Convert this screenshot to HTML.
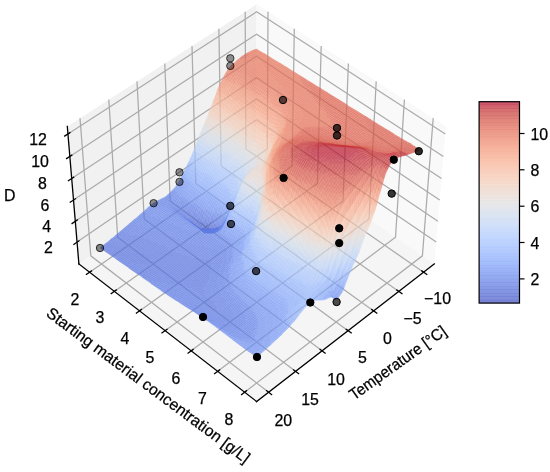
<!DOCTYPE html>
<html><head><meta charset="utf-8"><title>D surface</title><style>html,body{margin:0;padding:0;background:#fff}body{width:550px;height:472px;overflow:hidden;position:relative}</style></head><body>
<svg width="550" height="472" viewBox="0 0 550 472" style="display:block;position:absolute;left:0;top:0">
<rect width="550" height="472" fill="#fff"/>
<polygon points="78.9,264 256.6,141.5 256.6,4.3 67.3,126.4" fill="#f1f1f1"/>
<polygon points="256.6,141.5 434.3,264 445.9,126.4 256.6,4.3" fill="#f9f9f9"/>
<polygon points="78.9,264 256.6,401.5 434.3,264 256.6,141.5" fill="#f5f5f5"/>
<g stroke="#ababab" stroke-width="1.25" fill="none" stroke-linecap="butt">
<polyline points="89.6,272.3 267.3,148.9 268,11.7"/>
<polyline points="114.3,291.4 292.1,166 294.3,28.7"/>
<polyline points="139.5,310.9 317.4,183.4 321.2,46"/>
<polyline points="165.1,330.7 343,201.1 348.4,63.5"/>
<polyline points="191.1,350.8 369,219 376.2,81.4"/>
<polyline points="217.7,371.3 395.5,237.2 404.4,99.6"/>
<polyline points="244.6,392.2 422.4,255.8 433.2,118.1"/>
<polyline points="268.6,392.2 90.8,255.8 80,118.1"/>
<polyline points="295.5,371.3 117.7,237.2 108.8,99.6"/>
<polyline points="322.1,350.8 144.2,219 137,81.4"/>
<polyline points="348.1,330.7 170.2,201.1 164.8,63.5"/>
<polyline points="373.7,310.9 195.8,183.4 192,46"/>
<polyline points="398.9,291.4 221.1,166 218.9,28.7"/>
<polyline points="423.6,272.3 245.9,148.9 245.2,11.7"/>
<polyline points="77,242.1 256.6,119.7 436.2,242.1"/>
<polyline points="75.3,221.3 256.6,98.9 437.9,221.3"/>
<polyline points="73.5,200.1 256.6,77.7 439.7,200.1"/>
<polyline points="71.7,178.5 256.6,56.2 441.5,178.5"/>
<polyline points="69.8,156.4 256.6,34.2 443.4,156.4"/>
<polyline points="67.9,133.9 256.6,11.8 445.3,133.9"/>
</g>
<g transform="scale(.5)" fill-opacity="0.63" stroke="none">
<path fill="#e36b54" d="M513 98l3 2 3 2 4 2 3 2 3 1 3 2 3 2 3 2 3 2 3 2 3 2 4 2 3 2 3 2 3 1 3 2 3 2 3 2 4 2 3 2 3 2 3 2 3 2 3 2 4 2 3 2 3 2 3 2 3 2 4 2 3 2 3 2 3 2-3 2-3-2-3-2-4-2-3-2-3-2-3-2-3-2-3-2-4-2-3-2-3-2-3-2-3-1-3-2-4-2-3-2-3-2-3-2-3-2-3-2-4-2-3-2-3-2-3-2-3-2-3-2-3-2-3-2-3-2-4-2-3-2-3-2-3-2z"/>
<path fill="#df634e" d="M617 162l3 2 4 2 3 2 3 2 3 2 4 2 3 2 3 2 3 2 3 2 4 2 3 2 3 2 3 2 4 2 3 2 3 2 4 2 3 2 3 2 3 2 4 2 3 3 3 2 3 2 4 2 3 2 3 2 4 2 3 2 3 2 4 2 3 2 3 2-3 3-3-3-3-2-4-2-3-2-3-2-4-2-3-2-3-2-4-2-3-2-3-2-3-2-4-2-3-2-3-2-4-2-3-2-3-2-3-2-4-2-3-3-3-2-3-2-4-2-3-2-3-2-3-2-4-2-3-2-3-2-3-2-3-2-4-2-3-2z"/>
<path fill="#da5a49" d="M728 231l4 2 3 2 3 2 4 2 3 3 3 2 4 2 3 2 3 2 4 2 3 2 3 2 4 2 3 2 4 2 3 2 3 2 4 3 3 2 4 2 3 2 3 2 4 2 3 2-3 2-3-2-4-2-3-2-3-2-4-2-3-2-4-2-3-2-3-2-4-2-3-2-4-3-3-2-3-2-4-2-3-2-3-2-4-2-3-2-3-2-4-2-3-2-3-2-4-2z"/>
<path fill="#d65244" d="M809 281l4 2 3 2 4 1 3 3 3 2 4 2 3 3 4 2 3 3-3 1-3-3-4-2-3-3-4-2-3-2-3-2-4-1-3-2-4-2z"/>
<path fill="#e36b54" d="M510 99l3 2 3 2 3 2 4 2 3 2 3 2 3 2 3 2 3 2 3 2 3 2 3 2 4 2 3 2 3 2 3 2 3 2 3 2 4 2 3 2 3 1 3 2 3 2 3 2 4 2 3 2 3 2 3 2 3 2 3 2 4 2 3 2 3 2 3 2-3 3-3-2-3-2-3-2-4-2-3-2-3-2-3-2-3-2-4-2-3-2-3-2-3-2-3-2-3-2-4-2-3-2-3-2-3-2-3-2-3-2-3-2-4-2-3-2-3-2-3-2-3-2-3-2-3-2-3-2-4-2-3-2-3-3-3-2-3-2z"/>
<path fill="#df634e" d="M617 166l4 2 3 2 3 2 3 2 3 2 4 2 3 2 3 2 3 2 4 2 3 2 3 2 3 3 4 2 3 2 3 2 3 2 4 2 3 2 3 2 4 2 3 2 3 2 3 2 4 2 3 2 3 2 4 2 3 2 3 2 4 2 3 2 3 3 4 2-4 2-3-2-3-2-4-2-3-2-3-2-4-2-3-3-3-2-3-2-4-2-3-2-3-2-4-2-3-2-3-2-3-2-4-2-3-2-3-2-4-2-3-2-3-2-3-2-4-2-3-2-3-2-3-2-3-2-4-2-3-2-3-2-3-2-4-2-3-2z"/>
<path fill="#da5a49" d="M729 236l3 2 3 2 4 2 3 2 3 2 4 2 3 2 3 2 4 2 3 2 3 2 4 3 3 2 4 2 3 2 3 2 4 2 3 2 4 2 3 2 3 2 4 2 3 2-3 2-3-2-4-2-3-2-4-2-3-2-3-2-4-2-3-2-4-2-3-2-3-2-4-2-3-2-3-2-4-2-3-2-4-3-3-2-3-2-4-2-3-2-3-2-4-2z"/>
<path fill="#d65244" d="M806 283l4 2 3 2 4 1 3 2 3 2 4 2 3 3 4 2 3 3-3 1-3-3-4-2-3-2-4-2-3-2-4-2-3-1-3-2-4-2z"/>
<path fill="#e36b54" d="M507 100l3 2 3 2 3 3 3 2 4 2 3 2 3 2 3 2 3 2 3 2 3 2 3 2 4 2 3 2 3 2 3 2 3 2 3 2 3 2 4 2 3 2 3 2 3 2 3 2 3 2 4 2 3 2 3 2 3 2 3 2 4 2 3 2 3 2 3 2 3 2 4 2-3 2-4-2-3-2-3-2-3-2-4-2-3-2-3-2-3-2-3-2-3-2-4-2-3-2-3-2-3-2-3-2-4-2-3-2-3-2-3-2-3-2-3-2-3-2-4-2-3-2-3-2-3-2-3-1-3-2-3-2-3-3-4-2-3-2-3-3-3-2-3-2-3-3z"/>
<path fill="#df634e" d="M621 173l3 2 3 2 3 2 4 2 3 2 3 2 3 2 3 2 4 2 3 2 3 2 3 2 4 2 3 2 3 2 4 2 3 2 3 2 3 2 4 2 3 2 3 2 4 2 3 2 3 2 3 3 4 2 3 2 3 2 4 2 3 2 3 2 4 2 3 2-3 3-3-3-4-2-3-2-3-2-4-2-3-2-3-2-4-2-3-2-3-2-4-2-3-2-3-2-3-2-4-2-3-2-3-3-4-2-3-2-3-2-3-2-4-2-3-2-3-2-3-2-4-2-3-2-3-2-3-2-4-2-3-2-3-2-3-2-3-2z"/>
<path fill="#da5a49" d="M732 242l3 2 4 2 3 2 3 2 4 3 3 2 4 2 3 2 3 2 4 2 3 2 3 2 4 2 3 2 4 2 3 2 3 2 4 2 3 2 4 2 3 2-3 2-3-2-4-2-3-2-4-2-3-2-4-2-3-2-3-2-4-2-3-2-3-2-4-2-3-2-4-2-3-2-3-2-4-2-3-2-3-2-4-2-3-2z"/>
<path fill="#d65244" d="M803 285l4 2 3 2 3 1 4 2 3 2 4 2 3 2 4 2 3 3-3 1-3-3-4-2-3-2-4-2-3-1-4-2-3-1-4-2-3-2z"/>
<path fill="#e36b54" d="M504 101l3 3 3 2 3 2 3 3 3 2 4 2 3 3 3 2 3 2 3 1 3 2 3 2 3 2 4 2 3 2 3 2 3 2 3 2 3 2 3 2 4 2 3 2 3 2 3 2 3 2 4 2 3 2 3 2 3 2 3 2 3 2 4 2 3 2 3 2 3 2 4 2 3 2 3 2-3 2-3-2-4-2-3-2-3-2-3-2-3-2-4-2-3-2-3-2-3-2-3-2-4-2-3-2-3-2-3-2-3-2-3-2-4-2-3-1-3-2-3-2-3-2-3-2-4-2-3-2-3-2-3-2-3-2-3-2-3-2-3-2-4-3-3-2-3-2-3-3-3-3-3-2-3-2z"/>
<path fill="#df634e" d="M624 179l3 2 3 2 4 2 3 2 3 2 3 2 4 2 3 2 3 2 3 2 4 2 3 2 3 2 3 2 4 2 3 3 3 2 4 2 3 2 3 2 3 2 4 2 3 2 3 2 4 2 3 2 3 2 4 2 3 2 3 2 4 2 3 3 3 2 4 2-3 2-4-2-3-2-4-2-3-2-3-2-3-2-4-2-3-2-3-3-4-2-3-2-3-2-4-2-3-2-3-2-4-2-3-2-3-2-3-2-4-2-3-2-3-2-3-2-4-2-3-2-3-2-4-2-3-2-3-2-3-2-3-3-4-2-3-2-3-2z"/>
<path fill="#da5a49" d="M736 249l3 2 3 2 4 2 3 2 3 2 4 2 3 2 4 2 3 2 3 2 4 2 3 2 3 2 4 2 3 2 4 2 3 2 4 2-4 2-3-2-3-2-4-1-3-2-4-2-3-2-3-2-4-2-3-2-4-2-3-2-3-2-4-2-3-2-3-3-4-2-3-2-3-2z"/>
<path fill="#d65244" d="M797 285l3 2 3 2 4 2 3 1 4 2 3 1-3 2-3-2-4-1-3-2-4-1-3-2-4-2z"/>
<path fill="#d24b40" d="M817 295l4 2 3 2 4 2 3 3-3 1-3-3-4-2-3-2-4-1z"/>
<path fill="#e36b54" d="M501 103l3 2 3 2 3 3 3 3 3 2 3 2 4 3 3 2 3 2 3 2 3 2 3 2 3 2 3 2 4 2 3 2 3 2 3 2 3 2 3 1 4 2 3 2 3 2 3 2 3 2 3 2 4 2 3 2 3 2 3 2 3 2 4 2 3 2 3 2 3 2 3 2 4 2 3 2 3 2 3 2 4 2-4 3-3-2-3-2-3-2-3-2-4-2-3-2-3-2-3-2-4-2-3-2-3-2-3-2-3-2-4-2-3-2-3-2-3-2-3-2-3-2-4-2-3-2-3-2-3-2-3-2-3-2-4-2-3-2-3-2-3-2-3-2-3-2-3-2-3-2-4-2-3-2-3-3-3-3-3-2-3-3-3-2-3-3z"/>
<path fill="#df634e" d="M631 187l3 3 3 2 3 2 3 2 4 2 3 2 3 2 4 2 3 2 3 2 3 2 4 2 3 2 3 2 3 2 4 2 3 2 3 2 4 2 3 2 3 2 4 2 3 3 3 2 4 2 3 2 3 2 3 2 4 2 3 2 4 2 3 2 3 2-3 3-3-2-4-2-3-2-3-2-4-3-3-2-3-2-4-2-3-2-3-2-4-2-3-2-3-2-3-2-4-2-3-2-3-2-4-2-3-3-3-2-4-2-3-2-3-2-3-2-4-2-3-2-3-2-3-2-4-2-3-2-3-2-3-2-4-2z"/>
<path fill="#da5a49" d="M739 255l4 2 3 3 3 2 4 2 3 2 3 2 4 2 3 2 4 2 3 2 3 2 4 2 3 2 4 1 3 2 3 2-3 2-3-2-3-1-4-2-3-2-4-2-3-2-4-2-3-2-3-2-4-2-3-2-3-2-4-2-3-2-4-2-3-2z"/>
<path fill="#d65244" d="M793 287l4 2 3 2 4 1 3 2 4 1-3 2-4-1-3-2-4-1-3-2-4-2z"/>
<path fill="#d24b40" d="M811 295l3 2 4 1 3 2 4 2 3 3-3 1-3-3-4-2-3-2-4-1-3-1z"/>
<path fill="#e36b54" d="M498 104l3 3 3 2 3 3 3 2 3 3 3 3 3 2-3 2-3-2-3-3-3-2-3-3-3-3-3-3-3-2z"/>
<path fill="#e67259" d="M519 122l4 2 3 2 3 2-3 3-3-2-4-2-3-3z"/>
<path fill="#e36b54" d="M529 128l3 2 3 2 3 2 3 2 3 2 4 2 3 2 3 2 3 2 3 2 3 2 4 2 3 2 3 2 3 2 3 2 3 2 4 2 3 2 3 2 3 2 3 2 4 2 3 2 3 2 3 2 4 2 3 2 3 2 3 2 3 2 4 2 3 2 3 2-3 3-3-3-3-2-4-2-3-2-3-2-3-2-4-2-3-2-3-2-3-2-3-2-4-2-3-2-3-2-3-2-3-2-4-2-3-2-3-2-3-2-3-2-4-2-3-2-3-2-3-2-3-2-3-2-3-2-4-2-3-2-3-1-3-2-3-2-3-2z"/>
<path fill="#df634e" d="M637 196l3 2 4 2 3 2 3 2 3 2 4 2 3 2 3 2 3 2 4 2 3 2 3 3 4 2 3 2 3 2 4 2 3 2 3 2 3 2 4 2 3 2 3 2 4 2 3 2 3 2 4 3 3 2 3 2 4 2 3 2 3 2 4 2-3 3-4-3-3-2-3-2-4-2-3-2-3-2-4-2-3-2-3-2-4-2-3-2-3-2-4-3-3-2-3-2-4-2-3-2-3-2-4-2-3-2-3-2-3-2-4-2-3-2-3-2-3-2-4-2-3-2-3-2-3-2-4-2-3-2z"/>
<path fill="#da5a49" d="M743 262l3 2 4 2 3 2 3 2 4 2 3 2 3 2 4 2 3 2 4 2 3 2 4 2 3 1-3 3-4-2-3-2-3-2-4-2-3-2-4-2-3-2-3-1-4-2-3-2-4-2-3-2-3-2z"/>
<path fill="#d65244" d="M787 287l3 2 4 2 3 2 4 1 3 2-3 1-3-1-4-1-3-2-4-2-3-1z"/>
<path fill="#d24b40" d="M804 296l4 1 3 1 4 1 3 2 4 2 3 3-3 1-3-2-4-3-3-1-4-2-3-1-4-1z"/>
<path fill="#e36b54" d="M495 106l3 2 3 3 3 3 3 3 3 2 3 3-3 2-3-2-3-3-3-3-3-3-3-3-4-2z"/>
<path fill="#e67259" d="M513 122l3 2 3 3 4 2 3 2 3 2 3 2 3 2-3 2-3-2-3-2-3-2-4-2-3-2-3-2-3-3z"/>
<path fill="#e36b54" d="M535 137l3 1 3 2 4 2 3 2 3 2 3 2 3 2 3 2 3 2 4 2 3 2 3 2 3 2 3 2 4 2 3 2 3 2 3 2 3 2 4 2 3 2 3 2 3 2 3 2 4 2 3 2 3 2 3 2 4 2 3 2 3 3 3 2 4 2 3 2-3 2-4-2-3-2-3-2-3-2-4-2-3-2-3-2-3-2-4-2-3-2-3-2-3-2-3-2-4-2-3-2-3-2-3-2-3-2-4-2-3-2-3-2-3-2-3-2-3-2-4-2-3-2-3-2-3-2-3-2-3-2-4-2-3-2-3-2-3-2z"/>
<path fill="#df634e" d="M644 205l3 2 3 2 4 2 3 2 3 2 3 2 4 2 3 2 3 2 3 2 4 2 3 2 3 2 4 2 3 2 3 2 4 3 3 2 3 2 4 2 3 2 3 2 4 2 3 2 3 2 4 2 3 2 3 2 4 3 3 2 3 2-3 2-3-2-3-2-4-2-3-2-4-2-3-2-3-2-4-2-3-2-3-3-4-2-3-2-3-2-4-2-3-2-3-2-3-2-4-2-3-2-3-2-4-2-3-2-3-2-4-3-3-2-3-2-3-2-4-2-3-2-3-2-3-2z"/>
<path fill="#da5a49" d="M746 269l4 2 3 2 4 2 3 1 3 2 4 2 3 2 4 2 3 2 3 2 4 2-3 1-4-1-3-2-4-2-3-2-3-2-4-1-3-2-4-2-3-2-3-2-4-2z"/>
<path fill="#d65244" d="M784 290l3 1 4 2 3 2 4 1 3 1-3 2-3-1-4-2-3-1-4-2-3-2z"/>
<path fill="#d24b40" d="M801 297l4 1 3 1 4 2 3 1-3 2-3-2-4-1-3-1-4-1z"/>
<path fill="#cc403a" d="M815 302l4 3 3 2-3 1-3-2-4-2z"/>
<path fill="#df634e" d="M491 108l4 2-4 2-3-2z"/>
<path fill="#e36b54" d="M495 110l3 3 3 3 3 3 3 3 3 2-3 3-3-3-3-3-3-3-3-3-4-3z"/>
<path fill="#e67259" d="M510 124l3 3 3 2 3 2 4 2 3 2 3 2 3 2 3 2 3 2 3 2-3 2-3-2-3-2-3-2-3-2-3-2-4-1-3-2-3-2-3-3-3-2z"/>
<path fill="#e36b54" d="M541 145l4 2 3 2 3 2 3 2 3 2 3 2 4 2 3 2 3 2 3 2 3 2 3 2 4 2 3 2 3 2 3 2 3 2 4 2 3 2 3 2 3 2 3 2 4 2 3 2 3 2 3 2 4 2 3 2 3 2 3 2 4 2 3 2 3 2 3 2-3 3-3-2-3-2-4-2-3-2-3-2-3-2-3-2-4-3-3-2-3-2-3-2-4-2-3-2-3-2-3-2-4-2-3-2-3-2-3-2-3-2-4-2-3-2-3-2-3-2-3-2-3-2-4-2-3-2-3-2-3-2-3-2-3-2-4-2-3-2z"/>
<path fill="#df634e" d="M650 213l4 2 3 2 3 2 3 2 4 3 3 2 3 2 4 2 3 2 3 2 4 2 3 2 3 2 3 2 4 2 3 2 3 2 4 2 3 3 3 2 4 2 3 2 3 2 4 2 3 2 4 2 3 2 3 2 4 2-3 2-4-1-3-2-4-2-3-3-3-2-4-2-3-2-3-2-4-2-3-2-3-2-4-2-3-2-3-2-4-2-3-2-3-2-4-3-3-2-3-2-3-2-4-2-3-2-3-2-4-2-3-2-3-2-3-2-4-2z"/>
<path fill="#da5a49" d="M747 273l3 2 3 2 4 2 3 2 4 1 3 2 3 2 4 2 3 2-3 2-3-2-4-2-3-2-3-1-4-2-3-2-4-2-3-2-3-2z"/>
<path fill="#d65244" d="M777 290l4 1 3 2 4 2 3 1 4 2-4 1-3-1-3-1-4-2-3-2-4-1z"/>
<path fill="#d24b40" d="M795 298l3 1 4 1 3 1-3 1-4-1-3-1-4-1z"/>
<path fill="#cc403a" d="M805 301l4 1 3 2 4 2 3 2-3 1-4-2-3-2-3-2-4-1z"/>
<path fill="#df634e" d="M488 110l3 2-3 2-3-2z"/>
<path fill="#e36b54" d="M491 112l4 3 3 3 3 3 3 3-3 2-3-3-4-3-3-3-3-3z"/>
<path fill="#e67259" d="M504 124l3 3 3 2 3 3 3 2 3 2 4 1 3 2 3 2 3 2 3 2 3 2 3 2 4 2 3 2 3 2-3 3-3-2-4-2-3-2-3-2-3-2-3-2-3-2-3-2-4-2-3-2-3-2-3-2-3-2-3-3-3-3z"/>
<path fill="#e36b54" d="M551 155l3 2 3 2 3 2 4 2 3 2 3 2 3 2 3 2 3 2 4 2 3 2 3 2 3 2 3 2 4 2 3 2 3 2 3 2 4 2 3 2 3 2 3 2 4 3 3 2 3 2 3 2 3 2 4 2 3 2 3 2 4 2 3 2 3 2 3 2-3 3-3-2-3-3-4-2-3-2-3-2-3-2-4-2-3-2-3-2-3-2-4-2-3-2-3-2-3-2-4-2-3-2-3-2-3-2-3-2-4-2-3-2-3-2-3-2-3-2-4-2-3-2-3-2-3-2-3-2-4-2-3-2-3-2-3-2-3-2z"/>
<path fill="#df634e" d="M660 224l4 2 3 2 3 2 4 2 3 2 3 2 3 2 4 3 3 2 3 2 4 2 3 2 3 2 4 2 3 2 3 2 4 2 3 2 3 2 4 2 3 2 3 3 4 2 3 2 4 1-4 3-3-2-3-2-4-2-3-2-3-2-4-2-3-2-3-2-4-2-3-2-4-2-3-3-3-2-3-2-4-2-3-2-3-2-4-2-3-2-3-2-4-2-3-2-3-2-3-2-4-2z"/>
<path fill="#da5a49" d="M744 275l3 2 3 2 4 2 3 2 4 2 3 1 3 2 4 2-3 2-4-2-3-2-4-1-3-2-3-2-4-2-3-1-4-2z"/>
<path fill="#d65244" d="M771 290l3 2 4 1 3 2 4 2 3 1 3 1-3 2-3-1-4-2-3-1-3-2-4-2-3-1z"/>
<path fill="#d24b40" d="M791 299l4 1 3 1-3 1-3 0-4-1z"/>
<path fill="#cc403a" d="M798 301l4 1 4 1 3 2 3 2 4 2-3 1-4-2-3-2-4-2-3-1-4-1z"/>
<path fill="#e36b54" d="M485 112l3 2 3 3 3 3 4 3 3 3-3 2-4-3-3-3-3-3-3-2-3-3z"/>
<path fill="#e67259" d="M501 126l3 3 3 3 3 2 3 2 3 2 3 2 4 2 3 2 3 2 3 2 3 2 3 2 3 2 4 2 3 2 3 2 3 2 3 2-3 2-3-2-3-2-3-2-4-2-3-2-3-2-3-2-3-2-3-2-3-2-4-2-3-2-3-2-3-2-3-2-3-2-3-3-3-3z"/>
<path fill="#e36b54" d="M557 164l3 2 4 2 3 2 3 2 3 2 3 2 4 2 3 2 3 2 3 2 3 2 4 2 3 2 3 2 3 2 3 2 4 2 3 2 3 2 3 2 4 2 3 2 3 2 3 2 4 2 3 2 3 2 3 2 4 2 3 3 3 2 4 2 3 2 3 2-3 2-3-2-4-2-3-2-3-2-3-2-4-2-3-2-3-2-4-2-3-2-3-2-3-2-4-2-3-2-3-2-3-3-3-2-4-2-3-2-3-2-3-2-4-2-3-2-3-2-3-2-3-2-4-2-3-2-3-2-3-2-3-2-4-2-3-2-3-2z"/>
<path fill="#df634e" d="M667 233l3 2 4 2 3 2 3 2 4 2 3 2 3 2 4 2 3 2 3 2 3 3 4 2 3 2 4 2 3 2 3 2 4 2 3 2 3 2 4 2 3 2 3 2-3 2-3-2-3-2-4-2-3-2-4-2-3-2-3-2-4-2-3-2-3-2-4-2-3-2-3-2-4-2-3-2-3-2-4-2-3-2-3-3-3-2-4-2-3-2z"/>
<path fill="#da5a49" d="M740 278l4 2 3 1 4 2 3 2 3 2 4 1 3 2-3 2-3-2-4-2-3-1-4-2-3-1-3-2-4-2z"/>
<path fill="#d65244" d="M764 290l4 2 3 1 4 2 3 2 3 1 4 2-3 1-4-1-3-2-4-1-3-2-3-2-4-1z"/>
<path fill="#d24b40" d="M785 300l3 1 4 1 3 0-3 2-3-1-4-1-3-1z"/>
<path fill="#cc403a" d="M795 302l4 1 3 1 4 2-3 1-4-2-3-1-4 0z"/>
<path fill="#c73635" d="M806 306l3 2 4 2-3 1-4-2-3-2z"/>
<path fill="#e36b54" d="M482 114l3 3 3 2 3 3 3 3 4 3-4 3-3-3-3-3-3-3-3-3-3-2z"/>
<path fill="#e67259" d="M498 128l3 3 3 3 3 2 3 2 3 2 3 2 3 2 4 2 3 2 3 2 3 2 3 2 3 2 3 2 4 2 3 2 3 2 3 2 3 2 3 2 4 2-3 3-4-2-3-2-3-2-3-2-3-2-3-2-4-2-3-2-3-2-3-2-3-2-3-2-4-2-3-2-3-2-3-2-3-2-3-2-3-2-3-3-4-3z"/>
<path fill="#e36b54" d="M564 172l3 2 3 2 3 2 3 2 4 2 3 2 3 2 3 2 3 2 4 2 3 2 3 2 3 2 4 2 3 2 3 3 3 2 3 2 4 2 3 2 3 2 3 2 4 2 3 2 3 2 4 2 3 2 3 2 3 2 4 2 3 2 3 2 4 2-4 3-3-2-3-2-3-2-4-2-3-2-3-2-4-2-3-3-3-2-3-2-4-2-3-2-3-2-3-2-4-2-3-2-3-2-3-2-4-2-3-2-3-2-3-2-3-2-4-2-3-2-3-2-3-2-4-2-3-2-3-2-3-2-3-2-3-2z"/>
<path fill="#df634e" d="M671 239l3 2 3 3 3 2 4 2 3 2 3 2 4 2 3 2 3 2 4 2 3 2 3 2 4 2 3 2 3 2 4 2 3 2 4 2 3 2 3 2-3 2-3-2-4-1-3-2-3-2-4-2-3-2-3-2-4-2-3-2-3-2-4-3-3-2-3-2-4-2-3-2-3-2-4-2-3-2-3-2-4-2z"/>
<path fill="#da5a49" d="M737 280l4 2 3 2 3 1 4 2 3 1 4 2-3 2-4-2-3-1-4-2-3-1-3-2-4-2z"/>
<path fill="#d65244" d="M758 290l3 2 4 1 3 2 3 2 4 1 3 2-3 1-3-1-4-2-3-1-4-2-3-2-3-1z"/>
<path fill="#d24b40" d="M778 300l4 1 3 1 4 1-3 1-4 0-3-2-4-1z"/>
<path fill="#cc403a" d="M789 303l3 1 4 0 3 1-3 1-3-1-4 0-3-1z"/>
<path fill="#c73635" d="M799 305l4 2 3 2 4 2-3 1-4-3-3-1-4-2z"/>
<path fill="#e36b54" d="M479 117l3 2 3 3 3 3 3 3-3 2-3-3-3-3-3-3-3-2z"/>
<path fill="#e67259" d="M491 128l3 3 4 3 3 3 3 2 3 2 3 2 3 2 3 2 3 2 4 2 3 2 3 2 3 2 3 2 3 2 4 2 3 2 3 2 3 2 3 2 3 2 4 2 3 2 3 2 3 2-3 2-3-2-3-2-4-2-3-2-3-2-3-2-3-2-3-2-4-2-3-2-3-2-3-2-3-2-3-2-4-2-3-2-3-2-3-2-3-2-3-2-3-2-3-2-4-3-3-3-3-3z"/>
<path fill="#e36b54" d="M570 181l3 2 3 2 4 2 3 2 3 2 3 2 4 2 3 2 3 2 3 2 3 2 4 2 3 2 3 2 3 2 4 2 3 2 3 2 3 2 4 2 3 2 3 2 3 3 4 2 3 2 3 2 4 2 3 2 3 2 3 2 4 2 3 2-3 2-3-2-4-2-3-2-3-2-4-2-3-2-3-2-3-2-4-2-3-2-3-2-4-2-3-2-3-2-3-2-4-2-3-2-3-2-3-3-4-2-3-2-3-2-3-2-3-2-4-2-3-2-3-2-3-2-3-2-4-2-3-2-3-2z"/>
<path fill="#df634e" d="M674 246l3 2 4 2 3 2 3 2 4 2 3 2 3 2 4 3 3 2 3 2 4 2 3 2 3 2 4 2 3 2 3 2 4 1 3 2-3 2-3-1-4-2-3-2-4-2-3-2-3-2-4-2-3-2-3-2-4-2-3-2-3-2-4-2-3-2-3-2-4-2-3-2-3-3z"/>
<path fill="#da5a49" d="M734 282l4 2 3 2 3 1 4 2 3 1-3 2-3-2-4-1-3-2-4-1-3-2z"/>
<path fill="#d65244" d="M751 290l4 2 3 1 3 2 4 2 3 1 4 2-3 1-4-1-3-2-4-2-3-1-3-2-4-1z"/>
<path fill="#d24b40" d="M772 300l3 1 4 1 3 2 4 0-3 1-4 0-3-1-4-2-3-1z"/>
<path fill="#cc403a" d="M786 304l3 1 4 0-3 1-4 0-3-1z"/>
<path fill="#c73635" d="M793 305l3 1 4 2 3 1 4 3-3 0-4-2-3-2-4-1-3-1z"/>
<path fill="#e36b54" d="M476 119l3 2 3 3 3 3 3 3-3 3-3-3-3-3-3-3-3-2z"/>
<path fill="#e67259" d="M488 130l3 3 3 3 4 3 3 2 3 2 3 2 3 2 3 2 3 2 3 2 4 2 3 2 3 2 3 2 3 2 3 2 4 2 3 2 3 2 3 2 3 2 3 2 4 2 3 2 3 2 3 2 3 2 4 2 3 2-3 3-4-2-3-2-3-2-3-2-3-2-4-2-3-2-3-2-3-2-3-2-3-2-4-2-3-2-3-2-3-2-3-2-3-2-4-2-3-2-3-2-3-2-3-2-3-2-3-2-3-2-4-3-3-2-3-3-3-3z"/>
<path fill="#e36b54" d="M580 191l3 2 3 2 3 2 4 2 3 2 3 2 3 2 3 2 4 2 3 3 3 2 3 2 4 2 3 2 3 2 3 2 4 2 3 2 3 2 4 2 3 2 3 2 3 2 4 2 3 2 3 2 4 2 3 2 3 3 3 2-3 2-3-2-3-2-4-2-3-2-3-2-3-2-4-2-3-2-3-2-4-2-3-3-3-2-3-2-4-2-3-2-3-2-3-2-4-2-3-2-3-2-3-2-4-2-3-2-3-2-3-2-4-2-3-2-3-2-3-2-3-2z"/>
<path fill="#df634e" d="M677 253l4 2 3 2 3 2 4 2 3 2 3 2 4 2 3 2 3 2 4 2 3 2 3 2 4 2 3 2 4 2 3 1-3 2-4-1-3-2-3-2-4-2-3-2-3-2-4-2-3-2-3-2-4-2-3-2-3-2-4-2-3-2-3-2-4-2z"/>
<path fill="#da5a49" d="M731 284l3 2 4 1 3 2 4 1-3 2-4-2-3-1-4-1-3-2z"/>
<path fill="#d65244" d="M745 290l3 2 4 1 3 2 3 1 4 2 3 2-3 1-3-2-4-1-3-2-4-1-3-2-3-1z"/>
<path fill="#d24b40" d="M765 300l4 1 3 1 4 2 3 1-3 1-3-1-4-1-3-1-4-2z"/>
<path fill="#cc403a" d="M779 305l4 0 3 1-3 1-3 0-4-1z"/>
<path fill="#c73635" d="M786 306l4 0 3 1 4 1-3 1-4-1-3 0-4-1z"/>
<path fill="#c32e31" d="M797 308l3 2 4 2-3 1-4-2-3-2z"/>
<path fill="#e36b54" d="M473 122l3 2 3 3 3 3 3 3-3 2-3-3-3-3-3-2-3-2z"/>
<path fill="#e67259" d="M485 133l3 3 3 3 3 2 4 3 3 2 3 2 3 2 3 2 3 2 3 2 3 2 4 2 3 2 3 2 3 2 3 2 3 2 4 2 3 2 3 2 3 2 3 2 3 2 4 2 3 2 3 2 3 2 3 2 4 2 3 2 3 2 3 2 3 2 4 2-3 3-4-2-3-2-3-2-3-2-4-2-3-1-3-2-3-2-3-2-4-2-3-2-3-2-3-2-3-2-3-2-4-2-3-2-3-2-3-3-3-2-3-2-4-2-3-2-3-2-3-2-3-3-3-2-3-2-3-2-4-2-3-2-3-3-3-3-3-3z"/>
<path fill="#e36b54" d="M593 204l3 2 3 2 3 2 4 2 3 2 3 2 3 2 4 2 3 2 3 2 3 2 4 2 3 2 3 2 3 3 4 2 3 2 3 2 4 2 3 2 3 2 3 2 4 2 3 2 3 2-3 2-3-2-3-2-4-2-3-2-3-2-4-2-3-2-3-2-3-2-4-2-3-2-3-2-4-2-3-2-3-2-3-2-4-2-3-2-3-2-3-2-4-2-3-2-3-2-3-2-3-2z"/>
<path fill="#df634e" d="M674 255l4 2 3 2 3 2 4 2 3 2 3 2 4 2 3 2 3 2 4 2 3 2 3 2 4 2 3 2 3 2-3 1-3-1-3-2-4-2-3-2-3-2-4-2-3-2-4-2-3-2-3-2-4-2-3-2-3-2-4-2-3-2z"/>
<path fill="#da5a49" d="M724 285l4 1 3 2 4 1 3 1-3 2-3-2-4-1-3-1-4-2z"/>
<path fill="#d65244" d="M738 290l4 2 3 1 3 2 4 1 3 2-3 0-3-1-4-2-3-1-4-1-3-1z"/>
<path fill="#d24b40" d="M755 298l4 1 3 2 4 2 3 1 4 1-3 1-4-2-3-1-4-1-3-2-4-2z"/>
<path fill="#cc403a" d="M773 305l3 1 4 1 3 0-3 1-3 0-4-1-3-1z"/>
<path fill="#c73635" d="M783 307l4 1 3 0-3 1-3-1-4 0z"/>
<path fill="#c32e31" d="M790 308l4 1 3 2 4 2-3 1-4-2-3-2-4-1z"/>
<path fill="#e36b54" d="M470 125l3 2 3 2 3 3-3 3-3-3-4-2-3-3z"/>
<path fill="#e67259" d="M479 132l3 3 3 3 3 3 3 3 3 2 4 2 3 2 3 2 3 2 3 3 3 2-3 3-3-2-3-2-3-2-3-3-4-2-3-2-3-3-3-2-3-3-3-3-3-3z"/>
<path fill="#e97a5f" d="M513 159l3 2 3 2 4 2 3 2 3 2 3 3 3 2 3 2 4 2 3 2 3 2 3 2 3 2-3 4-3-2-3-2-3-2-4-2-3-2-3-2-3-3-3-2-3-2-4-2-3-2-3-3-3-2z"/>
<path fill="#e67259" d="M554 186l3 2 4 2 3 2 3 2 3 2 3 1 4 2 3 2 3 2 3 2 4 2 3 2 3 2 3 2-3 2-3-1-3-2-4-2-3-2-3-1-3-2-4-2-3-2-3-2-3-1-3-2-4-2-3-2-3-2z"/>
<path fill="#e36b54" d="M599 213l3 2 4 2 3 2 3 2 3 2 4 2 3 2 3 2 3 2 4 2 3 2 3 2 4 2 3 2 3 2 3 2 4 2 3 2 3 2 4 2 3 2 3 2-3 2-3-2-4-2-3-2-3-2-3-2-4-2-3-2-3-2-4-2-3-2-3-2-3-2-4-2-3-2-3-2-3-2-4-2-3-2-3-2-3-2-4-2-3-2z"/>
<path fill="#df634e" d="M671 257l3 2 4 2 3 2 3 2 4 2 3 2 3 2 4 2 3 2 4 2 3 2 3 2 4 2 3 2-3 1-4-1-3-2-3-2-4-2-3-2-3-2-4-2-3-2-3-2-4-2-3-2-3-2-4-2-3-2z"/>
<path fill="#da5a49" d="M718 285l3 1 4 2 3 1 4 1-3 1-4-1-3-1-4-1-3-2z"/>
<path fill="#d65244" d="M732 290l3 2 3 1 4 1 3 1-3 1-3-1-4-1-3-1-3-2z"/>
<path fill="#d24b40" d="M745 295l4 2 3 1 4 2 3 2 4 1-4 1-3-1-3-2-4-2-3-1-4-2z"/>
<path fill="#cc403a" d="M763 303l3 1 4 2 3 1 4 1-4 1-3-1-4-1-3-2-4-1z"/>
<path fill="#c73635" d="M777 308l3 0 4 0-3 2-4-1-4 0z"/>
<path fill="#c32e31" d="M784 308l3 1 4 1 3 2 4 2-3 1-4-2-3-1-4-2-3 0z"/>
<path fill="#e36b54" d="M466 127l3 3 4 2-4 3-3-2-3-3z"/>
<path fill="#e67259" d="M473 132l3 3 3 3 3 3 3 3 3 2-3 4-3-3-3-3-3-3-3-3-4-3z"/>
<path fill="#e97a5f" d="M488 146l3 3 3 2 4 2 3 3 3 2 3 2 3 2 3 2 3 3 3 2 4 2 3 2 3 2 3 3 3 2 3 2 4 2 3 2 3 2 3 2 3 2 3 2 4 2 3 2 3 1 3 2 3 2-3 4-3-2-3-1-3-2-3-2-4-2-3-2-3-2-3-2-3-2-4-2-3-2-3-2-3-2-3-2-3-3-4-2-3-2-3-2-3-3-3-2-3-2-3-2-3-3-4-2-3-2-3-3-3-2z"/>
<path fill="#e67259" d="M573 203l4 2 3 2 3 1 3 2 4 2 3 2 3 1 3 2 4 2-4 3-3-2-3-1-3-2-4-2-3-1-3-2-3-1-3-2-4-2z"/>
<path fill="#e36b54" d="M603 219l3 2 3 2 3 2 4 2 3 2 3 2 3 2 4 2 3 2 3 2 3 2 4 2 3 2 3 2 4 2 3 2 3 2 3 2 4 2-3 2-4-2-3-2-3-2-4-2-3-2-3-2-3-2-4-2-3-2-3-2-4-2-3-2-3-2-3-2-4-1-3-2-3-2-3-2-4-2z"/>
<path fill="#df634e" d="M665 257l3 2 3 2 4 2 3 2 3 2 4 2 3 2 3 2 4 2 3 2 3 2 4 2 3 2 3 2-3 1-3-2-3-1-4-2-3-2-3-2-4-2-3-2-3-2-4-2-3-2-3-2-4-2-3-2-3-2z"/>
<path fill="#da5a49" d="M711 285l4 1 3 2 4 1 3 1-3 1-3-1-4-1-3-1-4-2z"/>
<path fill="#d65244" d="M725 290l4 1 3 2 3 1-3 0-3-1-4-1-3-1z"/>
<path fill="#d24b40" d="M735 294l4 1 3 1 4 2 3 1 4 2 3 2-3 0-3-1-4-2-3-2-4-1-3-2-4-1z"/>
<path fill="#cc403a" d="M756 303l3 1 4 1 3 2 4 1-3 1-4-1-3-2-4-1-3-2z"/>
<path fill="#c73635" d="M770 308l3 1 4 0-3 1-4 0-3-1z"/>
<path fill="#c32e31" d="M777 309l4 1 3 0 4 2 3 1-3 2-4-2-3-1-4-1-3-1z"/>
<path fill="#bb1b2c" d="M791 313l4 2-4 2-3-2z"/>
<path fill="#e67259" d="M463 130l3 3 3 2 4 3 3 3 3 3-3 3-3-3-4-3-3-3-3-2-3-3z"/>
<path fill="#e97a5f" d="M479 144l3 3 3 3 3 2 3 3 3 2 4 2 3 3 3 2 3 2 3 2-3 5-3-3-3-2-3-2-4-3-3-2-3-2-3-3-3-3-3-3-3-3z"/>
<path fill="#ec8165" d="M510 168l3 3 3 2 3 2 4 2 3 3 3 2 3 2 3 2 3 2 4 2 3 2 3 2 3 2 3 2 4 2-4 5-3-2-3-2-3-2-3-2-4-2-3-2-3-2-3-2-3-2-3-3-4-2-3-2-3-3-3-2-3-2z"/>
<path fill="#e97a5f" d="M558 200l3 2 3 2 3 1 3 2 4 2 3 2 3 1 3 2-3 4-3-2-3-1-4-2-3-1-3-2-3-2-3-1-4-2z"/>
<path fill="#e67259" d="M583 214l3 1 4 2 3 2 3 1 3 2 4 2 3 2-3 2-4-1-3-2-3-2-3-1-4-1-3-2-3-1z"/>
<path fill="#e36b54" d="M606 226l3 2 3 2 4 1 3 2 3 2 3 2 4 2 3 2 3 2 4 2 3 2 3 2 3 2 4 2 3 2 3 2-3 2-3-2-3-2-4-2-3-2-3-2-4-2-3-2-3-2-3-2-4-2-3-1-3-2-4-2-3-2-3-2-3-2z"/>
<path fill="#df634e" d="M658 257l4 2 3 2 3 2 4 2 3 2 3 2 4 2 3 2 3 2 4 2 3 2 3 2 4 2-3 1-4-2-3-1-4-2-3-2-3-2-4-2-3-2-3-2-4-2-3-2-3-2-4-2-3-2z"/>
<path fill="#da5a49" d="M702 283l3 1 3 2 4 2 3 1 4 1-4 1-3-1-3-1-4-2-3-1-3-2z"/>
<path fill="#d65244" d="M719 290l3 1 3 1 4 1-3 1-4-1-3-1-4-1z"/>
<path fill="#d24b40" d="M729 293l3 1 4 1 3 2-3 0-3-1-4-1-3-1z"/>
<path fill="#cc403a" d="M739 297l4 1 3 2 4 2 3 1 3 2 4 1 3 2-3 0-3-1-4-1-3-2-4-2-3-2-3-2-4-1z"/>
<path fill="#c73635" d="M763 308l4 1 3 1 4 0-3 2-4-1-3-1-4-2z"/>
<path fill="#c32e31" d="M774 310l3 1 4 1 3 1-3 2-3-1-4-1-3-1z"/>
<path fill="#bb1b2c" d="M784 313l4 2 3 2-3 2-3-2-4-2z"/>
<path fill="#e67259" d="M460 133l3 3 3 2 3 3 4 3-4 4-3-3-3-3-3-3-3-2z"/>
<path fill="#e97a5f" d="M473 144l3 3 3 3 3 3 3 3-3 4-3-3-3-3-3-3-4-3z"/>
<path fill="#ec8165" d="M485 156l3 3 3 2 3 2 4 3 3 2 3 2 3 3 3 2 3 2 3 3 3 2 4 2 3 3-3 5-4-3-3-2-3-2-3-3-3-2-3-3-3-2-3-2-4-3-3-2-3-3-3-2-3-3z"/>
<path fill="#f08a6c" d="M526 187l3 2 3 2 3 2 3 2 4 2-4 5-3-2-3-2-3-2-3-2-3-2z"/>
<path fill="#ec8165" d="M542 197l3 2 3 2 3 2 3 2 4 2 3 1 3 2 3 2 3 1 4 2-4 5-3-2-3-1-3-2-3-2-4-1-3-2-3-2-3-2-3-2-4-2z"/>
<path fill="#e97a5f" d="M574 215l3 1 3 2 3 1 3 2-3 3-3-1-3-1-3-1-4-1z"/>
<path fill="#e67259" d="M586 221l4 1 3 1 3 2 3 2 4 1 3 2-3 3-3-2-4-1-3-2-3-1-3-1-4-2z"/>
<path fill="#e36b54" d="M606 230l3 2 3 2 4 2 3 2 3 1 4 2 3 2 3 2 3 2 4 2 3 2 3 2 4 2 3 2-3 2-4-2-3-2-3-2-3-2-4-2-3-2-3-2-4-1-3-2-3-2-3-2-4-2-3-2-3-1z"/>
<path fill="#df634e" d="M652 257l3 2 3 2 4 2 3 2 3 2 4 2 3 2 3 2 4 2 3 2 3 2 4 2-3 1-4-2-3-2-3-2-4-1-3-2-3-2-4-2-3-2-3-2-4-2-3-2-3-2z"/>
<path fill="#da5a49" d="M692 281l3 1 4 2 3 2 3 1 4 2 3 1-3 1-3-1-4-1-3-2-4-2-3-1-3-2z"/>
<path fill="#d65244" d="M712 290l3 1 4 1 3 1-3 0-3 0-4-1-3-1z"/>
<path fill="#d24b40" d="M722 293l4 1 3 1 4 1-3 0-4-1-3-1-4-1z"/>
<path fill="#cc403a" d="M733 296l3 1 4 1 3 2 3 2 4 2 3 2-3 0-3-1-4-2-3-2-3-2-4-2-3-1z"/>
<path fill="#c73635" d="M753 306l4 1 3 1 4 2 3 1-3 1-3-1-4-2-3-1-4-2z"/>
<path fill="#c32e31" d="M767 311l4 1 3 1 4 1 3 1-3 3-3-2-4-1-3-1-4-2z"/>
<path fill="#bb1b2c" d="M781 315l4 2 3 2-3 3-3-2-4-2z"/>
<path fill="#e97a5f" d="M457 137l3 2 3 3 3 3 3 3 4 3-4 4-3-3-3-3-3-3-3-2-3-2z"/>
<path fill="#ec8165" d="M473 151l3 3 3 3 3 3 3 3 3 2 3 3-3 5-3-3-3-2-3-3-3-3-3-3-4-4z"/>
<path fill="#f08a6c" d="M491 168l3 2 4 3 3 2 3 2 3 3 3 2 3 3 3 2 3 2 4 3 3 2 3 2 3 2 3 2 3 2 4 2 3 2 3 2 3 2 3 2 4 1 3 2 3 2-3 5-3-2-4-1-3-2-3-2-3-1-3-2-4-2-3-2-3-2-3-2-3-2-3-3-4-2-3-2-3-3-3-2-3-3-3-2-3-2-3-3-4-2-3-3-3-2z"/>
<path fill="#ec8165" d="M564 217l3 1 3 2 4 1 3 1-3 5-4-1-3-1-3-2-3-1z"/>
<path fill="#e97a5f" d="M577 222l3 1 3 1 4 2 3 1-3 3-4-1-3 0-3-1-3-1z"/>
<path fill="#e67259" d="M590 227l3 1 3 2 4 1 3 2 3 1-3 3-3-2-4-1-3-1-3-2-3-1z"/>
<path fill="#e36b54" d="M606 234l3 2 4 2 3 2 3 2 3 2 4 1 3 2 3 2 4 2 3 2 3 2-3 2-3-2-4-2-3-2-3-2-3-2-4-1-3-2-3-2-4-2-3-2-3-1z"/>
<path fill="#df634e" d="M642 255l3 2 4 2 3 2 3 2 4 2 3 2 3 2 4 2 3 2 3 2 4 1 3 2-3 2-4-2-3-2-3-2-4-2-3-2-3-1-4-2-3-2-3-2-3-2-4-2-3-2z"/>
<path fill="#da5a49" d="M682 278l3 2 4 2 3 2 3 1 4 2 3 2 4 1-4 1-3-2-3-1-4-2-3-1-3-2-4-2-3-1z"/>
<path fill="#d65244" d="M706 290l3 1 3 1 4 1-3 0-4-1-3 0-4-1z"/>
<path fill="#d24b40" d="M716 293l3 0 4 1-3 0-4 0-3-1z"/>
<path fill="#cc403a" d="M723 294l3 1 4 1 3 1-3 0-3-1-4-1-3-1z"/>
<path fill="#c73635" d="M733 297l4 2 3 2 3 2 4 2 3 1 4 2 3 1 4 2-3 1-4-2-3-1-4-2-3-2-4-2-3-2-4-2-3-2z"/>
<path fill="#c32e31" d="M761 311l3 1 4 2 3 1 4 1 3 2 4 2 3 2-3 4-4-2-3-2-4-2-3-2-4-2-3-2-3-2z"/>
<path fill="#e97a5f" d="M454 142l3 2 3 2 3 3-3 5-3-2-3-3-3-2z"/>
<path fill="#ec8165" d="M463 149l3 3 3 3 4 4-4 5-3-4-3-3-3-3z"/>
<path fill="#f08a6c" d="M473 159l3 3 3 3 3 3 3 2 3 3 3 2 3 3-3 5-3-3-3-2-3-3-3-2-3-3-3-3-4-3z"/>
<path fill="#f18f71" d="M494 178l4 2 3 3 3 2 3 2 3 3 3 2 3 3 3 2 4 2 3 3 3 2 3 2 3 2 3 2 4 2 3 2 3 1 3 2 3 2 4 1 3 2-3 6-4-2-3-1-3-2-3-2-3-1-4-2-3-2-3-2-3-2-3-2-3-2-4-3-3-2-3-3-3-2-3-2-3-3-3-2-3-3-4-2-3-3z"/>
<path fill="#f08a6c" d="M561 222l3 1 3 2 3 1 4 1-4 5-3-1-3-1-3-1-3-1z"/>
<path fill="#ec8165" d="M574 227l3 1 3 1-3 4-3-1-4 0z"/>
<path fill="#e97a5f" d="M580 229l3 0 4 1 3 1-3 4-4-1-3-1-3 0z"/>
<path fill="#e67259" d="M590 231l3 2 3 1 4 1 3 2-3 2-4-1-3-1-3-1-3-1z"/>
<path fill="#e36b54" d="M603 237l3 1 3 2 4 2 3 2 3 2 4 1 3 2 3 2 3 2 4 2-3 2-4-2-3-2-3-2-4-2-3-1-3-2-3-2-4-2-3-1-3-2z"/>
<path fill="#df634e" d="M636 255l3 2 3 2 4 2 3 2 3 2 3 2 4 2 3 1 3 2 4 2 3 2-3 1-3-1-4-2-3-2-3-2-4-2-3-2-3-2-4-1-3-2-3-2-3-2z"/>
<path fill="#da5a49" d="M672 276l3 2 4 2 3 1 4 2 3 2 3 1 4 2-3 1-4-2-3-1-4-2-3-2-3-1-4-2-3-2z"/>
<path fill="#d65244" d="M696 288l3 1 3 2 4 1-3 0-4-1-3-1-3-1z"/>
<path fill="#d24b40" d="M706 292l3 0 4 1 3 1-3 0-3-1-4 0-3-1z"/>
<path fill="#cc403a" d="M716 294l4 0 3 1-3 0-3-1-4 0z"/>
<path fill="#c73635" d="M723 295l4 1 3 1 3 2 4 2 3 2 4 2 3 2 4 2-3 1-4-2-3-2-4-2-3-3-4-2-3-2-3-1-4-1z"/>
<path fill="#c32e31" d="M751 309l3 1 4 2 3 2 3 2 4 2 3 2 4 2 3 2 4 2-4 6-3-2-4-3-3-2-3-3-4-3-3-3-4-2-3-2-3-2z"/>
<path fill="#ec8165" d="M451 147l3 2 3 3 3 2 3 3-3 6-3-3-3-3-3-2-3-2z"/>
<path fill="#f08a6c" d="M463 157l3 3 3 4 4 3-4 5-3-3-3-3-3-3z"/>
<path fill="#f18f71" d="M473 167l3 3 3 3 3 2 3 3 3 2 3 3 3 3-3 5-3-2-3-3-3-2-3-3-3-3-3-3-4-3z"/>
<path fill="#f39577" d="M494 186l4 2 3 3 3 2 3 3 3 2 3 2 3 3 3 2 4 3 3 2 3 2 3 2 3 2 3 2 4 2 3 1 3 2 3 2 3 1-3 6-3-1-3-2-3-1-4-2-3-2-3-2-3-2-3-2-3-2-4-2-3-3-3-2-3-2-3-3-3-2-3-3-4-3-3-2-3-3z"/>
<path fill="#f18f71" d="M554 226l4 2 3 1 3 1 3 1-3 6-3-1-3-1-4-1-3-2z"/>
<path fill="#f08a6c" d="M567 231l3 1 4 0-3 5-4 0-3 0z"/>
<path fill="#ec8165" d="M574 232l3 1 3 0-3 5-3 0-3-1z"/>
<path fill="#e97a5f" d="M580 233l3 1 4 1 3 1-3 3-3-1-4 0-3 0z"/>
<path fill="#e67259" d="M590 236l3 1 3 1 4 1 3 2-3 2-3-1-4-1-3-1-3-1z"/>
<path fill="#e36b54" d="M603 241l3 1 4 2 3 2 3 2 3 1 4 2 3 2 3 2-3 2-3-2-4-2-3-2-3-1-3-2-4-2-3-1-3-2z"/>
<path fill="#df634e" d="M629 255l4 2 3 2 3 2 3 2 4 1 3 2 3 2 4 2 3 2 3 2-3 1-3-2-3-2-4-1-3-2-3-2-4-2-3-2-3-2-4-1-3-2z"/>
<path fill="#da5a49" d="M662 274l4 2 3 1 3 2 4 2 3 1 3 2 4 2-3 0-4-1-3-2-3-1-4-2-3-1-3-2-4-2z"/>
<path fill="#d65244" d="M686 286l3 1 4 2 3 1 3 1-3 0-3-1-4-1-3-1-3-2z"/>
<path fill="#d24b40" d="M699 291l4 1 3 1-3 0-3-1-4-1z"/>
<path fill="#cc403a" d="M706 293l4 0 3 1 4 0-3 0-4 0-3-1-4 0z"/>
<path fill="#c73635" d="M717 294l3 1 4 1 3 1-3 0-4-1-3-1-3-1z"/>
<path fill="#c32e31" d="M727 297l3 2 4 2 3 3 4 2 3 2 4 2 3 2 3 2 4 2 3 3-3 3-3-4-4-3-3-2-4-2-3-2-3-2-4-3-3-2-4-3-3-2z"/>
<path fill="#c73635" d="M761 319l4 3 3 3 3 2 4 3 3 2-3 7-4-2-3-3-3-4-4-4-3-4z"/>
<path fill="#f08a6c" d="M448 153l3 2 3 2 3 3 3 3-3 5-3-2-3-3-3-2-3-2z"/>
<path fill="#f18f71" d="M460 163l3 3 3 3 3 3 4 3-4 6-3-3-3-3-3-4-3-3z"/>
<path fill="#f39577" d="M473 175l3 3 3 3 3 3 3 2 3 3 3 2-3 6-3-2-3-3-3-3-3-2-3-3-4-3z"/>
<path fill="#f59d7e" d="M491 191l3 3 3 2 4 3 3 3 3 2 3 3 3 2 3 2 3 3 4 2 3 2 3 2 3 2 3 2 3 2 4 2 3 1 3 2 3 1 3 2-3 6-3-1-3-2-3-1-4-2-3-2-3-1-3-2-3-2-3-2-4-3-3-2-3-2-3-3-3-2-3-3-3-2-4-3-3-2-3-3-3-3z"/>
<path fill="#f39577" d="M554 234l4 1 3 1 3 1-3 6-3-1-4-1-3-1z"/>
<path fill="#f18f71" d="M564 237l3 0 4 0-4 6-3 0-3 0z"/>
<path fill="#f08a6c" d="M571 237l3 1 3 0-3 4-3 1-4 0z"/>
<path fill="#ec8165" d="M577 238l3 0-3 4-3 0z"/>
<path fill="#e97a5f" d="M580 238l4 0 3 1-3 3-4 0-3 0z"/>
<path fill="#e67259" d="M587 239l3 1 3 1 4 1 3 1-3 3-4-2-3-1-3-1-3 0z"/>
<path fill="#e36b54" d="M600 243l3 2 3 1 4 2 3 2 3 1 3 2 4 2-3 2-4-2-3-2-3-1-4-2-3-2-3-1-3-1z"/>
<path fill="#df634e" d="M623 255l3 2 3 2 4 1 3 2 3 2 4 2 3 2 3 2 4 1-4 2-3-2-3-2-4-2-3-1-3-2-4-2-3-2-3-1-3-2z"/>
<path fill="#da5a49" d="M653 271l3 2 3 2 4 2 3 2 3 1 4 2 3 1-3 1-4-1-3-2-3-1-4-2-3-2-3-2-4-1z"/>
<path fill="#d65244" d="M676 283l3 2 4 1 3 2 3 1-3 1-3-2-3-1-4-1-3-2z"/>
<path fill="#d24b40" d="M689 289l4 1 3 1 4 1-3 0-4 0-3-1-4-1z"/>
<path fill="#cc403a" d="M700 292l3 1 4 0-3 0-4 0-3-1z"/>
<path fill="#c73635" d="M707 293l3 1 4 0 3 1-3 0-4-1-3 0-3-1z"/>
<path fill="#c32e31" d="M717 295l3 1 4 1 3 2 4 3 3 2 4 3 3 2 3 2 4 2 3 2 4 3 3 4-3 3-4-4-3-4-3-3-4-2-3-2-4-2-3-3-3-3-4-2-3-3-4-1-3-1z"/>
<path fill="#c73635" d="M758 322l3 4-3 5-3-6z"/>
<path fill="#cc403a" d="M761 326l4 4 3 4-3 6-4-4-3-5z"/>
<path fill="#d24b40" d="M768 334l3 3 4 2-4 8-3-3-3-4z"/>
<path fill="#f18f71" d="M445 159l3 2 3 2 3 3 3 2-3 6-3-2-3-3-3-2-4-2z"/>
<path fill="#f39577" d="M457 168l3 3 3 4 3 3 3 3-3 6-3-3-3-3-3-4-3-3z"/>
<path fill="#f59d7e" d="M469 181l4 3 3 3 3 2 3 3 3 3-3 6-3-3-3-2-3-3-4-3-3-3z"/>
<path fill="#f6a283" d="M485 195l3 2 3 3 3 3 3 2 4 3 3 2 3 3 3 2-3 7-3-2-3-3-4-3-3-2-3-3-3-3-3-2-3-3z"/>
<path fill="#f7a889" d="M510 215l3 3 3 2 3 2 4 3 3 2 3 2 3 2-3 6-3-1-3-2-4-3-3-2-3-2-3-2-3-3z"/>
<path fill="#f6a283" d="M532 231l3 1 3 2 4 2 3 1 3 2 3 1-3 7-3-1-3-2-4-1-3-2-3-2-3-2z"/>
<path fill="#f59d7e" d="M551 240l3 1 4 1 3 1-3 6-4 0-3-1-3-1z"/>
<path fill="#f39577" d="M561 243l3 0 3 0-3 6-3 0-3 0z"/>
<path fill="#f18f71" d="M567 243l4 0-4 5-3 1z"/>
<path fill="#f08a6c" d="M571 243l3-1 3 0-3 4-3 1-4 1z"/>
<path fill="#ec8165" d="M577 242l3 0-3 4-3 0z"/>
<path fill="#e97a5f" d="M580 242l4 0 3 0-3 3-4 0-3 1z"/>
<path fill="#e67259" d="M587 242l3 1 3 1 4 2-4 2-3-1-3-1-3-1z"/>
<path fill="#e36b54" d="M597 246l3 1 3 1 3 2 4 2 3 1 3 2-3 2-3-2-3-1-4-2-3-1-3-2-4-1z"/>
<path fill="#df634e" d="M616 255l4 2 3 2 3 1 3 2 4 2 3 2 3 1 4 2-3 2-4-2-3-2-3-2-4-1-3-2-3-2-4-1-3-2z"/>
<path fill="#da5a49" d="M643 269l3 2 3 2 4 1 3 2 3 2 4 2 3 1-3 1-3-2-4-1-3-2-3-1-4-2-3-2-3-1z"/>
<path fill="#d65244" d="M666 281l3 2 4 1 3 2 4 1-4 0-3-1-3-1-4-2-3-1z"/>
<path fill="#d24b40" d="M680 287l3 1 3 2 4 1 3 1-3 0-3-1-4-1-3-1-4-2z"/>
<path fill="#cc403a" d="M693 292l4 0 3 1-3 0-3-1-4 0z"/>
<path fill="#c73635" d="M700 293l4 0 3 1-3-1-4 0-3 0z"/>
<path fill="#c32e31" d="M707 294l3 0 4 1 3 1-3 0-3-1-4-1-3-1z"/>
<path fill="#bb1b2c" d="M717 296l4 1 3 3 4 2 3 3-3 1-3-3-4-3-3-2-4-2z"/>
<path fill="#c32e31" d="M731 305l3 3 4 2 3 2 4 2 3 3 3 4-3 3-3-5-3-3-4-2-3-3-4-2-3-3z"/>
<path fill="#c73635" d="M751 321l4 4-4 5-3-6z"/>
<path fill="#cc403a" d="M755 325l3 6-3 6-4-7z"/>
<path fill="#d24b40" d="M758 331l3 5 4 4-4 10-3-6-3-7z"/>
<path fill="#d65244" d="M765 340l3 4 3 3-3 11-4-3-3-5z"/>
<path fill="#f39577" d="M441 165l4 2 3 2 3 3 3 2-3 7-3-3-3-2-4-2-3-2z"/>
<path fill="#f59d7e" d="M454 174l3 3 3 4 3 3-3 6-3-3-3-3-3-3z"/>
<path fill="#f6a283" d="M463 184l3 3 3 3 4 3 3 3 3 2-3 7-3-3-4-3-3-2-3-3-3-4z"/>
<path fill="#f7a889" d="M479 198l3 3 3 3 3 2 3 3 3 3 3 2 4 3-3 7-4-3-3-2-3-3-3-3-3-2-3-3-3-3z"/>
<path fill="#f7ad90" d="M501 217l3 3 3 2 3 3 3 2 3 2 3 2 4 3 3 2 3 1 3 2 3 2 3 2-3 7-3-2-3-2-3-1-3-2-4-2-3-2-3-3-3-2-3-2-3-3-3-2-3-3z"/>
<path fill="#f7a889" d="M538 243l4 1 3 2 3 1 3 1-3 7-3-1-3-1-4-2-3-1z"/>
<path fill="#f6a283" d="M551 248l3 1 4 0-4 7-3 0-3-1z"/>
<path fill="#f59d7e" d="M558 249l3 0 3 0-3 6-3 1-4 0z"/>
<path fill="#f39577" d="M564 249l3-1-3 6-3 1z"/>
<path fill="#f18f71" d="M567 248l4-1-4 5-3 2z"/>
<path fill="#f08a6c" d="M571 247l3-1-3 5-4 1z"/>
<path fill="#ec8165" d="M574 246l3 0 3-1-3 4-3 0-3 2z"/>
<path fill="#e97a5f" d="M580 245l4 0-4 4-3 0z"/>
<path fill="#e67259" d="M584 245l3 1 3 1 3 1-3 3-3-2-3 0-4 0z"/>
<path fill="#e36b54" d="M593 248l4 1 3 2 3 1 4 2 3 1 3 2-3 2-3-2-4-1-3-2-3-1-3-1-4-1z"/>
<path fill="#df634e" d="M613 257l3 2 4 1 3 2 3 2 4 1 3 2-3 2-4-2-3-2-3-1-3-2-4-2-3-1z"/>
<path fill="#da5a49" d="M633 267l3 2 4 2 3 1 3 2 4 2 3 1 3 2-3 1-3-2-4-1-3-2-3-2-4-1-3-2-3-1z"/>
<path fill="#d65244" d="M656 279l4 1 3 2 3 1 4 2 3 1-3 1-3-2-4-1-3-1-4-2-3-1z"/>
<path fill="#d24b40" d="M673 286l3 1 4 2 3 1-3 0-3-1-4-1-3-1z"/>
<path fill="#cc403a" d="M683 290l4 1 3 1 4 0-4 0-3 0-3-1-4-1z"/>
<path fill="#c73635" d="M694 292l3 1 3 0-3 0-3-1-4 0z"/>
<path fill="#c32e31" d="M700 293l4 0 3 1-3 0-3-1-4 0z"/>
<path fill="#bb1b2c" d="M707 294l4 1 3 1 4 2 3 2 4 3 3 3 3 3 4 2-3 2-4-3-3-3-4-3-3-3-3-3-4-2-3-1-4-1z"/>
<path fill="#c32e31" d="M735 311l3 3 4 2 3 3 3 5-3 4-3-6-4-4-3-2-3-3z"/>
<path fill="#c73635" d="M748 324l3 6-3 6-3-8z"/>
<path fill="#d24b40" d="M751 330l4 7-4 8-3-9z"/>
<path fill="#d65244" d="M755 337l3 7-4 10-3-9z"/>
<path fill="#da5a49" d="M758 344l3 6-4 12-3-8z"/>
<path fill="#df634e" d="M761 350l3 5-3 13-4-6z"/>
<path fill="#e36b54" d="M764 355l4 3-4 14-3-4z"/>
<path fill="#f6a283" d="M438 172l3 2 4 2 3 2 3 3 3 3 3 3 3 3-3 7-3-3-3-3-3-3-3-2-4-2-3-2-3-2z"/>
<path fill="#f7a889" d="M460 190l3 4 3 3 3 2 4 3-4 7-3-3-3-3-3-3-3-3z"/>
<path fill="#f7ad90" d="M473 202l3 3 3 3 3 3 3 2 3 3 3 3-3 7-3-3-3-3-3-2-3-3-3-3-4-3z"/>
<path fill="#f7b396" d="M491 219l3 2 4 3 3 3 3 2 3 3 3 2 3 2 3 3 3 2 4 2 3 2 3 1 3 2 3 2 3 1 4 2-4 7-3-1-3-2-3-2-3-1-3-2-4-2-3-2-3-2-3-2-3-3-3-2-3-3-3-2-4-3-3-3-3-2z"/>
<path fill="#f7ad90" d="M542 253l3 1 3 1 3 1-3 7-3-1-3-1-4-1z"/>
<path fill="#f7a889" d="M551 256l3 0 4 0-4 6-3 1-3 0z"/>
<path fill="#f6a283" d="M558 256l3-1-3 6-4 1z"/>
<path fill="#f59d7e" d="M561 255l3-1-3 5-3 2z"/>
<path fill="#f39577" d="M564 254l3-2-3 5-3 2z"/>
<path fill="#f18f71" d="M567 252l4-1-4 4-3 2z"/>
<path fill="#f08a6c" d="M571 251l3-2-3 5-4 1z"/>
<path fill="#ec8165" d="M574 249l3 0-3 3-3 2z"/>
<path fill="#e97a5f" d="M577 249l3 0 4 0-3 3-4 0-3 0z"/>
<path fill="#e67259" d="M584 249l3 0 3 2 4 1-4 2-3-1-3-1-3 0z"/>
<path fill="#e36b54" d="M594 252l3 1 3 1 3 2 4 1-3 3-4-2-3-1-3-1-4-2z"/>
<path fill="#df634e" d="M607 257l3 2 3 1 4 2 3 2 3 1 3 2-3 1-3-1-3-2-4-1-3-2-3-1-3-1z"/>
<path fill="#da5a49" d="M626 267l4 2 3 1 3 2 4 1 3 2 3 2-3 1-3-2-3-1-4-2-3-1-3-2-4-2z"/>
<path fill="#d65244" d="M646 277l4 1 3 2 3 1 4 2 3 1-3 1-3-2-4-1-3-1-3-2-4-1z"/>
<path fill="#d24b40" d="M663 284l4 1 3 2 3 1-3 0-3-1-4-1-3-1z"/>
<path fill="#cc403a" d="M673 288l4 1 3 1 4 1-4 0-3-1-3-1-4-1z"/>
<path fill="#c73635" d="M684 291l3 1 3 0 4 0-3 0-4 0-3-1-4 0z"/>
<path fill="#c32e31" d="M694 292l3 1 4 0-3 0-4 0-3-1z"/>
<path fill="#bb1b2c" d="M701 293l3 1 4 1 3 1-3 0-3-1-4-1-3-1z"/>
<path fill="#b50927" d="M711 296l4 2 3 3-3 1-3-3-4-3z"/>
<path fill="#bb1b2c" d="M718 301l3 3 4 3 3 3 4 3 3 3-3 2-4-3-3-3-3-3-4-4-3-3z"/>
<path fill="#c32e31" d="M735 316l3 2 4 4 3 6-3 4-3-8-4-3-3-3z"/>
<path fill="#cc403a" d="M745 328l3 8-3 6-3-10z"/>
<path fill="#d65244" d="M748 336l3 9-3 8-3-11z"/>
<path fill="#df634e" d="M751 345l3 9-3 10-3-11z"/>
<path fill="#e67259" d="M754 354l3 8-3 12-3-10z"/>
<path fill="#e97a5f" d="M757 362l4 6-4 13-3-7z"/>
<path fill="#ec8165" d="M761 368l3 4-4 13-3-4z"/>
<path fill="#f7a889" d="M435 180l3 2 3 2 4 2 3 2 3 3 3 3-3 7-3-3-3-2-4-2-3-2-3-2-3-2z"/>
<path fill="#f7ad90" d="M454 194l3 3 3 3 3 3 3 3-3 7-3-3-3-3-3-3-3-3z"/>
<path fill="#f7b396" d="M466 206l3 3 4 3 3 3 3 3 3 2-3 8-3-3-3-3-4-3-3-3-3-3z"/>
<path fill="#f7b89c" d="M482 220l3 3 3 3 3 2 3 3 4 3 3 2 3 3-3 8-3-3-4-3-3-2-3-3-3-3-3-3-3-2z"/>
<path fill="#f6bda2" d="M504 239l3 2 3 3 3 2 3 2 3 2 4 2 3 2-3 7-4-1-3-2-3-2-3-2-3-3-3-2-3-2z"/>
<path fill="#f7b89c" d="M526 254l3 1 3 2 3 2 3 1 4 1-4 8-3-2-3-1-3-1-3-2-3-2z"/>
<path fill="#f7b396" d="M542 261l3 1 3 1 3 0-3 7-3 0-3 0-4-1z"/>
<path fill="#f7ad90" d="M551 263l3-1-3 7-3 1z"/>
<path fill="#f7a889" d="M554 262l4-1-3 7-4 1z"/>
<path fill="#f6a283" d="M558 261l3-2-3 7-3 2z"/>
<path fill="#f59d7e" d="M561 259l3-2-3 6-3 3z"/>
<path fill="#f39577" d="M564 257l3-2-3 6-3 2z"/>
<path fill="#f18f71" d="M567 255l4-1-3 4-4 3z"/>
<path fill="#f08a6c" d="M571 254l3-2-3 5-3 1z"/>
<path fill="#ec8165" d="M574 252l3 0-3 4-3 1z"/>
<path fill="#e97a5f" d="M577 252l4 0-4 3-3 1z"/>
<path fill="#e67259" d="M581 252l3 0 3 1 3 1-3 3-3-1-3 0-4-1z"/>
<path fill="#e36b54" d="M590 254l4 2 3 1 3 1 4 2-4 2-3-1-3-1-4-2-3-1z"/>
<path fill="#df634e" d="M604 260l3 1 3 1 3 2 4 1 3 2-3 1-3-1-4-1-3-2-3-1-4-1z"/>
<path fill="#da5a49" d="M620 267l3 1 4 2 3 2 3 1 4 2-4 1-3-2-3-1-4-2-3-1-3-2z"/>
<path fill="#d65244" d="M637 275l3 1 3 2 4 1 3 2 3 1-3 1-3-2-4-1-3-1-3-2-4-1z"/>
<path fill="#d24b40" d="M653 282l4 1 3 2 3 1 4 1-3 0-4-1-3-1-3-1-4-1z"/>
<path fill="#cc403a" d="M667 287l3 1 4 1 3 1-3 0-3-1-4-1-3-1z"/>
<path fill="#c73635" d="M677 290l3 1 4 0-3 0-4 0-3-1z"/>
<path fill="#c32e31" d="M684 291l3 1 4 0-3 0-4 0-3-1z"/>
<path fill="#bb1b2c" d="M691 292l3 1 4 0 3 1-3 0-3-1-4 0-3-1z"/>
<path fill="#b50927" d="M701 294l4 1 3 1 4 3 3 3 3 3-3 2-3-4-4-3-3-3-3-1-4-2z"/>
<path fill="#bb1b2c" d="M718 305l4 4 3 3 3 3 4 3-3 2-4-3-3-3-4-4-3-3z"/>
<path fill="#c32e31" d="M732 318l3 3 4 3-4 3-3-4-3-3z"/>
<path fill="#c73635" d="M739 324l3 8-4 4-3-9z"/>
<path fill="#d24b40" d="M742 332l3 10-4 5-3-11z"/>
<path fill="#da5a49" d="M745 342l3 11-4 8-3-14z"/>
<path fill="#e67259" d="M748 353l3 11-4 10-3-13z"/>
<path fill="#ec8165" d="M751 364l3 10-4 11-3-11z"/>
<path fill="#f18f71" d="M754 374l3 7-4 13-3-9z"/>
<path fill="#f39577" d="M757 381l3 4-4 13-3-4z"/>
<path fill="#f7b396" d="M432 188l3 2 3 2 3 2 4 2 3 2 3 3 3 3 3 3-3 8-3-3-3-3-3-3-3-3-4-2-3-1-3-2-3-2z"/>
<path fill="#f7b89c" d="M457 207l3 3 3 3 3 3 3 3 4 3-4 8-3-3-3-3-3-3-3-3-3-3z"/>
<path fill="#f6bda2" d="M473 222l3 3 3 3 3 2 3 3 3 3-3 8-3-3-3-3-3-3-3-3-4-2z"/>
<path fill="#f5c1a9" d="M488 236l3 3 3 2 4 3 3 3 3 2 3 2 3 3 3 2 3 2 3 2 4 1 3 2 3 2 3 1-3 8-3-2-3-1-4-2-3-2-3-2-3-2-3-2-3-2-3-2-3-3-4-2-3-3-3-3-3-2z"/>
<path fill="#f6bda2" d="M532 266l3 1 3 2 4 1-4 7-3-1-3-1-3-1z"/>
<path fill="#f7b89c" d="M542 270l3 0 3 0-3 7-3 1-4-1z"/>
<path fill="#f7b396" d="M548 270l3-1-3 7-3 1z"/>
<path fill="#f7ad90" d="M551 269l4-1-4 7-3 1z"/>
<path fill="#f7a889" d="M555 268l3-2-3 6-4 3z"/>
<path fill="#f6a283" d="M558 266l3-3-3 7-3 2z"/>
<path fill="#f59d7e" d="M561 263l3-2-3 5-3 4z"/>
<path fill="#f18f71" d="M564 261l4-3-4 6-3 2z"/>
<path fill="#f08a6c" d="M568 258l3-1-3 4-4 3z"/>
<path fill="#ec8165" d="M571 257l3-1-3 4-3 1z"/>
<path fill="#e97a5f" d="M574 256l3-1 4 1-4 3-3 0-3 1z"/>
<path fill="#e67259" d="M581 256l3 0 3 1 3 1-3 3-3-1-3 0-4-1z"/>
<path fill="#e36b54" d="M590 258l4 2 3 1 3 1-3 2-3-1-3-1-4-1z"/>
<path fill="#df634e" d="M600 262l4 1 3 1 3 2 4 1-4 2-3-1-3-2-4-1-3-1z"/>
<path fill="#da5a49" d="M614 267l3 1 3 2 3 1 4 2 3 1-3 1-3-1-4-1-3-2-3-1-4-1z"/>
<path fill="#d65244" d="M630 274l3 2 4 1 3 2 3 1-3 1-3-2-3-1-4-1-3-2z"/>
<path fill="#d24b40" d="M643 280l4 1 3 2 4 1 3 1-3 1-4-2-3-1-3-1-4-1z"/>
<path fill="#cc403a" d="M657 285l3 1 4 1 3 1-3 0-3-1-4-1-3 0z"/>
<path fill="#c73635" d="M667 288l4 1 3 1 3 1-3 0-3-1-4-1-3-1z"/>
<path fill="#c32e31" d="M677 291l4 0 3 1-3 0-3-1-4 0z"/>
<path fill="#bb1b2c" d="M684 292l4 0 3 1-3 0-3-1-4 0z"/>
<path fill="#b50927" d="M691 293l4 0 3 1 4 2 3 1 3 3 4 3 3 4-3 1-3-3-4-4-3-3-4-2-3-1-4-1-3-1z"/>
<path fill="#bb1b2c" d="M715 307l3 3 4 4 3 3-3 3-3-4-4-3-3-5z"/>
<path fill="#c32e31" d="M725 317l4 3 3 3 3 4-3 4-3-4-4-4-3-3z"/>
<path fill="#c73635" d="M735 327l3 9-3 4-3-9z"/>
<path fill="#d24b40" d="M738 336l3 11-3 7-3-14z"/>
<path fill="#df634e" d="M741 347l3 14-3 8-3-15z"/>
<path fill="#e97a5f" d="M744 361l3 13-3 9-3-14z"/>
<path fill="#f18f71" d="M747 374l3 11-4 12-2-14z"/>
<path fill="#f59d7e" d="M750 385l3 9-4 12-3-9z"/>
<path fill="#f6a283" d="M753 394l3 4-3 13-4-5z"/>
<path fill="#f7b89c" d="M429 196l3 2 3 2 3 1 4 2 3 3 3 3 3 3-3 7-3-3-3-3-4-2-3-2-3-2-3-1-3-2z"/>
<path fill="#f6bda2" d="M451 212l3 3 3 3 3 3 3 3-3 7-3-3-3-3-3-3-3-3z"/>
<path fill="#f5c1a9" d="M463 224l3 3 3 3 4 2 3 3 3 3-3 8-3-3-4-3-3-3-3-3-3-3z"/>
<path fill="#f4c6af" d="M479 238l3 3 3 3 3 2 3 3 3 3 4 2-4 8-3-2-3-3-3-3-3-3-3-2-3-3z"/>
<path fill="#f2cab5" d="M498 254l3 3 3 2 3 2 3 2 3 2 3 2-3 8-3-2-3-2-3-2-3-2-3-2-4-3z"/>
<path fill="#f4c6af" d="M516 267l3 2 4 2 3 1 3 2 3 1 3 1-3 8-3-1-3-1-3-2-4-1-3-2-3-2z"/>
<path fill="#f5c1a9" d="M535 276l3 1 4 1-4 7-3 0-3-1z"/>
<path fill="#f6bda2" d="M542 278l3-1 3-1-3 8-3 1-4 0z"/>
<path fill="#f7b89c" d="M548 276l3-1-3 7-3 2z"/>
<path fill="#f7ad90" d="M551 275l4-3-4 7-3 3z"/>
<path fill="#f7a889" d="M555 272l3-2-3 6-4 3z"/>
<path fill="#f6a283" d="M558 270l3-4-3 7-3 3z"/>
<path fill="#f39577" d="M561 266l3-2-3 5-3 4z"/>
<path fill="#f18f71" d="M564 264l4-3-4 5-3 3z"/>
<path fill="#f08a6c" d="M568 261l3-1-3 4-4 2z"/>
<path fill="#ec8165" d="M571 260l3-1-3 4-3 1z"/>
<path fill="#e97a5f" d="M574 259l3 0 4 1-3 3-4 0-3 0z"/>
<path fill="#e67259" d="M581 260l3 0 3 1 4 1-4 3-3 0-3-1-3-1z"/>
<path fill="#e36b54" d="M591 262l3 1 3 1 3 1-3 3-3-1-3-1-4-1z"/>
<path fill="#df634e" d="M600 265l4 1 3 2 3 1-3 1-3-1-3 0-4-1z"/>
<path fill="#da5a49" d="M610 269l4 1 3 1 3 2 4 1-4 1-3-1-3-1-3-1-4-2z"/>
<path fill="#d65244" d="M624 274l3 1 3 2 4 1 3 1-3 1-4-1-3-1-3-1-4-2z"/>
<path fill="#d24b40" d="M637 279l3 2 4 1 3 1 3 1-3 1-3-1-3-1-4-1-3-2z"/>
<path fill="#cc403a" d="M650 284l4 2 3 0 4 1-4 1-3-1-3-1-4-1z"/>
<path fill="#c73635" d="M661 287l3 1 3 1-3 0-3-1-4 0z"/>
<path fill="#c32e31" d="M667 289l4 1 3 1 4 0-3 0-4 0-3-1-4-1z"/>
<path fill="#bb1b2c" d="M678 291l3 1 4 0-4 0-3 0-3-1z"/>
<path fill="#b50927" d="M685 292l3 1 3 1 4 1 3 1 4 2 3 3 4 4 3 3-3 3-4-5-3-3-3-2-4-3-3-2-4-2-3-1-4-1z"/>
<path fill="#bb1b2c" d="M712 308l3 5 4 3 3 4-3 3-4-4-3-4-3-4z"/>
<path fill="#c32e31" d="M722 320l3 3 4 4 3 4-3 3-4-4-3-4-3-3z"/>
<path fill="#cc403a" d="M732 331l3 9-3 5-3-11z"/>
<path fill="#d65244" d="M735 340l3 14-3 6-3-15z"/>
<path fill="#e36b54" d="M738 354l3 15-4 7-2-16z"/>
<path fill="#f08a6c" d="M741 369l3 14-4 10-3-17z"/>
<path fill="#f59d7e" d="M744 383l2 14-3 10-3-14z"/>
<path fill="#f7ad90" d="M746 397l3 9-3 12-3-11z"/>
<path fill="#f7b396" d="M749 406l4 5-4 13-3-6z"/>
<path fill="#f5c1a9" d="M426 204l3 2 3 1 3 2 3 2 4 2 3 3 3 3 3 3 3 3-3 8-3-3-3-3-3-3-4-3-3-2-3-2-3-2-3-1-3-2z"/>
<path fill="#f4c6af" d="M454 225l3 3 3 3 3 3 3 3-3 8-3-3-3-3-3-3-3-3z"/>
<path fill="#f2cab5" d="M466 237l3 3 4 3 3 3 3 3 3 2-3 8-3-3-3-2-4-3-3-3-3-3z"/>
<path fill="#f0cdbb" d="M482 251l3 3 3 3 3 3 3 2 4 3 3 2 3 2 3 2 3 2 3 2 3 2 3 2 4 1 3 2-3 7-4-1-3-1-3-2-3-2-3-2-3-2-3-2-3-2-4-2-3-3-3-2-3-3-3-3-3-3z"/>
<path fill="#f2cab5" d="M526 282l3 1 3 1 3 1-3 7-3 0-3-1-3-2z"/>
<path fill="#f4c6af" d="M535 285l3 0 4 0-3 7-4 1-3-1z"/>
<path fill="#f5c1a9" d="M542 285l3-1-3 7-3 1z"/>
<path fill="#f6bda2" d="M545 284l3-2-3 7-3 2z"/>
<path fill="#f7b89c" d="M548 282l3-3-3 7-3 3z"/>
<path fill="#f7ad90" d="M551 279l4-3-4 7-3 3z"/>
<path fill="#f7a889" d="M555 276l3-3-3 6-4 4z"/>
<path fill="#f59d7e" d="M558 273l3-4-3 6-3 4z"/>
<path fill="#f39577" d="M561 269l3-3-3 5-3 4z"/>
<path fill="#f18f71" d="M564 266l4-2-4 5-3 2z"/>
<path fill="#f08a6c" d="M568 264l3-1-3 5-4 1z"/>
<path fill="#ec8165" d="M571 263l3 0-3 4-3 1z"/>
<path fill="#e97a5f" d="M574 263l4 0 3 1-3 3-4 0-3 0z"/>
<path fill="#e67259" d="M581 264l3 1 3 0-3 3-3 0-3-1z"/>
<path fill="#e36b54" d="M587 265l4 1 3 1 3 1-3 2-3-1-4 0-3-1z"/>
<path fill="#df634e" d="M597 268l4 1 3 0-3 2-4 0-3-1z"/>
<path fill="#da5a49" d="M604 269l3 1 4 2 3 1 3 1-3 1-3-1-4-1-3-1-3-1z"/>
<path fill="#d65244" d="M617 274l3 1 4 2 3 1 3 1-3 1-3-1-3-1-4-1-3-2z"/>
<path fill="#d24b40" d="M630 279l4 1 3 2 4 1-4 0-3-1-3-1-4-1z"/>
<path fill="#cc403a" d="M641 283l3 1 3 1 4 1-3 0-4-1-3 0-4-2z"/>
<path fill="#c73635" d="M651 286l3 1 3 1 4 0-3 0-4 0-3-1-3-1z"/>
<path fill="#c32e31" d="M661 288l3 1 4 1-3 0-4-1-3-1z"/>
<path fill="#bb1b2c" d="M668 290l3 1 4 0 3 1-3 0-4-1-3 0-3-1z"/>
<path fill="#b50927" d="M678 292l3 0 4 1 3 1 4 2 3 2 4 3 3 2 3 3 4 5-4 2-3-4-3-4-4-2-3-2-3-3-4-2-3-2-4-1-3-1z"/>
<path fill="#bb1b2c" d="M709 311l3 4 3 4-3 3-3-4-4-5z"/>
<path fill="#c32e31" d="M715 319l4 4 3 3 3 4-3 3-3-3-4-4-3-4z"/>
<path fill="#c73635" d="M725 330l4 4-3 4-4-5z"/>
<path fill="#cc403a" d="M729 334l3 11-3 4-3-11z"/>
<path fill="#da5a49" d="M732 345l3 15-4 5-2-16z"/>
<path fill="#e67259" d="M735 360l2 16-3 7-3-18z"/>
<path fill="#f18f71" d="M737 376l3 17-3 8-3-18z"/>
<path fill="#f7a889" d="M740 393l3 14-4 10-2-16z"/>
<path fill="#f7b89c" d="M743 407l3 11-4 10-3-11z"/>
<path fill="#f6bda2" d="M746 418l3 6-4 10-3-6z"/>
<path fill="#f4c6af" d="M423 212l3 2 3 1 3 2 3 2 3 2 4 3 3 3-3 8-4-3-3-3-3-3-3-2-3-1-3-2-3-2z"/>
<path fill="#f2cab5" d="M445 227l3 3 3 3 3 3-3 8-3-3-3-3-3-3z"/>
<path fill="#f0cdbb" d="M454 236l3 3 3 3 3 3 3 3 3 3-3 8-3-3-3-3-3-3-3-3-3-3z"/>
<path fill="#edd1c2" d="M469 251l4 3 3 2 3 3 3 3 3 3 3 3-3 8-3-3-3-3-3-3-3-2-4-3-3-3z"/>
<path fill="#ead4c8" d="M488 268l3 2 3 3 4 2 3 2 3 2 3 2 3 2 3 2-3 8-3-2-3-1-3-2-3-2-4-3-3-2-3-3-3-2z"/>
<path fill="#edd1c2" d="M513 285l3 2 3 1 4 1 3 2-3 7-4-1-3-1-3-2-3-1z"/>
<path fill="#f0cdbb" d="M526 291l3 1 3 0 3 1-3 7-3 0-3-1-3-1z"/>
<path fill="#f2cab5" d="M535 293l4-1-4 7-3 1z"/>
<path fill="#f4c6af" d="M539 292l3-1-3 7-4 1z"/>
<path fill="#f5c1a9" d="M542 291l3-2-3 7-3 2z"/>
<path fill="#f6bda2" d="M545 289l3-3-3 7-3 3z"/>
<path fill="#f7b89c" d="M548 286l3-3-3 6-3 4z"/>
<path fill="#f7ad90" d="M551 283l4-4-4 6-3 4z"/>
<path fill="#f6a283" d="M555 279l3-4-3 5-4 5z"/>
<path fill="#f59d7e" d="M558 275l3-4-3 6-3 3z"/>
<path fill="#f18f71" d="M561 271l3-2-3 5-3 3z"/>
<path fill="#f08a6c" d="M564 269l4-1-3 4-4 2z"/>
<path fill="#ec8165" d="M568 268l3-1 3 0-3 4-3 0-3 1z"/>
<path fill="#e97a5f" d="M574 267l4 0 3 1-3 3-4 0-3 0z"/>
<path fill="#e67259" d="M581 268l3 0 3 1-3 3-3-1-3 0z"/>
<path fill="#e36b54" d="M587 269l4 0 3 1-3 2-3 0-4 0z"/>
<path fill="#df634e" d="M594 270l3 1 4 0-4 2-3 0-3-1z"/>
<path fill="#da5a49" d="M601 271l3 1 3 1 4 1-4 2-3-1-3-1-4-1z"/>
<path fill="#d65244" d="M611 274l3 1 3 2 4 1-4 1-3-1-3-1-4-1z"/>
<path fill="#d24b40" d="M621 278l3 1 3 1 4 1 3 1-3 1-3-1-4-1-3-1-4-1z"/>
<path fill="#cc403a" d="M634 282l3 1 4 2 3 0-3 1-3-1-4-1-3-1z"/>
<path fill="#c73635" d="M644 285l4 1 3 1 3 1-3 0-3-1-4 0-3-1z"/>
<path fill="#c32e31" d="M654 288l4 0 3 1-3 0-3 0-4-1z"/>
<path fill="#bb1b2c" d="M661 289l4 1 3 1 3 0-3 1-3-1-4-1-3-1z"/>
<path fill="#b50927" d="M671 291l4 1 3 1 4 1 3 2 4 2 3 3 3 2 4 2 3 4 3 4-3 3-3-4-3-4-4-3-3-2-4-2-3-3-3-2-4-2-3-1-4-1z"/>
<path fill="#bb1b2c" d="M705 313l4 5 3 4-3 4-3-5-4-5z"/>
<path fill="#c32e31" d="M712 322l3 4 4 4-3 3-4-3-3-4z"/>
<path fill="#c73635" d="M719 330l3 3 4 5-4 4-3-5-3-4z"/>
<path fill="#d24b40" d="M726 338l3 11-4 5-3-12z"/>
<path fill="#df634e" d="M729 349l2 16-3 5-3-16z"/>
<path fill="#e97a5f" d="M731 365l3 18-3 7-3-20z"/>
<path fill="#f59d7e" d="M734 383l3 18-4 7-2-18z"/>
<path fill="#f7b396" d="M737 401l2 16-3 8-3-17z"/>
<path fill="#f5c1a9" d="M739 417l3 11-3 9-3-12z"/>
<path fill="#f4c6af" d="M742 428l3 6-3 9-3-6z"/>
<path fill="#f0cdbb" d="M420 219l3 2 3 2 3 1 3 2 3 3 3 3 4 3 3 3-3 8-3-3-4-3-3-3-3-3-3-2-3-2-3-1-3-2z"/>
<path fill="#edd1c2" d="M445 238l3 3 3 3 3 3 3 3-3 8-3-3-3-3-3-3-3-3z"/>
<path fill="#ead4c8" d="M457 250l3 3 3 3 3 3 3 3 4 3-3 8-4-3-3-3-3-3-3-3-3-3z"/>
<path fill="#e7d7ce" d="M473 265l3 2 3 3 3 3 3 3 3 2 3 3 3 2 4 3 3 2 3 2 3 1 3 2 3 1 3 2 3 1-3 8-3-1-3-2-3-1-3-2-3-1-3-2-4-2-3-3-3-2-3-2-3-3-3-3-3-3-3-2-3-3z"/>
<path fill="#ead4c8" d="M519 297l4 1 3 1-3 7-4 0-3-1z"/>
<path fill="#edd1c2" d="M526 299l3 1 3 0-3 7-3 0-3-1z"/>
<path fill="#f0cdbb" d="M532 300l3-1 4-1-4 7-3 2-3 0z"/>
<path fill="#f2cab5" d="M539 298l3-2-3 7-4 2z"/>
<path fill="#f5c1a9" d="M542 296l3-3-3 7-3 3z"/>
<path fill="#f6bda2" d="M545 293l3-4-3 7-3 4z"/>
<path fill="#f7b396" d="M548 289l3-4-3 6-3 5z"/>
<path fill="#f7a889" d="M551 285l4-5-3 6-4 5z"/>
<path fill="#f6a283" d="M555 280l3-3-3 5-3 4z"/>
<path fill="#f39577" d="M558 277l3-3-3 5-3 3z"/>
<path fill="#f18f71" d="M561 274l4-2-4 4-3 3z"/>
<path fill="#f08a6c" d="M565 272l3-1-3 4-4 1z"/>
<path fill="#ec8165" d="M568 271l3 0-3 4-3 0z"/>
<path fill="#e97a5f" d="M571 271l3 0 4 0-4 4-3 0-3 0z"/>
<path fill="#e67259" d="M578 271l3 0 3 1-3 3-3 0-4 0z"/>
<path fill="#e36b54" d="M584 272l4 0 3 0-3 3-4 0-3 0z"/>
<path fill="#df634e" d="M591 272l3 1 3 0-3 2-3 0-3 0z"/>
<path fill="#da5a49" d="M597 273l4 1 3 1 3 1-3 1-3 0-3-1-4-1z"/>
<path fill="#d65244" d="M607 276l4 1 3 1 3 1-3 1-3-1-3-1-4-1z"/>
<path fill="#d24b40" d="M617 279l4 1 3 1 4 1-4 1-3-1-3-1-4-1z"/>
<path fill="#cc403a" d="M628 282l3 1 3 1 4 1-4 1-3-1-3-1-4-1z"/>
<path fill="#c73635" d="M638 285l3 1 3 1-3 0-3 0-4-1z"/>
<path fill="#c32e31" d="M644 287l4 0 3 1 4 1-4 0-3 0-3-1-4-1z"/>
<path fill="#bb1b2c" d="M655 289l3 0 3 1-3 1-3-1-4-1z"/>
<path fill="#b50927" d="M661 290l4 1 3 1 4 1 3 1 4 2 3 2 3 3 4 2 3 2 4 3 3 4 3 4-3 4-3-5-4-5-3-2-3-3-4-2-3-2-4-3-3-2-3-2-4-2-3-1-4 0z"/>
<path fill="#bb1b2c" d="M702 316l4 5-4 4-3-5z"/>
<path fill="#c32e31" d="M706 321l3 5 3 4-3 4-3-5-4-4z"/>
<path fill="#c73635" d="M712 330l4 3 3 4 3 5-3 4-3-5-4-4-3-3z"/>
<path fill="#d24b40" d="M722 342l3 12-3 4-3-12z"/>
<path fill="#df634e" d="M725 354l3 16-3 6-3-18z"/>
<path fill="#ec8165" d="M728 370l3 20-4 6-2-20z"/>
<path fill="#f6a283" d="M731 390l2 18-3 7-3-19z"/>
<path fill="#f7b89c" d="M733 408l3 17-4 8-2-18z"/>
<path fill="#f4c6af" d="M736 425l3 12-4 8-3-12z"/>
<path fill="#f0cdbb" d="M739 437l3 6-4 9-3-7z"/>
<path fill="#edd1c2" d="M417 227l3 2 3 1 3 2 3 2 3 3 3 3-3 8-3-3-3-3-3-2-3-2-3-2-3-1z"/>
<path fill="#ead4c8" d="M435 240l4 3 3 3 3 3 3 3-3 8-3-3-3-3-4-3-3-3z"/>
<path fill="#e7d7ce" d="M448 252l3 3 3 3 3 3 3 3-3 8-3-3-3-3-3-3-3-3z"/>
<path fill="#e3d9d3" d="M460 264l3 3 3 3 4 3 3 3 3 2-3 9-3-3-4-3-3-3-3-3-3-3z"/>
<path fill="#dfdbd9" d="M476 278l3 3 3 3 3 3 3 2 3 2 3 3 4 2 3 2 3 1 3 2 3 1-3 8-3-1-3-2-3-1-4-2-3-2-3-2-3-3-3-2-3-3-3-3-3-2z"/>
<path fill="#e3d9d3" d="M510 302l3 2 3 1 3 1-3 7-3-1-3-1-3-1z"/>
<path fill="#e7d7ce" d="M519 306l4 0 3 1-3 7-4-1-3 0z"/>
<path fill="#ead4c8" d="M526 307l3 0 3 0-3 6-3 1-3 0z"/>
<path fill="#edd1c2" d="M532 307l3-2-3 7-3 1z"/>
<path fill="#f0cdbb" d="M535 305l4-2-4 7-3 2z"/>
<path fill="#f4c6af" d="M539 303l3-3-3 6-4 4z"/>
<path fill="#f5c1a9" d="M542 300l3-4-3 6-3 4z"/>
<path fill="#f7b89c" d="M545 296l3-5-3 6-3 5z"/>
<path fill="#f7ad90" d="M548 291l4-5-4 6-3 5z"/>
<path fill="#f6a283" d="M552 286l3-4-3 5-4 5z"/>
<path fill="#f59d7e" d="M555 282l3-3-3 5-3 3z"/>
<path fill="#f18f71" d="M558 279l3-3-3 5-3 3z"/>
<path fill="#f08a6c" d="M561 276l4-1-4 4-3 2z"/>
<path fill="#ec8165" d="M565 275l3 0 3 0-3 3-3 0-4 1z"/>
<path fill="#e97a5f" d="M571 275l3 0 4 0-3 3-4 0-3 0z"/>
<path fill="#e67259" d="M578 275l3 0-3 3-3 0z"/>
<path fill="#e36b54" d="M581 275l3 0 4 0-4 2-3 0-3 1z"/>
<path fill="#df634e" d="M588 275l3 0 3 0-3 2-3 0-4 0z"/>
<path fill="#da5a49" d="M594 275l4 1 3 1-3 1-4 0-3-1z"/>
<path fill="#d65244" d="M601 277l3 0 4 1 3 1-3 1-4 0-3-1-3-1z"/>
<path fill="#d24b40" d="M611 279l3 1 4 1 3 1-3 1-4-1-3-1-3-1z"/>
<path fill="#cc403a" d="M621 282l3 1 4 1 3 1-3 1-3-1-4-1-3-1z"/>
<path fill="#c73635" d="M631 285l3 1 4 1-3 0-4 0-3-1z"/>
<path fill="#c32e31" d="M638 287l3 0 4 1 3 1-3 0-4 0-3-1-3-1z"/>
<path fill="#bb1b2c" d="M648 289l3 0 4 1-3 0-4 0-3-1z"/>
<path fill="#b50927" d="M655 290l3 1 4 0 3 1 4 2 3 2 3 2 4 3 3 2 4 2 3 3 3 2 4 5-4 4-3-5-3-4-4-2-3-3-4-2-3-2-3-3-4-2-3-2-3-2-4-1-3-1z"/>
<path fill="#bb1b2c" d="M696 315l3 5 3 5-3 4-3-5-4-5z"/>
<path fill="#c32e31" d="M702 325l4 4-4 4-3-4z"/>
<path fill="#c73635" d="M706 329l3 5 3 3 4 4-4 4-3-4-3-4-4-4z"/>
<path fill="#cc403a" d="M716 341l3 5-3 4-4-5z"/>
<path fill="#d65244" d="M719 346l3 12-3 5-3-13z"/>
<path fill="#e36b54" d="M722 358l3 18-4 5-2-18z"/>
<path fill="#f08a6c" d="M725 376l2 20-3 6-3-21z"/>
<path fill="#f7a889" d="M727 396l3 19-4 7-2-20z"/>
<path fill="#f6bda2" d="M730 415l2 18-3 7-3-18z"/>
<path fill="#f0cdbb" d="M732 433l3 12-3 8-3-13z"/>
<path fill="#ead4c8" d="M735 445l3 7-3 8-3-7z"/>
<path fill="#e7d7ce" d="M414 235l3 1 3 2 3 2 3 2 3 3 3 3 3 3 4 3-3 8-4-3-3-3-3-3-3-3-3-2-3-2-3-2-3-2z"/>
<path fill="#e3d9d3" d="M439 254l3 3 3 3 3 3-3 9-3-3-3-3-3-4z"/>
<path fill="#dfdbd9" d="M448 263l3 3 3 3 3 3 3 3 3 3-3 8-3-3-3-3-3-2-3-3-3-3z"/>
<path fill="#dadce0" d="M463 278l3 3 4 3 3 3 3 2 3 3 3 3 3 2 3 3 3 2 3 2 4 2 3 1 3 2 3 1 3 1-3 6-3-1-3-1-3-1-4-2-3-1-3-2-3-3-3-2-3-2-3-3-3-2-3-3-4-3-3-2-3-3z"/>
<path fill="#dfdbd9" d="M510 311l3 1 3 1-3 6-3-1-3-1z"/>
<path fill="#e3d9d3" d="M516 313l3 0 4 1-3 5-4 0-3 0z"/>
<path fill="#e7d7ce" d="M523 314l3 0 3-1-3 6-3 0-3 0z"/>
<path fill="#ead4c8" d="M529 313l3-1-3 6-3 1z"/>
<path fill="#edd1c2" d="M532 312l3-2-3 6-3 2z"/>
<path fill="#f0cdbb" d="M535 310l4-4-4 7-3 3z"/>
<path fill="#f4c6af" d="M539 306l3-4-3 6-4 5z"/>
<path fill="#f6bda2" d="M542 302l3-5-3 6-3 5z"/>
<path fill="#f7b396" d="M545 297l3-5-3 5-3 6z"/>
<path fill="#f7a889" d="M548 292l4-5-4 5-3 5z"/>
<path fill="#f6a283" d="M552 287l3-3-3 5-4 3z"/>
<path fill="#f39577" d="M555 284l3-3-3 5-3 3z"/>
<path fill="#f18f71" d="M558 281l3-2-3 5-3 2z"/>
<path fill="#f08a6c" d="M561 279l4-1-4 5-3 1z"/>
<path fill="#ec8165" d="M565 278l3 0 3 0-3 4-3 0-4 1z"/>
<path fill="#e97a5f" d="M571 278l4 0-4 3-3 1z"/>
<path fill="#e67259" d="M575 278l3 0 3-1-3 3-3 1-4 0z"/>
<path fill="#e36b54" d="M581 277l3 0-3 3-3 0z"/>
<path fill="#df634e" d="M584 277l4 0 3 0-3 2-3 1-4 0z"/>
<path fill="#da5a49" d="M591 277l3 1 4 0-3 2-4 0-3-1z"/>
<path fill="#d65244" d="M598 278l3 1 3 1-3 1-3-1-3 0z"/>
<path fill="#d24b40" d="M604 280l4 0 3 1 3 1-3 1-3-1-3 0-4-1z"/>
<path fill="#cc403a" d="M614 282l4 1 3 1 4 1-4 1-3-1-3-1-4-1z"/>
<path fill="#c73635" d="M625 285l3 1 3 1 4 0-4 1-3-1-3 0-4-1z"/>
<path fill="#c32e31" d="M635 287l3 1 3 1-3 0-3 0-4-1z"/>
<path fill="#bb1b2c" d="M641 289l4 0 3 1-3 1-3-1-4-1z"/>
<path fill="#b50927" d="M648 290l4 0 3 1 4 1 3 2 3 2 4 2 3 3 3 2 4 2 3 3 4 2 3 4 3 5-3 4-3-5-4-5-3-3-3-2-4-3-3-2-4-2-3-3-3-2-4-2-3-2-3-1-4 0z"/>
<path fill="#bb1b2c" d="M692 319l4 5-4 4-3-5z"/>
<path fill="#c32e31" d="M696 324l3 5 3 4-3 4-3-4-4-5z"/>
<path fill="#c73635" d="M702 333l4 4 3 4-3 4-4-4-3-4z"/>
<path fill="#cc403a" d="M709 341l3 4 4 5-4 4-3-5-3-4z"/>
<path fill="#d65244" d="M716 350l3 13-4 4-3-13z"/>
<path fill="#e36b54" d="M719 363l2 18-3 5-3-19z"/>
<path fill="#f18f71" d="M721 381l3 21-4 6-2-22z"/>
<path fill="#f7ad90" d="M724 402l2 20-3 7-3-21z"/>
<path fill="#f4c6af" d="M726 422l3 18-3 8-3-19z"/>
<path fill="#edd1c2" d="M729 440l3 13-4 9-2-14z"/>
<path fill="#e7d7ce" d="M732 453l3 7-4 8-3-6z"/>
<path fill="#e3d9d3" d="M411 242l3 2 3 2 3 2 3 2 3 3 3 3-3 8-3-3-3-3-3-3-3-2-3-2-3-1z"/>
<path fill="#dfdbd9" d="M429 256l3 3 4 3 3 4-3 7-4-3-3-3-3-3z"/>
<path fill="#dadce0" d="M439 266l3 3 3 3 3 3 3 3 3 2-3 7-3-2-3-3-3-3-3-3-3-3z"/>
<path fill="#d7dce3" d="M454 280l3 3 3 3 3 3 3 2 4 3 3 3 3 2-3 7-3-2-4-3-3-3-3-3-3-2-3-3-3-3z"/>
<path fill="#d3dbe7" d="M476 299l3 3 3 2 3 2 3 3 3 2 3 1-3 7-3-2-3-2-3-2-3-2-3-2-3-3z"/>
<path fill="#d7dce3" d="M494 312l4 2 3 1 3 1 3 1-3 6-3-1-3-1-4-1-3-1z"/>
<path fill="#dadce0" d="M507 317l3 1 3 1-3 5-3 0-3-1z"/>
<path fill="#dfdbd9" d="M513 319l3 0 4 0-4 5-3 0-3 0z"/>
<path fill="#e3d9d3" d="M520 319l3 0-3 5-4 0z"/>
<path fill="#e7d7ce" d="M523 319l3 0 3-1-3 4-3 1-3 1z"/>
<path fill="#ead4c8" d="M529 318l3-2-3 4-3 2z"/>
<path fill="#f0cdbb" d="M532 316l3-3-3 4-3 3z"/>
<path fill="#f2cab5" d="M535 313l4-5-4 6-3 3z"/>
<path fill="#f5c1a9" d="M539 308l3-5-3 6-4 5z"/>
<path fill="#f7b89c" d="M542 303l3-6-3 7-3 5z"/>
<path fill="#f7ad90" d="M545 297l3-5-3 7-3 5z"/>
<path fill="#f7a889" d="M548 292l4-3-4 6-3 4z"/>
<path fill="#f59d7e" d="M552 289l3-3-3 6-4 3z"/>
<path fill="#f39577" d="M555 286l3-2-3 5-3 3z"/>
<path fill="#f18f71" d="M558 284l3-1-3 4-3 2z"/>
<path fill="#f08a6c" d="M561 283l4-1-3 4-4 1z"/>
<path fill="#ec8165" d="M565 282l3 0-3 3-3 1z"/>
<path fill="#e97a5f" d="M568 282l3-1-3 3-3 1z"/>
<path fill="#e67259" d="M571 281l4 0 3-1-3 3-4 1-3 0z"/>
<path fill="#e36b54" d="M578 280l3 0-3 2-3 1z"/>
<path fill="#df634e" d="M581 280l4 0 3-1-3 2-4 1-3 0z"/>
<path fill="#da5a49" d="M588 279l3 1 4 0-4 2-3-1-3 0z"/>
<path fill="#d65244" d="M595 280l3 0 3 1-3 1-3 0-4 0z"/>
<path fill="#d24b40" d="M601 281l4 1 3 0-3 2-4-1-3-1z"/>
<path fill="#cc403a" d="M608 282l3 1 4 1 3 1-3 1-4-1-3 0-3-1z"/>
<path fill="#c73635" d="M618 285l3 1 4 1 3 0-3 2-3-1-4-1-3-1z"/>
<path fill="#c32e31" d="M628 287l3 1 4 1-3 1-4-1-3 0z"/>
<path fill="#bb1b2c" d="M635 289l3 0 4 1-4 1-3-1-3 0z"/>
<path fill="#b50927" d="M642 290l3 1 4 0 3 1 3 2 4 2 3 2 3 3 4 2 3 2 4 3 3 2 3 3 4 5-4 4-3-5-3-4-4-3-3-2-3-3-4-2-3-2-4-3-3-2-3-2-4-2-3 0-4-1z"/>
<path fill="#bb1b2c" d="M686 318l3 5-3 4-4-5z"/>
<path fill="#c32e31" d="M689 323l3 5 4 5-4 4-3-5-3-5z"/>
<path fill="#c73635" d="M696 333l3 4 3 4-3 5-3-5-4-4z"/>
<path fill="#cc403a" d="M702 341l4 4 3 4-3 4-4-4-3-3z"/>
<path fill="#d24b40" d="M709 349l3 5-3 4-3-5z"/>
<path fill="#da5a49" d="M712 354l3 13-3 5-3-14z"/>
<path fill="#e67259" d="M715 367l3 19-3 5-3-19z"/>
<path fill="#f39577" d="M718 386l2 22-3 6-2-23z"/>
<path fill="#f7b396" d="M720 408l3 21-3 7-3-22z"/>
<path fill="#f2cab5" d="M723 429l3 19-4 8-2-20z"/>
<path fill="#e7d7ce" d="M726 448l2 14-3 8-3-14z"/>
<path fill="#dfdbd9" d="M728 462l3 6-3 9-3-7z"/>
<path fill="#dadce0" d="M408 250l3 1 3 2 3 2 3 3 3 3 3 3 3 3-3 7-3-3-3-3-3-3-3-2-3-2-3-2-3-2z"/>
<path fill="#d7dce3" d="M429 267l3 3 4 3 3 3 3 3 3 3-3 7-3-3-3-3-3-3-4-3-3-3z"/>
<path fill="#d3dbe7" d="M445 282l3 3 3 2 3 3 3 3 3 2 3 3 3 3-3 7-3-3-3-3-3-2-3-3-3-3-3-3-3-2z"/>
<path fill="#cedaeb" d="M466 301l4 3 3 2 3 3 3 2 3 2 3 2 3 2 3 2 3 1-3 7-3-2-3-1-3-2-3-2-3-2-3-3-3-2-4-3-3-2z"/>
<path fill="#d3dbe7" d="M494 320l4 1 3 1 3 1-3 6-3-1-4-1-3 0z"/>
<path fill="#d7dce3" d="M504 323l3 1 3 0-3 5-3 0-3 0z"/>
<path fill="#dadce0" d="M510 324l3 0-3 4-3 1z"/>
<path fill="#dfdbd9" d="M513 324l3 0 4 0-4 4-3 0-3 0z"/>
<path fill="#e3d9d3" d="M520 324l3-1-3 4-4 1z"/>
<path fill="#e7d7ce" d="M523 323l3-1-3 4-3 1z"/>
<path fill="#ead4c8" d="M526 322l3-2-3 5-3 1z"/>
<path fill="#edd1c2" d="M529 320l3-3-3 6-3 2z"/>
<path fill="#f0cdbb" d="M532 317l3-3-3 6-3 3z"/>
<path fill="#f4c6af" d="M535 314l4-5-4 7-3 4z"/>
<path fill="#f6bda2" d="M539 309l3-5-3 7-4 5z"/>
<path fill="#f7b89c" d="M542 304l3-5-3 7-3 5z"/>
<path fill="#f7ad90" d="M545 299l3-4-3 6-3 5z"/>
<path fill="#f6a283" d="M548 295l4-3-4 5-3 4z"/>
<path fill="#f59d7e" d="M552 292l3-3-3 5-4 3z"/>
<path fill="#f18f71" d="M555 289l3-2-3 5-3 2z"/>
<path fill="#f08a6c" d="M558 287l4-1-4 4-3 2z"/>
<path fill="#ec8165" d="M562 286l3-1-3 4-4 1z"/>
<path fill="#e97a5f" d="M565 285l3-1 3 0-3 2-3 1-3 2z"/>
<path fill="#e67259" d="M571 284l4-1-3 2-4 1z"/>
<path fill="#e36b54" d="M575 283l3-1-3 3-3 0z"/>
<path fill="#df634e" d="M578 282l3 0 4-1-4 2-3 1-3 1z"/>
<path fill="#da5a49" d="M585 281l3 0-3 2-4 0z"/>
<path fill="#d65244" d="M588 281l3 1 4 0-4 2-3-1-3 0z"/>
<path fill="#d24b40" d="M595 282l3 0 3 1 4 1-4 1-3 0-3-1-4 0z"/>
<path fill="#cc403a" d="M605 284l3 1 3 0-3 2-3-1-4-1z"/>
<path fill="#c73635" d="M611 285l4 1 3 1 4 1-4 1-3-1-3-1-4 0z"/>
<path fill="#c32e31" d="M622 288l3 1 3 0-3 2-3-1-4-1z"/>
<path fill="#bb1b2c" d="M628 289l4 1 3 0 3 1-3 1-3 0-4-1-3 0z"/>
<path fill="#b50927" d="M638 291l4 1 3 0 4 2 3 2 3 2 4 3 3 2 4 2 3 3 3 2 4 3 3 4-3 4-3-4-4-4-3-3-4-2-3-3-3-2-4-2-3-3-4-2-3-2-3-1-4-1z"/>
<path fill="#bb1b2c" d="M679 317l3 5 4 5-4 4-3-5-3-5z"/>
<path fill="#c32e31" d="M686 327l3 5-3 4-4-5z"/>
<path fill="#c73635" d="M689 332l3 5 4 4-4 5-3-5-3-5z"/>
<path fill="#cc403a" d="M696 341l3 5 3 3-3 4-3-3-4-4z"/>
<path fill="#d24b40" d="M702 349l4 4 3 5-3 4-4-5-3-4z"/>
<path fill="#da5a49" d="M709 358l3 14-3 4-3-14z"/>
<path fill="#e97a5f" d="M712 372l3 19-4 6-2-21z"/>
<path fill="#f59d7e" d="M715 391l2 23-3 6-3-23z"/>
<path fill="#f7b89c" d="M717 414l3 22-4 8-2-24z"/>
<path fill="#f0cdbb" d="M720 436l2 20-3 9-3-21z"/>
<path fill="#e3d9d3" d="M722 456l3 14-4 10-2-15z"/>
<path fill="#d7dce3" d="M725 470l3 7-4 10-3-7z"/>
<path fill="#d7dce3" d="M405 257l3 2 3 2 3 2 3 2 3 3 3 3-3 7-3-3-3-2-3-3-3-2-3-2-3-2z"/>
<path fill="#d3dbe7" d="M423 271l3 3 3 3 4 3 3 3 3 3-3 7-3-3-4-3-3-3-3-3-3-3z"/>
<path fill="#cedaeb" d="M439 286l3 3 3 2 3 3 3 3 3 3 3 2-3 7-3-3-3-2-3-3-3-3-3-2-3-3z"/>
<path fill="#cad8ef" d="M457 302l3 3 3 3 3 2 4 3 3 2 3 3 3 2 3 2 3 2 3 1 3 2-3 6-3-1-3-2-3-1-3-2-3-3-3-2-4-2-3-3-3-2-3-3-3-3z"/>
<path fill="#cedaeb" d="M491 327l3 0 4 1-4 6-3-1-3 0z"/>
<path fill="#d3dbe7" d="M498 328l3 1 3 0-3 5-3 0-4 0z"/>
<path fill="#d7dce3" d="M504 329l3 0 3-1-3 5-3 0-3 1z"/>
<path fill="#dadce0" d="M510 328l3 0-3 4-3 1z"/>
<path fill="#dfdbd9" d="M513 328l3 0-3 3-3 1z"/>
<path fill="#e3d9d3" d="M516 328l4-1 3-1-3 4-4 0-3 1z"/>
<path fill="#e7d7ce" d="M523 326l3-1-3 4-3 1z"/>
<path fill="#ead4c8" d="M526 325l3-2-3 4-3 2z"/>
<path fill="#edd1c2" d="M529 323l3-3-3 5-3 2z"/>
<path fill="#f2cab5" d="M532 320l3-4-3 6-3 3z"/>
<path fill="#f4c6af" d="M535 316l4-5-3 7-4 4z"/>
<path fill="#f6bda2" d="M539 311l3-5-3 7-3 5z"/>
<path fill="#f7b396" d="M542 306l3-5-3 7-3 5z"/>
<path fill="#f7a889" d="M545 301l3-4-3 6-3 5z"/>
<path fill="#f59d7e" d="M548 297l4-3-3 5-4 4z"/>
<path fill="#f39577" d="M552 294l3-2-3 4-3 3z"/>
<path fill="#f18f71" d="M555 292l3-2-3 4-3 2z"/>
<path fill="#f08a6c" d="M558 290l4-1-4 3-3 2z"/>
<path fill="#ec8165" d="M562 289l3-2-3 4-4 1z"/>
<path fill="#e97a5f" d="M565 287l3-1-3 3-3 2z"/>
<path fill="#e67259" d="M568 286l4-1-4 3-3 1z"/>
<path fill="#e36b54" d="M572 285l3 0-3 2-4 1z"/>
<path fill="#df634e" d="M575 285l3-1 3-1-3 3-3 0-3 1z"/>
<path fill="#da5a49" d="M581 283l4 0-3 2-4 1z"/>
<path fill="#d65244" d="M585 283l3 0 3 1-3 1-3 0-3 0z"/>
<path fill="#d24b40" d="M591 284l4 0 3 1-3 1-3 0-4-1z"/>
<path fill="#cc403a" d="M598 285l3 0 4 1 3 1-3 1-3 0-4-1-3-1z"/>
<path fill="#c73635" d="M608 287l4 0 3 1-3 2-4-1-3-1z"/>
<path fill="#c32e31" d="M615 288l3 1 4 1 3 1-3 1-4 0-3-1-3-1z"/>
<path fill="#bb1b2c" d="M625 291l3 0 4 1-3 1-4 0-3-1z"/>
<path fill="#b50927" d="M632 292l3 0 4 1 3 1 3 2 4 2 3 3 4 2 3 2 3 3 4 2 3 3 4 4-4 5-3-4-3-4-4-4-3-2-4-3-3-2-3-2-4-3-3-2-4-1-3-1-3-1z"/>
<path fill="#bb1b2c" d="M673 317l3 4 3 5-3 5-3-5-4-4z"/>
<path fill="#c32e31" d="M679 326l3 5-3 5-3-5z"/>
<path fill="#c73635" d="M682 331l4 5 3 5-3 4-4-4-3-5z"/>
<path fill="#cc403a" d="M689 341l3 5 4 4-4 4-3-4-3-5z"/>
<path fill="#d24b40" d="M696 350l3 3 3 4-3 4-3-4-4-3z"/>
<path fill="#d65244" d="M702 357l4 5-4 5-3-6z"/>
<path fill="#df634e" d="M706 362l3 14-4 5-3-14z"/>
<path fill="#ec8165" d="M709 376l2 21-3 5-3-21z"/>
<path fill="#f6a283" d="M711 397l3 23-4 7-2-25z"/>
<path fill="#f5c1a9" d="M714 420l2 24-3 8-3-25z"/>
<path fill="#ead4c8" d="M716 444l3 21-4 8-2-21z"/>
<path fill="#dadce0" d="M719 465l2 15-3 9-3-16z"/>
<path fill="#cedaeb" d="M721 480l3 7-3 9-3-7z"/>
<path fill="#cedaeb" d="M402 264l3 2 3 2-3 8-3-2-3-2z"/>
<path fill="#d3dbe7" d="M408 268l3 2-3 8-3-2z"/>
<path fill="#cedaeb" d="M411 270l3 3 3 2 3 3 3 3 3 3 3 3-3 7-3-3-3-3-3-3-3-3-3-2-3-2z"/>
<path fill="#cad8ef" d="M429 287l4 3 3 3 3 3 3 2 3 3 3 3-3 7-3-3-3-3-3-3-3-2-4-3-3-3z"/>
<path fill="#c5d6f2" d="M448 304l3 2 3 3 3 3 3 3 3 2 3 3 4 2 3 2 3 3 3 2 3 1 3 2 3 1-3 6-3-1-3-1-3-2-3-2-3-2-4-2-3-3-3-2-3-3-3-2-3-3-3-3-3-2z"/>
<path fill="#cad8ef" d="M488 333l3 0 3 1-3 5-3 0-3 0z"/>
<path fill="#cedaeb" d="M494 334l4 0 3 0-4 4-3 1-3 0z"/>
<path fill="#d3dbe7" d="M501 334l3-1-3 4-4 1z"/>
<path fill="#d7dce3" d="M504 333l3 0-3 3-3 1z"/>
<path fill="#dadce0" d="M507 333l3-1-3 3-3 1z"/>
<path fill="#dfdbd9" d="M510 332l3-1 3-1-3 3-3 1-3 1z"/>
<path fill="#e3d9d3" d="M516 330l4 0-4 3-3 0z"/>
<path fill="#e7d7ce" d="M520 330l3-1-3 3-4 1z"/>
<path fill="#ead4c8" d="M523 329l3-2-3 4-3 1z"/>
<path fill="#edd1c2" d="M526 327l3-2-3 5-3 1z"/>
<path fill="#f0cdbb" d="M529 325l3-3-3 6-3 2z"/>
<path fill="#f2cab5" d="M532 322l4-4-4 6-3 4z"/>
<path fill="#f5c1a9" d="M536 318l3-5-3 7-4 4z"/>
<path fill="#f7b89c" d="M539 313l3-5-3 7-3 5z"/>
<path fill="#f7ad90" d="M542 308l3-5-3 7-3 5z"/>
<path fill="#f6a283" d="M545 303l4-4-4 6-3 5z"/>
<path fill="#f59d7e" d="M549 299l3-3-3 5-4 4z"/>
<path fill="#f18f71" d="M552 296l3-2-3 4-3 3z"/>
<path fill="#f08a6c" d="M555 294l3-2-3 4-3 2z"/>
<path fill="#ec8165" d="M558 292l4-1-4 3-3 2z"/>
<path fill="#e97a5f" d="M562 291l3-2-3 4-4 1z"/>
<path fill="#e67259" d="M565 289l3-1-3 3-3 2z"/>
<path fill="#e36b54" d="M568 288l4-1-4 3-3 1z"/>
<path fill="#df634e" d="M572 287l3-1 3 0-3 2-3 1-4 1z"/>
<path fill="#da5a49" d="M578 286l4-1-4 2-3 1z"/>
<path fill="#d65244" d="M582 285l3 0 3 0-3 2-3 0-4 0z"/>
<path fill="#d24b40" d="M588 285l4 1 3 0-3 2-4 0-3-1z"/>
<path fill="#cc403a" d="M595 286l3 1 4 1-4 1-3 0-3-1z"/>
<path fill="#c73635" d="M602 288l3 0 3 1 4 1-3 2-4-1-3-1-4-1z"/>
<path fill="#c32e31" d="M612 290l3 1 3 1 4 0-3 2-4-1-3 0-3-1z"/>
<path fill="#bb1b2c" d="M622 292l3 1 4 0-4 2-3 0-3-1z"/>
<path fill="#b50927" d="M629 293l3 1 3 1 4 1 3 2 4 3 3 2 3 2 4 3 3 2 4 4 3 4-3 4-4-4-3-4-3-4-4-2-3-3-4-2-3-2-3-3-4-1-3-1-4-1z"/>
<path fill="#bb1b2c" d="M666 318l3 4 4 4-4 5-3-5-3-4z"/>
<path fill="#c32e31" d="M673 326l3 5 3 5-3 4-3-5-4-4z"/>
<path fill="#c73635" d="M679 336l3 5-3 4-3-5z"/>
<path fill="#cc403a" d="M682 341l4 4 3 5-3 4-4-4-3-5z"/>
<path fill="#d24b40" d="M689 350l3 4 4 3-3 4-4-3-3-4z"/>
<path fill="#d65244" d="M696 357l3 4 3 6-3 4-3-6-3-4z"/>
<path fill="#df634e" d="M702 367l3 14-3 4-3-14z"/>
<path fill="#ec8165" d="M705 381l3 21-3 6-3-23z"/>
<path fill="#f7a889" d="M708 402l2 25-3 6-2-25z"/>
<path fill="#f4c6af" d="M710 427l3 25-4 7-2-26z"/>
<path fill="#e7d7ce" d="M713 452l2 21-3 8-3-22z"/>
<path fill="#d3dbe7" d="M715 473l3 16-4 9-2-17z"/>
<path fill="#cad8ef" d="M718 489l3 7-3 9-4-7z"/>
<path fill="#cad8ef" d="M399 272l3 2 3 2 3 2 3 2 3 2 3 3 3 3 3 3-3 7-3-3-3-3-3-2-3-3-3-2-3-2-3-2-3-2z"/>
<path fill="#c5d6f2" d="M423 291l3 3 3 3 4 3 3 2 3 3-3 7-3-3-4-3-3-2-3-3-3-3z"/>
<path fill="#c0d4f5" d="M439 305l3 3 3 3 3 2 3 3 3 3 3 2 3 3 3 2-3 7-3-2-3-3-3-3-3-2-3-3-3-3-3-2-3-3z"/>
<path fill="#bad0f8" d="M463 326l3 3 4 2 3 2 3 2-3 6-3-1-4-2-3-3-3-2z"/>
<path fill="#c0d4f5" d="M476 335l3 2 3 1 3 1-3 5-3 0-3-1-3-2z"/>
<path fill="#c5d6f2" d="M485 339l3 0 3 0-3 6-3 0-3-1z"/>
<path fill="#cad8ef" d="M491 339l3 0-3 5-3 1z"/>
<path fill="#cedaeb" d="M494 339l3-1 4-1-4 5-3 1-3 1z"/>
<path fill="#d3dbe7" d="M501 337l3-1-3 4-4 2z"/>
<path fill="#d7dce3" d="M504 336l3-1-3 4-3 1z"/>
<path fill="#dadce0" d="M507 335l3-1-3 3-3 2z"/>
<path fill="#dfdbd9" d="M510 334l3-1-3 3-3 1z"/>
<path fill="#e3d9d3" d="M513 333l3 0-3 2-3 1z"/>
<path fill="#e7d7ce" d="M516 333l4-1 3-1-3 4-4 0-3 0z"/>
<path fill="#ead4c8" d="M523 331l3-1-3 4-3 1z"/>
<path fill="#edd1c2" d="M526 330l3-2-3 5-3 1z"/>
<path fill="#f0cdbb" d="M529 328l3-4-3 7-3 2z"/>
<path fill="#f4c6af" d="M532 324l4-4-4 7-3 4z"/>
<path fill="#f6bda2" d="M536 320l3-5-3 7-4 5z"/>
<path fill="#f7b396" d="M539 315l3-5-3 6-3 6z"/>
<path fill="#f7a889" d="M542 310l3-5-3 6-3 5z"/>
<path fill="#f6a283" d="M545 305l4-4-4 5-3 5z"/>
<path fill="#f39577" d="M549 301l3-3-3 5-4 3z"/>
<path fill="#f18f71" d="M552 298l3-2-3 4-3 3z"/>
<path fill="#f08a6c" d="M555 296l3-2-3 4-3 2z"/>
<path fill="#e97a5f" d="M558 294l4-1-3 3-4 2z"/>
<path fill="#e67259" d="M562 293l3-2-3 3-3 2z"/>
<path fill="#e36b54" d="M565 291l3-1 4-1-4 2-3 2-3 1z"/>
<path fill="#df634e" d="M572 289l3-1-3 2-4 1z"/>
<path fill="#da5a49" d="M575 288l3-1-3 2-3 1z"/>
<path fill="#d65244" d="M578 287l4 0 3 0-3 2-4 0-3 0z"/>
<path fill="#d24b40" d="M585 287l3 1 4 0-4 2-3 0-3-1z"/>
<path fill="#cc403a" d="M592 288l3 1 3 0-3 2-3 0-4-1z"/>
<path fill="#c73635" d="M598 289l4 1 3 1 4 1-4 2-3-1-3-1-4-1z"/>
<path fill="#c32e31" d="M609 292l3 1 3 0-3 3-3-1-4-1z"/>
<path fill="#bb1b2c" d="M615 293l4 1 3 1 3 0-3 3-3-1-4-1-3 0z"/>
<path fill="#b50927" d="M625 295l4 1 3 1 4 1 3 3 3 2 4 2 3 3 4 2 3 4 3 4-3 5-3-5-4-4-3-3-3-3-4-3-3-2-4-2-3-2-3-1-4 0z"/>
<path fill="#bb1b2c" d="M659 318l4 4 3 4-3 5-4-4-3-4z"/>
<path fill="#c32e31" d="M666 326l3 5 4 4-4 5-3-5-3-4z"/>
<path fill="#c73635" d="M673 335l3 5-3 5-4-5z"/>
<path fill="#cc403a" d="M676 340l3 5 3 5-3 4-3-4-3-5z"/>
<path fill="#d24b40" d="M682 350l4 4 3 4-3 4-3-4-4-4z"/>
<path fill="#d65244" d="M689 358l4 3 3 4-3 4-4-4-3-3z"/>
<path fill="#da5a49" d="M696 365l3 6-3 4-3-6z"/>
<path fill="#e36b54" d="M699 371l3 14-3 5-3-15z"/>
<path fill="#f08a6c" d="M702 385l3 23-4 5-2-23z"/>
<path fill="#f7ad90" d="M705 408l2 25-3 6-3-26z"/>
<path fill="#f2cab5" d="M707 433l2 26-3 7-2-27z"/>
<path fill="#dfdbd9" d="M709 459l3 22-4 8-2-23z"/>
<path fill="#cedaeb" d="M712 481l2 17-3 7-3-16z"/>
<path fill="#c0d4f5" d="M714 498l4 7-4 8-3-8z"/>
<path fill="#c5d6f2" d="M396 279l3 2 3 2 3 2 3 2 3 3 3 2-3 7-3-2-3-3-3-2-3-1-3-2-3-2z"/>
<path fill="#c0d4f5" d="M414 292l3 3 3 3 3 3 3 3 3 2 4 3-4 7-3-3-3-3-3-2-3-3-3-3-3-3z"/>
<path fill="#bad0f8" d="M433 309l3 3 3 3 3 2 3 3 3 3 3 2 3 3-3 7-3-3-3-3-3-2-3-3-3-3-3-2-4-3z"/>
<path fill="#b6cefa" d="M454 328l3 3 3 2 3 2 3 3 4 2 3 1-3 7-4-2-3-2-3-2-3-2-3-3-3-2z"/>
<path fill="#bad0f8" d="M473 341l3 2 3 1 3 0-3 6-3 0-3-1-3-1z"/>
<path fill="#c0d4f5" d="M482 344l3 1 3 0-3 5-3 0-3 0z"/>
<path fill="#c5d6f2" d="M488 345l3-1-3 5-3 1z"/>
<path fill="#cad8ef" d="M491 344l3-1-3 5-3 1z"/>
<path fill="#cedaeb" d="M494 343l3-1-3 4-3 2z"/>
<path fill="#d3dbe7" d="M497 342l4-2-4 4-3 2z"/>
<path fill="#d7dce3" d="M501 340l3-1-3 3-4 2z"/>
<path fill="#dadce0" d="M504 339l3-2-3 3-3 2z"/>
<path fill="#dfdbd9" d="M507 337l3-1-3 2-3 2z"/>
<path fill="#e3d9d3" d="M510 336l3-1-3 3-3 0z"/>
<path fill="#e7d7ce" d="M513 335l3 0 4 0-4 3-3 0-3 0z"/>
<path fill="#ead4c8" d="M520 335l3-1-3 4-4 0z"/>
<path fill="#edd1c2" d="M523 334l3-1-3 5-3 0z"/>
<path fill="#f0cdbb" d="M526 333l3-2-3 5-3 2z"/>
<path fill="#f2cab5" d="M529 331l3-4-3 6-3 3z"/>
<path fill="#f5c1a9" d="M532 327l4-5-4 6-3 5z"/>
<path fill="#f7b89c" d="M536 322l3-6-3 7-4 5z"/>
<path fill="#f7ad90" d="M539 316l3-5-3 6-3 6z"/>
<path fill="#f7a889" d="M542 311l3-5-3 7-3 4z"/>
<path fill="#f59d7e" d="M545 306l4-3-4 6-3 4z"/>
<path fill="#f18f71" d="M549 303l3-3-3 6-4 3z"/>
<path fill="#f08a6c" d="M552 300l3-2-3 5-3 3z"/>
<path fill="#ec8165" d="M555 298l4-2-4 4-3 3z"/>
<path fill="#e97a5f" d="M559 296l3-2-3 4-4 2z"/>
<path fill="#e67259" d="M562 294l3-1-3 3-3 2z"/>
<path fill="#e36b54" d="M565 293l3-2-3 3-3 2z"/>
<path fill="#df634e" d="M568 291l4-1-3 3-4 1z"/>
<path fill="#da5a49" d="M572 290l3-1-3 3-3 1z"/>
<path fill="#d65244" d="M575 289l3 0 4 0-3 3-4 0-3 0z"/>
<path fill="#d24b40" d="M582 289l3 1 3 0-3 2-3 0-3 0z"/>
<path fill="#cc403a" d="M588 290l4 1 3 0-3 2-3 0-4-1z"/>
<path fill="#c73635" d="M595 291l4 1 3 1-3 2-4-1-3-1z"/>
<path fill="#c32e31" d="M602 293l3 1 4 1 3 1-3 2-4-1-3-1-3-1z"/>
<path fill="#bb1b2c" d="M612 296l3 0 4 1 3 1-3 2-3 0-4-1-3-1z"/>
<path fill="#b50927" d="M622 298l4 0 3 1 3 2 4 2 3 2 4 3 3 3 3 3-3 5-3-4-4-4-3-3-4-2-3-2-3-2-4-1-3-1z"/>
<path fill="#bb1b2c" d="M649 314l4 4 3 5-3 4-4-4-3-4z"/>
<path fill="#c32e31" d="M656 323l3 4 4 4-4 5-3-4-3-5z"/>
<path fill="#c73635" d="M663 331l3 4 3 5-3 5-3-5-4-4z"/>
<path fill="#cc403a" d="M669 340l4 5 3 5-3 4-4-4-3-5z"/>
<path fill="#d24b40" d="M676 350l3 4 4 4-4 4-3-4-3-4z"/>
<path fill="#d65244" d="M683 358l3 4 3 3 4 4-4 4-3-4-3-3-4-4z"/>
<path fill="#da5a49" d="M693 369l3 6-3 4-4-6z"/>
<path fill="#e36b54" d="M696 375l3 15-4 4-2-15z"/>
<path fill="#f08a6c" d="M699 390l2 23-3 5-3-24z"/>
<path fill="#f7ad90" d="M701 413l3 26-4 6-2-27z"/>
<path fill="#f0cdbb" d="M704 439l2 27-3 6-3-27z"/>
<path fill="#dadce0" d="M706 466l2 23-3 7-2-24z"/>
<path fill="#c5d6f2" d="M708 489l3 16-3 8-3-17z"/>
<path fill="#bad0f8" d="M711 505l3 8-3 7-3-7z"/>
<path fill="#bad0f8" d="M393 287l3 2 3 2 3 1 3 2 3 3 3 2 3 3 3 3 3 3 3 2-3 7-3-3-3-2-3-3-3-3-3-2-3-2-3-2-3-2-3-2-3-1z"/>
<path fill="#b6cefa" d="M423 310l3 3 3 3 4 3 3 2 3 3 3 3 3 2-3 7-3-3-3-2-3-3-3-3-4-2-3-3-3-3z"/>
<path fill="#b1cbfc" d="M445 329l3 3 3 3 3 2 3 3 3 2 3 2 3 2 4 2 3 1-3 6-4-1-3-2-3-2-3-2-3-2-3-2-3-3-3-3-3-2z"/>
<path fill="#b6cefa" d="M473 349l3 1 3 0-3 6-3 0-3-1z"/>
<path fill="#bad0f8" d="M479 350l3 0 3 0-3 6-3 0-3 0z"/>
<path fill="#c0d4f5" d="M485 350l3-1-3 6-3 1z"/>
<path fill="#c5d6f2" d="M488 349l3-1-3 5-3 2z"/>
<path fill="#cad8ef" d="M491 348l3-2-3 5-3 2z"/>
<path fill="#cedaeb" d="M494 346l3-2-3 4-3 3z"/>
<path fill="#d7dce3" d="M497 344l4-2-4 3-3 3z"/>
<path fill="#dadce0" d="M501 342l3-2-3 3-4 2z"/>
<path fill="#dfdbd9" d="M504 340l3-2-3 3-3 2z"/>
<path fill="#e3d9d3" d="M507 338l3 0-3 2-3 1z"/>
<path fill="#e7d7ce" d="M510 338l3 0 3 0-3 3-3-1-3 0z"/>
<path fill="#ead4c8" d="M516 338l4 0 3 0-3 4-4 0-3-1z"/>
<path fill="#edd1c2" d="M523 338l3-2-3 6-3 0z"/>
<path fill="#f0cdbb" d="M526 336l3-3-3 7-3 2z"/>
<path fill="#f2cab5" d="M529 333l3-5-3 8-3 4z"/>
<path fill="#f5c1a9" d="M532 328l4-5-4 8-3 5z"/>
<path fill="#f7b89c" d="M536 323l3-6-3 9-4 5z"/>
<path fill="#f7ad90" d="M539 317l3-4-3 9-3 4z"/>
<path fill="#f6a283" d="M542 313l3-4-3 8-3 5z"/>
<path fill="#f59d7e" d="M545 309l4-3-4 7-3 4z"/>
<path fill="#f18f71" d="M549 306l3-3-3 6-4 4z"/>
<path fill="#f08a6c" d="M552 303l3-3-3 5-3 4z"/>
<path fill="#e97a5f" d="M555 300l4-2-4 4-3 3z"/>
<path fill="#e67259" d="M559 298l3-2-3 3-4 3z"/>
<path fill="#e36b54" d="M562 296l3-2-3 3-3 2z"/>
<path fill="#df634e" d="M565 294l4-1-4 3-3 1z"/>
<path fill="#da5a49" d="M569 293l3-1-3 3-4 1z"/>
<path fill="#d65244" d="M572 292l3 0 4 0-4 2-3 0-3 1z"/>
<path fill="#d24b40" d="M579 292l3 0 3 0-3 3-3-1-4 0z"/>
<path fill="#cc403a" d="M585 292l4 1 3 0-3 3-4-1-3 0z"/>
<path fill="#c73635" d="M592 293l3 1 4 1 3 1-3 3-4-1-3-1-3-1z"/>
<path fill="#c32e31" d="M602 296l3 1 4 1 3 1-3 3-3-1-4-1-3-1z"/>
<path fill="#bb1b2c" d="M612 299l4 1 3 0 3 1-3 4-3-2-4 0-3-1z"/>
<path fill="#b50927" d="M622 301l4 1 3 2 3 2 4 2 3 3 4 4-4 4-3-3-3-4-4-2-3-2-4-2-3-1z"/>
<path fill="#bb1b2c" d="M643 315l3 4 3 4-3 5-3-4-4-5z"/>
<path fill="#c32e31" d="M649 323l4 4 3 5-3 5-4-4-3-5z"/>
<path fill="#c73635" d="M656 332l3 4 4 4-4 5-3-4-3-4z"/>
<path fill="#cc403a" d="M663 340l3 5 3 5-3 4-3-4-4-5z"/>
<path fill="#d24b40" d="M669 350l4 4 3 4-3 5-4-5-3-4z"/>
<path fill="#d65244" d="M676 358l3 4 4 4 3 3-3 5-4-4-3-4-3-3z"/>
<path fill="#da5a49" d="M686 369l3 4 4 6-4 3-3-5-3-3z"/>
<path fill="#e67259" d="M693 379l2 15-3 5-3-17z"/>
<path fill="#f18f71" d="M695 394l3 24-3 5-3-24z"/>
<path fill="#f7b396" d="M698 418l2 27-3 6-2-28z"/>
<path fill="#edd1c2" d="M700 445l3 27-4 7-2-28z"/>
<path fill="#d7dce3" d="M703 472l2 24-3 7-3-24z"/>
<path fill="#c0d4f5" d="M705 496l3 17-4 7-2-17z"/>
<path fill="#b1cbfc" d="M708 513l3 7-4 8-3-8z"/>
<path fill="#b6cefa" d="M390 295l3 1 3 2 3 2 3 2 3 2 3 2 3 3 3 3 3 2-3 7-3-3-3-3-3-2-3-2-3-2-3-2-3-1-3-2-3-2z"/>
<path fill="#b1cbfc" d="M417 314l3 3 3 3 3 3 4 2 3 3 3 3 3 2-3 7-3-3-3-3-4-2-3-3-3-3-3-2-3-3z"/>
<path fill="#abc8fd" d="M439 333l3 3 3 2 3 3 3 3 3 2 3 2 3 2 3 2 3 2 4 1-4 6-3-1-3-2-3-1-3-2-3-3-3-2-3-3-3-2-3-3-3-2z"/>
<path fill="#b1cbfc" d="M470 355l3 1 3 0-3 6-3 0-4-1z"/>
<path fill="#b6cefa" d="M476 356l3 0 3 0-3 5-3 1-3 0z"/>
<path fill="#bad0f8" d="M482 356l3-1-3 5-3 1z"/>
<path fill="#c0d4f5" d="M485 355l3-2-3 5-3 2z"/>
<path fill="#c5d6f2" d="M488 353l3-2-3 4-3 3z"/>
<path fill="#cedaeb" d="M491 351l3-3-3 4-3 3z"/>
<path fill="#d3dbe7" d="M494 348l3-3-3 3-3 4z"/>
<path fill="#dadce0" d="M497 345l4-2-4 3-3 2z"/>
<path fill="#dfdbd9" d="M501 343l3-2-3 3-4 2z"/>
<path fill="#e3d9d3" d="M504 341l3-1 3 0-3 3-3 0-3 1z"/>
<path fill="#e7d7ce" d="M510 340l3 1 3 1-3 3-3-1-3-1z"/>
<path fill="#ead4c8" d="M516 342l4 0 3 0-3 5-4 0-3-2z"/>
<path fill="#edd1c2" d="M523 342l3-2-3 7-3 0z"/>
<path fill="#f0cdbb" d="M526 340l3-4-3 9-3 2z"/>
<path fill="#f2cab5" d="M529 336l3-5-3 11-3 3z"/>
<path fill="#f5c1a9" d="M532 331l4-5-4 11-3 5z"/>
<path fill="#f7b89c" d="M536 326l3-4-3 9-4 6z"/>
<path fill="#f7ad90" d="M539 322l3-5-3 9-3 5z"/>
<path fill="#f6a283" d="M542 317l3-4-3 7-3 6z"/>
<path fill="#f39577" d="M545 313l4-4-3 6-4 5z"/>
<path fill="#f18f71" d="M549 309l3-4-3 6-3 4z"/>
<path fill="#ec8165" d="M552 305l3-3-3 5-3 4z"/>
<path fill="#e97a5f" d="M555 302l4-3-4 4-3 4z"/>
<path fill="#e36b54" d="M559 299l3-2-3 4-4 2z"/>
<path fill="#df634e" d="M562 297l3-1-3 3-3 2z"/>
<path fill="#da5a49" d="M565 296l4-1 3-1-3 4-4 0-3 1z"/>
<path fill="#d65244" d="M572 294l3 0-3 3-3 1z"/>
<path fill="#d24b40" d="M575 294l4 0 3 1-3 3-4-1-3 0z"/>
<path fill="#cc403a" d="M582 295l3 0 4 1-4 3-3-1-3 0z"/>
<path fill="#c73635" d="M589 296l3 1 3 1 4 1-3 3-4-2-3 0-4-1z"/>
<path fill="#c32e31" d="M599 299l3 1 4 1 3 1-3 3-4-1-3-1-3-1z"/>
<path fill="#bb1b2c" d="M609 302l3 1 4 0 3 2 3 1-3 4-3-2-4-1-3-1-3-1z"/>
<path fill="#b50927" d="M622 306l4 2 3 2 4 2-4 5-3-3-3-2-4-2z"/>
<path fill="#bb1b2c" d="M633 312l3 4 3 3 4 5-4 5-3-5-3-4-4-3z"/>
<path fill="#c32e31" d="M643 324l3 4 3 5-3 5-3-5-4-4z"/>
<path fill="#c73635" d="M649 333l4 4 3 4-3 5-4-4-3-4z"/>
<path fill="#cc403a" d="M656 341l3 4 4 5-4 5-3-5-3-4z"/>
<path fill="#d24b40" d="M663 350l3 4 3 4-3 5-3-4-4-4z"/>
<path fill="#d65244" d="M669 358l4 5 3 3-3 5-4-4-3-4z"/>
<path fill="#da5a49" d="M676 366l3 4 4 4 3 3-3 4-4-3-3-4-3-3z"/>
<path fill="#df634e" d="M686 377l3 5-3 5-3-6z"/>
<path fill="#e67259" d="M689 382l3 17-3 4-3-16z"/>
<path fill="#f39577" d="M692 399l3 24-4 6-2-26z"/>
<path fill="#f7b89c" d="M695 423l2 28-3 6-3-28z"/>
<path fill="#ead4c8" d="M697 451l2 28-3 7-2-29z"/>
<path fill="#d3dbe7" d="M699 479l3 24-4 7-2-24z"/>
<path fill="#bad0f8" d="M702 503l2 17-3 7-3-17z"/>
<path fill="#abc8fd" d="M704 520l3 8-3 7-3-8z"/>
<path fill="#abc8fd" d="M387 302l3 2 3 2 3 1-3 7-3-1-3-2-3-2z"/>
<path fill="#b1cbfc" d="M396 307l3 2 3 2 3 2 3 2 3 3-3 7-3-3-3-2-3-2-3-2-3-2z"/>
<path fill="#abc8fd" d="M411 318l3 3 3 3 3 2 3 3 3 3 4 2-4 7-3-3-3-2-3-3-3-3-3-3-3-2z"/>
<path fill="#a6c4fe" d="M430 334l3 3 3 3 3 2 3 3 3 2 3 3 3 2 3 3 3 2 3 1 3 2 3 1-3 6-3-1-3-1-3-2-3-2-3-2-3-3-3-2-3-3-3-2-3-3-3-3-4-2z"/>
<path fill="#abc8fd" d="M466 361l4 1 3 0-4 6-3 0-3-1z"/>
<path fill="#b1cbfc" d="M473 362l3 0 3-1-3 6-3 1-4 0z"/>
<path fill="#b6cefa" d="M479 361l3-1-3 6-3 1z"/>
<path fill="#bad0f8" d="M482 360l3-2-3 6-3 2z"/>
<path fill="#c5d6f2" d="M485 358l3-3-3 5-3 4z"/>
<path fill="#cad8ef" d="M488 355l3-3-3 4-3 4z"/>
<path fill="#d3dbe7" d="M491 352l3-4-3 4-3 4z"/>
<path fill="#d7dce3" d="M494 348l3-2-3 3-3 3z"/>
<path fill="#dfdbd9" d="M497 346l4-2-4 3-3 2z"/>
<path fill="#e3d9d3" d="M501 344l3-1 3 0-3 3-3 0-4 1z"/>
<path fill="#e7d7ce" d="M507 343l3 1 3 1 3 2 4 0-4 7-3-2-3-3-3-2-3-1z"/>
<path fill="#ead4c8" d="M520 347l3 0 3-2-3 10-3 0-4-1z"/>
<path fill="#edd1c2" d="M526 345l3-3-3 10-3 3z"/>
<path fill="#f2cab5" d="M529 342l3-5-3 11-3 4z"/>
<path fill="#f5c1a9" d="M532 337l4-6-4 11-3 6z"/>
<path fill="#f7b89c" d="M536 331l3-5-3 10-4 6z"/>
<path fill="#f7ad90" d="M539 326l3-6-3 9-3 7z"/>
<path fill="#f6a283" d="M542 320l4-5-4 8-3 6z"/>
<path fill="#f39577" d="M546 315l3-4-3 6-4 6z"/>
<path fill="#f08a6c" d="M549 311l3-4-3 5-3 5z"/>
<path fill="#e97a5f" d="M552 307l3-4-3 6-3 3z"/>
<path fill="#e67259" d="M555 303l4-2-3 5-4 3z"/>
<path fill="#e36b54" d="M559 301l3-2-3 5-3 2z"/>
<path fill="#df634e" d="M562 299l3-1-3 4-3 2z"/>
<path fill="#da5a49" d="M565 298l4 0-3 3-4 1z"/>
<path fill="#d65244" d="M569 298l3-1-3 4-3 0z"/>
<path fill="#d24b40" d="M572 297l3 0 4 1-3 3-4 0-3 0z"/>
<path fill="#cc403a" d="M579 298l3 0 3 1 4 1-3 3-4-1-3-1-3 0z"/>
<path fill="#c73635" d="M589 300l3 0 4 2 3 1-3 3-4-1-3-1-3-1z"/>
<path fill="#c32e31" d="M599 303l3 1 4 1 3 1-3 4-4-1-3-2-3-1z"/>
<path fill="#bb1b2c" d="M609 306l3 1 4 1 3 2 4 2 3 2 3 3 4 3-4 5-3-3-3-3-4-3-3-2-4-2-3-1-3-1z"/>
<path fill="#c32e31" d="M633 320l3 4 3 5-3 5-3-4-4-5z"/>
<path fill="#c73635" d="M639 329l4 4 3 5-3 5-4-4-3-5z"/>
<path fill="#cc403a" d="M646 338l3 4 4 4-4 5-3-4-3-4z"/>
<path fill="#d24b40" d="M653 346l3 4 3 5-3 4-3-4-4-4z"/>
<path fill="#d65244" d="M659 355l4 4 3 4 3 4-3 4-3-4-4-3-3-5z"/>
<path fill="#da5a49" d="M669 367l4 4 3 3 3 4-3 4-3-3-4-4-3-4z"/>
<path fill="#df634e" d="M679 378l4 3 3 6-3 5-4-6-3-4z"/>
<path fill="#e97a5f" d="M686 387l3 16-3 6-3-17z"/>
<path fill="#f59d7e" d="M689 403l2 26-3 5-2-25z"/>
<path fill="#f6bda2" d="M691 429l3 28-4 7-2-30z"/>
<path fill="#e7d7ce" d="M694 457l2 29-4 7-2-29z"/>
<path fill="#cad8ef" d="M696 486l2 24-3 8-3-25z"/>
<path fill="#b1cbfc" d="M698 510l3 17-3 8-3-17z"/>
<path fill="#a1c0ff" d="M701 527l3 8-3 8-3-8z"/>
<path fill="#a6c4fe" d="M384 309l3 2 3 2 3 1 3 2 3 2 3 2 3 2 3 3 3 2 3 3 3 3 3 3 3 2-3 7-3-3-3-3-3-2-3-3-3-3-3-2-3-3-3-2-3-2-3-1-3-1-3-2-3-2z"/>
<path fill="#a1c0ff" d="M423 338l3 3 4 2 3 3 3 3 3 2 3 3 3 2 3 3 3 2 3 2 3 2 3 1 3 1-3 6-3-1-3-1-3-2-3-2-3-2-3-3-3-2-3-3-3-2-3-3-4-2-3-3-3-2z"/>
<path fill="#a6c4fe" d="M463 367l3 1 3 0-3 6-3 0-3-1z"/>
<path fill="#abc8fd" d="M469 368l4 0 3-1-3 8-4 0-3-1z"/>
<path fill="#b1cbfc" d="M476 367l3-1-3 7-3 2z"/>
<path fill="#b6cefa" d="M479 366l3-2-3 7-3 2z"/>
<path fill="#c0d4f5" d="M482 364l3-4-3 7-3 4z"/>
<path fill="#c5d6f2" d="M485 360l3-4-3 6-3 5z"/>
<path fill="#cedaeb" d="M488 356l3-4-3 5-3 5z"/>
<path fill="#d7dce3" d="M491 352l3-3-3 4-3 4z"/>
<path fill="#dadce0" d="M494 349l3-2-3 4-3 2z"/>
<path fill="#dfdbd9" d="M497 347l4-1-4 4-3 1z"/>
<path fill="#e3d9d3" d="M501 346l3 0 3 1 3 2 3 3 3 2 4 1 3 0-3 9-4-1-3-2-3-3-3-4-3-2-3-2-4 0z"/>
<path fill="#e7d7ce" d="M523 355l3-3-3 11-3 1z"/>
<path fill="#edd1c2" d="M526 352l3-4-3 12-3 3z"/>
<path fill="#f0cdbb" d="M529 348l3-6-3 12-3 6z"/>
<path fill="#f5c1a9" d="M532 342l4-6-4 11-3 7z"/>
<path fill="#f7b89c" d="M536 336l3-7-3 11-4 7z"/>
<path fill="#f7a889" d="M539 329l3-6-3 9-3 8z"/>
<path fill="#f59d7e" d="M542 323l4-6-4 8-3 7z"/>
<path fill="#f18f71" d="M546 317l3-5-3 8-4 5z"/>
<path fill="#ec8165" d="M549 312l3-3-3 6-3 5z"/>
<path fill="#e97a5f" d="M552 309l4-3-4 5-3 4z"/>
<path fill="#e36b54" d="M556 306l3-2-3 5-4 2z"/>
<path fill="#df634e" d="M559 304l3-2-3 5-3 2z"/>
<path fill="#da5a49" d="M562 302l4-1-4 4-3 2z"/>
<path fill="#d65244" d="M566 301l3 0 3 0-3 4-3 0-4 0z"/>
<path fill="#d24b40" d="M572 301l4 0 3 0-3 4-4 0-3 0z"/>
<path fill="#cc403a" d="M579 301l3 1 4 1 3 1-3 4-4-1-3-1-3-1z"/>
<path fill="#c73635" d="M589 304l3 1 4 1 3 1-3 4-4-1-3-1-3-1z"/>
<path fill="#c32e31" d="M599 307l3 2 4 1 3 1 3 1 4 2-3 5-4-2-3-2-4-1-3-1-3-2z"/>
<path fill="#bb1b2c" d="M616 314l3 2 4 3-4 5-3-3-3-2z"/>
<path fill="#c32e31" d="M623 319l3 3 3 3 4 5-4 5-3-4-3-4-4-3z"/>
<path fill="#c73635" d="M633 330l3 4 3 5-3 5-3-5-4-4z"/>
<path fill="#cc403a" d="M639 339l4 4 3 4-3 6-4-5-3-4z"/>
<path fill="#d24b40" d="M646 347l3 4 4 4-4 5-3-3-3-4z"/>
<path fill="#d65244" d="M653 355l3 4 3 5-3 4-3-4-4-4z"/>
<path fill="#da5a49" d="M659 364l4 3 3 4 3 4-3 5-3-4-4-4-3-4z"/>
<path fill="#df634e" d="M669 375l4 4 3 3 3 4-3 5-3-4-4-4-3-3z"/>
<path fill="#e36b54" d="M679 386l4 6-4 6-3-7z"/>
<path fill="#ec8165" d="M683 392l3 17-4 6-3-17z"/>
<path fill="#f6a283" d="M686 409l2 25-3 7-3-26z"/>
<path fill="#f5c1a9" d="M688 434l2 30-3 8-2-31z"/>
<path fill="#dfdbd9" d="M690 464l2 29-3 8-2-29z"/>
<path fill="#c5d6f2" d="M692 493l3 25-4 9-2-26z"/>
<path fill="#abc8fd" d="M695 518l3 17-4 9-3-17z"/>
<path fill="#9bbcff" d="M698 535l3 8-4 9-3-8z"/>
<path fill="#9bbcff" d="M381 316l3 2-3 7-3-2z"/>
<path fill="#a1c0ff" d="M384 318l3 2 3 1 3 1 3 2 3 2 3 3 3 2 3 3 3 3 3 2 3 3-3 6-3-2-3-3-3-3-3-3-3-2-3-2-3-2-3-2-3-1-3-2-3-1z"/>
<path fill="#9bbcff" d="M417 342l3 3 3 2 3 3 4 2 3 3 3 2 3 3 3 2 3 3 3 2 3 2 3 2 3 1 3 1-3 6-3-1-3-2-3-1-3-2-3-2-3-3-3-2-3-3-3-2-4-3-3-2-3-3-3-2-3-3z"/>
<path fill="#a1c0ff" d="M460 373l3 1 3 0 3 1-3 7-3-1-3-1-3-1z"/>
<path fill="#a6c4fe" d="M469 375l4 0-4 7-3 0z"/>
<path fill="#abc8fd" d="M473 375l3-2-3 8-4 1z"/>
<path fill="#b1cbfc" d="M476 373l3-2-3 7-3 3z"/>
<path fill="#b6cefa" d="M479 371l3-4-3 7-3 4z"/>
<path fill="#c0d4f5" d="M482 367l3-5-3 6-3 6z"/>
<path fill="#cad8ef" d="M485 362l3-5-3 6-3 5z"/>
<path fill="#d3dbe7" d="M488 357l3-4-3 6-3 4z"/>
<path fill="#dadce0" d="M491 353l3-2-3 5-3 3z"/>
<path fill="#dfdbd9" d="M494 351l3-1 4 0-4 5-3-1-3 2z"/>
<path fill="#e3d9d3" d="M501 350l3 2 3 2-3 6-4-3-3-2z"/>
<path fill="#dfdbd9" d="M507 354l3 4 3 3 3 2 4 1 3-1-3 11-4 0-3-3-3-3-3-4-3-4z"/>
<path fill="#e3d9d3" d="M523 363l3-3-3 11-3 3z"/>
<path fill="#ead4c8" d="M526 360l3-6-3 13-3 4z"/>
<path fill="#f0cdbb" d="M529 354l3-7-3 13-3 7z"/>
<path fill="#f5c1a9" d="M532 347l4-7-4 12-3 8z"/>
<path fill="#f7b89c" d="M536 340l3-8-3 11-4 9z"/>
<path fill="#f7a889" d="M539 332l3-7-3 11-3 7z"/>
<path fill="#f59d7e" d="M542 325l4-5-4 9-3 7z"/>
<path fill="#f18f71" d="M546 320l3-5-3 8-4 6z"/>
<path fill="#ec8165" d="M549 315l3-4-3 7-3 5z"/>
<path fill="#e67259" d="M552 311l4-2-4 5-3 4z"/>
<path fill="#e36b54" d="M556 309l3-2-3 5-4 2z"/>
<path fill="#df634e" d="M559 307l3-2-3 5-3 2z"/>
<path fill="#da5a49" d="M562 305l4 0-4 4-3 1z"/>
<path fill="#d65244" d="M566 305l3 0 3 0-3 4-3 0-4 0z"/>
<path fill="#d24b40" d="M572 305l4 0 3 1-3 4-4-1-3 0z"/>
<path fill="#cc403a" d="M579 306l3 1 4 1 3 1-3 4-4-2-3 0-3-1z"/>
<path fill="#c73635" d="M589 309l3 1 4 1 3 2 3 1-3 5-3-2-4-1-3-2-3-1z"/>
<path fill="#c32e31" d="M602 314l4 1 3 2 4 2 3 2 3 3 4 3-4 5-3-3-3-3-4-2-3-2-4-2-3-1z"/>
<path fill="#c73635" d="M623 327l3 4 3 4-3 6-3-5-4-4z"/>
<path fill="#cc403a" d="M629 335l4 4 3 5-3 6-4-5-3-4z"/>
<path fill="#d24b40" d="M636 344l3 4 4 5-4 5-3-4-3-4z"/>
<path fill="#d65244" d="M643 353l3 4 3 3-3 6-3-4-4-4z"/>
<path fill="#da5a49" d="M649 360l4 4 3 4 3 4-3 5-3-4-4-3-3-4z"/>
<path fill="#df634e" d="M659 372l4 4 3 4 3 3-3 6-3-5-4-3-3-4z"/>
<path fill="#e36b54" d="M669 383l4 4 3 4-3 6-4-4-3-4z"/>
<path fill="#e67259" d="M676 391l3 7-3 6-3-7z"/>
<path fill="#f08a6c" d="M679 398l3 17-3 7-3-18z"/>
<path fill="#f7a889" d="M682 415l3 26-4 8-2-27z"/>
<path fill="#f2cab5" d="M685 441l2 31-4 8-2-31z"/>
<path fill="#dadce0" d="M687 472l2 29-3 9-3-30z"/>
<path fill="#bad0f8" d="M689 501l2 26-3 8-2-25z"/>
<path fill="#a1c0ff" d="M691 527l3 17-3 9-3-18z"/>
<path fill="#90b2fe" d="M694 544l3 8-3 8-3-7z"/>
<path fill="#96b7ff" d="M378 323l3 2 3 1-3 7-3-2-3-2z"/>
<path fill="#9bbcff" d="M384 326l3 2 3 1 3 2 3 2 3 2 3 2 3 3 3 3 3 3-3 6-3-3-3-3-3-2-3-3-3-2-3-2-3-2-3-1-3-1z"/>
<path fill="#96b7ff" d="M411 346l3 2 3 3 3 2 3 3 3 2 4 3 3 2 3 3 3 2 3 3 3 2 3 2 3 1 3 2 3 1 3 1-3 7-3-2-3-1-3-2-3-2-3-1-3-3-3-2-3-2-3-3-4-2-3-3-3-2-3-3-3-2-3-3-3-2z"/>
<path fill="#9bbcff" d="M460 380l3 1 3 1 3 0-3 9-3-1-3-2-3-1z"/>
<path fill="#a1c0ff" d="M469 382l4-1-4 9-3 1z"/>
<path fill="#a6c4fe" d="M473 381l3-3-4 9-3 3z"/>
<path fill="#b1cbfc" d="M476 378l3-4-3 7-4 6z"/>
<path fill="#bad0f8" d="M479 374l3-6-3 7-3 6z"/>
<path fill="#c5d6f2" d="M482 368l3-5-3 6-3 6z"/>
<path fill="#cedaeb" d="M485 363l3-4-3 6-3 4z"/>
<path fill="#d7dce3" d="M488 359l3-3-3 6-3 3z"/>
<path fill="#dadce0" d="M491 356l3-2 3 1-3 6-3 0-3 1z"/>
<path fill="#dfdbd9" d="M497 355l3 2 4 3-3 7-4-4-3-2z"/>
<path fill="#dadce0" d="M504 360l3 4 3 4-3 7-3-4-3-4z"/>
<path fill="#d7dce3" d="M510 368l3 3 3 3 4 0-4 10-3-1-3-3-3-5z"/>
<path fill="#dadce0" d="M520 374l3-3-3 12-4 1z"/>
<path fill="#dfdbd9" d="M523 371l3-4-3 12-3 4z"/>
<path fill="#e7d7ce" d="M526 367l3-7-3 13-3 6z"/>
<path fill="#f0cdbb" d="M529 360l3-8-3 12-3 9z"/>
<path fill="#f5c1a9" d="M532 352l4-9-4 13-3 8z"/>
<path fill="#f7b396" d="M536 343l3-7-3 11-4 9z"/>
<path fill="#f7a889" d="M539 336l3-7-3 10-3 8z"/>
<path fill="#f39577" d="M542 329l4-6-4 9-3 7z"/>
<path fill="#f08a6c" d="M546 323l3-5-3 8-4 6z"/>
<path fill="#e97a5f" d="M549 318l3-4-3 7-3 5z"/>
<path fill="#e67259" d="M552 314l4-2-4 6-3 3z"/>
<path fill="#e36b54" d="M556 312l3-2-3 6-4 2z"/>
<path fill="#df634e" d="M559 310l3-1-3 6-3 1z"/>
<path fill="#da5a49" d="M562 309l4 0-4 5-3 1z"/>
<path fill="#d65244" d="M566 309l3 0 3 0-3 5-3 0-4 0z"/>
<path fill="#d24b40" d="M572 309l4 1 3 1-3 4-4 0-3-1z"/>
<path fill="#cc403a" d="M579 311l3 0 4 2 3 1 3 2 4 1-4 5-3-2-3-1-4-2-3-2-3 0z"/>
<path fill="#c73635" d="M596 317l3 2 3 1 4 2 3 2 4 2 3 3 3 3-3 6-3-3-4-3-3-2-3-3-4-2-3-1-4-2z"/>
<path fill="#cc403a" d="M619 332l4 4 3 5-3 6-4-5-3-4z"/>
<path fill="#d24b40" d="M626 341l3 4 4 5-4 6-3-5-3-4z"/>
<path fill="#d65244" d="M633 350l3 4 3 4-3 6-3-4-4-4z"/>
<path fill="#da5a49" d="M639 358l4 4 3 4 3 4-3 5-3-4-4-3-3-4z"/>
<path fill="#df634e" d="M649 370l4 3 3 4 3 4-3 5-3-3-4-4-3-4z"/>
<path fill="#e36b54" d="M659 381l4 3 3 5-3 6-4-5-3-4z"/>
<path fill="#e67259" d="M666 389l3 4 4 4-4 8-3-6-3-4z"/>
<path fill="#e97a5f" d="M673 397l3 7-4 8-3-7z"/>
<path fill="#f18f71" d="M676 404l3 18-4 9-3-19z"/>
<path fill="#f7ad90" d="M679 422l2 27-3 10-3-28z"/>
<path fill="#f0cdbb" d="M681 449l2 31-3 9-2-30z"/>
<path fill="#d3dbe7" d="M683 480l3 30-4 9-2-30z"/>
<path fill="#b1cbfc" d="M686 510l2 25-3 9-3-25z"/>
<path fill="#96b7ff" d="M688 535l3 18-4 9-2-18z"/>
<path fill="#85a8fc" d="M691 553l3 7-4 9-3-7z"/>
<path fill="#90b2fe" d="M375 329l3 2 3 2 3 1-3 6-3-1-3-2-3-1z"/>
<path fill="#96b7ff" d="M384 334l3 1 3 2 3 2 3 2 3 3 3 2 3 3 3 3-3 6-3-3-3-3-3-2-3-3-3-2-3-2-3-2-3-1z"/>
<path fill="#90b2fe" d="M408 352l3 2 3 3 3 2 3 3 3 2 3 3 4 2 3 3 3 2 3 2 3 3 3 1 3 2 3 2 3 1 3 2 3 1 3 2-3 8-3-2-3-2-3-2-3-2-3-2-3-2-3-2-3-2-3-2-4-3-3-2-3-2-3-3-3-2-3-3-3-2-3-3-3-2z"/>
<path fill="#96b7ff" d="M463 390l3 1 3-1-3 8-3 1-3-1z"/>
<path fill="#9bbcff" d="M469 390l3-3-3 8-3 3z"/>
<path fill="#a6c4fe" d="M472 387l4-6-4 8-3 6z"/>
<path fill="#b1cbfc" d="M476 381l3-6-4 8-3 6z"/>
<path fill="#c0d4f5" d="M479 375l3-6-3 8-4 6z"/>
<path fill="#cad8ef" d="M482 369l3-4-3 7-3 5z"/>
<path fill="#cedaeb" d="M485 365l3-3-3 7-3 3z"/>
<path fill="#d7dce3" d="M488 362l3-1 3 0 3 2 4 4 3 4-3 8-4-5-3-3-3-3-3 0-3 1z"/>
<path fill="#d3dbe7" d="M504 371l3 4 3 5-3 8-3-5-3-4z"/>
<path fill="#cedaeb" d="M510 380l3 3 3 1 4-1-4 11-3 0-3-2-3-4z"/>
<path fill="#d7dce3" d="M520 383l3-4-3 12-4 3z"/>
<path fill="#dadce0" d="M523 379l3-6-3 13-3 5z"/>
<path fill="#e7d7ce" d="M526 373l3-9-3 14-3 8z"/>
<path fill="#f0cdbb" d="M529 364l3-8-3 13-3 9z"/>
<path fill="#f5c1a9" d="M532 356l4-9-3 13-4 9z"/>
<path fill="#f7b396" d="M536 347l3-8-3 12-3 9z"/>
<path fill="#f7a889" d="M539 339l3-7-3 10-3 9z"/>
<path fill="#f39577" d="M542 332l4-6-4 9-3 7z"/>
<path fill="#f08a6c" d="M546 326l3-5-3 9-4 5z"/>
<path fill="#e97a5f" d="M549 321l3-3-3 8-3 4z"/>
<path fill="#e67259" d="M552 318l4-2-4 7-3 3z"/>
<path fill="#e36b54" d="M556 316l3-1-3 6-4 2z"/>
<path fill="#df634e" d="M559 315l3-1-3 6-3 1z"/>
<path fill="#da5a49" d="M562 314l4 0 3 0-3 6-4 0-3 0z"/>
<path fill="#d65244" d="M569 314l3 1 4 0-4 5-3 0-3 0z"/>
<path fill="#d24b40" d="M576 315l3 0 3 2-3 5-3-2-4 0z"/>
<path fill="#cc403a" d="M582 317l4 2 3 1 3 2 4 2 3 1 4 2 3 3 3 2 4 3 3 3-3 7-4-4-3-3-3-2-4-3-3-2-4-2-3-2-3-2-4-2-3-1z"/>
<path fill="#d24b40" d="M616 338l3 4 4 5-4 6-3-4-3-4z"/>
<path fill="#d65244" d="M623 347l3 4 3 5-3 6-3-5-4-4z"/>
<path fill="#da5a49" d="M629 356l4 4 3 4 3 4-3 6-3-4-4-4-3-4z"/>
<path fill="#df634e" d="M639 368l4 3 3 4-3 7-4-4-3-4z"/>
<path fill="#e36b54" d="M646 375l3 4 4 4 3 3-3 7-4-4-3-4-3-3z"/>
<path fill="#e67259" d="M656 386l3 4 4 5-4 6-3-5-3-3z"/>
<path fill="#e97a5f" d="M663 395l3 4-3 8-4-6z"/>
<path fill="#ec8165" d="M666 399l3 6-3 8-3-6z"/>
<path fill="#f08a6c" d="M669 405l3 7-3 10-3-9z"/>
<path fill="#f59d7e" d="M672 412l3 19-3 10-3-19z"/>
<path fill="#f7b89c" d="M675 431l3 28-4 10-2-28z"/>
<path fill="#e7d7ce" d="M678 459l2 30-4 11-2-31z"/>
<path fill="#cad8ef" d="M680 489l2 30-3 11-3-30z"/>
<path fill="#a6c4fe" d="M682 519l3 25-4 10-2-24z"/>
<path fill="#8badfd" d="M685 544l2 18-3 9-3-17z"/>
<path fill="#7a9df8" d="M687 562l3 7-3 9-3-7z"/>
<path fill="#8badfd" d="M372 336l3 1 3 2 3 1-3 6-3-1-3-2-3-2z"/>
<path fill="#90b2fe" d="M381 340l3 1 3 2 3 2 3 2 3 3 3 2 3 3 3 3-3 5-3-2-3-3-3-3-3-2-3-2-3-2-3-2-3-1z"/>
<path fill="#8badfd" d="M405 358l3 2 3 3 3 2 3 3 3 2 3 3 3 2 3 2 4 3 3 2 3 2 3 2 3 2 3 2 3 2 3 2 3 2 3 2 3 1 3-1-3 9-3 2-3-2-3-3-3-3-3-3-3-2-3-2-3-2-3-2-3-3-4-2-3-2-3-2-3-3-3-2-3-3-3-2-3-3-3-2-3-3z"/>
<path fill="#96b7ff" d="M466 398l3-3-3 8-3 4z"/>
<path fill="#a1c0ff" d="M469 395l3-6-3 8-3 6z"/>
<path fill="#abc8fd" d="M472 389l3-6-3 7-3 7z"/>
<path fill="#b6cefa" d="M475 383l4-6-4 7-3 6z"/>
<path fill="#c0d4f5" d="M479 377l3-5-4 7-3 5z"/>
<path fill="#cad8ef" d="M482 372l3-3-3 8-4 2z"/>
<path fill="#cedaeb" d="M485 369l3-1-3 8-3 1z"/>
<path fill="#d3dbe7" d="M488 368l3 0 3 3 3 3-3 8-3-3-3-2-3-1z"/>
<path fill="#cedaeb" d="M497 374l4 5 3 4-3 9-4-5-3-5z"/>
<path fill="#cad8ef" d="M504 383l3 5-3 9-3-5z"/>
<path fill="#c5d6f2" d="M507 388l3 4 3 2 3 0-3 11-3-1-3-3-3-4z"/>
<path fill="#cad8ef" d="M516 394l4-3-4 12-3 2z"/>
<path fill="#d3dbe7" d="M520 391l3-5-3 12-4 5z"/>
<path fill="#dadce0" d="M523 386l3-8-3 14-3 6z"/>
<path fill="#e7d7ce" d="M526 378l3-9-3 14-3 9z"/>
<path fill="#f0cdbb" d="M529 369l4-9-4 13-3 10z"/>
<path fill="#f5c1a9" d="M533 360l3-9-3 12-4 10z"/>
<path fill="#f7b396" d="M536 351l3-9-3 12-3 9z"/>
<path fill="#f6a283" d="M539 342l3-7-3 11-3 8z"/>
<path fill="#f39577" d="M542 335l4-5-4 10-3 6z"/>
<path fill="#f08a6c" d="M546 330l3-4-3 9-4 5z"/>
<path fill="#e97a5f" d="M549 326l3-3-3 8-3 4z"/>
<path fill="#e67259" d="M552 323l4-2-4 8-3 2z"/>
<path fill="#e36b54" d="M556 321l3-1-3 7-4 2z"/>
<path fill="#df634e" d="M559 320l3 0 4 0-4 6-3 0-3 1z"/>
<path fill="#da5a49" d="M566 320l3 0-3 5-4 1z"/>
<path fill="#d65244" d="M569 320l3 0 4 0-4 5-3-1-3 1z"/>
<path fill="#d24b40" d="M576 320l3 2 3 1 4 2 3 2 3 2 4 2 3 2 4 3 3 2 3 3 4 4-4 7-3-4-3-3-4-3-3-3-3-2-4-2-3-2-4-2-3-2-3-2-4-2z"/>
<path fill="#d65244" d="M613 345l3 4 3 4-3 7-3-4-4-4z"/>
<path fill="#da5a49" d="M619 353l4 4 3 5-4 7-3-5-3-4z"/>
<path fill="#df634e" d="M626 362l3 4 4 4-4 7-3-4-4-4z"/>
<path fill="#e36b54" d="M633 370l3 4 3 4 4 4-4 7-3-4-4-4-3-4z"/>
<path fill="#e67259" d="M643 382l3 3 3 4-3 8-4-4-3-4z"/>
<path fill="#e97a5f" d="M649 389l4 4 3 3 3 5-3 9-3-5-4-4-3-4z"/>
<path fill="#ec8165" d="M659 401l4 6-4 9-3-6z"/>
<path fill="#f08a6c" d="M663 407l3 6-4 10-3-7z"/>
<path fill="#f39577" d="M666 413l3 9-4 11-3-10z"/>
<path fill="#f7a889" d="M669 422l3 19-4 12-3-20z"/>
<path fill="#f4c6af" d="M672 441l2 28-3 12-3-28z"/>
<path fill="#dfdbd9" d="M674 469l2 31-3 11-2-30z"/>
<path fill="#c0d4f5" d="M676 500l3 30-4 9-2-28z"/>
<path fill="#9bbcff" d="M679 530l2 24-3 9-3-24z"/>
<path fill="#80a3fa" d="M681 554l3 17-3 7-3-15z"/>
<path fill="#7597f6" d="M684 571l3 7-3 7-3-7z"/>
<path fill="#85a8fc" d="M369 341l3 2 3 2 3 1-3 6-3-2-3-1-3-2z"/>
<path fill="#8badfd" d="M378 346l3 1 3 2 3 2 3 2 3 2 3 3 3 3 3 2-3 6-3-3-3-2-3-3-3-2-3-3-3-1-3-2-3-1z"/>
<path fill="#85a8fc" d="M402 363l3 3 3 2 3 3 3 2 3 3 3 2 3 3 3 2 3 2 4 2 3 3 3 2 3 2 3 2 3 2 3 3-3 8-3-4-3-3-3-3-3-2-3-2-4-2-3-2-3-3-3-2-3-2-3-3-3-2-3-3-3-2-3-3-3-2z"/>
<path fill="#80a3fa" d="M451 401l3 3 3 3 3 2 3-2-3 9-3 2-3-2-3-3-3-4z"/>
<path fill="#8badfd" d="M463 407l3-4-3 8-3 5z"/>
<path fill="#96b7ff" d="M466 403l3-6-3 8-3 6z"/>
<path fill="#a6c4fe" d="M469 397l3-7-3 7-3 8z"/>
<path fill="#b1cbfc" d="M472 390l3-6-3 8-3 5z"/>
<path fill="#bad0f8" d="M475 384l3-5-3 9-3 4z"/>
<path fill="#c0d4f5" d="M478 379l4-2-4 8-3 3z"/>
<path fill="#c5d6f2" d="M482 377l3-1-3 9-4 0z"/>
<path fill="#cad8ef" d="M485 376l3 1 3 2 3 3 3 5-3 9-3-4-3-4-3-2-3-1z"/>
<path fill="#c5d6f2" d="M497 387l4 5-4 9-3-5z"/>
<path fill="#c0d4f5" d="M501 392l3 5-3 9-4-5z"/>
<path fill="#bad0f8" d="M504 397l3 4 3 3 3 1-3 10-3-1-3-3-3-5z"/>
<path fill="#c0d4f5" d="M513 405l3-2-3 11-3 1z"/>
<path fill="#c5d6f2" d="M516 403l4-5-4 12-3 4z"/>
<path fill="#cedaeb" d="M520 398l3-6-3 12-4 6z"/>
<path fill="#dadce0" d="M523 392l3-9-3 13-3 8z"/>
<path fill="#e7d7ce" d="M526 383l3-10-3 14-3 9z"/>
<path fill="#f0cdbb" d="M529 373l4-10-4 14-3 10z"/>
<path fill="#f5c1a9" d="M533 363l3-9-3 13-4 10z"/>
<path fill="#f7b396" d="M536 354l3-8-3 12-3 9z"/>
<path fill="#f6a283" d="M539 346l3-6-3 11-3 7z"/>
<path fill="#f39577" d="M542 340l4-5-4 10-3 6z"/>
<path fill="#f08a6c" d="M546 335l3-4-3 10-4 4z"/>
<path fill="#ec8165" d="M549 331l3-2-3 8-3 4z"/>
<path fill="#e67259" d="M552 329l4-2-4 8-3 2z"/>
<path fill="#e36b54" d="M556 327l3-1 3 0-3 6-3 1-4 2z"/>
<path fill="#df634e" d="M562 326l4-1-4 6-3 1z"/>
<path fill="#da5a49" d="M566 325l3-1-3 6-4 1z"/>
<path fill="#d65244" d="M569 324l3 1 4 2 3 2 3 2 4 2 3 2 4 2 3 2 3 3 4 3 3 3-3 8-4-4-3-3-3-3-4-2-3-3-4-2-3-2-3-2-4-3-3-2-3 0z"/>
<path fill="#da5a49" d="M606 348l3 4 4 4 3 4-4 8-3-5-3-4-3-3z"/>
<path fill="#df634e" d="M616 360l3 4-3 8-4-4z"/>
<path fill="#e36b54" d="M619 364l3 5 4 4-4 8-3-4-3-5z"/>
<path fill="#e67259" d="M626 373l3 4 3 4 4 4-4 9-3-5-3-4-4-4z"/>
<path fill="#e97a5f" d="M636 385l3 4 3 4-3 9-3-4-4-4z"/>
<path fill="#ec8165" d="M642 393l4 4 3 4-3 10-4-5-3-4z"/>
<path fill="#f08a6c" d="M649 401l4 4 3 5-4 10-3-5-3-4z"/>
<path fill="#f18f71" d="M656 410l3 6-3 12-4-8z"/>
<path fill="#f59d7e" d="M659 416l3 7-3 13-3-8z"/>
<path fill="#f6a283" d="M662 423l3 10-3 13-3-10z"/>
<path fill="#f7b89c" d="M665 433l3 20-3 13-3-20z"/>
<path fill="#f0cdbb" d="M668 453l3 28-4 12-2-27z"/>
<path fill="#d7dce3" d="M671 481l2 30-4 11-2-29z"/>
<path fill="#b6cefa" d="M673 511l2 28-3 9-3-26z"/>
<path fill="#96b7ff" d="M675 539l3 24-3 6-3-21z"/>
<path fill="#7a9df8" d="M678 563l3 15-4 6-2-15z"/>
<path fill="#6f92f3" d="M681 578l3 7-4 5-3-6z"/>
<path fill="#80a3fa" d="M366 347l3 2 3 1 3 2-3 5-3-1-3-1-3-2z"/>
<path fill="#85a8fc" d="M375 352l3 1 3 2 3 1 3 3 3 2 3 3 3 2 3 3 3 2-3 6-3-3-3-2-3-3-3-3-3-2-3-2-3-2-3-1-3-2z"/>
<path fill="#80a3fa" d="M402 371l3 3 3 2 3 3 3 2 3 3 3 2 3 2 3 3 3 2 4 2 3 2 3 2 3 3 3 3-3 7-3-4-3-3-4-3-3-2-3-2-3-2-3-3-3-2-3-2-3-3-3-2-3-3-3-2-3-2z"/>
<path fill="#7a9df8" d="M445 405l3 4 3 4-3 9-3-5-3-5z"/>
<path fill="#7597f6" d="M451 413l3 3 3 2-3 9-3-1-3-4z"/>
<path fill="#7a9df8" d="M457 418l3-2-3 9-3 2z"/>
<path fill="#80a3fa" d="M460 416l3-5-3 8-3 6z"/>
<path fill="#90b2fe" d="M463 411l3-6-3 7-3 7z"/>
<path fill="#9bbcff" d="M466 405l3-8-3 8-3 7z"/>
<path fill="#a6c4fe" d="M469 397l3-5-3 8-3 5z"/>
<path fill="#b1cbfc" d="M472 392l3-4-3 8-3 4z"/>
<path fill="#bad0f8" d="M475 388l3-3-3 10-3 1z"/>
<path fill="#c0d4f5" d="M478 385l4 0 3 1 3 2 3 4 3 4-3 10-3-5-3-3-3-3-4-1-3 1z"/>
<path fill="#bad0f8" d="M494 396l3 5-3 9-3-4z"/>
<path fill="#b6cefa" d="M497 401l4 5-4 10-3-6z"/>
<path fill="#b1cbfc" d="M501 406l3 5 3 3 3 1-3 10-3-2-3-3-4-4z"/>
<path fill="#b6cefa" d="M510 415l3-1-3 10-3 1z"/>
<path fill="#bad0f8" d="M513 414l3-4-3 11-3 3z"/>
<path fill="#c5d6f2" d="M516 410l4-6-4 12-3 5z"/>
<path fill="#cedaeb" d="M520 404l3-8-3 13-4 7z"/>
<path fill="#dadce0" d="M523 396l3-9-3 13-3 9z"/>
<path fill="#e7d7ce" d="M526 387l3-10-3 13-3 10z"/>
<path fill="#f0cdbb" d="M529 377l4-10-4 13-3 10z"/>
<path fill="#f5c1a9" d="M533 367l3-9-3 13-4 9z"/>
<path fill="#f7b396" d="M536 358l3-7-3 12-3 8z"/>
<path fill="#f6a283" d="M539 351l3-6-3 11-3 7z"/>
<path fill="#f39577" d="M542 345l4-4-3 10-4 5z"/>
<path fill="#f18f71" d="M546 341l3-4-3 10-3 4z"/>
<path fill="#ec8165" d="M549 337l3-2-3 8-3 4z"/>
<path fill="#e97a5f" d="M552 335l4-2-4 8-3 2z"/>
<path fill="#e67259" d="M556 333l3-1-3 7-4 2z"/>
<path fill="#e36b54" d="M559 332l3-1-3 5-3 3z"/>
<path fill="#df634e" d="M562 331l4-1-3 6-4 0z"/>
<path fill="#da5a49" d="M566 330l3 0 3 2 4 3 3 2 3 2 4 2 3 3 4 2 3 3 3 3-3 9-4-3-3-4-3-2-4-3-3-3-3-2-4-3-3-2-3-3-3 0z"/>
<path fill="#df634e" d="M599 352l4 4 3 3-4 9-3-4-3-3z"/>
<path fill="#e36b54" d="M606 359l3 4 3 5-3 9-3-4-4-5z"/>
<path fill="#e67259" d="M612 368l4 4 3 5-3 9-4-4-3-5z"/>
<path fill="#e97a5f" d="M619 377l3 4 4 4-4 10-3-4-3-5z"/>
<path fill="#ec8165" d="M626 385l3 4 3 5-3 10-3-4-4-5z"/>
<path fill="#f08a6c" d="M632 394l4 4 3 4-3 12-4-5-3-5z"/>
<path fill="#f18f71" d="M639 402l3 4 4 5-4 12-3-5-3-4z"/>
<path fill="#f39577" d="M646 411l3 4-4 13-3-5z"/>
<path fill="#f59d7e" d="M649 415l3 5-3 13-4-5z"/>
<path fill="#f6a283" d="M652 420l4 8-4 13-3-8z"/>
<path fill="#f7a889" d="M656 428l3 8-4 14-3-9z"/>
<path fill="#f7b396" d="M659 436l3 10-4 15-3-11z"/>
<path fill="#f4c6af" d="M662 446l3 20-4 15-3-20z"/>
<path fill="#e7d7ce" d="M665 466l2 27-3 13-3-25z"/>
<path fill="#cad8ef" d="M667 493l2 29-3 10-2-26z"/>
<path fill="#abc8fd" d="M669 522l3 26-3 8-3-24z"/>
<path fill="#8badfd" d="M672 548l3 21-4 6-2-19z"/>
<path fill="#7597f6" d="M675 569l2 15-3 5-3-14z"/>
<path fill="#6a8bef" d="M677 584l3 6-3 5-3-6z"/>
<path fill="#7a9df8" d="M363 353l3 2 3 1 3 1-3 6-3-1-3-1-3-2z"/>
<path fill="#80a3fa" d="M372 357l3 2 3 1 3 2 3 2 3 2 3 3 3 3 3 2 3 3 3 2 3 2 3 3-3 5-3-2-3-3-3-2-3-3-3-2-3-3-3-2-3-3-3-2-3-1-3-2-3-1z"/>
<path fill="#7a9df8" d="M408 384l3 2 3 3 3 2 3 2 3 3 3 2 3 2 3 2 4 3 3 3-3 7-4-4-3-3-3-3-3-2-3-2-3-3-3-2-3-2-3-3-3-2z"/>
<path fill="#7597f6" d="M439 408l3 4 3 5-3 8-3-6-3-4z"/>
<path fill="#6f92f3" d="M445 417l3 5-3 9-3-6z"/>
<path fill="#6a8bef" d="M448 422l3 4 3 1-3 9-3-1-3-4z"/>
<path fill="#6f92f3" d="M454 427l3-2-3 8-3 3z"/>
<path fill="#7a9df8" d="M457 425l3-6-3 8-3 6z"/>
<path fill="#85a8fc" d="M460 419l3-7-3 8-3 7z"/>
<path fill="#96b7ff" d="M463 412l3-7-3 8-3 7z"/>
<path fill="#a1c0ff" d="M466 405l3-5-3 8-3 5z"/>
<path fill="#abc8fd" d="M469 400l3-4-3 9-3 3z"/>
<path fill="#b1cbfc" d="M472 396l3-1-3 9-3 1z"/>
<path fill="#b6cefa" d="M475 395l3-1 4 1 3 3 3 3 3 5-3 9-3-4-3-3-4-3-3-1-3 0z"/>
<path fill="#b1cbfc" d="M491 406l3 4-3 10-3-5z"/>
<path fill="#abc8fd" d="M494 410l3 6 4 4-4 9-3-4-3-5z"/>
<path fill="#a6c4fe" d="M501 420l3 3 3 2-3 8-3-1-4-3z"/>
<path fill="#abc8fd" d="M507 425l3-1-3 9-3 0z"/>
<path fill="#b1cbfc" d="M510 424l3-3-3 10-3 2z"/>
<path fill="#b6cefa" d="M513 421l3-5-3 11-3 4z"/>
<path fill="#c0d4f5" d="M516 416l4-7-4 12-3 6z"/>
<path fill="#cedaeb" d="M520 409l3-9-3 13-4 8z"/>
<path fill="#dadce0" d="M523 400l3-10-3 13-3 10z"/>
<path fill="#e7d7ce" d="M526 390l3-10-3 13-3 10z"/>
<path fill="#f2cab5" d="M529 380l4-9-4 13-3 9z"/>
<path fill="#f6bda2" d="M533 371l3-8-3 12-4 9z"/>
<path fill="#f7b396" d="M536 363l3-7-3 12-3 7z"/>
<path fill="#f7a889" d="M539 356l4-5-4 11-3 6z"/>
<path fill="#f59d7e" d="M543 351l3-4-3 9-4 6z"/>
<path fill="#f18f71" d="M546 347l3-4-3 9-3 4z"/>
<path fill="#ec8165" d="M549 343l3-2-3 8-3 3z"/>
<path fill="#e97a5f" d="M552 341l4-2-3 7-4 3z"/>
<path fill="#e67259" d="M556 339l3-3-3 8-3 2z"/>
<path fill="#e36b54" d="M559 336l4 0-4 7-3 1z"/>
<path fill="#df634e" d="M563 336l3 0 3 3 3 2 4 3 3 2 3 3-3 9-3-3-4-3-3-3-3-3-3-3-4 0z"/>
<path fill="#e36b54" d="M582 349l4 3 3 2 3 4 4 3-4 10-3-4-3-3-4-3-3-3z"/>
<path fill="#e67259" d="M596 361l3 3 3 4 4 5-4 10-3-4-3-4-4-4z"/>
<path fill="#e97a5f" d="M606 373l3 4-3 11-4-5z"/>
<path fill="#ec8165" d="M609 377l3 5 4 4-4 12-3-5-3-5z"/>
<path fill="#f08a6c" d="M616 386l3 5 3 4-3 12-3-5-4-4z"/>
<path fill="#f18f71" d="M622 395l4 5-4 12-3-5z"/>
<path fill="#f39577" d="M626 400l3 4 3 5-3 13-4-5-3-5z"/>
<path fill="#f59d7e" d="M632 409l4 5-4 13-3-5z"/>
<path fill="#f6a283" d="M636 414l3 4 3 5-3 15-4-6-3-5z"/>
<path fill="#f7a889" d="M642 423l3 5-3 15-3-5z"/>
<path fill="#f7ad90" d="M645 428l4 5-4 16-3-6z"/>
<path fill="#f7b396" d="M649 433l3 8-4 15-3-7z"/>
<path fill="#f7b89c" d="M652 441l3 9-4 15-3-9z"/>
<path fill="#f5c1a9" d="M655 450l3 11-3 15-4-11z"/>
<path fill="#edd1c2" d="M658 461l3 20-4 14-2-19z"/>
<path fill="#dadce0" d="M661 481l3 25-4 12-3-23z"/>
<path fill="#c0d4f5" d="M664 506l2 26-3 10-3-24z"/>
<path fill="#a1c0ff" d="M666 532l3 24-4 7-2-21z"/>
<path fill="#85a8fc" d="M669 556l2 19-3 6-3-18z"/>
<path fill="#6f92f3" d="M671 575l3 14-3 4-3-12z"/>
<path fill="#6485ec" d="M674 589l3 6-3 3-3-5z"/>
<path fill="#7597f6" d="M360 359l3 2 3 1 3 1-3 5-3-1-3-1-3-2z"/>
<path fill="#7a9df8" d="M369 363l3 1 3 2 3 1 3 2 3 3 3 2 3 3 3 2 3 3 3 2 3 3 3 2 3 2 3 3 3 2 3 2-3 5-3-2-3-2-3-3-3-2-3-3-3-2-3-2-3-3-3-2-3-3-3-2-3-3-3-2-3-1-3-1-3-2z"/>
<path fill="#7597f6" d="M417 398l3 3 3 2 3 2 3 3 3 3-3 7-3-4-3-3-3-3-3-2-3-3z"/>
<path fill="#6f92f3" d="M432 411l4 4 3 4-3 9-3-5-4-5z"/>
<path fill="#6a8bef" d="M439 419l3 6-3 9-3-6z"/>
<path fill="#6485ec" d="M442 425l3 6-3 10-3-7z"/>
<path fill="#5e7de7" d="M445 431l3 4 3 1-3 9-3 0-3-4z"/>
<path fill="#6485ec" d="M451 436l3-3-3 8-3 4z"/>
<path fill="#6f92f3" d="M454 433l3-6-3 7-3 7z"/>
<path fill="#80a3fa" d="M457 427l3-7-3 7-3 7z"/>
<path fill="#8badfd" d="M460 420l3-7-3 8-3 6z"/>
<path fill="#96b7ff" d="M463 413l3-5-3 9-3 4z"/>
<path fill="#a1c0ff" d="M466 408l3-3-3 9-3 3z"/>
<path fill="#a6c4fe" d="M469 405l3-1-3 10-3 0z"/>
<path fill="#abc8fd" d="M472 404l3 0 3 1 4 3 3 3-3 10-3-3-4-2-3-2-3 0z"/>
<path fill="#a6c4fe" d="M485 411l3 4 3 5-3 10-3-5-3-4z"/>
<path fill="#a1c0ff" d="M491 420l3 5 3 4 4 3 3 1 3 0-3 8-3 0-4-1-3-3-3-3-3-4z"/>
<path fill="#a6c4fe" d="M507 433l3-2-3 9-3 1z"/>
<path fill="#abc8fd" d="M510 431l3-4-3 10-3 3z"/>
<path fill="#b6cefa" d="M513 427l3-6-3 10-3 6z"/>
<path fill="#c5d6f2" d="M516 421l4-8-4 11-3 7z"/>
<path fill="#cedaeb" d="M520 413l3-10-3 12-4 9z"/>
<path fill="#dfdbd9" d="M523 403l3-10-3 13-3 9z"/>
<path fill="#ead4c8" d="M526 393l3-9-3 12-3 10z"/>
<path fill="#f2cab5" d="M529 384l4-9-4 13-3 8z"/>
<path fill="#f6bda2" d="M533 375l3-7-3 12-4 8z"/>
<path fill="#f7b396" d="M536 368l3-6-3 11-3 7z"/>
<path fill="#f7a889" d="M539 362l4-6-4 11-3 6z"/>
<path fill="#f59d7e" d="M543 356l3-4-3 10-4 5z"/>
<path fill="#f18f71" d="M546 352l3-3-3 9-3 4z"/>
<path fill="#f08a6c" d="M549 349l4-3-4 9-3 3z"/>
<path fill="#e97a5f" d="M553 346l3-2-3 8-4 3z"/>
<path fill="#e67259" d="M556 344l3-1 4 0 3 3 3 3 3 3 4 3 3 3-3 10-4-3-3-4-3-3-3-3-4-3-3-1-3 1z"/>
<path fill="#e97a5f" d="M579 358l3 3 4 3 3 3 3 4-3 12-3-4-4-4-3-4-3-3z"/>
<path fill="#ec8165" d="M592 371l4 4 3 4-3 12-4-4-3-4z"/>
<path fill="#f08a6c" d="M599 379l3 4-3 13-3-5z"/>
<path fill="#f18f71" d="M602 383l4 5 3 5-4 13-3-5-3-5z"/>
<path fill="#f39577" d="M609 393l3 5-3 13-4-5z"/>
<path fill="#f59d7e" d="M612 398l4 4 3 5-4 15-3-6-3-5z"/>
<path fill="#f6a283" d="M619 407l3 5-3 15-4-5z"/>
<path fill="#f7a889" d="M622 412l3 5 4 5-4 16-3-6-3-5z"/>
<path fill="#f7ad90" d="M629 422l3 5-4 16-3-5z"/>
<path fill="#f7b396" d="M632 427l3 5-3 17-4-6z"/>
<path fill="#f7b89c" d="M635 432l4 6-4 16-3-5z"/>
<path fill="#f6bda2" d="M639 438l3 5 3 6-4 17-3-7-3-5z"/>
<path fill="#f5c1a9" d="M645 449l3 7-3 16-4-6z"/>
<path fill="#f2cab5" d="M648 456l3 9-3 16-3-9z"/>
<path fill="#edd1c2" d="M651 465l4 11-4 16-3-11z"/>
<path fill="#e3d9d3" d="M655 476l2 19-3 13-3-16z"/>
<path fill="#cedaeb" d="M657 495l3 23-3 11-3-21z"/>
<path fill="#b6cefa" d="M660 518l3 24-4 8-2-21z"/>
<path fill="#9bbcff" d="M663 542l2 21-3 5-3-18z"/>
<path fill="#80a3fa" d="M665 563l3 18-3 3-3-16z"/>
<path fill="#6f92f3" d="M668 581l3 12-3 1-3-10z"/>
<path fill="#6485ec" d="M671 593l3 5-3 1-3-5z"/>
<path fill="#6f92f3" d="M357 364l3 2 3 1-3 5-3-1-3-2z"/>
<path fill="#7597f6" d="M363 367l3 1 3 2 3 1 3 1 3 2-3 5-3-2-3-1-3-1-3-2-3-1z"/>
<path fill="#7a9df8" d="M378 374l3 3-3 4-3-2z"/>
<path fill="#7597f6" d="M381 377l3 2 3 3 3 2 3 3 3 2 3 2 3 3 3 2 3 3 3 2 3 2 3 3 3 2-3 6-3-3-3-3-3-2-3-3-3-2-3-2-3-3-3-2-3-3-3-2-3-3-3-2-3-3z"/>
<path fill="#6f92f3" d="M420 408l3 3 3 3 3 4-3 8-3-5-3-4-3-3z"/>
<path fill="#6a8bef" d="M429 418l4 5-3 9-4-6z"/>
<path fill="#6485ec" d="M433 423l3 5-3 11-3-7z"/>
<path fill="#5e7de7" d="M436 428l3 6-3 11-3-6z"/>
<path fill="#5a78e4" d="M439 434l3 7-3 9-3-5z"/>
<path fill="#5470de" d="M442 441l3 4 3 0-3 7-3 2-3-4z"/>
<path fill="#5a78e4" d="M448 445l3-4-3 7-3 4z"/>
<path fill="#6a8bef" d="M451 441l3-7-3 6-3 8z"/>
<path fill="#7597f6" d="M454 434l3-7-3 6-3 7z"/>
<path fill="#85a8fc" d="M457 427l3-6-3 7-3 5z"/>
<path fill="#90b2fe" d="M460 421l3-4-3 8-3 3z"/>
<path fill="#96b7ff" d="M463 417l3-3-3 9-3 2z"/>
<path fill="#9bbcff" d="M466 414l3 0-3 9-3 0z"/>
<path fill="#a1c0ff" d="M469 414l3 0 3 2 4 2 3 3-3 10-4-3-3-2-3-2-3-1z"/>
<path fill="#9bbcff" d="M482 421l3 4 3 5 3 4-3 8-3-4-3-3-3-4z"/>
<path fill="#96b7ff" d="M491 434l3 3 3 3 4 1 3 0-3 8-4 0-3-2-3-2-3-3z"/>
<path fill="#9bbcff" d="M504 441l3-1-3 8-3 1z"/>
<path fill="#a1c0ff" d="M507 440l3-3-3 8-3 3z"/>
<path fill="#abc8fd" d="M510 437l3-6-3 10-3 4z"/>
<path fill="#b6cefa" d="M513 431l3-7-3 10-3 7z"/>
<path fill="#c5d6f2" d="M516 424l4-9-4 11-3 8z"/>
<path fill="#d3dbe7" d="M520 415l3-9-3 11-4 9z"/>
<path fill="#dfdbd9" d="M523 406l3-10-3 12-3 9z"/>
<path fill="#ead4c8" d="M526 396l3-8-3 12-3 8z"/>
<path fill="#f2cab5" d="M529 388l4-8-4 11-3 9z"/>
<path fill="#f6bda2" d="M533 380l3-7-3 12-4 6z"/>
<path fill="#f7b396" d="M536 373l3-6-3 12-3 6z"/>
<path fill="#f7a889" d="M539 367l4-5-4 12-3 5z"/>
<path fill="#f59d7e" d="M543 362l3-4-3 11-4 5z"/>
<path fill="#f39577" d="M546 358l3-3-3 9-3 5z"/>
<path fill="#f08a6c" d="M549 355l4-3-4 11-3 1z"/>
<path fill="#ec8165" d="M553 352l3-1-3 10-4 2z"/>
<path fill="#e97a5f" d="M556 351l3 1 4 3-4 10-3-3-3-1z"/>
<path fill="#ec8165" d="M563 355l3 3 3 3 3 4-3 12-3-4-4-4-3-4z"/>
<path fill="#f08a6c" d="M572 365l4 3 3 3 3 4-3 13-3-4-4-4-3-3z"/>
<path fill="#f18f71" d="M582 375l4 4 3 4-3 14-4-5-3-4z"/>
<path fill="#f39577" d="M589 383l3 4 4 4-4 15-3-5-3-4z"/>
<path fill="#f59d7e" d="M596 391l3 5-4 15-3-5z"/>
<path fill="#f6a283" d="M599 396l3 5 3 5-3 15-3-5-4-5z"/>
<path fill="#f7a889" d="M605 406l4 5-4 16-3-6z"/>
<path fill="#f7ad90" d="M609 411l3 5-4 16-3-5z"/>
<path fill="#f7b396" d="M612 416l3 6 4 5-4 16-3-5-4-6z"/>
<path fill="#f7b89c" d="M619 427l3 5-4 17-3-6z"/>
<path fill="#f6bda2" d="M622 432l3 6-3 17-4-6z"/>
<path fill="#f5c1a9" d="M625 438l3 5-3 17-3-5z"/>
<path fill="#f4c6af" d="M628 443l4 6-4 17-3-6z"/>
<path fill="#f2cab5" d="M632 449l3 5 3 5-3 18-4-5-3-6z"/>
<path fill="#f0cdbb" d="M638 459l3 7-3 17-3-6z"/>
<path fill="#edd1c2" d="M641 466l4 6-4 16-3-5z"/>
<path fill="#e7d7ce" d="M645 472l3 9-4 15-3-8z"/>
<path fill="#e3d9d3" d="M648 481l3 11-4 14-3-10z"/>
<path fill="#d7dce3" d="M651 492l3 16-4 12-3-14z"/>
<path fill="#c5d6f2" d="M654 508l3 21-4 9-3-18z"/>
<path fill="#abc8fd" d="M657 529l2 21-3 5-3-17z"/>
<path fill="#96b7ff" d="M659 550l3 18-3 3-3-16z"/>
<path fill="#80a3fa" d="M662 568l3 16-3 0-3-13z"/>
<path fill="#6f92f3" d="M665 584l3 10-3-1-3-9z"/>
<path fill="#6a8bef" d="M668 594l3 5-3-1-3-5z"/>
<path fill="#6a8bef" d="M354 369l3 2-3 4-3-1z"/>
<path fill="#6f92f3" d="M357 371l3 1 3 1 3 2 3 1-3 4-3-1-3-1-3-1-3-2z"/>
<path fill="#7597f6" d="M369 376l3 1 3 2 3 2 3 3 3 2 3 3-3 5-3-3-3-2-3-3-3-2-3-2-3-2z"/>
<path fill="#6f92f3" d="M387 389l3 2 3 3 3 2 3 3 3 2 3 2 3 3 3 2 3 3 3 3-3 6-3-3-3-3-3-3-3-2-3-3-3-2-3-3-3-2-3-3-3-2z"/>
<path fill="#6a8bef" d="M417 414l3 3 3 4-3 8-3-5-3-4z"/>
<path fill="#6485ec" d="M423 421l3 5-3 9-3-6z"/>
<path fill="#5e7de7" d="M426 426l4 6-3 10-4-7z"/>
<path fill="#5a78e4" d="M430 432l3 7-3 10-3-7z"/>
<path fill="#5470de" d="M433 439l3 6-3 10-3-6z"/>
<path fill="#506bda" d="M436 445l3 5-3 9-3-4z"/>
<path fill="#4a63d3" d="M439 450l3 4-3 7-3-2z"/>
<path fill="#506bda" d="M442 454l3-2-3 7-3 2z"/>
<path fill="#5470de" d="M445 452l3-4-3 6-3 5z"/>
<path fill="#6485ec" d="M448 448l3-8-3 6-3 8z"/>
<path fill="#6f92f3" d="M451 440l3-7-3 6-3 7z"/>
<path fill="#7a9df8" d="M454 433l3-5-3 7-3 4z"/>
<path fill="#85a8fc" d="M457 428l3-3-3 8-3 2z"/>
<path fill="#8badfd" d="M460 425l3-2-3 9-3 1z"/>
<path fill="#90b2fe" d="M463 423l3 0-3 9-3 0z"/>
<path fill="#96b7ff" d="M466 423l3 1 3 2 3 2 4 3-4 9-3-3-3-2-3-2-3-1z"/>
<path fill="#90b2fe" d="M479 431l3 4 3 3 3 4 3 3 3 2 3 2 4 0-4 7-3 0-3-1-3-3-3-2-3-4-3-3-4-3z"/>
<path fill="#96b7ff" d="M501 449l3-1-3 8-4 0z"/>
<path fill="#9bbcff" d="M504 448l3-3-3 8-3 3z"/>
<path fill="#a1c0ff" d="M507 445l3-4-3 8-3 4z"/>
<path fill="#abc8fd" d="M510 441l3-7-3 9-3 6z"/>
<path fill="#bad0f8" d="M513 434l3-8-3 10-3 7z"/>
<path fill="#cad8ef" d="M516 426l4-9-4 11-3 8z"/>
<path fill="#d7dce3" d="M520 417l3-9-3 11-4 9z"/>
<path fill="#e3d9d3" d="M523 408l3-8-3 11-3 8z"/>
<path fill="#ead4c8" d="M526 400l3-9-3 13-3 7z"/>
<path fill="#f2cab5" d="M529 391l4-6-4 13-3 6z"/>
<path fill="#f5c1a9" d="M533 385l3-6-3 13-4 6z"/>
<path fill="#f7b89c" d="M536 379l3-5-3 12-3 6z"/>
<path fill="#f7ad90" d="M539 374l4-5-4 11-3 6z"/>
<path fill="#f6a283" d="M543 369l3-5-3 13-4 3z"/>
<path fill="#f59d7e" d="M546 364l3-1-3 12-3 2z"/>
<path fill="#f18f71" d="M549 363l4-2 3 1 3 3 3 4-3 13-3-4-3-4-4-1-3 2z"/>
<path fill="#f39577" d="M562 369l4 4 3 4 3 3-3 15-3-4-4-5-3-4z"/>
<path fill="#f59d7e" d="M572 380l4 4 3 4-4 16-3-5-3-4z"/>
<path fill="#f6a283" d="M579 388l3 4 4 5-4 16-3-5-4-4z"/>
<path fill="#f7a889" d="M586 397l3 4-4 17-3-5z"/>
<path fill="#f7ad90" d="M589 401l3 5 3 5-3 17-3-5-4-5z"/>
<path fill="#f7b396" d="M595 411l4 5-4 17-3-5z"/>
<path fill="#f7b89c" d="M599 416l3 5-4 17-3-5z"/>
<path fill="#f6bda2" d="M602 421l3 6-3 17-4-6z"/>
<path fill="#f5c1a9" d="M605 427l3 5 4 6-4 17-3-6-3-5z"/>
<path fill="#f4c6af" d="M612 438l3 5-4 17-3-5z"/>
<path fill="#f2cab5" d="M615 443l3 6-3 17-4-6z"/>
<path fill="#f0cdbb" d="M618 449l4 6-4 16-3-5z"/>
<path fill="#edd1c2" d="M622 455l3 5-4 17-3-6z"/>
<path fill="#ead4c8" d="M625 460l3 6 3 6-3 16-4-6-3-5z"/>
<path fill="#e7d7ce" d="M631 472l4 5-4 16-3-5z"/>
<path fill="#e3d9d3" d="M635 477l3 6-4 15-3-5z"/>
<path fill="#dfdbd9" d="M638 483l3 5-4 16-3-6z"/>
<path fill="#dadce0" d="M641 488l3 8-3 14-4-6z"/>
<path fill="#d3dbe7" d="M644 496l3 10-3 12-3-8z"/>
<path fill="#cad8ef" d="M647 506l3 14-3 11-3-13z"/>
<path fill="#bad0f8" d="M650 520l3 18-3 7-3-14z"/>
<path fill="#a6c4fe" d="M653 538l3 17-3 4-3-14z"/>
<path fill="#90b2fe" d="M656 555l3 16-3 2-3-14z"/>
<path fill="#80a3fa" d="M659 571l3 13-3-1-3-10z"/>
<path fill="#7597f6" d="M662 584l3 9-3-2-3-8z"/>
<path fill="#6f92f3" d="M665 593l3 5-3-3-3-4z"/>
<path fill="#6a8bef" d="M351 374l3 1 3 2 3 1-3 4-3-1-3-2-3-2z"/>
<path fill="#6f92f3" d="M360 378l3 1 3 1 3 2 3 2 3 2 3 3 3 2 3 3 3 2 3 3-3 5-3-3-3-2-3-3-4-2-3-3-3-2-3-2-3-2-3-2-2-1z"/>
<path fill="#6a8bef" d="M390 399l3 2 3 3 3 2 3 3 3 2 3 3 3 3-3 7-3-3-3-3-3-3-3-3-3-3-3-2-3-3z"/>
<path fill="#6485ec" d="M411 417l3 3 3 4-3 8-3-4-3-4z"/>
<path fill="#5e7de7" d="M417 424l3 5-3 9-3-6z"/>
<path fill="#5a78e4" d="M420 429l3 6-3 10-3-7z"/>
<path fill="#5470de" d="M423 435l4 7-3 10-4-7z"/>
<path fill="#506bda" d="M427 442l3 7-3 9-3-6z"/>
<path fill="#4a63d3" d="M430 449l3 6-3 7-3-4z"/>
<path fill="#455cce" d="M433 455l3 4 3 2-3 2-3 1-3-2z"/>
<path fill="#4a63d3" d="M439 461l3-2-3 2-3 2z"/>
<path fill="#5470de" d="M442 459l3-5-3 3-3 4z"/>
<path fill="#5e7de7" d="M445 454l3-8-3 5-3 6z"/>
<path fill="#6a8bef" d="M448 446l3-7-3 6-3 6z"/>
<path fill="#7597f6" d="M451 439l3-4-3 6-3 4z"/>
<path fill="#80a3fa" d="M454 435l3-2-3 7-3 1z"/>
<path fill="#85a8fc" d="M457 433l3-1 3 0-3 9-3-1-3 0z"/>
<path fill="#8badfd" d="M463 432l3 1 3 2 3 2 3 3 4 3 3 3-3 8-4-3-3-2-3-3-3-2-3-2-3-1z"/>
<path fill="#85a8fc" d="M482 446l3 4 3 2 3 3 3 1-3 7-3-2-3-2-3-2-3-3z"/>
<path fill="#8badfd" d="M494 456l3 0 4 0-4 6-3 1-3 0z"/>
<path fill="#90b2fe" d="M501 456l3-3-3 7-4 2z"/>
<path fill="#9bbcff" d="M504 453l3-4-3 7-3 4z"/>
<path fill="#a6c4fe" d="M507 449l3-6-3 8-3 5z"/>
<path fill="#b1cbfc" d="M510 443l3-7-3 9-3 6z"/>
<path fill="#c0d4f5" d="M513 436l3-8-3 10-3 7z"/>
<path fill="#cedaeb" d="M516 428l4-9-4 11-3 8z"/>
<path fill="#d7dce3" d="M520 419l3-8-3 13-4 6z"/>
<path fill="#e3d9d3" d="M523 411l3-7-3 14-3 6z"/>
<path fill="#ead4c8" d="M526 404l3-6-3 13-3 7z"/>
<path fill="#f0cdbb" d="M529 398l4-6-4 13-3 6z"/>
<path fill="#f5c1a9" d="M533 392l3-6-3 13-4 6z"/>
<path fill="#f7b89c" d="M536 386l3-6-3 13-3 6z"/>
<path fill="#f7b396" d="M539 380l4-3-4 14-3 2z"/>
<path fill="#f7a889" d="M543 377l3-2-3 14-4 2z"/>
<path fill="#f6a283" d="M546 375l3-2 4 1 3 4 3 4-3 16-4-5-3-4-3-2-3 2z"/>
<path fill="#f7a889" d="M559 382l3 4 4 5-4 16-3-5-3-4z"/>
<path fill="#f7ad90" d="M566 391l3 4 3 4-3 17-3-4-4-5z"/>
<path fill="#f7b396" d="M572 399l3 5-3 17-3-5z"/>
<path fill="#f7b89c" d="M575 404l4 4 3 5-3 18-4-5-3-5z"/>
<path fill="#f6bda2" d="M582 413l3 5-3 17-3-4z"/>
<path fill="#f5c1a9" d="M585 418l4 5 3 5-4 17-3-5-3-5z"/>
<path fill="#f4c6af" d="M592 428l3 5-3 18-4-6z"/>
<path fill="#f2cab5" d="M595 433l3 5-3 18-3-5z"/>
<path fill="#f0cdbb" d="M598 438l4 6 3 5-4 17-3-5-3-5z"/>
<path fill="#edd1c2" d="M605 449l3 6-3 16-4-5z"/>
<path fill="#ead4c8" d="M608 455l3 5-3 17-3-6z"/>
<path fill="#e7d7ce" d="M611 460l4 6-4 16-3-5z"/>
<path fill="#e3d9d3" d="M615 466l3 5 3 6-3 15-4-5-3-5z"/>
<path fill="#dfdbd9" d="M621 477l3 5-3 15-3-5z"/>
<path fill="#dadce0" d="M624 482l4 6-4 14-3-5z"/>
<path fill="#d7dce3" d="M628 488l3 5 3 5-3 14-4-5-3-5z"/>
<path fill="#d3dbe7" d="M634 498l3 6-3 13-3-5z"/>
<path fill="#cedaeb" d="M637 504l4 6-4 12-3-5z"/>
<path fill="#cad8ef" d="M641 510l3 8-4 11-3-7z"/>
<path fill="#c0d4f5" d="M644 518l3 13-4 8-3-10z"/>
<path fill="#b1cbfc" d="M647 531l3 14-4 6-3-12z"/>
<path fill="#a1c0ff" d="M650 545l3 14-4 5-3-13z"/>
<path fill="#90b2fe" d="M653 559l3 14-3 2-4-11z"/>
<path fill="#85a8fc" d="M656 573l3 10-3 1-3-9z"/>
<path fill="#7a9df8" d="M659 583l3 8-3-1-3-6z"/>
<path fill="#7597f6" d="M662 591l3 4-3-1-3-4z"/>
<path fill="#6a8bef" d="M348 377l3 2 3 2 3 1 2 1 3 2 3 2 3 2 3 2 3 3 4 2 3 3 3 2 3 3-3 6-3-3-3-2-4-3-3-3-3-2-3-3-3-2-3-3-3-2-3-1-3-2-3-1-2-2z"/>
<path fill="#6485ec" d="M387 404l3 3 3 2 3 3 3 3 3 3-3 7-3-3-3-3-3-3-3-3-3-3z"/>
<path fill="#5e7de7" d="M402 418l3 3 3 3 3 4-3 9-3-4-3-4-3-4z"/>
<path fill="#5a78e4" d="M411 428l3 4-3 9-3-4z"/>
<path fill="#5470de" d="M414 432l3 6-3 9-3-6z"/>
<path fill="#506bda" d="M417 438l3 7-3 9-3-7z"/>
<path fill="#4a63d3" d="M420 445l4 7-3 8-4-6z"/>
<path fill="#455cce" d="M424 452l3 6-3 6-3-4z"/>
<path fill="#4055c8" d="M427 458l3 4 3 2-3 2-3 0-3-2z"/>
<path fill="#455cce" d="M433 464l3-1-3 1-3 2z"/>
<path fill="#4a63d3" d="M436 463l3-2-3-1-3 4z"/>
<path fill="#5470de" d="M439 461l3-4-3 0-3 3z"/>
<path fill="#5e7de7" d="M442 457l3-6-3 2-3 4z"/>
<path fill="#6a8bef" d="M445 451l3-6-3 4-3 4z"/>
<path fill="#6f92f3" d="M448 445l3-4-3 6-3 2z"/>
<path fill="#7a9df8" d="M451 441l3-1 3 0-3 7-3 0-3 0z"/>
<path fill="#80a3fa" d="M457 440l3 1 3 1 3 2 3 2 3 3 3 2 4 3 3 3 3 2 3 2 3 2-3 6-3-2-3-1-3-2-4-3-3-2-3-3-3-2-3-2-3-2-3-2-3-1z"/>
<path fill="#85a8fc" d="M491 463l3 0 3-1-3 6-3 1-3 0z"/>
<path fill="#8badfd" d="M497 462l4-2-4 6-3 2z"/>
<path fill="#96b7ff" d="M501 460l3-4-3 7-4 3z"/>
<path fill="#9bbcff" d="M504 456l3-5-3 7-3 5z"/>
<path fill="#abc8fd" d="M507 451l3-6-3 8-3 5z"/>
<path fill="#b6cefa" d="M510 445l3-7-3 8-3 7z"/>
<path fill="#c0d4f5" d="M513 438l3-8-3 11-3 5z"/>
<path fill="#cedaeb" d="M516 430l4-6-4 12-3 5z"/>
<path fill="#d7dce3" d="M520 424l3-6-3 12-4 6z"/>
<path fill="#dfdbd9" d="M523 418l3-7-3 13-3 6z"/>
<path fill="#e7d7ce" d="M526 411l3-6-3 13-3 6z"/>
<path fill="#f0cdbb" d="M529 405l4-6-4 13-3 6z"/>
<path fill="#f4c6af" d="M533 399l3-6-3 16-4 3z"/>
<path fill="#f5c1a9" d="M536 393l3-2-3 16-3 2z"/>
<path fill="#f6bda2" d="M539 391l4-2-4 16-3 2z"/>
<path fill="#f7b89c" d="M543 389l3-2-3 16-4 2z"/>
<path fill="#f7b396" d="M546 387l3 2 3 4-3 17-3-4-3-3z"/>
<path fill="#f7b89c" d="M552 393l4 5-4 17-3-5z"/>
<path fill="#f6bda2" d="M556 398l3 4 3 5-3 18-3-5-4-5z"/>
<path fill="#f5c1a9" d="M562 407l4 5 3 4-4 18-3-4-3-5z"/>
<path fill="#f4c6af" d="M569 416l3 5-3 18-4-5z"/>
<path fill="#f2cab5" d="M572 421l3 5 4 5-4 17-3-5-3-4z"/>
<path fill="#f0cdbb" d="M579 431l3 4-4 18-3-5z"/>
<path fill="#edd1c2" d="M582 435l3 5 3 5-3 17-3-5-4-4z"/>
<path fill="#ead4c8" d="M588 445l4 6-4 16-3-5z"/>
<path fill="#e7d7ce" d="M592 451l3 5 3 5-3 15-4-4-3-5z"/>
<path fill="#e3d9d3" d="M598 461l3 5-3 15-3-5z"/>
<path fill="#dfdbd9" d="M601 466l4 5-4 15-3-5z"/>
<path fill="#dadce0" d="M605 471l3 6 3 5-3 14-4-5-3-5z"/>
<path fill="#d7dce3" d="M611 482l3 5-3 13-3-4z"/>
<path fill="#d3dbe7" d="M614 487l4 5 3 5-4 13-3-5-3-5z"/>
<path fill="#cedaeb" d="M621 497l3 5-3 12-4-4z"/>
<path fill="#cad8ef" d="M624 502l3 5 4 5-4 11-3-4-3-5z"/>
<path fill="#c5d6f2" d="M631 512l3 5-4 11-3-5z"/>
<path fill="#c0d4f5" d="M634 517l3 5 3 7-3 9-3-6-4-4z"/>
<path fill="#b6cefa" d="M640 529l3 10-3 8-3-9z"/>
<path fill="#abc8fd" d="M643 539l3 12-3 6-3-10z"/>
<path fill="#9bbcff" d="M646 551l3 13-3 4-3-11z"/>
<path fill="#90b2fe" d="M649 564l4 11-4 2-3-9z"/>
<path fill="#85a8fc" d="M653 575l3 9-4 1-3-8z"/>
<path fill="#80a3fa" d="M656 584l3 6-3 1-4-6z"/>
<path fill="#7a9df8" d="M659 590l3 4-3 1-3-4z"/>
<path fill="#6485ec" d="M345 381l2 2 3 1 3 2-3 4-3-2-3-2-3-2z"/>
<path fill="#6a8bef" d="M353 386l3 1 3 2 3 3-3 5-3-3-3-2-3-2z"/>
<path fill="#6485ec" d="M362 392l3 2 3 3 3 2 3 3 4 3 3 2-3 7-4-3-3-3-3-3-3-3-3-3-3-2z"/>
<path fill="#5e7de7" d="M381 407l3 3 3 3 3 3 3 3 3 3-3 7-3-3-3-3-3-3-3-3-3-3z"/>
<path fill="#5a78e4" d="M396 422l3 3 3 4-3 8-3-5-3-3z"/>
<path fill="#5470de" d="M402 429l3 4 3 4-3 9-3-5-3-4z"/>
<path fill="#506bda" d="M408 437l3 4-3 10-3-5z"/>
<path fill="#4a63d3" d="M411 441l3 6-3 8-3-4z"/>
<path fill="#455cce" d="M414 447l3 7-3 7-3-6z"/>
<path fill="#4055c8" d="M417 454l4 6 3 4 3 2-3 1-3 0-4-2-3-4z"/>
<path fill="#455cce" d="M427 466l3 0-4-1-2 2z"/>
<path fill="#4a63d3" d="M430 466l3-2-4-2-3 3z"/>
<path fill="#506bda" d="M433 464l3-4-4-1-3 3z"/>
<path fill="#5a78e4" d="M436 460l3-3-4-1-3 3z"/>
<path fill="#5e7de7" d="M439 457l3-4-4 1-3 2z"/>
<path fill="#6a8bef" d="M442 453l3-4-4 4-3 1z"/>
<path fill="#6f92f3" d="M445 449l3-2-4 5-3 1z"/>
<path fill="#7597f6" d="M448 447l3 0 3 0 3 1-3 7-3-1-3-2-4 0z"/>
<path fill="#7a9df8" d="M457 448l3 2 3 2 3 2 3 2 3 3 3 2 4 3 3 2 3 1 3 2-3 5-3-1-3-1-4-2-3-2-3-3-3-2-3-2-3-2-3-2-3-2z"/>
<path fill="#80a3fa" d="M488 469l3 0 3-1-3 6-3 0-3 0z"/>
<path fill="#85a8fc" d="M494 468l3-2-3 6-3 2z"/>
<path fill="#90b2fe" d="M497 466l4-3-4 6-3 3z"/>
<path fill="#96b7ff" d="M501 463l3-5-4 7-3 4z"/>
<path fill="#a1c0ff" d="M504 458l3-5-3 7-4 5z"/>
<path fill="#abc8fd" d="M507 453l3-7-3 10-3 4z"/>
<path fill="#b6cefa" d="M510 446l3-5-3 11-3 4z"/>
<path fill="#c0d4f5" d="M513 441l3-5-3 11-3 5z"/>
<path fill="#cad8ef" d="M516 436l4-6-4 12-3 5z"/>
<path fill="#d3dbe7" d="M520 430l3-6-3 13-4 5z"/>
<path fill="#dfdbd9" d="M523 424l3-6-3 13-3 6z"/>
<path fill="#e7d7ce" d="M526 418l3-6-3 14-3 5z"/>
<path fill="#ead4c8" d="M529 412l4-3-4 16-3 1z"/>
<path fill="#edd1c2" d="M533 409l3-2-3 16-4 2z"/>
<path fill="#f2cab5" d="M536 407l3-2-3 17-3 1z"/>
<path fill="#f4c6af" d="M539 405l4-2 3 3 3 4-3 18-4-5-3-3-3 2z"/>
<path fill="#f2cab5" d="M549 410l3 5-3 18-3-5z"/>
<path fill="#f0cdbb" d="M552 415l4 5 3 5-4 17-3-5-3-4z"/>
<path fill="#edd1c2" d="M559 425l3 5 3 4-3 17-3-5-4-4z"/>
<path fill="#ead4c8" d="M565 434l4 5-4 16-3-4z"/>
<path fill="#e7d7ce" d="M569 439l3 4 3 5-3 16-4-4-3-5z"/>
<path fill="#e3d9d3" d="M575 448l3 5 4 4-4 16-3-5-3-4z"/>
<path fill="#dfdbd9" d="M582 457l3 5-4 15-3-4z"/>
<path fill="#dadce0" d="M585 462l3 5 3 5-3 14-3-5-4-4z"/>
<path fill="#d7dce3" d="M591 472l4 4 3 5-4 13-3-4-3-4z"/>
<path fill="#d3dbe7" d="M598 481l3 5-3 13-4-5z"/>
<path fill="#cedaeb" d="M601 486l3 5 4 5-4 12-3-5-3-4z"/>
<path fill="#cad8ef" d="M608 496l3 4 3 5-3 11-3-4-4-4z"/>
<path fill="#c5d6f2" d="M614 505l3 5 4 4-4 10-3-4-3-4z"/>
<path fill="#c0d4f5" d="M621 514l3 5 3 4-3 10-3-5-4-4z"/>
<path fill="#bad0f8" d="M627 523l3 5 4 4-4 9-3-4-3-4z"/>
<path fill="#b6cefa" d="M634 532l3 6-3 7-4-4z"/>
<path fill="#b1cbfc" d="M637 538l3 9-3 6-3-8z"/>
<path fill="#a6c4fe" d="M640 547l3 10-3 5-3-9z"/>
<path fill="#9bbcff" d="M643 557l3 11-3 4-3-10z"/>
<path fill="#90b2fe" d="M646 568l3 9-3 3-3-8z"/>
<path fill="#85a8fc" d="M649 577l3 8-3 2-3-7z"/>
<path fill="#80a3fa" d="M652 585l4 6-3 2-4-6z"/>
<path fill="#7a9df8" d="M656 591l3 4-3 1-3-3z"/>
<path fill="#6485ec" d="M341 384l3 2 3 2 3 2 3 2 3 2 3 3 3 2-3 6-3-3-3-3-3-3-3-3-3-2-3-2-3-2z"/>
<path fill="#5e7de7" d="M362 399l3 3 3 3 3 3 3 3 4 3-4 6-3-3-3-3-3-3-3-3-3-3z"/>
<path fill="#5a78e4" d="M378 414l3 3 3 3 3 3-3 7-3-3-3-4-4-3z"/>
<path fill="#5470de" d="M387 423l3 3 3 3 3 3-3 8-3-4-3-3-3-3z"/>
<path fill="#506bda" d="M396 432l3 5 3 4-3 7-3-4-3-4z"/>
<path fill="#4a63d3" d="M402 441l3 5 3 5-3 6-3-4-3-5z"/>
<path fill="#455cce" d="M408 451l3 4-3 6-3-4z"/>
<path fill="#4055c8" d="M411 455l3 6 3 4 4 2-4 0-3 0-3-2-3-4z"/>
<path fill="#455cce" d="M421 467l3 0-4-2-3 2z"/>
<path fill="#4a63d3" d="M424 467l2-2-3-2-3 2z"/>
<path fill="#506bda" d="M426 465l3-3-3-2-3 3z"/>
<path fill="#5470de" d="M429 462l3-3-3-1-3 2z"/>
<path fill="#5e7de7" d="M432 459l3-3-3 0-3 2z"/>
<path fill="#6485ec" d="M435 456l3-2-3 2-3 0z"/>
<path fill="#6a8bef" d="M438 454l3-1 3-1-3 5-3-1-3 0z"/>
<path fill="#6f92f3" d="M444 452l4 0 3 2 3 1 3 2-3 6-3-2-4-2-3-1-3-1z"/>
<path fill="#7597f6" d="M457 457l3 2 3 2 3 2 3 2 3 3 3 2 4 2 3 1 3 1-3 5-3 0-4-2-3-2-3-2-3-2-3-2-3-2-3-2-3-2z"/>
<path fill="#7a9df8" d="M485 474l3 0-3 5-3 0z"/>
<path fill="#80a3fa" d="M488 474l3 0 3-2-3 5-3 2-3 0z"/>
<path fill="#8badfd" d="M494 472l3-3-3 5-3 3z"/>
<path fill="#90b2fe" d="M497 469l3-4-3 6-3 3z"/>
<path fill="#9bbcff" d="M500 465l4-5-4 8-3 3z"/>
<path fill="#a6c4fe" d="M504 460l3-4-3 9-4 3z"/>
<path fill="#abc8fd" d="M507 456l3-4-3 10-3 3z"/>
<path fill="#b6cefa" d="M510 452l3-5-3 11-3 4z"/>
<path fill="#c0d4f5" d="M513 447l3-5-3 11-3 5z"/>
<path fill="#cad8ef" d="M516 442l4-5-4 11-3 5z"/>
<path fill="#d3dbe7" d="M520 437l3-6-3 12-4 5z"/>
<path fill="#dadce0" d="M523 431l3-5-3 15-3 2z"/>
<path fill="#dfdbd9" d="M526 426l3-1-3 15-3 1z"/>
<path fill="#e3d9d3" d="M529 425l4-2-4 16-3 1z"/>
<path fill="#e7d7ce" d="M533 423l3-1-3 16-4 1z"/>
<path fill="#ead4c8" d="M536 422l3-2 3 3 4 5-4 17-3-4-3-4-3 1z"/>
<path fill="#e7d7ce" d="M546 428l3 5 3 4-3 16-3-4-4-4z"/>
<path fill="#e3d9d3" d="M552 437l3 5-3 16-3-5z"/>
<path fill="#dfdbd9" d="M555 442l4 4 3 5-3 15-4-4-3-4z"/>
<path fill="#dadce0" d="M562 451l3 4 3 5-3 14-3-4-3-4z"/>
<path fill="#d7dce3" d="M568 460l4 4 3 4-3 14-4-4-3-4z"/>
<path fill="#d3dbe7" d="M575 468l3 5 3 4-3 13-3-4-3-4z"/>
<path fill="#cedaeb" d="M581 477l4 4 3 5-3 11-4-3-3-4z"/>
<path fill="#cad8ef" d="M588 486l3 4 3 4-3 11-3-4-3-4z"/>
<path fill="#c5d6f2" d="M594 494l4 5 3 4-3 10-4-4-3-4z"/>
<path fill="#c0d4f5" d="M601 503l3 5 4 4 3 4-4 9-3-4-3-4-3-4z"/>
<path fill="#bad0f8" d="M611 516l3 4 3 4-3 9-3-4-4-4z"/>
<path fill="#b6cefa" d="M617 524l4 4 3 5-3 7-4-3-3-4z"/>
<path fill="#b1cbfc" d="M624 533l3 4 3 4-3 7-3-4-3-4z"/>
<path fill="#abc8fd" d="M630 541l4 4 3 8-3 6-4-7-3-4z"/>
<path fill="#a1c0ff" d="M637 553l3 9-3 5-3-8z"/>
<path fill="#96b7ff" d="M640 562l3 10-3 3-3-8z"/>
<path fill="#90b2fe" d="M643 572l3 8-3 3-3-8z"/>
<path fill="#85a8fc" d="M646 580l3 7-3 2-3-6z"/>
<path fill="#80a3fa" d="M649 587l4 6 3 3-3 2-4-4-3-5z"/>
<path fill="#6485ec" d="M338 387l3 2 3 2 3 2 3 3-3 4-3-3-3-3-3-2-3-2z"/>
<path fill="#5e7de7" d="M350 396l3 3 3 3 3 3 3 3-3 5-3-4-3-3-3-3-3-3z"/>
<path fill="#5a78e4" d="M362 408l3 3 3 3 3 3 3 3-3 5-3-3-3-3-3-3-3-3z"/>
<path fill="#5470de" d="M374 420l4 3 3 4 3 3-3 5-3-3-4-4-3-3z"/>
<path fill="#506bda" d="M384 430l3 3 3 3 3 4-3 4-3-3-3-3-3-3z"/>
<path fill="#4a63d3" d="M393 440l3 4 3 4-3 4-3-4-3-4z"/>
<path fill="#455cce" d="M399 448l3 5 3 4-3 3-3-4-3-4z"/>
<path fill="#4055c8" d="M405 457l3 4 3 4 3 2-3-1-3 1-3-4-3-3z"/>
<path fill="#455cce" d="M414 467l3 0-3-2-3 1z"/>
<path fill="#4a63d3" d="M417 467l3-2-3-3-3 3z"/>
<path fill="#506bda" d="M420 465l3-2-3-3-3 2z"/>
<path fill="#5470de" d="M423 463l3-3-3-2-3 2z"/>
<path fill="#5a78e4" d="M426 460l3-2-3-1-3 1z"/>
<path fill="#5e7de7" d="M429 458l3-2-3 1-3 0z"/>
<path fill="#6485ec" d="M432 456l3 0 3 0-3 3-3-1-3-1z"/>
<path fill="#6a8bef" d="M438 456l3 1 3 1 3 1 4 2 3 2-3 5-4-2-3-1-3-3-3-1-3-2z"/>
<path fill="#6f92f3" d="M454 463l3 2 3 2 3 2 3 2 3 2 3 2 3 2 4 2-4 4-3-1-3-2-3-1-3-2-3-2-3-3-3-2-3-2z"/>
<path fill="#7597f6" d="M479 479l3 0 3 0-3 5-3 0-4-1z"/>
<path fill="#7a9df8" d="M485 479l3 0-3 4-3 1z"/>
<path fill="#80a3fa" d="M488 479l3-2-3 5-3 1z"/>
<path fill="#85a8fc" d="M491 477l3-3-3 5-3 3z"/>
<path fill="#8badfd" d="M494 474l3-3-3 7-3 1z"/>
<path fill="#96b7ff" d="M497 471l3-3-3 8-3 2z"/>
<path fill="#9bbcff" d="M500 468l4-3-4 9-3 2z"/>
<path fill="#a1c0ff" d="M504 465l3-3-3 8-4 4z"/>
<path fill="#abc8fd" d="M507 462l3-4-3 9-3 3z"/>
<path fill="#b6cefa" d="M510 458l3-5-3 10-3 4z"/>
<path fill="#bad0f8" d="M513 453l3-5-3 11-3 4z"/>
<path fill="#c5d6f2" d="M516 448l4-5-4 12-3 4z"/>
<path fill="#cedaeb" d="M520 443l3-2-3 13-4 1z"/>
<path fill="#d3dbe7" d="M523 441l3-1 3-1-3 15-3 0-3 0z"/>
<path fill="#d7dce3" d="M529 439l4-1-4 16-3 0z"/>
<path fill="#dadce0" d="M533 438l3-1 3 4 3 4 4 4-4 15-3-4-3-4-3-3-4 1z"/>
<path fill="#d7dce3" d="M546 449l3 4 3 5-3 13-3-4-4-3z"/>
<path fill="#d3dbe7" d="M552 458l3 4 4 4-4 13-3-4-3-4z"/>
<path fill="#cedaeb" d="M559 466l3 4 3 4 3 4-3 11-3-3-3-4-4-3z"/>
<path fill="#cad8ef" d="M568 478l4 4 3 4-3 10-4-3-3-4z"/>
<path fill="#c5d6f2" d="M575 486l3 4 3 4 4 3-4 10-3-3-3-4-3-4z"/>
<path fill="#c0d4f5" d="M585 497l3 4 3 4-3 10-3-4-4-4z"/>
<path fill="#bad0f8" d="M591 505l3 4 4 4 3 4-3 9-4-4-3-4-3-3z"/>
<path fill="#b6cefa" d="M601 517l3 4 3 4-3 8-3-4-3-3z"/>
<path fill="#b1cbfc" d="M607 525l4 4 3 4 3 4-3 7-3-4-4-4-3-3z"/>
<path fill="#abc8fd" d="M617 537l4 3 3 4 3 4-3 6-4-4-3-3-3-3z"/>
<path fill="#a6c4fe" d="M627 548l3 4 4 7-4 4-3-6-3-3z"/>
<path fill="#9bbcff" d="M634 559l3 8-4 4-3-8z"/>
<path fill="#96b7ff" d="M637 567l3 8-3 3-4-7z"/>
<path fill="#8badfd" d="M640 575l3 8-3 2-3-7z"/>
<path fill="#85a8fc" d="M643 583l3 6-3 2-3-6z"/>
<path fill="#80a3fa" d="M646 589l3 5 4 4-3 1-4-3-3-5z"/>
<path fill="#5e7de7" d="M335 390l3 2 3 2 3 3 3 3 3 3 3 3-3 3-3-3-3-4-3-2-3-3-3-2-3-2z"/>
<path fill="#5a78e4" d="M353 406l3 3 3 4 3 3 3 3-3 3-3-3-3-3-3-3-3-4z"/>
<path fill="#5470de" d="M365 419l3 3 3 3 3 3 4 4-4 2-3-3-3-3-3-3-3-3z"/>
<path fill="#506bda" d="M378 432l3 3 3 3 3 3 3 3-3 2-3-3-4-3-3-3-3-3z"/>
<path fill="#4a63d3" d="M390 444l3 4 3 4-3 0-3-3-3-3z"/>
<path fill="#455cce" d="M396 452l3 4 3 4 3 3 3 4 3-1-3-2-3 0-3-3-3-3-3-3-3-3z"/>
<path fill="#4a63d3" d="M411 466l3-1-3-3-3 2z"/>
<path fill="#506bda" d="M414 465l3-3-3-2-3 2z"/>
<path fill="#5470de" d="M417 462l3-2-3-2-3 2z"/>
<path fill="#5a78e4" d="M420 460l3-2-3 0-3 0z"/>
<path fill="#5e7de7" d="M423 458l3-1-3 1-3 0z"/>
<path fill="#6485ec" d="M426 457l3 0 3 1 3 1 3 2-3 3-3-2-3-1-3-2-3-1z"/>
<path fill="#6a8bef" d="M438 461l3 1 3 3 3 1 4 2 3 2 3 2 3 3 3 2 3 2 3 1 3 2-3 4-3-1-3-2-3-2-3-2-3-2-3-2-4-2-3-2-3-2-3-2-3-3z"/>
<path fill="#6f92f3" d="M472 482l3 1 4 1 3 0-3 4-4 0-3 0-3-2z"/>
<path fill="#7597f6" d="M482 484l3-1-3 5-3 0z"/>
<path fill="#7a9df8" d="M485 483l3-1-3 4-3 2z"/>
<path fill="#80a3fa" d="M488 482l3-3-3 7-3 0z"/>
<path fill="#85a8fc" d="M491 479l3-1-3 7-3 1z"/>
<path fill="#8badfd" d="M494 478l3-2-3 7-3 2z"/>
<path fill="#90b2fe" d="M497 476l3-2-3 7-3 2z"/>
<path fill="#9bbcff" d="M500 474l4-4-4 8-3 3z"/>
<path fill="#a1c0ff" d="M504 470l3-3-3 8-4 3z"/>
<path fill="#abc8fd" d="M507 467l3-4-3 9-3 3z"/>
<path fill="#b1cbfc" d="M510 463l3-4-3 9-3 4z"/>
<path fill="#bad0f8" d="M513 459l3-4-3 11-3 2z"/>
<path fill="#c0d4f5" d="M516 455l4-1-4 12-3 0z"/>
<path fill="#c5d6f2" d="M520 454l3 0 3 0-3 12-3 0-4 0z"/>
<path fill="#cad8ef" d="M526 454l3 0-3 13-3-1z"/>
<path fill="#cedaeb" d="M529 454l4-1 3 3 3 4-3 12-3-3-4-2-3 0z"/>
<path fill="#cad8ef" d="M539 460l3 4 4 3 3 4-4 11-3-3-3-3-3-4z"/>
<path fill="#c5d6f2" d="M549 471l3 4 3 4 4 3 3 4-4 9-3-3-3-3-3-3-4-4z"/>
<path fill="#c0d4f5" d="M562 486l3 3 3 4 4 3-4 9-3-3-3-3-4-4z"/>
<path fill="#bad0f8" d="M572 496l3 4 3 4 3 3-3 9-3-4-4-3-3-4z"/>
<path fill="#b6cefa" d="M581 507l4 4 3 4 3 3-3 8-3-4-4-3-3-3z"/>
<path fill="#b1cbfc" d="M591 518l3 4 4 4 3 3-3 7-4-3-3-4-3-3z"/>
<path fill="#abc8fd" d="M601 529l3 4 3 3 4 4 3 4-3 6-4-4-3-3-3-3-3-4z"/>
<path fill="#a6c4fe" d="M614 544l3 3 3 3 4 4 3 3-3 5-3-3-4-3-3-3-3-3z"/>
<path fill="#a1c0ff" d="M627 557l3 6-3 5-3-6z"/>
<path fill="#9bbcff" d="M630 563l3 8-3 3-3-6z"/>
<path fill="#96b7ff" d="M633 571l4 7-4 2-3-6z"/>
<path fill="#8badfd" d="M637 578l3 7-3 2-4-7z"/>
<path fill="#85a8fc" d="M640 585l3 6 3 5-3 1-3-5-3-5z"/>
<path fill="#80a3fa" d="M646 596l4 3-4 1-3-3z"/>
<path fill="#5e7de7" d="M332 393l3 2 3 2 3 3 3 2 3 4 3 3-3 2-3-3-3-3-3-3-3-3-3-2-3-2z"/>
<path fill="#5a78e4" d="M350 409l3 4 3 3 3 3 3 3-3 1-3-3-3-3-3-3-3-3z"/>
<path fill="#5470de" d="M362 422l3 3 3 3 3 3 3 3 3 3-3 0-3-3-3-3-3-2-3-3-3-3z"/>
<path fill="#506bda" d="M377 437l3 3 4 3 3 3 3 3 3 3 3 3-4-3-3-2-3-3-3-2-3-3-3-2-3-3z"/>
<path fill="#4a63d3" d="M396 455l3 3 3 3 3 3 3 0-3-4-3-1-3-2-4-2-3-3z"/>
<path fill="#506bda" d="M408 464l3-2-3-3-3 1z"/>
<path fill="#5470de" d="M411 462l3-2-3-2-3 1z"/>
<path fill="#5a78e4" d="M414 460l3-2-3 0-3 0z"/>
<path fill="#5e7de7" d="M417 458l3 0 3 0-3 2-3-1-3-1z"/>
<path fill="#6485ec" d="M423 458l3 1 3 2 3 1 3 2 3 3 3 2 3 2 3 2 4 2 3 2 3 2 3 2 3 2-3 4-3-2-3-2-4-2-3-2-3-2-3-3-3-2-3-2-3-2-3-2-3-3-3-2-3-1z"/>
<path fill="#6a8bef" d="M463 483l3 2 3 1 3 2 3 0-3 4-3-1-3-1-3-1-3-2z"/>
<path fill="#6f92f3" d="M475 488l4 0-4 4-3 0z"/>
<path fill="#7597f6" d="M479 488l3 0-4 3-3 1z"/>
<path fill="#7a9df8" d="M482 488l3-2 3 0-3 5-3 0-4 0z"/>
<path fill="#80a3fa" d="M488 486l3-1-3 5-3 1z"/>
<path fill="#85a8fc" d="M491 485l3-2-3 6-3 1z"/>
<path fill="#8badfd" d="M494 483l3-2-3 6-3 2z"/>
<path fill="#96b7ff" d="M497 481l3-3-3 7-3 2z"/>
<path fill="#9bbcff" d="M500 478l4-3-4 7-3 3z"/>
<path fill="#a1c0ff" d="M504 475l3-3-3 7-4 3z"/>
<path fill="#abc8fd" d="M507 472l3-4-3 9-3 2z"/>
<path fill="#b1cbfc" d="M510 468l3-2-3 10-3 1z"/>
<path fill="#b6cefa" d="M513 466l3 0 4 0-4 11-3-1-3 0z"/>
<path fill="#bad0f8" d="M520 466l3 0 3 1-3 11-3-1-4 0z"/>
<path fill="#c0d4f5" d="M526 467l3 0 4 2 3 3 3 4 3 3 3 3-3 10-3-3-3-3-3-3-4-3-3-2-3 0z"/>
<path fill="#bad0f8" d="M545 482l4 4 3 3 3 3 3 3 4 4-4 8-3-3-3-3-3-3-4-3-3-3z"/>
<path fill="#b6cefa" d="M562 499l3 3 3 3 3 4 4 3-4 7-3-3-3-3-3-3-4-3z"/>
<path fill="#b1cbfc" d="M575 512l3 4 3 3 4 3-4 7-3-3-3-3-4-4z"/>
<path fill="#abc8fd" d="M585 522l3 4 3 3 3 4 4 3-4 6-3-3-3-3-4-4-3-3z"/>
<path fill="#a6c4fe" d="M598 536l3 4 3 3 3 3 4 4-4 5-3-3-3-3-3-4-4-3z"/>
<path fill="#a1c0ff" d="M611 550l3 3 3 3 4 3 3 3-3 5-4-3-3-3-3-3-4-3z"/>
<path fill="#9bbcff" d="M624 562l3 6 3 6-3 3-3-6-3-4z"/>
<path fill="#96b7ff" d="M630 574l3 6-3 2-3-5z"/>
<path fill="#90b2fe" d="M633 580l4 7-4 1-3-6z"/>
<path fill="#8badfd" d="M637 587l3 5-3 1-4-5z"/>
<path fill="#85a8fc" d="M640 592l3 5 3 3-3 0-3-3-3-4z"/>
<path fill="#6485ec" d="M329 395l3 2-3 2-3-3z"/>
<path fill="#5e7de7" d="M332 397l3 2 3 3 3 3 3 3 3 3 3 3-3 1-3-3-3-3-3-3-3-3-3-2-3-2z"/>
<path fill="#5a78e4" d="M350 414l3 3 3 3 3 3 3 3 3 3 3 2-3 0-3-3-3-3-3-2-3-3-3-2-3-3z"/>
<path fill="#5470de" d="M368 431l3 3 3 3 3 3 3 2 3 3 3 2 3 3 3 2 3 3 4 2 3 2 3 1-4-3-3-2-3-1-3-2-3-3-3-2-3-2-3-2-3-3-3-2-3-2-3-3-3-2z"/>
<path fill="#5a78e4" d="M405 460l3-1 3-1-4 0-3 0-3-1z"/>
<path fill="#5e7de7" d="M411 458l3 0 3 1-4 1-3-1-3-1z"/>
<path fill="#6485ec" d="M417 459l3 1 3 1 3 2 3 3 3 2 3 2 3 2 3 2 3 3 3 2 3 2 4 2 3 2 3 2 3 2 3 1-3 4-3-2-3-1-3-2-4-2-3-2-3-2-3-3-3-2-3-2-3-3-3-2-3-2-3-3-3-2-4-2-3-2z"/>
<path fill="#6a8bef" d="M466 490l3 1 3 1-3 3-3 0-3-1z"/>
<path fill="#6f92f3" d="M472 492l3 0 3-1-3 5-3-1-3 0z"/>
<path fill="#7597f6" d="M478 491l4 0-4 5-3 0z"/>
<path fill="#7a9df8" d="M482 491l3 0 3-1-3 5-3 1-4 0z"/>
<path fill="#80a3fa" d="M488 490l3-1-3 5-3 1z"/>
<path fill="#85a8fc" d="M491 489l3-2-3 5-3 2z"/>
<path fill="#90b2fe" d="M494 487l3-2-3 5-3 2z"/>
<path fill="#96b7ff" d="M497 485l3-3-3 6-3 2z"/>
<path fill="#9bbcff" d="M500 482l4-3-4 7-3 2z"/>
<path fill="#a1c0ff" d="M504 479l3-2-3 8-4 1z"/>
<path fill="#a6c4fe" d="M507 477l3-1-3 9-3 0z"/>
<path fill="#abc8fd" d="M510 476l3 0 3 1-3 8-3 0-3 0z"/>
<path fill="#b1cbfc" d="M516 477l4 0 3 1-3 9-4-1-3-1z"/>
<path fill="#b6cefa" d="M523 478l3 0 3 2 4 3 3 3 3 3 3 3 3 3 4 3-4 7-3-3-3-3-3-3-3-2-4-3-3-2-3-2-3 0z"/>
<path fill="#b1cbfc" d="M549 498l3 3 3 3 3 3 4 3 3 3 3 3-3 7-3-4-4-3-3-3-3-2-3-3-4-3z"/>
<path fill="#abc8fd" d="M568 516l3 3 4 4 3 3 3 3-3 6-3-3-4-3-3-3-3-3z"/>
<path fill="#a6c4fe" d="M581 529l3 3 4 4 3 3 3 3-3 6-3-3-4-3-3-4-3-3z"/>
<path fill="#a1c0ff" d="M594 542l4 3 3 4 3 3 3 3 4 3 3 3-3 5-4-3-3-3-3-3-3-3-4-3-3-3z"/>
<path fill="#9bbcff" d="M614 561l3 3 4 3 3 4-3 4-4-4-3-3-3-2z"/>
<path fill="#96b7ff" d="M624 571l3 6 3 5-3 2-3-5-3-4z"/>
<path fill="#90b2fe" d="M630 582l3 6-3 1-3-5z"/>
<path fill="#8badfd" d="M633 588l4 5 3 4-3 0-3-3-4-5z"/>
<path fill="#85a8fc" d="M640 597l3 3-3 0-3-3z"/>
<path fill="#6485ec" d="M326 396l3 3 3 2 3 2 3 3-4 1-3-2-3-3-3-2-3-2z"/>
<path fill="#5e7de7" d="M338 406l3 3 3 3 3 3 3 3 3 2 3 3 3 2 3 3-3-1-3-2-3-2-3-3-4-2-3-3-3-3-3-2-3-3z"/>
<path fill="#5a78e4" d="M362 428l3 3 3 2 3 3 3 2 3 2 3 3 3 2 3 2 3 2 3 3 3 2 3 1 3 2-3-1-3-2-3-2-3-2-3-2-3-2-3-3-3-2-3-2-3-2-3-3-3-2-3-2-3-3z"/>
<path fill="#5e7de7" d="M401 457l3 1 3 0 3 1-3 1-3-1-3-2-3-1z"/>
<path fill="#6485ec" d="M410 459l3 1 3 2 4 2 3 2 3 3 3 2 3 2 3 3 3 2 3 2 3 3 3 2 3 2 4 2 3 2 3 1 3 2 3 1-3 3-3-1-3-1-4-2-3-2-3-2-3-2-3-2-3-2-3-3-3-2-3-3-3-2-3-2-4-3-3-2-3-2-3-3-3-2z"/>
<path fill="#6a8bef" d="M466 495l3 0 3 0-3 5-3-1-3-1z"/>
<path fill="#6f92f3" d="M472 495l3 1 3 0-3 5-3-1-3 0z"/>
<path fill="#7597f6" d="M478 496l4 0-4 5-3 0z"/>
<path fill="#7a9df8" d="M482 496l3-1-3 5-4 1z"/>
<path fill="#80a3fa" d="M485 495l3-1-3 5-3 1z"/>
<path fill="#85a8fc" d="M488 494l3-2-3 5-3 2z"/>
<path fill="#8badfd" d="M491 492l3-2-3 6-3 1z"/>
<path fill="#90b2fe" d="M494 490l3-2-3 6-3 2z"/>
<path fill="#96b7ff" d="M497 488l3-2-3 7-3 1z"/>
<path fill="#9bbcff" d="M500 486l4-1-4 7-3 1z"/>
<path fill="#a1c0ff" d="M504 485l3 0 3 0-3 8-3-1-4 0z"/>
<path fill="#a6c4fe" d="M510 485l3 0 3 1-3 8-3-1-3 0z"/>
<path fill="#abc8fd" d="M516 486l4 1 3 0-3 8-4-1-3 0z"/>
<path fill="#b1cbfc" d="M523 487l3 2 3 2 4 3 3 2 3 3-3 7-3-3-4-2-3-2-3-3-3-1z"/>
<path fill="#abc8fd" d="M539 499l3 3 3 3 4 3 3 3 3 2 3 3 4 3-4 7-3-3-3-3-3-3-4-3-3-3-3-2-3-3z"/>
<path fill="#a6c4fe" d="M562 519l3 4 3 3 3 3 4 3 3 3-3 6-4-3-3-3-3-3-3-3-4-3z"/>
<path fill="#a1c0ff" d="M578 535l3 3 3 4 4 3 3 3 3 3-3 5-3-3-4-3-3-3-3-3-3-3z"/>
<path fill="#9bbcff" d="M594 551l4 3 3 3 3 3 3 3 4 3 3 2 3 3 4 4-4 3-3-3-3-2-4-3-3-2-3-3-3-3-4-3-3-3z"/>
<path fill="#96b7ff" d="M621 575l3 4 3 5-3 2-3-4-4-4z"/>
<path fill="#90b2fe" d="M627 584l3 5 4 5-4 0-3-4-3-4z"/>
<path fill="#8badfd" d="M634 594l3 3 3 3-3 0-3-2-4-4z"/>
<path fill="#6485ec" d="M322 398l3 2 3 2 3 3 3 2 3 3 3 2 3 3-3 1-3-3-3-2-3-3-3-2-3-2-3-2-3-2z"/>
<path fill="#5e7de7" d="M343 415l3 3 4 2 3 3 3 2 3 2 3 3 3 2 3 2 3 3 3 2 3 2 3 2 3 3 3 2 3 2 3 2 3 2 3 2 3 1 3 2-3 1-3-2-3-2-3-2-3-2-3-2-3-2-3-3-3-2-4-2-3-2-3-2-3-3-3-2-3-2-3-3-3-2-3-2-3-3-3-2-3-2z"/>
<path fill="#6485ec" d="M404 459l3 1 3 2 3 3 3 2 3 2-3 3-3-2-3-3-3-2-3-2-3-3z"/>
<path fill="#5e7de7" d="M419 469l4 3 3 2 3 2 3 3 3 2 3 3 3 2 3 2 3 2 3 2 3 2-3 3-3-1-3-2-3-3-3-2-3-2-3-3-3-2-3-2-4-3-3-2-3-3z"/>
<path fill="#6485ec" d="M453 494l4 2 3 1 3 1 3 1-3 4-3-2-3-1-4-1-3-2z"/>
<path fill="#6a8bef" d="M466 499l3 1 3 0-3 5-3-1-3-1z"/>
<path fill="#6f92f3" d="M472 500l3 1 3 0-3 4-3 0-3 0z"/>
<path fill="#7597f6" d="M478 501l4-1-4 4-3 1z"/>
<path fill="#7a9df8" d="M482 500l3-1-4 4-3 1z"/>
<path fill="#80a3fa" d="M485 499l3-2-3 5-4 1z"/>
<path fill="#85a8fc" d="M488 497l3-1-3 5-3 1z"/>
<path fill="#8badfd" d="M491 496l3-2-3 6-3 1z"/>
<path fill="#90b2fe" d="M494 494l3-1-3 6-3 1z"/>
<path fill="#96b7ff" d="M497 493l3-1 4 0-4 7-3 0-3 0z"/>
<path fill="#9bbcff" d="M504 492l3 1 3 0-3 7-3-1-4 0z"/>
<path fill="#a1c0ff" d="M510 493l3 1 3 0-3 7-3-1-3 0z"/>
<path fill="#a6c4fe" d="M516 494l4 1 3 1 3 3 3 2 4 2 3 3 3 3 3 2 3 3 4 3 3 3 3 3 3 3 4 3-4 5-3-3-3-3-3-3-4-2-3-3-3-3-3-3-3-2-4-2-3-3-3-2-3-2-4-1-3-1z"/>
<path fill="#a1c0ff" d="M562 529l3 3 3 3 3 3 4 3 3 3-3 5-4-3-3-3-3-3-3-3-4-3z"/>
<path fill="#9bbcff" d="M578 544l3 3 3 3 4 3 3 3 3 3 4 3-4 5-3-3-3-3-3-3-4-3-3-3-3-3z"/>
<path fill="#96b7ff" d="M598 562l3 3 3 3 3 2 4 3 3 2 3 3 4 4 3 4-3 2-4-3-3-3-3-3-3-2-4-2-3-3-3-2-4-3z"/>
<path fill="#90b2fe" d="M624 586l3 4 3 4 4 4 3 2-3 0-3-2-4-4-3-3-3-3z"/>
<path fill="#6485ec" d="M319 400l3 2 3 2 3 2 3 2 3 3 3 2 3 3 3 2 3 2 3 3 3 2 3 2 3 3 3 2 3 2 3 3 3 2 3 2 4 2 3 2 3 3 3 2 3 2 3 2 3 2 3 2 3 2 3 3 3 2-3 2-3-2-3-2-3-3-3-2-3-2-4-3-3-2-3-2-3-2-3-3-3-2-3-2-3-3-3-2-3-2-3-2-3-3-3-2-3-2-3-2-3-3-3-2-3-2-3-3-3-2-3-2-3-3-3-2-3-2z"/>
<path fill="#5e7de7" d="M407 465l3 2 3 3 3 2 3 3 3 2 4 3 3 2 3 2 3 3 3 2 3 2 3 3 3 2 3 1 3 2 4 1-4 4-3-2-3-1-3-2-3-2-3-2-3-3-3-2-3-3-4-2-3-3-3-2-3-3-3-2-3-3-3-2-3-3z"/>
<path fill="#6485ec" d="M457 500l3 1 3 2 3 1-3 4-3-1-4-2-3-1z"/>
<path fill="#6a8bef" d="M466 504l3 1 3 0-3 4-3 0-3-1z"/>
<path fill="#6f92f3" d="M472 505l3 0 3-1-3 4-3 1-3 0z"/>
<path fill="#7597f6" d="M478 504l3-1-3 5-3 0z"/>
<path fill="#7a9df8" d="M481 503l4-1-4 5-3 1z"/>
<path fill="#80a3fa" d="M485 502l3-1-3 5-4 1z"/>
<path fill="#85a8fc" d="M488 501l3-1-3 5-3 1z"/>
<path fill="#8badfd" d="M491 500l3-1-3 6-3 0z"/>
<path fill="#90b2fe" d="M494 499l3 0 3 0-3 6-3 0-3 0z"/>
<path fill="#96b7ff" d="M500 499l4 0 3 1-3 6-4-1-3 0z"/>
<path fill="#9bbcff" d="M507 500l3 0 3 1-3 6-3-1-3 0z"/>
<path fill="#a1c0ff" d="M513 501l3 1 4 1 3 2 3 2 3 3 4 2 3 2 3 3 3 3 3 3 4 2 3 3 3 3 3 3-3 5-3-2-3-3-4-3-3-3-3-3-3-2-3-3-4-2-3-3-3-2-3-2-4-2-3-1-3-1z"/>
<path fill="#9bbcff" d="M558 534l4 3 3 3 3 3 3 3 4 3 3 3-3 5-4-3-3-3-3-3-3-3-4-3-3-3z"/>
<path fill="#96b7ff" d="M578 552l3 3 4 3 3 3 3 3 3 3 4 3 3 2 3 3 4 2 3 2 3 3 3 3 4 3 3 3-3 1-3-2-4-3-3-2-3-2-4-2-3-2-3-2-4-3-3-2-3-3-3-3-4-3-3-3-3-3z"/>
<path fill="#90b2fe" d="M624 591l3 3 4 4 3 2-3 1-4-3-3-3-3-3z"/>
<path fill="#6485ec" d="M316 401l3 2 3 2 3 3 3 2 3 2 3 3 3 2 3 2 3 3 3 2 3 2 3 2 3 3 3 2 3 2 3 2 3 3 3 2 3 2 3 3 3 2 3 2 3 2 4 3 3 2 3 2 3 3-3 2-4-2-3-3-3-2-3-2-3-3-3-2-3-2-3-3-3-2-3-2-3-3-3-2-3-2-3-3-3-2-3-2-3-2-3-3-3-2-3-2-3-3-3-2-3-2-3-3-3-2-3-2-3-2z"/>
<path fill="#5e7de7" d="M398 463l3 2 3 2 3 3 3 2 3 3 3 2 3 3 3 2 3 3 4 2 3 3 3 2 3 3 3 2 3 2 3 2 3 1 3 2 3 1-3 4-3-2-3-2-3-1-3-2-3-2-3-2-3-3-4-2-3-3-3-2-3-3-3-2-3-3-3-2-3-3-3-2-3-3-3-2-3-3z"/>
<path fill="#6485ec" d="M456 505l4 2 3 1 3 1-3 3-3 0-4-2-3-1z"/>
<path fill="#6a8bef" d="M466 509l3 0 3 0-3 4-3 0-3-1z"/>
<path fill="#6f92f3" d="M472 509l3-1-3 4-3 1z"/>
<path fill="#7597f6" d="M475 508l3 0-3 4-3 0z"/>
<path fill="#7a9df8" d="M478 508l3-1 4-1-4 5-3 0-3 1z"/>
<path fill="#80a3fa" d="M485 506l3-1-3 6-4 0z"/>
<path fill="#85a8fc" d="M488 505l3 0-3 5-3 1z"/>
<path fill="#8badfd" d="M491 505l3 0 3 0-3 6-3-1-3 0z"/>
<path fill="#90b2fe" d="M497 505l3 0 4 1-4 5-3 0-3 0z"/>
<path fill="#96b7ff" d="M504 506l3 0 3 1-3 5-3 0-4-1z"/>
<path fill="#9bbcff" d="M510 507l3 1 3 1 4 2-4 5-3-1-3-2-3-1z"/>
<path fill="#a1c0ff" d="M520 511l3 2 3 2 3 3 4 2 3 3-3 5-4-3-3-2-3-2-3-3-4-2z"/>
<path fill="#9bbcff" d="M536 523l3 2 3 3 3 3 4 3 3 3 3 2 3 3 4 3-4 6-3-3-3-3-3-3-4-3-3-3-3-3-3-2-3-3z"/>
<path fill="#96b7ff" d="M562 545l3 3 3 3 3 3 4 3 3 3 3 3-3 5-3-3-4-3-3-3-3-3-3-2-4-3z"/>
<path fill="#90b2fe" d="M581 563l4 3 3 3 3 3 3 2 4 3 3 2 3 2 4 2 3 2-3 4-4-2-3-2-3-2-4-2-3-2-3-3-3-2-4-3-3-3z"/>
<path fill="#96b7ff" d="M611 585l3 2 4 3 3 2 3 3 3 3 4 3-3 0-4-2-3-3-3-2-4-2-3-2-3-1z"/>
<path fill="#6485ec" d="M313 403l3 2 3 2 3 2 3 3 3 2 3 2 3 3 3 2 3 2 3 3 3 2 3 2 3 2 3 3 3 2 3 2 3 3 3 2 3 2 3 3 3 2 3 2 3 3 3 2 3 2-3 3-3-2-3-3-3-2-3-3-3-2-3-2-3-3-3-2-3-2-3-3-3-2-3-2-3-3-3-2-3-2-3-2-3-3-3-2-3-3-3-2-3-2-3-3-3-2-3-2-3-2z"/>
<path fill="#5e7de7" d="M388 460l3 3 4 2 3 3 3 2 3 3 3 2 3 3 3 2 3 3 3 2 3 3 3 2 3 3 4 2 3 3 3 2 3 2 3 2 3 1 3 2 3 2 3 1-3 4-3-2-3-1-3-2-3-2-3-2-3-2-3-2-4-3-3-2-3-3-3-2-3-3-3-2-3-3-3-3-3-2-3-3-3-2-4-3-3-2-3-3-3-2z"/>
<path fill="#6485ec" d="M456 510l4 2 3 0 3 1-3 3-4 0-3-1-3-1z"/>
<path fill="#6a8bef" d="M466 513l3 0-3 3-3 0z"/>
<path fill="#6f92f3" d="M469 513l3-1 3 0-3 4-3 0-3 0z"/>
<path fill="#7597f6" d="M475 512l3-1-3 5-3 0z"/>
<path fill="#7a9df8" d="M478 511l3 0-3 5-3 0z"/>
<path fill="#80a3fa" d="M481 511l4 0 3-1-3 5-4 0-3 1z"/>
<path fill="#85a8fc" d="M488 510l3 0 3 1-3 5-3 0-3-1z"/>
<path fill="#8badfd" d="M494 511l3 0-3 5-3 0z"/>
<path fill="#90b2fe" d="M497 511l3 0 4 1-4 5-3 0-3-1z"/>
<path fill="#96b7ff" d="M504 512l3 0 3 1 3 2-3 5-3-1-3-1-4-1z"/>
<path fill="#9bbcff" d="M513 515l3 1 4 2 3 3 3 2 3 2 4 3 3 3 3 2 3 3-3 5-3-3-3-2-4-3-3-2-3-3-3-2-4-2-3-2-3-2z"/>
<path fill="#96b7ff" d="M542 536l3 3 4 3 3 3 3 3 3 3 4 3-4 4-3-2-3-3-3-3-4-3-3-3-3-3z"/>
<path fill="#90b2fe" d="M562 554l3 2 3 3 3 3 4 3 3 3 3 3 4 3 3 2 3 3 3 2 4 2 3 2 3 2 4 2 3 1-3 3-4-1-3-1-3-2-4-2-3-2-3-2-3-2-4-3-3-2-3-3-3-3-4-3-3-3-3-3-4-3z"/>
<path fill="#96b7ff" d="M611 590l3 2 4 2 3 2 3 3 4 2-4 2-3-3-3-2-4-2-3-2-3-1z"/>
<path fill="#6485ec" d="M310 405l3 2 3 2 3 2 3 3 3 2 3 2 3 3 3 2 3 3 3 2 3 2 3 2 3 3 3 2 3 2 3 3 3 2 3 2 3 3 3 2 3 2 3 3 3 2-3 3-3-3-3-2-3-2-3-3-3-2-3-2-3-3-3-2-3-2-3-3-3-2-3-2-3-3-4-2-3-2-3-3-3-2-3-3-3-2-3-3-3-2-3-2-3-2z"/>
<path fill="#5e7de7" d="M379 458l3 3 3 2 3 2 3 3 3 2 4 3 3 2 3 3 3 2 3 3 3 3 3 2 3 3 3 2-3 3-3-2-3-3-3-3-3-2-3-3-3-2-4-3-3-2-3-3-3-2-3-3-3-2-3-3-3-2z"/>
<path fill="#5a78e4" d="M422 493l3 3 3 2 4 3 3 2 3 2 3 2-3 3-3-2-4-2-3-3-3-2-3-2-3-3z"/>
<path fill="#5e7de7" d="M441 507l3 2 3 2 3 1 3 2 3 1-3 3-3-1-3-1-3-2-3-2-3-2z"/>
<path fill="#6485ec" d="M456 515l3 1 4 0-4 4-3-1-3-1z"/>
<path fill="#6a8bef" d="M463 516l3 0 3 0-3 4-3 0-4 0z"/>
<path fill="#6f92f3" d="M469 516l3 0-3 4-3 0z"/>
<path fill="#7597f6" d="M472 516l3 0 3 0-3 4-3 0-3 0z"/>
<path fill="#7a9df8" d="M478 516l3-1 4 0-4 5-3 0-3 0z"/>
<path fill="#80a3fa" d="M485 515l3 1-4 5-3-1z"/>
<path fill="#85a8fc" d="M488 516l3 0 3 0-3 5-3 0-4 0z"/>
<path fill="#8badfd" d="M494 516l3 1 3 0-3 5-3 0-3-1z"/>
<path fill="#90b2fe" d="M500 517l4 1 3 1-3 5-4-1-3-1z"/>
<path fill="#96b7ff" d="M507 519l3 1 3 2 3 2 4 2 3 2 3 3 3 2 4 3 3 2 3 3 3 3 3 3-3 5-3-3-3-3-3-3-4-2-3-3-3-2-3-3-4-2-3-2-3-2-3-2-3-1z"/>
<path fill="#90b2fe" d="M545 547l4 3 3 3 3 3 3 2 4 3 3 3-3 5-4-3-3-3-3-3-3-3-3-2-4-3z"/>
<path fill="#8badfd" d="M565 564l3 3 4 3 3 3 3 3 3 2 4 3 3 2 3 2 3 2 4 2-3 4-4-2-3-2-3-2-4-2-3-2-3-3-3-3-4-2-3-3-3-3z"/>
<path fill="#90b2fe" d="M598 589l3 2 3 1 4 1-3 3-4-1-3 0-3-2z"/>
<path fill="#96b7ff" d="M608 593l3 1 3 2 4 2 3 2 3 3-3 1-3-2-3-2-4-2-3-1-3-1z"/>
<path fill="#6485ec" d="M306 407l3 2 3 2 3 2 3 3 3 2 3 3 3 2 3 3 3 2 4 2 3 3 3 2 3 2 3 3 3 2 3 2 3 3 3 2 3 2 3 3 3 2-3 3-3-3-3-2-3-2-3-3-4-2-3-3-3-2-3-2-3-3-3-2-3-2-3-3-3-2-3-2-3-3-3-2-3-3-3-2-3-2-3-3-3-2z"/>
<path fill="#5e7de7" d="M370 456l3 2 3 3 3 2 3 3 3 2 3 3 3 2 3 3 3 2 4 3 3 2 3 3 3 2 3 3-3 3-3-3-4-2-3-3-3-3-3-2-3-3-3-2-3-3-3-2-3-3-3-2-3-2-3-3-3-2z"/>
<path fill="#5a78e4" d="M413 491l3 3 3 2 3 3 3 2 3 2 3 3 4 2 3 2 3 2 3 2 3 2-3 3-3-2-3-2-4-2-3-2-3-3-3-2-3-2-3-3-3-2-3-3-3-2z"/>
<path fill="#5e7de7" d="M447 516l3 1 3 1 3 1-3 4-3-1-3-2-3-1z"/>
<path fill="#6485ec" d="M456 519l3 1 4 0-4 4-3-1-3 0z"/>
<path fill="#6a8bef" d="M463 520l3 0 3 0-3 4-4 0-3 0z"/>
<path fill="#6f92f3" d="M469 520l3 0-3 4-3 0z"/>
<path fill="#7597f6" d="M472 520l3 0 3 0-3 5-3 0-3-1z"/>
<path fill="#7a9df8" d="M478 520l3 0 3 1-3 4-3 0-3 0z"/>
<path fill="#80a3fa" d="M484 521l4 0 3 0-3 5-4 0-3-1z"/>
<path fill="#85a8fc" d="M491 521l3 1-3 5-3-1z"/>
<path fill="#8badfd" d="M494 522l3 0 3 1 4 1-4 5-3-1-3-1-3 0z"/>
<path fill="#90b2fe" d="M504 524l3 1 3 2 3 2 3 2 4 2 3 3 3 2 3 3 4 2 3 3 3 3 3 3 4 3 3 2-3 5-4-3-3-2-3-3-3-3-4-3-3-2-3-3-3-2-4-3-3-2-3-2-3-2-3-2-4-1z"/>
<path fill="#8badfd" d="M549 557l3 3 3 3 3 3 4 3 3 3 3 3 4 2 3 3 3 3 3 2 4 2 3 2 3 2 4 2 3 2-3 3-4-1-3-2-3-2-4-2-3-2-3-2-3-3-4-2-3-3-3-3-3-2-4-3-3-3-3-3-3-3z"/>
<path fill="#90b2fe" d="M598 595l3 0 4 1-4 3-3 0-3-1z"/>
<path fill="#96b7ff" d="M605 596l3 1 3 1 4 2 3 2 3 2-3 3-3-2-4-3-3-1-3-1-4-1z"/>
<path fill="#6485ec" d="M303 409l3 2 3 3 3 2 3 2 3 3 3 2 3 3 3 2 3 2 3 3 3 2 3 2 3 3 3 2 3 2 3 3 4 2-4 3-3-2-3-3-3-2-3-3-3-2-3-2-3-3-3-2-3-2-3-3-3-2-3-3-3-2-3-3-3-2-3-2-3-2z"/>
<path fill="#5e7de7" d="M355 449l3 3 3 2 3 2 3 3 3 2 3 3 3 2 3 2 3 3 3 2 3 3 3 2 3 3 3 2 3 3 3 3-3 2-3-2-3-3-3-2-3-3-3-2-3-3-3-2-3-3-3-2-3-3-3-2-3-3-4-2-3-2-3-3-3-2z"/>
<path fill="#5a78e4" d="M403 489l4 2 3 3 3 2 3 3 3 2 3 3 3 2 3 2 3 3 3 2 4 2 3 2 3 2 3 1-3 3-3-1-3-2-4-2-3-2-3-2-3-3-3-2-3-2-3-3-3-2-3-3-4-2-3-3-3-3z"/>
<path fill="#5e7de7" d="M447 520l3 2 3 1 3 0-3 3-3 0-3-1-3-2z"/>
<path fill="#6485ec" d="M456 523l3 1 3 0-3 4-3-1-3-1z"/>
<path fill="#6a8bef" d="M462 524l4 0 3 0-3 5-4-1-3 0z"/>
<path fill="#6f92f3" d="M469 524l3 1-3 4-3 0z"/>
<path fill="#7597f6" d="M472 525l3 0 3 0-3 5-3-1-3 0z"/>
<path fill="#7a9df8" d="M478 525l3 0 3 1-3 5-3-1-3 0z"/>
<path fill="#80a3fa" d="M484 526l4 0 3 1-3 5-4-1-3 0z"/>
<path fill="#85a8fc" d="M491 527l3 0 3 1-3 5-3-1-3 0z"/>
<path fill="#8badfd" d="M497 528l3 1 4 1 3 2 3 2 3 2-3 5-3-2-3-2-4-2-3-1-3-1z"/>
<path fill="#90b2fe" d="M513 536l3 2 4 3 3 2 3 3-3 4-3-2-4-3-3-2-3-2z"/>
<path fill="#8badfd" d="M526 546l3 2 4 3 3 3 3 3 3 2 4 3 3 3 3 3-3 5-3-3-4-3-3-3-3-3-3-3-4-2-3-3-3-3z"/>
<path fill="#85a8fc" d="M552 568l3 3 4 3 3 2 3 3 3 3 4 2 3 3 3 2 3 2 4 2 3 2 3 2-3 4-3-2-4-2-3-2-3-2-3-2-4-2-3-3-3-2-3-3-4-3-3-3-3-2z"/>
<path fill="#8badfd" d="M591 597l4 1 3 1-3 3-4 0-3-1z"/>
<path fill="#90b2fe" d="M598 599l3 0 4 1-4 3-3 0-3-1z"/>
<path fill="#96b7ff" d="M605 600l3 1 3 1 4 3 3 2-3 3-4-2-3-3-3-1-4-1z"/>
<path fill="#6485ec" d="M300 412l3 2 3 2 3 2 3 3 3 2 3 3 3 2 3 3 3 2 3 2 3 3 3 2 3 2 3 3-3 3-3-3-3-2-3-3-3-2-3-2-3-3-3-2-3-3-3-2-3-3-3-2-3-2-3-2-3-3z"/>
<path fill="#5e7de7" d="M342 445l3 2 3 3 3 2 3 2 3 3 3 2 4 2 3 3 3 2 3 3 3 2 3 3 3 2 3 3 3 2 3 3 3 2 3 3-3 3-3-3-3-3-3-2-3-3-3-2-3-3-3-2-4-2-3-3-3-2-3-3-3-2-3-3-3-2-3-2-3-3-3-2-3-2z"/>
<path fill="#5a78e4" d="M397 489l3 2 3 3 3 3 4 2 3 3 3 2 3 3 3 2 3 2 3 3 3 2 3 2 4 2 3 2 3 1 3 2-3 3-3-2-4-1-3-2-3-2-3-2-3-2-3-3-3-2-3-3-3-2-3-3-4-2-3-3-3-2-3-3-3-2z"/>
<path fill="#5e7de7" d="M447 525l3 1 3 0-3 4-3-1-3-1z"/>
<path fill="#6485ec" d="M453 526l3 1 3 1-3 3-3 0-3-1z"/>
<path fill="#6a8bef" d="M459 528l3 0 4 1-4 3-3 0-3-1z"/>
<path fill="#6f92f3" d="M466 529l3 0 3 0-3 4-4 0-3-1z"/>
<path fill="#7597f6" d="M472 529l3 1 3 0-3 5-3-1-3-1z"/>
<path fill="#7a9df8" d="M478 530l3 1 3 0-3 5-3-1-3 0z"/>
<path fill="#80a3fa" d="M484 531l4 1 3 0-3 5-4-1-3 0z"/>
<path fill="#85a8fc" d="M491 532l3 1 3 1 3 1 4 2-4 5-3-2-3-1-3-1-3-1z"/>
<path fill="#8badfd" d="M504 537l3 2 3 2 3 2 3 2 4 3 3 2 3 3 3 3 4 2-4 5-3-3-3-2-3-3-4-2-3-3-3-2-3-2-3-2-4-2z"/>
<path fill="#85a8fc" d="M533 558l3 3 3 3 3 3 4 3 3 3 3 2 3 3 4 3 3 3 3 2 3 3 4 2 3 2 3 2 3 2 4 2 3 2 3 1-3 4-3-2-3-1-4-2-3-2-3-2-4-2-3-2-3-3-3-2-4-3-3-2-3-3-3-3-4-3-3-2-3-3-3-3-4-3z"/>
<path fill="#8badfd" d="M591 602l4 0 3 1-3 3-4 0-3 0z"/>
<path fill="#90b2fe" d="M598 603l3 0-3 3-3 0z"/>
<path fill="#96b7ff" d="M601 603l4 1 3 1 3 3 4 2-3 3-4-2-3-2-3-2-4-1z"/>
<path fill="#6485ec" d="M297 414l3 3 3 2 3 2 3 2 3 3 3 2 3 3 3 2 3 3 3 2-3 3-3-3-3-2-3-2-3-3-3-2-3-3-3-2-3-2-3-3-3-2z"/>
<path fill="#5e7de7" d="M327 438l3 2 3 3 3 2 3 3 3 2 3 2 3 3 3 2 3 2 3 3 3 2 3 3 3 2 3 3 4 2 3 2 3 3 3 2 3 3 3 2-3 3-3-2-3-3-4-2-3-3-3-2-3-3-3-2-3-3-3-2-3-2-3-3-3-2-3-3-3-2-3-2-3-3-3-2-3-2-3-3-3-2z"/>
<path fill="#5a78e4" d="M388 486l3 3 3 3 3 2 3 3 3 2 3 3 4 2 3 3 3 2 3 3 3 2 3 3 3 2 3 2 3 2 3 2 4 1 3 2-4 3-3-2-3-1-3-2-3-2-3-2-3-3-3-2-3-2-3-3-4-2-3-3-3-2-3-3-3-2-3-3-3-3-3-2-3-3z"/>
<path fill="#5e7de7" d="M444 528l3 1 3 1 3 1-3 3-3-1-3-1-4-1z"/>
<path fill="#6485ec" d="M453 531l3 0 3 1-3 4-3-1-3-1z"/>
<path fill="#6a8bef" d="M459 532l3 0 3 1-3 4-3-1-3 0z"/>
<path fill="#6f92f3" d="M465 533l4 0 3 1-3 4-4 0-3-1z"/>
<path fill="#7597f6" d="M472 534l3 1 3 0-3 4-3 0-3-1z"/>
<path fill="#7a9df8" d="M478 535l3 1 3 0 4 1-4 5-3-1-3-1-3-1z"/>
<path fill="#80a3fa" d="M488 537l3 1 3 1-3 5-3-1-4-1z"/>
<path fill="#85a8fc" d="M494 539l3 1 3 2 4 2 3 2 3 2 3 2 3 3 4 2 3 3 3 2 3 3 4 3 3 3 3 3 3 2-3 5-3-3-3-3-4-2-3-3-3-3-3-2-4-3-3-3-3-2-3-2-3-2-4-2-3-2-3-2-3-1z"/>
<path fill="#80a3fa" d="M542 574l4 3 3 3 3 3 3 2 4 3 3 2 3 3 3 2 4 2 3 2 3 2-3 4-3-2-4-2-3-2-3-2-3-2-4-3-3-2-3-3-3-3-4-2-3-3z"/>
<path fill="#85a8fc" d="M578 601l4 2 3 1 3 2-3 3-3-1-4-1-3-2z"/>
<path fill="#8badfd" d="M588 606l3 0 4 0-3 4-4 0-3-1z"/>
<path fill="#90b2fe" d="M595 606l3 0 4 1-4 4-3-1-3 0z"/>
<path fill="#96b7ff" d="M602 607l3 2 3 2 4 2-4 4-3-2-3-3-4-1z"/>
<path fill="#6485ec" d="M294 417l3 2 3 3 3 2 3 2 3 3 3 2 3 3-3 2-3-2-3-3-3-2-3-2-3-3-3-2-3-2z"/>
<path fill="#5e7de7" d="M315 434l3 2 3 2 3 3 3 2 3 3 3 2 3 2 3 3 3 2 3 2 3 3 3 2 3 3 3 2 3 2 3 3 3 2 3 3 3 2 3 3 4 2-4 3-3-2-3-3-3-2-3-3-3-2-3-3-3-2-3-3-3-2-3-2-3-3-3-2-3-3-3-2-3-2-3-3-3-2-3-2-3-3-3-2-3-3z"/>
<path fill="#5a78e4" d="M379 484l3 3 3 2 3 3 3 2 3 3 3 3 3 2 3 3 3 2 3 3 4 2 3 3 3 2 3 2 3 3 3 2 3 2 3 2 3 1 3 2 4 1-4 3-3-1-3-2-3-2-3-1-3-2-3-2-3-3-3-2-4-3-3-2-3-3-3-2-3-3-3-2-3-3-3-2-3-3-3-2-3-3-4-2-3-3z"/>
<path fill="#5e7de7" d="M444 532l3 1 3 1 3 1-3 3-3-1-4-1-3-1z"/>
<path fill="#6485ec" d="M453 535l3 1 3 0-3 4-3-1-3-1z"/>
<path fill="#6a8bef" d="M459 536l3 1 3 1-3 4-3-1-3-1z"/>
<path fill="#6f92f3" d="M465 538l4 0 3 1-3 4-4-1-3 0z"/>
<path fill="#7597f6" d="M472 539l3 0 3 1 3 1-3 4-3-1-3 0-3-1z"/>
<path fill="#7a9df8" d="M481 541l3 1 4 1-4 4-3-1-3-1z"/>
<path fill="#80a3fa" d="M488 543l3 1 3 1 3 2 3 2 4 2 3 2-3 4-4-2-3-2-3-2-3-1-3-2-4-1z"/>
<path fill="#85a8fc" d="M507 553l3 2 3 2 3 3-3 5-3-3-3-2-3-3z"/>
<path fill="#80a3fa" d="M516 560l4 3 3 2 3 3 3 3 4 2 3 3 3 3 3 3 4 2 3 3 3 3 3 2 4 3 3 2 3 2 3 2 4 2 3 2 3 2 4 1-4 4-3-2-3-1-4-2-3-2-3-2-3-2-4-2-3-3-3-2-3-3-4-3-3-2-3-3-3-3-4-2-3-3-3-3-3-2-4-3-3-2z"/>
<path fill="#85a8fc" d="M582 608l3 1 3 1-3 3-3 0-4-1z"/>
<path fill="#8badfd" d="M588 610l4 0 3 0-3 4-4-1-3 0z"/>
<path fill="#90b2fe" d="M595 610l3 1 4 1 3 3 3 2-3 4-3-2-4-3-3-2-3 0z"/>
<path fill="#6485ec" d="M291 420l3 2 3 2 3 3 3 2 3 2-4 3-3-2-3-3-3-2-3-2-3-2z"/>
<path fill="#5e7de7" d="M306 431l3 3 3 2 3 3 3 2 3 3 3 2 3 2 3 3 3 2 3 2 3 3 3 2 3 3 3 2 3 2 3 3 3 2 3 3 3 2 3 3-3 2-3-2-3-3-3-2-3-2-3-3-3-2-3-3-3-2-3-2-3-3-3-2-4-3-3-2-3-2-3-3-3-2-3-3-3-2-3-2-3-3z"/>
<path fill="#5a78e4" d="M366 480l3 2 3 3 3 2 3 3 4 2 3 3 3 2 3 3 3 2 3 3 3 2 3 3 3 2 3 3 3 2-3 3-3-2-3-3-3-2-3-3-3-3-3-2-3-3-4-2-3-3-3-2-3-3-3-2-3-3-3-2-3-3z"/>
<path fill="#5470de" d="M412 517l4 3 3 2 3 3 3 2-3 2-3-2-4-2-3-2-3-3z"/>
<path fill="#5a78e4" d="M425 527l3 2 3 1 3 2 3 2 3 1 3 1-3 3-3-1-3-2-3-1-3-2-3-2-3-2z"/>
<path fill="#5e7de7" d="M443 536l4 1 3 1 3 1-3 4-3-1-4-1-3-2z"/>
<path fill="#6485ec" d="M453 539l3 1 3 1-3 4-3-1-3-1z"/>
<path fill="#6a8bef" d="M459 541l3 1 3 0-3 4-3-1-3 0z"/>
<path fill="#6f92f3" d="M465 542l4 1 3 1 3 0-3 5-4-1-3-1-3-1z"/>
<path fill="#7597f6" d="M475 544l3 1 3 1-3 5-3-1-3-1z"/>
<path fill="#7a9df8" d="M481 546l3 1 4 1 3 2 3 1-3 5-3-1-4-2-3-1-3-1z"/>
<path fill="#80a3fa" d="M494 551l3 2 3 2 4 2 3 3 3 2 3 3 3 2 4 3 3 2 3 3 3 3 4 2-4 5-3-3-3-3-3-2-4-3-3-2-3-3-3-2-3-3-4-2-3-2-3-2-3-2z"/>
<path fill="#7a9df8" d="M533 580l3 3 3 3 3 2 4 3 3 3 3 2 3 3 4 2 3 2 3 2 3 2-3 4-3-2-3-2-4-2-3-3-3-2-3-2-4-3-3-2-3-3-3-3-4-2z"/>
<path fill="#80a3fa" d="M568 607l4 2 3 1 3 2 4 1-4 3-3-1-3-1-3-2-4-1z"/>
<path fill="#85a8fc" d="M582 613l3 0 3 0-3 4-3 0-4-1z"/>
<path fill="#8badfd" d="M588 613l4 1-4 3-3 0z"/>
<path fill="#90b2fe" d="M592 614l3 0 3 2 4 3 3 2-3 4-4-2-3-3-3-2-4-1z"/>
<path fill="#5e7de7" d="M287 423l3 2 3 2 3 2 3 3 3 2 3 3 3 2 3 2 3 3 3 2 3 3 3 2 3 2 4 3 3 2 3 3 3 2 3 2 3 3 3 2 3 3 3 2-3 3-3-3-3-2-3-2-4-3-3-2-3-3-3-2-3-2-3-3-3-2-3-3-3-2-3-2-3-3-3-2-3-3-3-2-3-2-3-3-3-2-3-2-3-2z"/>
<path fill="#5a78e4" d="M354 475l3 2 3 3 3 2 3 3 3 2 3 3 3 2 3 3 3 2 3 3 4 2 3 3 3 2 3 3 3 3 3 2-3 3-3-3-3-2-3-3-4-2-3-3-3-2-3-3-3-2-3-3-3-2-3-3-3-2-3-3-3-2-3-3-3-2z"/>
<path fill="#5470de" d="M403 515l3 3 3 2 3 3 3 2 4 2 3 2 3 2-3 3-4-2-3-2-3-2-3-3-3-2-3-3-3-2z"/>
<path fill="#5a78e4" d="M425 531l3 2 3 2 3 1 3 2 3 1-3 3-3-1-3-2-3-1-3-2-3-2z"/>
<path fill="#5e7de7" d="M440 539l3 2 4 1 3 1-4 3-3-1-3-1-3-2z"/>
<path fill="#6485ec" d="M450 543l3 1 3 1 3 0-3 4-3-1-3-1-4-1z"/>
<path fill="#6a8bef" d="M459 545l3 1 3 1-3 4-3-1-3-1z"/>
<path fill="#6f92f3" d="M465 547l3 1 4 1 3 1-3 4-4-1-3-1-3-1z"/>
<path fill="#7597f6" d="M475 550l3 1 3 1 3 1-3 5-3-2-3-1-3-1z"/>
<path fill="#7a9df8" d="M484 553l4 2 3 1 3 2 3 2 3 2 4 2 3 3 3 2 3 3 3 2 4 3 3 2 3 3 3 3 4 2 3 3 3 3 3 2 4 3 3 2 3 2 3 3 4 2 3 2 3 2 4 1 3 2-3 4-4-2-3-2-3-1-4-2-3-2-3-3-3-2-4-2-3-3-3-2-3-3-4-2-3-3-3-3-3-2-4-3-3-2-3-3-3-2-3-3-4-2-3-2-3-2-3-2-3-2-4-2-3-1z"/>
<path fill="#80a3fa" d="M572 614l3 1 3 1-3 4-3-1-3-1z"/>
<path fill="#85a8fc" d="M578 616l4 1 3 0-3 4-4-1-3 0z"/>
<path fill="#8badfd" d="M585 617l3 0 4 1 3 2-3 4-3-2-4-1-3 0z"/>
<path fill="#90b2fe" d="M595 620l3 3-3 4-3-3z"/>
<path fill="#8badfd" d="M598 623l4 2-4 4-3-2z"/>
<path fill="#5e7de7" d="M284 426l3 2 3 2 3 2 3 3 3 2 3 2 3 3 3 2 3 3 3 2 3 2 3 3 3 2 3 3 3 2 3 2 3 3 3 2 4 3-4 2-3-2-3-2-3-3-3-2-3-3-3-2-3-2-3-3-3-2-3-3-3-2-3-2-3-3-3-2-3-3-3-2-3-2-3-2-3-3z"/>
<path fill="#5a78e4" d="M342 471l3 2 3 2 3 3 3 2 3 3 3 2 3 3 3 2 3 3 3 2 3 3 3 2 3 3 3 2 3 3 4 2 3 3-4 2-3-2-3-3-3-2-3-3-3-2-3-3-3-2-3-3-3-2-3-3-3-2-3-2-3-3-4-2-3-3-3-2-3-3z"/>
<path fill="#5470de" d="M394 513l3 2 3 3 3 2 3 3 3 2 3 3 3 2 3 2 4 2 3 2-4 2-3-1-3-2-3-3-3-2-3-2-3-3-3-2-3-3-3-2-4-3z"/>
<path fill="#5a78e4" d="M425 536l3 2 3 1 3 2 3 1 3 2-3 3-3-2-3-1-3-2-3-2-4-2z"/>
<path fill="#5e7de7" d="M440 544l3 1 3 1 4 1-4 4-3-2-3-1-3-1z"/>
<path fill="#6485ec" d="M450 547l3 1 3 1 3 1-3 4-3-1-3-1-4-1z"/>
<path fill="#6a8bef" d="M459 550l3 1 3 1 3 1-3 4-3-1-3-1-3-1z"/>
<path fill="#6f92f3" d="M468 553l4 1 3 1 3 1-3 5-3-2-4-1-3-1z"/>
<path fill="#7597f6" d="M478 556l3 2 3 1 4 2 3 2 3 2-3 4-4-2-3-2-3-1-3-2-3-1z"/>
<path fill="#7a9df8" d="M494 565l3 2 3 2 4 2 3 3 3 2 3 3 3 2 4 3-4 4-3-2-3-3-3-2-3-3-4-2-3-2-3-3-3-2z"/>
<path fill="#7597f6" d="M520 584l3 2 3 3 3 3 4 2 3 3 3 2 3 3 4 2 3 2 3 3 3 2-3 3-3-2-3-2-4-2-3-2-3-3-3-2-4-3-3-2-3-3-3-2-4-3z"/>
<path fill="#7a9df8" d="M555 611l4 2 3 1 3 2 4 2 3 1-3 4-4-2-3-1-3-2-4-2-3-2z"/>
<path fill="#80a3fa" d="M572 619l3 1 3 0-3 4-3 0-3-1z"/>
<path fill="#85a8fc" d="M578 620l4 1 3 0-3 4-3-1-4 0z"/>
<path fill="#8badfd" d="M585 621l4 1 3 2 3 3 3 2-3 5-3-3-3-3-4-2-3-1z"/>
<path fill="#5e7de7" d="M281 428l3 3 3 2 3 2 3 2 3 3 3 2 3 3 3 2 3 2 3 3 3 2 3 3 3 2 3 2 3 3-3 3-3-3-3-2-3-2-3-3-3-2-3-3-3-2-3-3-3-2-3-3-3-2-3-2-3-3-3-2-3-2z"/>
<path fill="#5a78e4" d="M326 464l3 2 3 3 3 2 3 2 3 3 3 2 3 3 4 2 3 3 3 2 3 2 3 3 3 2 3 3 3 2 3 3 3 2 3 3 3 2 3 3-3 3-3-3-3-2-3-3-3-2-3-3-3-2-3-3-3-2-4-3-3-2-3-3-3-2-3-2-3-3-3-2-3-3-3-2-3-2-3-3-3-2z"/>
<path fill="#5470de" d="M387 513l3 2 4 3 3 2 3 3 3 2 3 3 3 2 3 2 3 3 3 2 3 1 4 2-4 3-3-2-3-2-3-2-3-2-3-2-3-3-3-2-3-2-4-3-3-2-3-3-3-2z"/>
<path fill="#5a78e4" d="M425 540l3 2 3 2 3 1 3 2 3 1-3 3-3-1-3-2-3-1-4-2-3-2z"/>
<path fill="#5e7de7" d="M440 548l3 1 3 2 4 1-4 3-3-1-3-1-3-2z"/>
<path fill="#6485ec" d="M450 552l3 1 3 1 3 1-3 4-3-1-4-2-3-1z"/>
<path fill="#6a8bef" d="M459 555l3 1 3 1 3 1-3 4-3-1-3-1-3-1z"/>
<path fill="#6f92f3" d="M468 558l4 1 3 2 3 1 3 2-3 4-3-2-3-1-4-1-3-2z"/>
<path fill="#7597f6" d="M481 564l3 1 3 2 4 2 3 2 3 3 3 2 4 2 3 3 3 2 3 3 3 2 4 3 3 2 3 3 3 2 4 3 3 2 3 3 3 2 4 2 3 2 3 2 3 2 4 2-4 4-3-2-3-2-3-2-4-2-3-2-3-3-3-2-4-2-3-3-3-2-3-3-4-2-3-3-3-2-3-3-3-2-4-2-3-3-3-2-3-2-4-2-3-2-3-2-3-2z"/>
<path fill="#7a9df8" d="M559 618l3 2 3 1 4 2 3 1-3 3-4-1-3-1-3-2-4-1z"/>
<path fill="#80a3fa" d="M572 624l3 0 4 0-4 4-3 0-3-1z"/>
<path fill="#85a8fc" d="M579 624l3 1 3 1-3 4-3-1-4-1z"/>
<path fill="#8badfd" d="M585 626l4 2 3 3 3 3-3 4-3-3-4-3-3-2z"/>
<path fill="#5e7de7" d="M278 431l3 2 3 2 3 3 3 2 3 2 3 3 3 2 3 3 3 2 3 3 3 2-3 3-3-2-3-3-3-2-3-3-3-2-3-3-3-2-3-3-3-2-3-2-3-2z"/>
<path fill="#5a78e4" d="M311 457l3 3 3 2 3 2 3 3 3 2 3 3 3 2 3 2 3 3 3 2 3 3 3 2 3 2 3 3 3 2 4 3 3 2 3 3 3 2 3 3 3 2 3 3-3 2-3-2-3-3-3-2-4-3-3-2-3-2-3-3-3-2-3-3-3-2-3-3-3-2-3-2-3-3-3-2-3-3-3-2-3-2-3-3-3-2-3-3-3-2z"/>
<path fill="#5470de" d="M378 511l3 2 3 3 3 2 3 3 3 2 4 3 3 2 3 2 3 3 3 2 3 2 3 2 3 2 3 2 3 2-3 3-3-2-3-2-3-2-3-2-3-3-3-2-3-2-4-3-3-2-3-2-3-3-3-2-3-3-3-2-3-3z"/>
<path fill="#5a78e4" d="M424 545l4 2 3 1 3 2 3 1 3 2-3 3-3-2-3-1-4-2-3-2-3-1z"/>
<path fill="#5e7de7" d="M440 553l3 1 3 1 3 1-3 4-3-2-3-1-3-1z"/>
<path fill="#6485ec" d="M449 556l4 2 3 1 3 1-3 4-3-2-4-1-3-1z"/>
<path fill="#6a8bef" d="M459 560l3 1 3 1 3 2 4 1-4 4-3-1-3-2-3-1-3-1z"/>
<path fill="#6f92f3" d="M472 565l3 1 3 2 3 2 3 2 3 2 4 2 3 2 3 2-3 5-3-3-4-2-3-2-3-2-3-2-3-2-3-1-4-2z"/>
<path fill="#7597f6" d="M497 580l3 3 4 2 3 2 3 3 3 2-3 4-3-2-3-2-4-3-3-2-3-2z"/>
<path fill="#6f92f3" d="M513 592l3 3 4 2 3 3 3 2 3 3 4 2 3 2-3 4-4-2-3-3-3-2-3-2-4-3-3-2-3-3z"/>
<path fill="#7597f6" d="M536 609l3 3 3 2 4 2 3 2 3 2 3 2 4 1-3 4-4-2-3-2-3-2-4-2-3-2-3-2-3-2z"/>
<path fill="#7a9df8" d="M559 623l3 2 3 1 4 1-4 4-3-1-3-2-3-1z"/>
<path fill="#80a3fa" d="M569 627l3 1 3 0-3 4-3-1-4 0z"/>
<path fill="#85a8fc" d="M575 628l4 1 3 1 3 2 4 3 3 3-3 4-4-3-3-2-3-3-4-1-3-1z"/>
<path fill="#5e7de7" d="M275 434l3 2 3 2 3 2 3 3 3 2 3 3 3 2 3 3-4 3-3-3-3-2-3-3-3-2-3-3-3-2-3-2-2-2z"/>
<path fill="#5a78e4" d="M299 453l3 2 3 3 3 2 3 2 3 3 3 2 3 3 3 2 3 2 3 3 3 2 3 3 3 2 3 2 3 3 3 2 3 3 3 2 3 3 3 2 3 2 4 3 3 2-4 3-3-2-3-3-3-2-3-3-3-2-3-3-3-2-3-2-3-3-3-2-3-3-3-2-3-2-3-3-3-2-3-3-3-2-3-2-3-3-3-2-3-3-4-2-3-2z"/>
<path fill="#5470de" d="M369 508l3 3 3 2 3 3 3 2 3 3 3 2 3 3 3 2 3 2 4 3 3 2 3 2 3 3 3 2 3 2 3 2 3 2-3 2-3-2-3-2-3-2-3-2-3-2-4-2-3-3-3-2-3-2-3-3-3-2-3-3-3-2-3-3-3-2-3-3-4-2z"/>
<path fill="#5a78e4" d="M421 548l3 1 3 2 4 2 3 1 3 2-3 3-3-2-4-1-3-2-3-2-3-2z"/>
<path fill="#5e7de7" d="M437 556l3 1 3 1 3 2 3 1-3 4-3-2-3-1-3-2-3-1z"/>
<path fill="#6485ec" d="M449 561l4 1 3 2 3 1 3 1-3 4-3-1-4-2-3-1-3-1z"/>
<path fill="#6a8bef" d="M462 566l3 2 3 1 4 2 3 1 3 2-3 4-4-1-3-2-3-2-3-1-3-2z"/>
<path fill="#6f92f3" d="M478 574l3 2 3 2 3 2 4 2 3 3 3 2 3 2 4 3 3 2 3 2 3 3 3 2 4 3 3 2 3 2 3 3 4 2 3 2 3 2 3 2 4 2-4 4-3-2-3-2-3-2-4-2-3-3-3-2-3-2-4-2-3-3-3-2-3-2-3-3-4-2-3-2-3-3-3-2-4-2-3-2-3-3-3-2-3-2z"/>
<path fill="#7597f6" d="M546 621l3 2 3 2 4 2 3 1-3 4-4-2-3-2-3-1-4-2z"/>
<path fill="#7a9df8" d="M559 628l3 2 3 1 4 0-4 4-3-1-3-1-3-1z"/>
<path fill="#80a3fa" d="M569 631l3 1 3 1-3 4-3-1-4-1z"/>
<path fill="#85a8fc" d="M575 633l4 1 3 3 3 2 4 3-4 4-3-3-3-3-4-2-3-1z"/>
<path fill="#5e7de7" d="M272 437l2 2 3 2 3 2 3 3 3 2 3 3-3 2-3-2-3-3-3-2-3-2-3-3-3-2z"/>
<path fill="#5a78e4" d="M289 451l3 2 3 3 3 2 4 2 3 3 3 2 3 3 3 2 3 2 3 3 3 2 3 3 3 2 3 2 3 3 3 2 3 3 3 2 3 2 3 3 3 2 3 3-3 2-3-2-3-2-3-3-3-2-3-3-3-2-3-2-3-3-3-2-3-3-4-2-3-2-3-3-3-2-3-3-3-2-3-2-3-3-3-2-3-3-3-2-3-3z"/>
<path fill="#5470de" d="M356 504l3 2 3 3 3 2 4 2 3 3 3 2 3 3 3 2 3 3 3 2 3 3 3 2 3 2 3 3 4 2 3 2 3 2 3 2 3 2 3 2 3 2-3 3-3-2-3-2-3-2-3-2-4-3-3-2-3-2-3-2-3-3-3-2-3-2-3-3-3-2-3-3-4-2-3-3-3-2-3-2-3-3-3-2-3-3z"/>
<path fill="#5a78e4" d="M421 552l3 2 3 2 4 1 3 2 3 1-3 3-4-1-3-2-3-2-3-1-3-2z"/>
<path fill="#5e7de7" d="M437 560l3 2 3 1 3 2 3 1 3 1-3 4-3-2-3-1-3-2-3-1-3-2z"/>
<path fill="#6485ec" d="M452 567l4 2 3 1 3 2 3 1-3 4-3-1-3-2-4-1-3-2z"/>
<path fill="#6a8bef" d="M465 573l3 2 3 2 4 1 3 2 3 2 3 3 3 2 4 2 3 2 3 3-3 4-3-3-4-2-3-2-3-2-3-2-3-2-4-2-3-2-3-2-3-2z"/>
<path fill="#6f92f3" d="M497 594l3 2 4 2 3 3 3 2 3 2 3 3 4 2 3 2 3 2 3 3 4 2 3 2 3 2 3 2 4 2-4 3-3-2-3-2-3-2-4-2-3-2-3-2-3-2-4-2-3-3-3-2-3-2-3-2-4-3-3-2-3-2z"/>
<path fill="#7597f6" d="M546 627l3 1 3 2 4 2 3 1-3 3-4-1-3-2-3-1-4-2z"/>
<path fill="#7a9df8" d="M559 633l3 1 3 1 4 1-3 3-4-1-3 0-3-2z"/>
<path fill="#80a3fa" d="M569 636l3 1 3 1 4 2 3 3 3 3-3 3-3-2-3-3-4-2-3-2-3-1z"/>
<path fill="#5e7de7" d="M268 439l3 2 3 3 3 2 3 2-3 3-3-2-3-3-3-2-3-2z"/>
<path fill="#5a78e4" d="M280 448l3 3 3 2 3 3 3 2 3 3 3 2 3 3 3 2 3 2 3 3 3 2 3 3 3 2 4 2 3 3 3 2 3 3 3 2 3 2 3 3-3 3-3-3-4-2-3-3-3-2-3-2-3-3-3-2-3-2-3-3-3-2-3-3-3-2-3-3-3-2-3-2-3-3-3-2-3-3-3-2-3-3z"/>
<path fill="#5470de" d="M341 497l3 2 3 3 3 2 3 2 3 3 3 2 3 3 3 2 3 2 3 3 4 2 3 3 3 2 3 3 3 2 3 2 3 3 3 2 3 2 3 2 4 3 3 2 3 2 3 2 3 2 3 2-3 2-3-2-3-2-4-2-3-2-3-2-3-2-3-2-3-3-3-2-3-2-3-3-3-2-4-2-3-3-3-2-3-2-3-3-3-2-3-3-3-2-3-2-3-3-3-2-3-3-3-2-3-2z"/>
<path fill="#5a78e4" d="M421 557l3 1 3 2 3 2 4 1 3 2-4 3-3-2-3-1-3-2-3-2-3-2z"/>
<path fill="#5e7de7" d="M437 565l3 1 3 2 3 1 3 2 3 2-3 3-3-2-3-1-3-2-3-1-4-2z"/>
<path fill="#6485ec" d="M452 573l4 1 3 2 3 1 3 2 3 2 3 2-3 4-3-2-3-2-3-2-3-1-4-2-3-2z"/>
<path fill="#6a8bef" d="M471 583l4 2 3 2 3 2 3 2 3 2 4 2 3 3 3 2 3 2 4 3 3 2 3 2 3 2 3 3 4 2 3 2 3 2-3 4-3-2-4-3-3-2-3-2-3-2-3-2-4-3-3-2-3-2-3-2-4-3-3-2-3-2-3-2-3-2-4-2-3-2z"/>
<path fill="#6f92f3" d="M526 620l3 2 4 2 3 2 3 2 3 2 4 2 3 1-3 4-3-2-4-2-3-1-3-2-4-2-3-2-3-2z"/>
<path fill="#7597f6" d="M549 633l3 2 4 1 3 2-3 3-4-1-3-2-3-1z"/>
<path fill="#7a9df8" d="M559 638l3 0 4 1-4 4-3-1-3-1z"/>
<path fill="#80a3fa" d="M566 639l3 1 3 2 4 2 3 3 3 2-3 4-3-3-4-2-3-3-3-1-4-1z"/>
<path fill="#5a78e4" d="M265 442l3 2 3 2 3 3 3 2 3 3 3 2 3 3 3 2 3 3 3 2 3 2 3 3 3 2 3 3 3 2 3 3 3 2 3 2 3 3-3 2-3-2-3-2-3-3-3-2-3-2-3-3-3-2-3-3-3-2-3-3-3-2-3-2-3-3-3-3-3-2-3-3-3-2-3-2-3-2z"/>
<path fill="#5470de" d="M322 488l3 2 3 2 3 3 4 2 3 3 3 2 3 2 3 3 3 2 3 3 3 2 3 2 3 3 3 2 3 3 3 2 3 2 3 3 4 2 3 2 3 3 3 2 3 2 3 3 3 2 3 2 3 2 3 2 4 2 3 2 3 2-3 3-3-2-4-2-3-2-3-3-3-2-3-2-3-2-3-2-3-3-3-2-4-2-3-2-3-3-3-2-3-3-3-2-3-2-3-3-3-2-3-2-3-3-3-2-3-3-4-2-3-2-3-3-3-2-3-2-3-3-3-2-3-3z"/>
<path fill="#5a78e4" d="M418 559l3 2 3 2 3 2 3 1 3 2 4 2 3 1-3 3-4-1-3-2-3-2-3-2-3-2-3-1-3-2z"/>
<path fill="#5e7de7" d="M440 571l3 2 3 1 3 2 3 2 4 2-4 3-3-2-3-1-3-2-3-2-3-2z"/>
<path fill="#6485ec" d="M456 580l3 1 3 2 3 2 3 2 3 2 4 2 3 2 3 2 3 2-3 4-3-2-3-2-4-2-3-2-3-2-3-2-3-2-4-2-3-2z"/>
<path fill="#6a8bef" d="M484 597l3 2 4 3 3 2 3 2 3 2 4 3 3 2 3 2 3 2 3 2 4 3 3 2 3 2 3 2-3 3-3-2-3-2-4-2-3-2-3-2-3-2-4-2-3-3-3-2-3-2-3-2-4-2-3-3-3-2z"/>
<path fill="#6f92f3" d="M529 628l4 2 3 2 3 1 4 2 3 2 3 1-3 4-3-2-4-2-3-1-3-2-4-2-3-2z"/>
<path fill="#7597f6" d="M549 638l3 2 4 1 3 1-3 4-4-1-3-2-3-1z"/>
<path fill="#7a9df8" d="M559 642l3 1 4 1-4 3-3-1-3 0z"/>
<path fill="#80a3fa" d="M566 644l3 1 3 3 4 2 3 3-3 3-4-2-3-3-3-2-4-2z"/>
<path fill="#5a78e4" d="M262 445l3 2 3 2 3 2 3 3 3 2 3 3 3 3 3 2 3 2 3 3 3 2 3 3 3 2 3 3 3 2-3 3-3-3-3-2-3-2-3-3-3-2-3-3-3-2-3-3-3-2-3-3-3-2-3-3-3-2-3-2-3-3z"/>
<path fill="#5470de" d="M307 481l3 2 3 3 3 2 3 2 3 3 3 2 3 3 3 2 3 2 3 3 3 2 4 2 3 3 3 2 3 3 3 2 3 2 3 3 3 2 3 2 3 3 3 2 3 3 3 2 4 2 3 2 3 3 3 2 3 2 3 2 3 2 3 3 3 2 4 2 3 2 3 2-3 2-4-2-3-2-3-2-3-2-3-2-3-2-3-3-3-2-3-2-4-2-3-3-3-2-3-2-3-2-3-3-3-2-3-2-3-3-3-2-3-2-3-3-4-2-3-2-3-3-3-2-3-3-3-2-3-2-3-3-3-2-3-2-3-3-3-2-3-2-3-3-3-2z"/>
<path fill="#5a78e4" d="M418 564l3 1 3 2 3 2 3 2 3 2 4 1 3 2-4 3-3-1-3-2-3-2-3-2-3-2-3-2-3-2z"/>
<path fill="#5e7de7" d="M440 576l3 2 3 2 3 1 3 2 3 2 4 2 3 2-3 4-4-2-3-2-3-2-3-2-3-2-3-2-4-2z"/>
<path fill="#6485ec" d="M462 589l3 2 3 2 3 2 4 2 3 2 3 2 3 2 3 3 4 2 3 2 3 2 3 2 3 3-3 3-3-2-3-2-3-2-4-2-3-3-3-2-3-2-3-2-4-2-3-2-3-2-3-2-3-2z"/>
<path fill="#6a8bef" d="M503 617l4 2 3 2 3 2 3 2 4 2 3 2 3 2 3 2 4 2-4 3-3-2-3-2-3-2-4-2-3-2-3-2-3-2-4-2-3-2z"/>
<path fill="#6f92f3" d="M533 635l3 2 3 1 4 2 3 2 3 1-3 4-3-2-4-2-3-1-3-2-4-2z"/>
<path fill="#7597f6" d="M549 643l3 2 4 1 3 0-3 4-4-1-3-1-3-1z"/>
<path fill="#7a9df8" d="M559 646l3 1 4 2 3 2 3 3 4 2-4 4-3-3-3-2-4-2-3-2-3-1z"/>
<path fill="#5a78e4" d="M259 447l3 3 3 2 3 2 3 3 3 2 3 3 3 2 3 3 3 2 3 3 3 2-3 3-3-2-3-3-3-2-4-3-3-2-3-3-3-3-3-2-3-2-3-3-2-2z"/>
<path fill="#5470de" d="M292 474l3 3 3 2 3 2 3 3 3 2 3 3 3 2 3 2 3 3 3 2 3 2 3 3 3 2 3 2 3 3 3 2 3 3 3 2 4 2 3 3 3 2 3 2 3 3 3 2 3 2 3 3 3 2 3 2 3 2 3 3 4 2 3 2 3 2 3 3 3 2 3 2 3 2 3 2 3 2 4 2-4 3-3-2-3-2-3-3-3-2-3-2-3-2-4-2-3-2-3-3-3-2-3-2-3-2-3-3-3-2-3-2-3-3-3-2-4-2-3-3-3-2-3-2-3-3-3-2-3-2-3-3-3-2-3-2-3-3-3-2-3-2-3-3-3-2-3-2-3-3-3-2-3-2-3-3-3-2-3-3-3-2z"/>
<path fill="#5a78e4" d="M415 566l3 2 3 2 3 2 3 2 3 2 3 2 3 1 4 2 3 2-3 3-4-1-3-2-3-2-3-2-3-2-3-2-3-2-4-2-3-2z"/>
<path fill="#5e7de7" d="M443 583l3 2 3 2 3 2 3 2 4 2 3 2 3 2 3 2 3 2-3 4-3-2-3-2-3-3-4-2-3-2-3-2-3-2-3-2-3-2z"/>
<path fill="#6485ec" d="M471 601l4 2 3 2 3 2 3 2 3 3 4 2 3 2 3 2 3 2 3 2 4 2 3 2-3 4-4-2-3-2-3-2-3-2-3-2-4-3-3-2-3-2-3-2-3-2-4-2-3-2z"/>
<path fill="#6a8bef" d="M510 626l3 2 3 2 4 2 3 2 3 2 3 2 4 2-4 3-3-2-3-2-3-1-4-2-3-2-3-2-3-2z"/>
<path fill="#6f92f3" d="M533 640l3 2 3 1 4 2 3 2 3 1-3 3-3-1-4-2-3-1-3-2-4-2z"/>
<path fill="#7597f6" d="M549 648l3 1 4 1-3 3-4-1-3-1z"/>
<path fill="#7a9df8" d="M556 650l3 1 3 2 4 2 3 2 3 3-3 3-3-3-4-2-3-2-3-1-3-2z"/>
<path fill="#5a78e4" d="M256 450l2 2 3 3 3 2 3 2 3 3 3 3 3 2 4 3-4 3-3-3-3-3-3-2-3-3-3-2-3-3-3-2-3-2z"/>
<path fill="#5470de" d="M280 470l3 2 3 3 3 2 3 2 3 3 3 2 3 3 3 2 3 2 3 3 3 2 3 2 3 3 3 2 3 2 3 3 3 2 3 2 3 3 3 2 3 2 3 3 3 2 3 2 3 3 4 2 3 2 3 3 3 2 3 2 3 3 3 2 3 2 3 2 3 3 3 2 4 2 3 2 3 2 3 2 3 3 3 2 3 2 3 2-3 2-3-2-3-2-3-2-3-2-3-2-4-3-3-2-3-2-3-2-3-2-3-3-3-2-3-2-3-2-3-3-4-2-3-2-3-2-3-3-3-2-3-2-3-3-3-2-3-2-3-3-3-2-3-2-3-3-3-2-3-2-3-3-3-2-3-2-4-3-3-2-3-2-3-3-3-2-3-2-3-3-3-2-3-3-3-2-3-2z"/>
<path fill="#5a78e4" d="M414 571l4 2 3 2 3 2 3 2 3 2 3 2 3 2 4 1 3 2 3 2-3 4-4-2-3-2-3-2-3-2-3-2-3-2-3-3-4-2-3-2-3-2z"/>
<path fill="#5e7de7" d="M446 590l3 2 3 2 3 2 4 2 3 3 3 2 3 2 3 2 4 2 3 2 3 2 3 2-3 4-3-2-4-2-3-2-3-3-3-2-3-2-3-2-4-2-3-2-3-2-3-2-3-2z"/>
<path fill="#6485ec" d="M484 615l3 2 4 3 3 2 3 2 3 2 3 2 4 2 3 2 3 2-3 3-3-2-4-2-3-2-3-2-3-2-3-2-4-2-3-2-3-2z"/>
<path fill="#6a8bef" d="M513 634l3 2 4 2 3 1 3 2 3 2 4 2-3 3-4-2-3-2-3-1-4-2-3-2-3-2z"/>
<path fill="#6f92f3" d="M533 645l3 2 3 1 4 2 3 1-3 4-4-2-3-2-3-1-3-2z"/>
<path fill="#7597f6" d="M546 651l3 1 4 1 3 2-3 3-4-1-3-1-3-1z"/>
<path fill="#7a9df8" d="M556 655l3 1 3 2 4 2 3 3-3 3-4-2-3-2-3-2-3-2z"/>
<path fill="#5a78e4" d="M252 453l3 2 3 2 3 3 3 2 3 3 3 2-3 3-3-2-3-3-3-2-3-3-3-2-3-2z"/>
<path fill="#5470de" d="M270 467l3 3 3 3 3 2 3 2 3 3 3 2 3 3 3 2 3 2 3 3 3 2 3 2 4 3 3 2 3 2 3 3 3 2 3 2 3 3 3 2 3 2 3 3 3 2 3 2 3 3 3 2 3 2 3 3 3 2 3 2 4 2 3 3 3 2 3 2 3 2 3 3 3 2 3 2 3 2 3 2 4 3 3 2 3 2 3 2 3 2 3 2-3 3-3-2-3-3-3-2-4-2-3-2-3-2-3-3-3-2-3-2-3-2-3-2-3-3-3-2-4-2-3-2-3-3-3-2-3-2-3-2-3-3-3-2-3-2-3-2-3-3-3-2-3-2-3-3-3-2-4-2-3-3-3-2-3-2-3-3-3-2-3-2-3-3-3-2-3-2-3-3-3-2-3-2-3-3-3-2-3-3-3-2-3-3z"/>
<path fill="#5a78e4" d="M411 573l3 2 3 2 4 2 3 3 3 2 3 2 3 2 3 2 3 2 4 2 3 2 3 2 3 2 3 2-3 4-3-3-3-2-3-2-4-2-3-2-3-2-3-2-3-2-3-3-4-2-3-2-3-2-3-2-3-2z"/>
<path fill="#5e7de7" d="M455 602l4 2 3 2 3 2 3 2 3 3 3 2 4 2 3 2 3 2 3 2 4 2-4 3-3-2-3-2-3-2-4-2-3-2-3-2-3-2-3-2-4-2-3-2-3-2z"/>
<path fill="#6485ec" d="M491 625l3 2 3 2 3 2 3 2 4 2 3 2 3 2 3 2-3 3-3-2-3-2-4-2-3-2-3-2-3-2-3-2-4-2z"/>
<path fill="#6a8bef" d="M516 641l4 2 3 1 3 2 4 2 3 2-3 3-4-2-3-2-3-2-4-1-3-2z"/>
<path fill="#6f92f3" d="M533 650l3 1 3 2 4 2 3 1-3 3-4-1-3-2-3-1-3-2z"/>
<path fill="#7597f6" d="M546 656l3 1 4 1 3 2-3 3-4-1-3-2-3-1z"/>
<path fill="#7a9df8" d="M556 660l3 2 3 2 4 2-3 4-4-3-3-2-3-2z"/>
<path fill="#5a78e4" d="M249 456l3 2 3 2 3 3 3 2 3 3-3 2-3-2-3-3-3-2-3-2-3-3z"/>
<path fill="#5470de" d="M264 468l3 2 3 3 3 2 3 3 3 2 3 3 3 2 3 2 3 3 3 2 3 2 3 3 3 2 3 2 3 3 3 2 3 2 3 3 4 2 3 2 3 3 3 2 3 2 3 3 3 2 3 2 3 2 3 3 3 2 3 2 3 2 3 3 3 2 4 2 3 2 3 3 3 2 3 2 3 2 3 2 3 3 3 2 3 2 4 2 3 2 3 3 3 2 3 2-3 2-3-2-3-2-4-2-3-3-3-2-3-2-3-2-3-2-3-3-3-2-3-2-4-2-3-2-3-3-3-2-3-2-3-2-3-2-3-3-3-2-3-2-3-2-3-3-3-2-4-2-3-2-3-3-3-2-3-2-3-3-3-2-3-2-3-3-3-2-3-2-3-3-3-2-3-2-3-3-3-2-3-2-3-3-3-2-3-2-3-3-3-2-3-3-3-3z"/>
<path fill="#5a78e4" d="M411 578l3 2 3 2 3 2 4 2 3 3 3 2 3 2 3 2 3 2 4 2 3 2 3 2 3 3 3 2 3 2 4 2 3 2-3 3-4-2-3-2-3-2-3-2-3-2-3-2-4-3-3-2-3-2-3-2-3-2-3-3-4-2-3-2-3-2-3-2-3-3z"/>
<path fill="#5e7de7" d="M465 614l3 2 3 2 3 2 4 2 3 2 3 2 3 2 4 2 3 2-3 3-4-1-3-2-3-2-3-2-4-2-3-2-3-2-3-2-3-3z"/>
<path fill="#6485ec" d="M494 632l3 2 3 2 3 2 4 2 3 2 3 2 3 2-3 3-3-2-3-2-4-2-3-2-3-2-3-2-3-2z"/>
<path fill="#6a8bef" d="M516 646l4 1 3 2 3 2 4 2 3 2-3 3-4-2-3-2-3-2-4-2-3-1z"/>
<path fill="#6f92f3" d="M533 655l3 1 3 2 4 1 3 1-3 4-4-1-3-2-3-1-3-2z"/>
<path fill="#7597f6" d="M546 660l3 2 4 1 3 2 3 2 4 3-4 3-3-3-3-2-4-2-3-1-3-1z"/>
<path fill="#5a78e4" d="M246 458l3 3 3 2 3 2-3 3-3-2-3-3-3-2z"/>
<path fill="#5470de" d="M255 465l3 3 3 2 3 3 3 3 3 2 3 3 3 2 3 2 3 3 3 2 3 2 3 3 3 2 3 2 3 3 3 2 3 2 3 3 3 2 3 2 3 3 3 2 3 2 3 3 3 2 4 2 3 2 3 3 3 2 3 2 3 2 3 3 3 2 3 2 3 2 3 2 3 3 3 2 4 2 3 2 3 2 3 3 3 2 3 2 3 2 3 2 3 3 4 2 3 2 3 2 3 3-3 2-3-2-4-3-3-2-3-2-3-2-3-3-3-2-3-2-3-2-4-2-3-3-3-2-3-2-3-2-3-2-3-3-3-2-3-2-3-2-3-2-3-3-4-2-3-2-3-2-3-2-3-3-3-2-3-2-3-2-3-3-3-2-3-2-3-3-3-2-3-2-3-3-3-2-3-2-3-3-3-2-3-2-3-3-3-2-3-2-3-3-3-2-3-3-3-2-3-3-3-2-3-3z"/>
<path fill="#5a78e4" d="M411 583l3 2 3 2 3 2 4 2 3 3 3 2 3 2 3 2 3 2 4 3 3 2 3 2 3 2 3 2 3 2 4 2 3 3 3 2-3 3-3-2-4-2-3-2-3-3-3-2-3-2-4-2-3-2-3-2-3-3-3-2-3-2-4-3-3-2-3-2-3-2-3-3-3-2z"/>
<path fill="#5e7de7" d="M468 622l3 2 3 2 4 2 3 2 3 2 3 2 4 1 3 2-4 3-3-2-3-1-3-2-3-2-4-2-3-2-3-2-3-2z"/>
<path fill="#6485ec" d="M494 637l3 2 3 2 3 2 4 2 3 2 3 2-3 3-3-2-4-2-3-2-3-2-3-2-4-2z"/>
<path fill="#6a8bef" d="M513 649l3 1 4 2 3 2 3 2 4 2 3 2-3 3-4-2-3-2-3-2-4-2-3-2-3-1z"/>
<path fill="#6f92f3" d="M533 660l3 1 3 2 4 1 3 1-3 3-4-1-3-1-3-2-3-1z"/>
<path fill="#7597f6" d="M546 665l3 1 4 2 3 2 3 3-3 3-3-2-4-2-3-2-3-2z"/>
<path fill="#5470de" d="M243 461l3 2 3 3 3 2 3 3 3 2 3 3 3 2 3 3 3 2 3 3 3 2 3 2 3 3 3 2 3 2 3 3 3 2 3 2 3 3 3 2 3 2 3 3 3 2 3 2 3 3 3 2 3 2 3 2 3 3 3 2 3 2 3 2 4 2 3 3 3 2 3 2 3 2 3 2 3 3 3 2 3 2 3 2 3 2 3 3 4 2 3 2 3 2 3 2 3 3 3 2 3 2 3 2 4 3 3 2 3 2-3 3-4-3-3-2-3-2-3-3-3-2-3-2-3-2-3-3-4-2-3-2-3-2-3-3-3-2-3-2-3-2-3-2-3-2-3-3-3-2-4-2-3-2-3-2-3-2-3-3-3-2-3-2-3-2-3-2-3-3-3-2-3-2-3-2-3-3-3-2-3-2-3-3-3-2-3-2-3-3-3-2-3-2-4-3-3-2-3-2-3-3-3-2-3-2-3-3-3-3-3-2-3-3-3-2-3-3-3-2-3-2z"/>
<path fill="#5a78e4" d="M411 587l3 3 3 2 3 2 3 2 4 3 3 2 3 2 3 3 3 2 3 2 4 2 3 2 3 2 3 3 3 2 4 2 3 2 3 2 3 2-3 3-3-2-3-2-4-2-3-2-3-2-3-2-3-3-4-2-3-2-3-2-3-3-3-2-3-2-4-3-3-2-3-2-3-3-3-2-3-2z"/>
<path fill="#5e7de7" d="M471 629l3 2 4 2 3 2 3 2 3 1 3 2 4 2-4 3-3-2-3-2-3-2-3-1-4-2-3-2-3-2z"/>
<path fill="#6485ec" d="M494 642l3 2 3 2 3 2 4 2 3 2 3 1-3 3-3-2-4-1-3-2-3-2-3-2-4-2z"/>
<path fill="#6a8bef" d="M513 653l3 2 4 2 3 2 3 2 4 2 3 1-3 4-4-2-3-2-3-2-4-2-3-2-3-2z"/>
<path fill="#6f92f3" d="M533 664l3 2 3 1 4 1-4 4-3-2-3-1-3-1z"/>
<path fill="#7597f6" d="M543 668l3 2 3 2 4 2 3 2-3 3-4-2-3-2-3-2-4-1z"/>
<path fill="#5470de" d="M239 464l3 2 3 2 3 3 3 2 3 3 3 2 3 3 3 3 3 2 3 2 3 3 3 2 3 2 4 3 3 2 3 2 3 3 3 2 3 2 3 3 3 2 3 2 3 3 3 2 3 2 3 2 3 3 3 2 3 2 3 2 3 2 3 3 3 2 3 2 3 2 4 2 3 2 3 3 3 2 3 2 3 2 3 2 3 2 3 3 3 2 3 2 4 2 3 3 3 2 3 2 3 2 3 3 3 2 3 2 4 3 3 2 3 2 3 3 3 2 3 2 4 3 3 2-4 3-3-3-3-2-3-2-3-3-3-2-4-3-3-2-3-2-3-3-3-2-3-2-3-3-3-2-4-2-3-3-3-2-3-2-3-2-3-2-3-3-3-2-3-2-4-2-3-2-3-2-3-2-3-3-3-2-3-2-3-2-3-2-3-2-3-3-3-2-3-2-3-2-3-2-3-3-3-2-4-2-3-3-3-2-3-2-3-2-3-3-3-2-3-2-3-3-3-2-3-2-3-3-3-2-3-2-3-3-3-2-3-3-3-2-3-3-3-2-3-3-3-2-3-2z"/>
<path fill="#5a78e4" d="M430 606l3 2 3 3 3 2 3 2 4 2 3 3 3 2 3 2 3 2 4 2 3 2 3 2 3 2-3 3-3-2-4-2-3-2-3-2-3-2-3-3-4-2-3-2-3-2-3-2-3-3-3-2-4-2z"/>
<path fill="#5e7de7" d="M471 634l3 2 4 2 3 1 3 2 3 2 3 2 4 2-4 3-3-2-3-2-3-2-3-2-4-2-3-2-3-1z"/>
<path fill="#6485ec" d="M494 647l3 2 3 2 3 2 4 1 3 2 3 2-3 3-3-2-4-2-3-2-3-2-3-1-4-2z"/>
<path fill="#6a8bef" d="M513 658l3 2 4 2 3 2 3 2 4 2 3 1-3 3-4-1-3-2-3-2-4-2-3-2-3-2z"/>
<path fill="#6f92f3" d="M533 669l3 1 3 2 4 1-4 3-3-1-3-1-3-2z"/>
<path fill="#7597f6" d="M543 673l3 2 3 2 4 2-4 3-3-2-3-2-4-2z"/>
<path fill="#5470de" d="M236 467l3 2 3 2 3 3 3 2 3 3 3 2 3 3 3 2 3 3 3 2 3 2 3 3 3 2 3 2 3 3 3 2-3 3-3-3-3-2-3-2-3-3-3-2-3-2-3-3-3-2-3-3-3-2-3-3-3-2-3-3-3-2-3-2-3-3z"/>
<path fill="#506bda" d="M284 505l3 2 3 3 3 2 3 2 3 2 3 3-3 2-3-2-3-2-3-3-3-2-3-2-3-2z"/>
<path fill="#5470de" d="M302 519l4 2 3 2 3 3 3 2 3 2 3 2 3 2 3 3 3 2 3 2 3 2 3 2 3 2 3 3 3 2 3 2 3 2 4 2 3 2 3 2 3 3 3 2 3 2 3 2 3 2 3 3-3 2-3-2-3-3-3-2-3-2-3-2-3-2-4-3-3-2-3-2-3-2-3-2-3-2-3-2-3-2-3-3-3-2-3-2-3-2-3-2-4-2-3-3-3-2-3-2-3-2-3-3-3-2z"/>
<path fill="#5a78e4" d="M382 576l4 2 3 2 3 3 3 2 3 2 3 3 3 2-3 2-3-2-3-3-3-2-3-2-4-3-3-2-3-2z"/>
<path fill="#5470de" d="M404 592l3 2 4 3 3 2 3 3 3 2 3 2 3 3 4 2 3 2 3 3-3 2-3-2-4-2-3-3-3-2-3-2-3-3-3-2-4-3-3-2-3-3z"/>
<path fill="#5a78e4" d="M436 616l3 2 3 2 3 2 4 2 3 3 3 2 3 2 3 2 4 2 3 2 3 1-3 3-3-2-4-2-3-2-3-2-3-2-3-2-4-2-3-2-3-2-3-2-3-3z"/>
<path fill="#5e7de7" d="M471 638l3 2 4 2 3 2 3 2 3 2 3 2-3 2-3-2-3-1-4-2-3-2-3-2-3-2z"/>
<path fill="#6485ec" d="M490 650l4 2 3 1 3 2 3 2 4 2 3 2-3 3-4-2-3-2-3-2-3-2-4-2-3-2z"/>
<path fill="#6a8bef" d="M510 661l3 2 3 2 4 2 3 2 3 2 4 1-4 3-3-1-3-2-4-2-3-2-3-2-3-2z"/>
<path fill="#6f92f3" d="M530 672l3 2 3 1 3 1 4 2-3 3-4-2-3-1-3-1-4-2z"/>
<path fill="#7597f6" d="M543 678l3 2 3 2-3 3-3-2-3-2z"/>
<path fill="#5470de" d="M233 469l3 3 3 2 3 2 3 3 3 2 3 3 3 2 3 3 3 2 3 3 3 2-3 2-3-2-3-2-3-3-3-2-3-2-3-3-3-3-3-2-3-2-3-3-3-2z"/>
<path fill="#506bda" d="M266 496l3 2 3 3 3 2 3 2 3 3 3 2 3 2 3 2 3 3 3 2 3 2 3 2 3 3-3 2-3-2-3-2-3-3-3-2-3-2-3-2-3-3-3-2-3-2-3-3-3-2-3-2-3-3z"/>
<path fill="#5470de" d="M305 526l3 2 3 2 3 2 3 3 4 2 3 2 3 2 3 2 3 2 3 3 3 2 3 2 3 2 3 2 3 2 3 2 3 2 4 3 3 2 3 2 3 2 3 2-3 2-3-2-4-2-3-2-3-2-3-3-3-2-3-2-3-2-3-2-3-2-3-2-3-2-3-2-4-3-3-2-3-2-3-2-3-2-3-2-3-3-3-2-3-2z"/>
<path fill="#5a78e4" d="M373 573l3 3 3 2 3 2 3 2 4 3 3 2 3 2 3 3 3 2 3 3 3 2-3 2-3-2-3-2-3-3-3-2-4-3-3-2-3-3-3-2-3-2-3-2-3-3z"/>
<path fill="#5470de" d="M407 599l4 3 3 2 3 3 3 2 3 2 3 3 4 2 3 2 3 3-3 2-4-2-3-3-3-2-3-2-3-3-3-2-4-3-3-2-3-3z"/>
<path fill="#5a78e4" d="M436 621l3 2 3 2 3 2 4 2 3 2 3 2 3 2 3 2 4 2 3 2-3 3-4-2-3-2-3-2-3-2-3-2-4-2-3-2-3-3-3-2-3-2z"/>
<path fill="#5e7de7" d="M468 641l3 2 3 2 3 2 4 2 3 1 3 2-3 3-3-2-4-2-3-2-3-2-3-2-3-1z"/>
<path fill="#6485ec" d="M487 652l3 2 4 2 3 2 3 2 3 2 4 2 3 2-3 2-4-2-3-2-3-2-3-2-4-1-3-2-3-2z"/>
<path fill="#6a8bef" d="M510 666l3 2 3 2 4 2 3 2 3 1 4 2-4 3-3-2-3-1-4-3-3-2-3-2-3-2z"/>
<path fill="#6f92f3" d="M530 677l3 1 3 1 4 2 3 2-3 3-4-2-3-1-3-2-4-1z"/>
<path fill="#7597f6" d="M543 683l3 2-3 3-3-2z"/>
<path fill="#5470de" d="M230 472l3 2 3 3 3 2 3 2 3 3 3 3 3 2 3 2-3 3-3-2-3-3-3-2-3-3-3-2-3-3-3-2-3-2z"/>
<path fill="#506bda" d="M254 491l3 3 3 2 3 2 3 3 3 2 3 2 3 3 3 2 3 2 3 3 3 2 3 2 3 2 3 3 3 2 3 2-3 2-3-2-3-2-3-2-3-3-3-2-3-2-3-2-3-3-3-2-3-2-3-2-3-3-3-2-3-2-3-3-3-2z"/>
<path fill="#5470de" d="M302 528l3 2 3 2 3 3 3 2 3 2 3 2 3 2 3 2 4 3 3 2 3 2 3 2 3 2 3 2 3 2 3 2 3 2 3 3 3 2 3 2-3 2-3-2-3-2-3-2-3-3-3-2-3-2-3-2-4-2-3-2-3-2-3-2-3-2-3-2-3-3-3-2-3-2-3-2-3-2-3-2-3-3z"/>
<path fill="#5a78e4" d="M363 571l4 2 3 2 3 3 3 2 3 2 3 2 3 3 3 2 4 3 3 2 3 3 3 2 3 2 3 3 3 2-3 3-3-3-3-2-3-3-3-2-4-3-3-2-3-3-3-2-3-3-3-2-3-2-4-2-3-3-3-2-3-2z"/>
<path fill="#5470de" d="M410 606l4 3 3 2 3 3 3 2 3 2 3 3 4 2-4 2-3-2-3-2-3-3-3-2-4-3-3-2-3-2z"/>
<path fill="#5a78e4" d="M433 623l3 2 3 2 3 3 3 2 4 2 3 2 3 2 3 2 3 2 4 2-4 2-3-2-3-2-3-2-4-2-3-2-3-2-3-2-3-2-3-2-4-3z"/>
<path fill="#5e7de7" d="M465 644l3 1 3 2 3 2 3 2 4 2 3 2-3 2-4-2-3-2-3-1-3-2-4-2-3-2z"/>
<path fill="#6485ec" d="M484 655l3 2 3 2 4 1 3 2 3 2 3 2 4 2-4 3-3-2-3-2-3-2-4-2-3-2-3-2-3-2z"/>
<path fill="#6a8bef" d="M507 668l3 2 3 2 3 2 4 3 3 1 3 2 4 1-4 3-3-1-3-2-4-2-3-2-3-2-3-2-4-2z"/>
<path fill="#6f92f3" d="M530 681l3 2 3 1 4 2 3 2-3 3-4-2-3-2-3-1-4-2z"/>
<path fill="#5470de" d="M227 475l3 2 3 2 3 3 3 2 3 3 3 2-4 3-3-3-3-2-3-3-3-2-3-2-3-3z"/>
<path fill="#506bda" d="M245 489l3 3 3 2 3 2 3 3 3 2 3 2 3 3 3 2 3 2 3 2 3 3 3 2 3 2 3 2 3 3 3 2 3 2 3 2-3 3-4-3-3-2-3-2-3-2-3-3-3-2-3-2-3-2-3-2-3-3-3-2-3-2-3-3-3-2-3-2-3-2-3-3-3-2z"/>
<path fill="#5470de" d="M299 530l3 3 3 2 3 2 3 2 3 2 3 2 3 3 3 2 3 2 3 2 3 2 3 2 4 2 3 2 3 2 3 2 3 3 3 2-3 2-3-2-4-2-3-3-3-2-3-2-3-2-3-2-3-2-3-2-3-2-3-2-3-2-3-3-3-2-3-2-3-2-3-2-3-2z"/>
<path fill="#5a78e4" d="M354 569l3 2 3 2 3 2 3 2 3 3 4 2 3 2 3 2 3 3 3 2 3 3 3 2 4 3 3 2 3 3 3 2 3 3 3 2 3 2 4 3 3 2 3 3 3 2 3 2 4 3 3 2 3 2 3 2 3 2 3 2 4 2 3 2 3 2-3 2-3-2-4-2-3-2-3-2-3-2-3-2-4-2-3-2-3-3-3-2-3-2-3-3-4-2-3-3-3-2-3-3-3-2-3-2-4-3-3-2-3-3-3-2-3-3-3-2-3-3-4-2-3-2-3-2-3-3-3-2-3-2-3-2-3-2z"/>
<path fill="#5e7de7" d="M458 644l3 2 3 2 4 2 3 2 3 1 3 2 4 2-4 2-3-2-3-1-3-2-4-2-3-2-3-2-3-2z"/>
<path fill="#6485ec" d="M481 657l3 2 3 2 3 2 4 2 3 2 3 2 3 2 4 2-4 3-3-3-3-2-3-2-4-2-3-2-3-2-3-2-4-2z"/>
<path fill="#6a8bef" d="M507 673l3 2 3 2 3 2 4 2 3 2 3 1-3 3-3-1-4-2-3-2-3-2-3-2-4-2z"/>
<path fill="#6f92f3" d="M526 684l4 2 3 1 3 2 4 2-4 3-3-2-3-2-4-1-3-2z"/>
<path fill="#5470de" d="M223 477l3 3 3 2 3 2 3 3 3 2-3 3-3-3-3-2-3-2-3-3-3-2z"/>
<path fill="#506bda" d="M238 489l3 3 3 2 3 3 3 2 3 2 3 2 3 3 3 2 3 2 3 3 3 2 3 2 3 2 3 2 3 3 3 2 3 2 3 2-3 3-3-3-3-2-3-2-3-2-3-2-3-3-3-2-3-2-3-2-3-3-3-2-3-2-3-2-3-3-3-2-3-2-3-3-3-2z"/>
<path fill="#5470de" d="M292 530l4 3 3 2 3 2 3 2 3 2 3 2 3 3 3 2 3 2 3 2 3 2 3 2 3 2 3 2 3 2 3 2 3 3 4 2-4 2-3-2-3-3-3-2-3-2-3-2-3-2-3-2-3-2-3-2-3-2-3-2-4-2-3-3-3-2-3-2-3-2-3-2-3-2z"/>
<path fill="#5a78e4" d="M348 569l3 2 3 2 3 2 3 2 3 2 3 3 3 2 3 2 4 2 3 3 3 2 3 3 3 2 3 3 3 2 4 3 3 2 3 2 3 3 3 2 3 3 4 2 3 3 3 2 3 2 3 3 3 2 4 2 3 2 3 2 3 2 3 2 4 2-4 2-3-2-3-2-3-2-3-2-4-2-3-3-3-2-3-2-3-2-4-3-3-2-3-2-3-3-3-2-3-3-4-2-3-3-3-2-3-3-3-2-3-2-3-3-4-2-3-3-3-2-3-2-3-2-3-3-3-2-3-2-4-2-3-2-3-2z"/>
<path fill="#5e7de7" d="M452 644l3 2 3 2 3 2 3 2 4 2 3 2 3 1-3 3-3-2-4-2-3-2-3-2-3-2-3-2-4-2z"/>
<path fill="#6485ec" d="M474 657l3 2 4 2 3 2 3 2 3 2 4 2 3 2 3 2 3 3-3 2-3-2-3-2-4-2-3-2-3-3-3-2-4-2-3-1-3-2z"/>
<path fill="#6a8bef" d="M503 676l4 2 3 2 3 2 3 2 4 2 3 1-3 3-4-2-3-1-3-2-3-2-4-3-3-2z"/>
<path fill="#6f92f3" d="M523 687l3 2 4 1 3 2 3 2-3 3-3-2-4-2-3-1-3-2z"/>
<path fill="#5470de" d="M220 480l3 2 3 3-3 2-3-2-3-2z"/>
<path fill="#506bda" d="M226 485l3 2 3 2 3 3 3 2 3 3 3 2 3 2 3 3 3 2 3 2 3 2 3 3 3 2 3 2 3 2 3 3 3 2 3 2 3 2 3 2-3 2-3-2-3-2-3-2-3-2-3-3-3-2-3-2-3-2-3-2-3-3-3-2-3-2-3-2-3-3-3-2-3-2-3-3-3-2-3-2-3-3z"/>
<path fill="#5470de" d="M286 530l3 3 3 2 3 2 3 2 3 2 3 2 3 3 4 2 3 2 3 2 3 2 3 2 3 2 3 2 3 2 3 2 3 2 3 3-3 2-3-3-3-2-3-2-3-2-3-2-4-2-3-2-3-2-3-2-3-2-3-2-3-3-3-2-3-2-3-2-3-2-3-2-3-3z"/>
<path fill="#5a78e4" d="M341 569l3 2 3 2 3 2 4 2 3 2 3 2 3 3 3 2 3 2 3 2 3 3 4 2 3 3 3 2 3 2 3 3 3 2 3 3 4 2 3 3 3 2 3 3 3 2 3 2 4 3 3 2 3 2 3 2 3 3 4 2 3 2 3 2 3 2-3 1-3-2-4-2-3-2-3-2-3-2-3-2-4-3-3-2-3-2-3-3-3-2-3-2-4-3-3-2-3-3-3-2-3-2-3-3-3-2-4-3-3-2-3-2-3-3-3-2-3-2-3-2-3-3-4-2-3-2-3-2-3-2-3-2-3-2z"/>
<path fill="#5e7de7" d="M445 644l3 2 4 2 3 2 3 2 3 2 3 2 4 2 3 2-3 1-4-2-3-2-3-2-3-2-4-2-3-2-3-2-3-2z"/>
<path fill="#6485ec" d="M471 660l3 2 3 1 4 2 3 2 3 3 3 2 4 2 3 2 3 2-3 2-3-2-4-2-3-2-3-2-3-2-4-2-3-2-3-3-3-2z"/>
<path fill="#6a8bef" d="M500 678l3 2 4 3 3 2 3 2 3 1 4 2 3 2-3 2-4-1-3-2-3-2-3-2-4-2-3-2-3-3z"/>
<path fill="#6f92f3" d="M523 692l3 1 4 2 3 2-3 3-4-2-3-2-3-2z"/>
<path fill="#506bda" d="M217 483l3 2 3 2 3 3 3 2 3 2 3 3 3 2 3 2 3 3 3 2 3 2 3 2 3 3 3 2 3 2 3 2 3 2 3 3 3 2 3 2-3 2-3-2-3-2-3-2-4-3-3-2-3-2-3-2-3-2-3-3-3-2-3-2-3-2-3-3-2-2-3-2-3-3-3-2-3-2-3-3-3-2z"/>
<path fill="#5470de" d="M277 528l3 2 3 2 3 3 3 2 3 2 3 2 3 2 3 2 3 3 3 2 3 2 3 2 3 2 3 2 4 2 3 2 3 2 3 2-4 2-3-2-3-2-3-2-3-2-3-2-3-2-3-2-3-2-3-2-3-3-3-2-3-2-3-2-3-2-3-2-3-2-3-3-3-2z"/>
<path fill="#5a78e4" d="M332 566l3 2 3 3 3 2 3 2 3 2 3 2 3 2 4 2 3 3 3 2 3 2 3 2 3 3 3 2 3 2 4 3 3 2 3 3 3 2 3 2 3 3 3 2 4 3 3 2 3 2 3 3 3 2 3 2 4 3 3 2 3 2-3 1-3-2-4-2-3-2-3-3-3-2-3-2-4-3-3-2-3-2-3-3-3-2-3-2-3-3-4-2-3-3-3-2-3-2-3-2-3-3-3-2-4-2-3-2-3-3-3-2-3-2-3-2-3-2-3-2-3-2-3-3-4-2z"/>
<path fill="#5e7de7" d="M429 637l3 2 3 2 4 2 3 2 3 2 3 2 3 2 4 2 3 2 3 2-3 2-3-2-4-2-3-2-3-2-3-2-4-2-3-2-3-2-3-3-3-2z"/>
<path fill="#6485ec" d="M461 657l3 2 4 2 3 2 3 3 3 2 4 2 3 2 3 2 3 2 4 2-4 2-3-2-3-2-4-2-3-2-3-2-3-3-4-2-3-2-3-2-3-2z"/>
<path fill="#6a8bef" d="M494 678l3 2 3 3 3 2 4 2 3 2 3 2 3 2 4 1-4 3-3-2-3-1-3-2-4-2-3-3-3-2-3-2-4-3z"/>
<path fill="#6f92f3" d="M520 694l3 2 3 2 4 2-4 3-3-2-3-2-4-2z"/>
<path fill="#506bda" d="M214 485l3 2 3 3 3 2 3 2 3 3 3 2 2 2 3 3 3 2 3 2 3 2 3 3 3 2 3 2 3 2 3 2 4 3 3 2-4 2-3-2-3-3-3-2-3-2-3-2-3-2-3-2-3-3-3-2-3-2-3-2-3-2-3-3-3-2-3-2-3-3-3-2-3-2z"/>
<path fill="#5470de" d="M268 526l3 2 3 2 3 2 3 3 3 2 3 2 3 2 3 2 3 2 3 2 3 3 3 2 3 2 3 2 3 2 3 2 3 2 3 2 3 2-3 2-3-2-3-2-3-2-3-2-3-2-3-2-3-2-3-3-3-2-3-2-4-2-3-2-3-2-3-2-3-3-3-2-3-2-3-2-3-2z"/>
<path fill="#5a78e4" d="M325 566l3 2 4 2 3 3 3 2 3 2 3 2 3 2 3 2 3 2 3 3 3 2 4 2 3 2 3 3 3 2 3 2 3 2 3 3 4 2 3 3 3 2 3 2 3 3-3 1-3-2-3-3-4-2-3-2-3-3-3-2-3-2-3-2-3-3-4-2-3-2-3-2-3-3-3-2-3-2-3-2-3-2-3-2-4-2-3-2-3-3-3-2-3-2z"/>
<path fill="#5e7de7" d="M397 618l3 2 3 2 4 3 3 2 3 2 3 3 3 2 4 2 3 2 3 2 3 3 3 2 3 2 4 2 3 2 3 2-3 1-3-2-4-2-3-2-3-2-3-3-3-2-4-2-3-2-3-2-3-2-3-3-4-2-3-2-3-3-3-2-3-2z"/>
<path fill="#6485ec" d="M448 653l3 2 4 2 3 2 3 2 3 2 3 2 4 2 3 3 3 2 3 2 4 2 3 2-3 2-4-2-3-2-3-2-3-3-4-2-3-2-3-2-3-2-4-2-3-3-3-2-3-2z"/>
<path fill="#6a8bef" d="M487 678l3 2 4 3 3 2 3 2 3 3 4 2 3 2 3 1 3 2 4 2-3 3-4-2-3-2-3-2-4-2-3-2-3-2-4-3-3-2-3-2-3-3z"/>
<path fill="#6f92f3" d="M520 699l3 2 3 2-3 3-3-2-3-2z"/>
<path fill="#506bda" d="M210 488l3 2 3 2 3 3 3 2 3 2 3 3 3 2 3 2 3 2 3 2 3 3 3 2 3 2 3 2 3 2-3 2-3-2-3-2-3-2-3-2-3-3-3-2-3-2-3-2-3-2-3-2-3-3-3-2-3-2-3-2-3-3z"/>
<path fill="#5470de" d="M255 521l3 2 3 3 3 2 3 2 3 2 3 2 3 2 3 3 3 2 3 2 3 2 4 2 3 2 3 2 3 3 3 2 3 2 3 2 3 2 3 2-3 2-3-2-3-2-4-2-3-2-3-3-3-2-3-2-3-2-3-2-3-2-3-2-3-3-3-2-3-2-3-2-3-2-3-2-3-2-3-3-3-2z"/>
<path fill="#5a78e4" d="M316 564l3 2 3 2 3 2 3 2 3 3 3 2 4 2 3 2 3 2 3 2 3 2 3 2 3 3 3 2 3 2 4 2-4 2-3-2-3-2-3-2-3-3-3-2-3-2-4-2-3-2-3-2-3-2-3-2-3-3-3-2-3-2-3-2-3-2z"/>
<path fill="#5e7de7" d="M366 598l3 3 3 2 3 2 3 2 3 3 3 2 4 2 3 3 3 2 3 2 3 2 3 3 3 2 4 2 3 3 3 2 3 2 3 2 4 2 3 2-4 1-3-2-3-2-3-2-3-3-3-2-4-2-3-2-3-3-3-2-3-2-4-2-3-2-3-3-3-2-3-2-3-2-3-2-4-3-3-2-3-2z"/>
<path fill="#6485ec" d="M429 643l3 3 3 2 3 2 4 2 3 2 3 2 3 2 3 3 4 2 3 2 3 2 3 2 4 2 3 3-3 1-4-2-3-2-3-3-3-2-4-2-3-2-3-2-3-3-4-2-3-2-3-2-3-3-3-2-4-2z"/>
<path fill="#6a8bef" d="M474 674l3 2 3 2 4 2 3 3 3 2 3 2 4 3 3 2 3 2 4 2 3 2 3 2 4 2-4 2-3-2-3-2-4-2-3-2-3-2-4-2-3-3-3-2-3-2-4-3-3-2-3-2-3-3z"/>
<path fill="#6f92f3" d="M517 702l3 2 3 2-3 3-3-2-4-3z"/>
<path fill="#506bda" d="M207 490l3 3 3 2 3 2 3 2 3 3 3 2 3 2 3 2 3 2 3 2 3 3 3 2 3 2-3 2-3-2-3-2-3-3-3-2-3-2-3-2-3-2-3-2-3-2-3-2-3-3-3-2-3-2z"/>
<path fill="#5470de" d="M246 519l3 2 3 2 3 2 3 3 3 2 3 2 3 2 3 2 3 2 3 2 3 3 3 2 3 2 3 2 3 2 3 2 3 2 3 3 3 2 4 2-4 2-3-3-3-2-3-2-3-2-3-2-3-2-3-2-3-2-3-3-3-2-3-2-3-2-3-2-3-2-3-2-3-3-3-2-3-2-3-2-3-2z"/>
<path fill="#5a78e4" d="M307 562l3 2 3 2 3 2 3 2 3 2 3 2 3 3 3 2 3 2 3 2 3 2 4 2 3 2 3 2 3 3-3 1-4-2-3-2-3-2-3-2-3-2-3-2-3-2-3-3-3-2-3-2-4-2-3-2-3-2-3-2-3-2z"/>
<path fill="#5e7de7" d="M353 594l3 2 3 2 3 2 3 2 3 2 4 3 3 2 3 2 3 2 3 2 3 3 3 2 4 2 3 2 3 2-3 1-4-2-3-2-3-2-3-3-3-2-3-2-3-2-4-2-3-2-3-2-3-2-3-2-3-2-3-3-3-2z"/>
<path fill="#6485ec" d="M400 626l3 3 3 2 4 2 3 2 3 3 3 2 3 2 3 2 4 2 3 2 3 3 3 2 3 2 4 2 3 3 3 2 3 2-3 1-3-2-3-3-4-2-3-2-3-3-3-2-3-2-4-2-3-3-3-2-3-2-3-2-4-2-3-3-3-2-3-2-3-2z"/>
<path fill="#6a8bef" d="M454 664l4 2 3 2 3 3 3 2 4 2 3 3 3 2 3 2 4 3 3 2 3 2 3 3 4 2 3 2 3 2 4 2 3 2 3 2 4 3-4 2-3-2-3-2-4-2-3-2-3-2-4-3-3-2-3-3-3-2-4-2-3-3-3-2-3-3-4-2-3-2-3-3-3-2-4-3-3-2z"/>
<path fill="#6f92f3" d="M517 707l3 2-3 3-4-3z"/>
<path fill="#506bda" d="M204 493l3 2 3 2 3 3 3 2 3 2 3 2 3 2 3 2 3 2 3 2-4 2-3-2-3-2-3-2-3-2-3-2-3-2-3-2-2-2-3-2-3-2z"/>
<path fill="#5470de" d="M234 514l3 3 3 2 3 2 3 2 3 2 3 2 3 2 3 3 3 2 3 2 3 2 3 2 3 2 3 2 3 3 3 2 3 2 3 2 3 2 3 2-3 2-3-2-3-2-3-3-3-2-4-2-3-2-3-2-3-2-3-2-3-2-3-3-3-2-3-2-3-2-3-2-3-2-3-2-3-2-3-2-3-3z"/>
<path fill="#5a78e4" d="M294 557l3 2 3 2 3 3 3 2 3 2 3 2 3 2 4 2 3 2 3 2 3 3 3 2 3 2 3 2 3 2 3 2-3 2-3-2-3-2-3-2-3-2-4-2-3-3-3-2-3-2-3-2-3-2-3-2-3-2-3-3-3-2-3-2-3-2z"/>
<path fill="#5e7de7" d="M343 591l3 2 4 2 3 2 3 3 3 2 3 2 3 2 3 2 3 2 4 2 3 2-4 1-3-2-3-2-3-2-3-2-3-2-3-2-4-2-3-2-3-2-3-2-3-2z"/>
<path fill="#6485ec" d="M378 614l3 2 3 2 3 3 3 2 3 2 4 2 3 2 3 2 3 2 3 3 4 2-4 0-3-3-3-2-3-2-4-2-3-2-3-2-3-2-3-2-3-2-4-2-3-2z"/>
<path fill="#6a8bef" d="M413 638l3 2 3 2 3 2 3 3 4 2 3 2 3 2 3 3 3 2 4 2 3 3 3 2 3 2 4 3 3 2 3 3 3 2 4 2 3 3 3 2 3 3 4 2 3 2 3 3 3 2 4 3 3 2 3 2 4 2 3 2 3 2 4 3-4 3-3-3-3-2-4-3-3-2-3-2-4-3-3-2-3-2-3-3-4-2-3-3-3-2-4-3-3-2-3-3-3-2-4-3-3-2-3-3-3-2-3-2-4-3-3-2-3-3-3-2-4-3-3-2-3-2-3-3-3-2-4-2-3-2z"/>
</g>
<g transform="scale(.2)" fill="none" stroke-width="2.25" stroke-opacity="0.7" stroke-linejoin="round">
<path stroke="#e9795e" d="M1283 245l-8 3-8 2-7 4-8 3-8 4"/>
<path stroke="#d85646" d="M1244 261l-8 4-7 5-8 5-8 5-8 6-8 6"/>
<path stroke="#e9795e" d="M1197 292l-8 6-7 6-8 7-8 7-8 8-8 7-8 10-7 12-8 13-8 14-8 15"/>
<path stroke="#f39879" d="M1111 397l-7 15-8 18-8 19"/>
<path stroke="#f7b397" d="M1088 449l-7 21-8 21-8 19"/>
<path stroke="#f2c8b3" d="M1065 510l-7 19-8 19-7 19"/>
<path stroke="#e6d7cf" d="M1043 567l-8 19-7 19-8 19"/>
<path stroke="#d2dae7" d="M1020 624l-8 18-7 19-8 19-7 18"/>
<path stroke="#bdd2f6" d="M990 698l-8 19-7 19-8 19"/>
<path stroke="#a6c3fd" d="M967 755l-7 19-8 17-7 16"/>
<path stroke="#8daffd" d="M945 807l-8 16-7 16-8 15-7 14"/>
<path stroke="#7395f4" d="M915 868l-8 14-7 15-8 14-8 12-7 11-8 9"/>
<path stroke="#5b79e4" d="M869 943l-8 9-7 8-8 8-8 7-8 6-8 6-8 4-8 4-8 4-8 4-8 4-8 5-8 5-8 6-8 6-8 7-8 7-7 7-8 7-8 7-8 7-8 7-8 7-8 6-8 7-8 7-8 7-8 6-8 7-8 7-8 7-8 7-8 7-8 6-8 7-8 7-9 7-8 7-8 6-8 7-8 6-8 7-8 6-8 7-8 6"/>
<path stroke="#455bcd" d="M510 1232l-9 7"/>
<path stroke="#e9795e" d="M1291 250l-8 3-8 3-8 3-7 4-8 4-8 4"/>
<path stroke="#d85646" d="M1244 271l-8 5-7 5-8 5-8 5-8 6"/>
<path stroke="#e9795e" d="M1205 297l-8 7-8 6-7 7-8 7-8 7-8 8-8 9-8 12-7 13-8 14-8 15"/>
<path stroke="#f39879" d="M1119 402l-8 16-7 17-8 19"/>
<path stroke="#f7b397" d="M1096 454l-8 21-7 20-8 20"/>
<path stroke="#f2c8b3" d="M1073 515l-8 19-7 19-8 19"/>
<path stroke="#e6d7cf" d="M1050 572l-7 19-8 19-7 19"/>
<path stroke="#d2dae7" d="M1028 629l-8 18-8 19-7 19-8 18"/>
<path stroke="#bdd2f6" d="M997 703l-7 19-8 19-7 19"/>
<path stroke="#a6c3fd" d="M975 760l-8 18-7 18-8 16"/>
<path stroke="#8daffd" d="M952 812l-7 16-8 15-7 15-8 15"/>
<path stroke="#7395f4" d="M922 873l-7 14-8 14-8 14-7 13-8 10-8 10"/>
<path stroke="#5b79e4" d="M876 948l-7 9-8 8-8 8-8 8-8 6-7 5-8 4-8 4-8 4-8 4-8 4-8 5-8 5-8 6-8 7-8 6-8 7-8 7-8 8-8 7-8 7-8 6-8 7-8 7-8 7-8 6-8 7-8 7-8 7-8 7-8 6-8 7-8 7-8 7-8 7-8 7-8 7-8 6-8 7-8 6-8 7-9 7-8 6-8 7-8 6"/>
<path stroke="#455bcd" d="M517 1238l-8 7"/>
<path stroke="#e9795e" d="M1298 255l-7 3-8 3-8 4-8 4-7 4-8 4-8 5-8 5-8 6-7 5-8 6-8 6-8 7-8 7-8 6-7 8-8 7-8 10-8 11-8 13-7 14-8 15"/>
<path stroke="#f39879" d="M1127 408l-8 15-8 17-7 19"/>
<path stroke="#f7b397" d="M1104 459l-8 20-8 20-7 20"/>
<path stroke="#f2c8b3" d="M1081 519l-8 19-7 19-8 19"/>
<path stroke="#e6d7cf" d="M1058 576l-8 19-7 19-8 19"/>
<path stroke="#d2dae7" d="M1035 633l-7 19-8 19-8 18-7 19"/>
<path stroke="#bdd2f6" d="M1005 708l-8 18-7 19-8 19"/>
<path stroke="#a6c3fd" d="M982 764l-7 18-8 17-7 17"/>
<path stroke="#8daffd" d="M960 816l-8 15-7 16-8 15-7 14-8 14"/>
<path stroke="#7395f4" d="M922 890l-8 15-7 14-8 12-7 11-8 9-8 10"/>
<path stroke="#5b79e4" d="M876 961l-8 9-7 8-8 8-8 6-8 6-8 4-8 4-8 4-8 4-8 4-8 5-8 5-8 6-8 6-8 7-8 7-8 7-8 7-7 7-8 7-8 7-8 7-8 6-8 7-8 7-8 7-8 7-8 7-8 6-8 7-8 7-8 7-8 7-8 7-9 7-8 6-8 7-8 7-8 6-8 7-8 6-8 7-8 6-9 7"/>
<path stroke="#455bcd" d="M524 1244l-8 6"/>
<path stroke="#e9795e" d="M1306 260l-7 3-8 4-8 4-8 4-8 4-7 5-8 5-8 5-8 6-8 6-7 6-8 6-8 6-8 7-8 6-8 8-7 7-8 10-8 11-8 13-8 13"/>
<path stroke="#f39879" d="M1142 399l-7 15-8 15-8 17-8 18"/>
<path stroke="#f7b397" d="M1111 464l-7 20-8 20-8 19"/>
<path stroke="#f2c8b3" d="M1088 523l-7 19-8 19-7 19"/>
<path stroke="#e6d7cf" d="M1066 580l-8 20-8 19-7 19"/>
<path stroke="#d2dae7" d="M1043 638l-8 20-7 18-8 18-7 18"/>
<path stroke="#bdd2f6" d="M1013 712l-8 19-8 18-7 19"/>
<path stroke="#a6c3fd" d="M990 768l-8 18-7 17-8 16"/>
<path stroke="#8daffd" d="M967 819l-7 16-8 15-7 15-8 14-8 14"/>
<path stroke="#7395f4" d="M929 893l-7 15-8 13-7 13-8 11-8 10-7 10"/>
<path stroke="#5b79e4" d="M884 965l-8 9-8 10-8 8-8 7-7 5-8 4-8 4-8 3-8 4-8 4-8 5-8 6-8 6-8 6-8 7-8 7-8 7-8 7-8 7-8 7-8 6-8 7-8 7-8 7-8 7-8 7-8 7-8 6-8 7-8 7-8 7-8 7-8 7-8 7-8 7-8 6-8 7-8 7-8 6-9 7-8 6-8 7-8 6-8 6-8 6"/>
<path stroke="#e9795e" d="M1314 264l-8 4-7 4-8 5-8 4-8 5-8 5-7 6-8 5-8 6-8 5-8 6-7 7-8 6-8 6-8 7-8 7-8 8-7 9-8 12-8 12-8 14"/>
<path stroke="#f39879" d="M1150 407l-8 14-7 15-8 16-8 18"/>
<path stroke="#f7b397" d="M1119 470l-8 19-7 20-8 19"/>
<path stroke="#f2c8b3" d="M1096 528l-8 19-7 19-8 20"/>
<path stroke="#e6d7cf" d="M1073 586l-7 19-8 20-8 19"/>
<path stroke="#d2dae7" d="M1050 644l-7 20-8 18-7 18-8 18"/>
<path stroke="#bdd2f6" d="M1020 718l-7 18-8 18-8 18"/>
<path stroke="#a6c3fd" d="M997 772l-7 17-8 17-7 16-8 16"/>
<path stroke="#8daffd" d="M967 838l-7 15-8 15-8 15-7 14"/>
<path stroke="#7395f4" d="M937 897l-8 14-7 13-8 12-8 12-7 10-8 11"/>
<path stroke="#5b79e4" d="M891 969l-8 10-7 11-8 9-8 7-8 5-8 4-8 3-8 3-8 4-8 4-8 5-8 6-8 6-8 6-8 7-8 7-8 6-8 7-8 7-7 7-8 7-8 7-8 7-8 7-8 7-8 7-8 7-8 7-8 7-8 7-8 6-8 7-8 7-9 7-8 7-8 7-8 6-8 7-8 6-8 7-8 6-8 6-8 7-9 6-8 6"/>
<path stroke="#e9795e" d="M1322 269l-8 4-8 5-7 5-8 5-8 5-8 5-8 6-7 5-8 6-8 6-8 6-8 6-7 6-8 6-8 7-8 7-8 9-8 10-8 11-7 12-8 13"/>
<path stroke="#f39879" d="M1158 414l-8 14-8 15-7 17-8 17"/>
<path stroke="#f7b397" d="M1127 477l-8 19-8 18-7 19"/>
<path stroke="#f2c8b3" d="M1104 533l-8 20-7 19-8 20"/>
<path stroke="#e6d7cf" d="M1081 592l-8 20-7 20-8 20"/>
<path stroke="#d2dae7" d="M1058 652l-7 18-8 18-8 18-7 18"/>
<path stroke="#bdd2f6" d="M1028 724l-8 18-7 17-8 18"/>
<path stroke="#a6c3fd" d="M1005 777l-8 17-7 16-8 17-7 15"/>
<path stroke="#8daffd" d="M975 842l-8 15-7 15-8 14-8 14"/>
<path stroke="#7395f4" d="M944 900l-7 14-8 13-8 12-7 12-8 11-8 11"/>
<path stroke="#5b79e4" d="M898 973l-7 12-8 11-8 10-7 8-8 5-8 3-8 2-8 3-8 3-8 5-8 5-8 6-8 6-8 6-8 7-8 7-8 6-8 7-8 7-8 7-8 7-8 7-8 7-8 7-8 7-8 7-8 7-8 7-8 7-8 7-8 7-8 7-8 7-8 7-8 6-8 7-8 7-8 6-8 6-9 7-8 6-8 6-8 6-8 6-8 6"/>
<path stroke="#e9795e" d="M1330 273l-8 5-8 5-8 5-7 6-8 5-8 6-8 6-8 6-7 6-8 6-8 6-8 6-8 5-8 6-7 7-8 8-8 9-8 10-8 11-8 12-7 13"/>
<path stroke="#f39879" d="M1166 422l-8 15-8 15-8 16-7 17"/>
<path stroke="#f7b397" d="M1135 485l-8 18-8 18-7 19"/>
<path stroke="#f2c8b3" d="M1112 540l-8 19-8 20-7 20"/>
<path stroke="#e6d7cf" d="M1089 599l-8 20-8 20-7 20"/>
<path stroke="#d2dae7" d="M1066 659l-8 19-7 17-8 18"/>
<path stroke="#bdd2f6" d="M1043 713l-8 17-7 18-8 17-7 17"/>
<path stroke="#a6c3fd" d="M1013 782l-8 17-8 17-7 15-8 16"/>
<path stroke="#8daffd" d="M982 847l-7 15-8 15-8 14-7 14"/>
<path stroke="#7395f4" d="M952 905l-8 13-7 13-8 12-8 12-7 12-8 12"/>
<path stroke="#5b79e4" d="M906 979l-8 13-7 12-8 11-8 8-8 4-8 2-8 2-8 2-8 3-8 5-8 5-8 6-8 6-8 7-8 6-8 7-8 7-8 6-7 7-8 7-8 7-8 7-8 7-8 7-8 7-8 7-8 7-8 7-8 7-8 7-8 7-8 7-8 7-8 7-9 7-8 6-8 7-8 6-8 7-8 6-8 6-8 6-9 6-8 5-8 6"/>
<path stroke="#e9795e" d="M1337 277l-7 6-8 5-8 6-8 5-7 6-8 6-8 6-8 6-8 6-7 6-8 6-8 6-8 6-8 6-8 7-7 8-8 9-8 11-8 11-8 12"/>
<path stroke="#f39879" d="M1181 417l-8 14-7 14-8 15-8 16-8 17"/>
<path stroke="#f7b397" d="M1142 493l-7 18-8 18-8 19"/>
<path stroke="#f2c8b3" d="M1119 548l-7 19-8 20-8 20"/>
<path stroke="#e6d7cf" d="M1096 607l-7 20-8 20-7 21"/>
<path stroke="#d2dae7" d="M1074 668l-8 18-8 17-7 17"/>
<path stroke="#bdd2f6" d="M1051 720l-8 18-8 17-7 17-8 17"/>
<path stroke="#a6c3fd" d="M1020 789l-7 16-8 16-8 16-7 16"/>
<path stroke="#8daffd" d="M990 853l-8 15-7 14-8 14-8 14"/>
<path stroke="#7395f4" d="M959 910l-7 13-8 13-8 12-7 12-8 12-8 13"/>
<path stroke="#5b79e4" d="M913 985l-7 13-8 14-7 12-8 8-8 4-8 1-8 0-8 2-8 3-8 5-8 5-8 6-8 6-8 7-8 6-8 7-8 7-8 7-8 7-8 6-8 7-8 8-8 7-8 7-8 7-8 7-8 7-8 7-8 7-8 7-8 7-8 7-8 7-8 6-8 7-8 7-8 6-8 6-8 7-9 6-8 6-8 5-8 6-8 5-9 6"/>
<path stroke="#e9795e" d="M1345 282l-8 6-7 5-8 6-8 6-8 6-7 6-8 6-8 6-8 6-8 6-7 6-8 6-8 6-8 6-8 7-8 9-7 9-8 11-8 11-8 13"/>
<path stroke="#f39879" d="M1189 425l-8 13-8 15-7 15-8 16"/>
<path stroke="#f7b397" d="M1158 484l-8 17-8 17-7 19-8 19"/>
<path stroke="#f2c8b3" d="M1127 556l-8 19-7 20-8 20"/>
<path stroke="#e6d7cf" d="M1104 615l-8 20-7 21-8 20"/>
<path stroke="#d2dae7" d="M1081 676l-7 17-8 18-8 17"/>
<path stroke="#bdd2f6" d="M1058 728l-7 17-8 17-8 17-7 16"/>
<path stroke="#a6c3fd" d="M1028 795l-8 17-7 16-8 16-8 15"/>
<path stroke="#8daffd" d="M997 859l-7 15-8 14-7 14-8 14"/>
<path stroke="#7395f4" d="M967 916l-8 13-7 12-8 12-8 12-7 13-8 13"/>
<path stroke="#5b79e4" d="M921 991l-8 15-7 14-8 12-8 8-8 4-8 0-8 0-8 1-8 3-8 5-8 5-8 6-8 6-8 7-8 6-8 7-8 7-7 7-8 7-8 7-8 7-8 7-8 7-8 7-8 7-8 7-8 7-8 7-8 7-8 7-8 7-8 7-8 7-8 7-9 6-8 7-8 6-8 6-8 6-8 6-8 6-8 6-9 5-8 6-8 5"/>
<path stroke="#e9795e" d="M1353 287l-8 5-7 6-8 6-8 6-8 6-8 6-7 6-8 6-8 6-8 6-8 6-7 6-8 6-8 6-8 8-8 9-8 9-7 11-8 12-8 13"/>
<path stroke="#f39879" d="M1197 432l-8 13-8 15-8 15-7 16"/>
<path stroke="#f7b397" d="M1166 491l-8 17-8 18-8 18-7 19"/>
<path stroke="#f2c8b3" d="M1135 563l-8 20-8 20-7 20"/>
<path stroke="#e6d7cf" d="M1112 623l-8 20-7 21"/>
<path stroke="#d2dae7" d="M1097 664l-8 19-8 18-7 17-8 17"/>
<path stroke="#bdd2f6" d="M1066 735l-8 17-7 17-8 17-7 16"/>
<path stroke="#a6c3fd" d="M1036 802l-8 17-8 16-7 15-8 16"/>
<path stroke="#8daffd" d="M1005 866l-8 15-7 14-8 14-7 14"/>
<path stroke="#7395f4" d="M975 923l-8 12-8 13-7 12-8 12-8 12-7 14"/>
<path stroke="#5b79e4" d="M929 998l-8 15-8 14-7 13-8 8-8 3-8 0-8-1-8 1-8 3-8 4-8 6-8 6-8 6-8 7-8 6-8 7-8 7-8 7-8 7-8 7-8 7-8 7-8 7-8 7-8 7-8 7-8 7-8 7-8 7-8 7-8 7-8 7-8 7-8 7-8 6-8 7-8 6-8 6-8 6-9 6-8 6-8 5-8 6-8 5-9 5"/>
<path stroke="#e9795e" d="M1361 292l-8 5-8 6-7 6-8 6-8 6-8 6-8 6-7 6-8 6-8 6-8 6-8 6-7 6-8 7-8 7-8 9-8 10-8 11-8 12-7 13"/>
<path stroke="#f39879" d="M1205 438l-8 14-8 15-8 15-8 17"/>
<path stroke="#f7b397" d="M1173 499l-7 17-8 18-8 18"/>
<path stroke="#f2c8b3" d="M1150 552l-7 19-8 20-8 19"/>
<path stroke="#e6d7cf" d="M1127 610l-7 21-8 20-8 21"/>
<path stroke="#d2dae7" d="M1104 672l-7 18-8 18-8 17-7 17"/>
<path stroke="#bdd2f6" d="M1074 742l-8 17-8 17-7 17"/>
<path stroke="#a6c3fd" d="M1051 793l-8 16-7 17-8 16-8 15"/>
<path stroke="#8daffd" d="M1020 857l-7 15-8 15-8 15-7 14-8 13"/>
<path stroke="#7395f4" d="M982 929l-8 13-7 12-8 12-8 12-7 13-8 14"/>
<path stroke="#5b79e4" d="M936 1005l-7 15-8 15-8 12-7 8-8 3-9-1-8-1-8 1-8 3-8 4-8 6-8 6-8 6-8 7-8 6-8 7-7 7-8 7-8 7-8 7-8 7-8 7-8 7-8 7-8 7-8 7-8 7-8 7-8 7-8 7-8 7-8 7-8 7-8 6-9 7-8 6-8 7-8 6-8 6-8 6-8 5-9 6-8 5-8 5-8 5"/>
<path stroke="#e9795e" d="M1369 297l-8 5-8 6-8 6-7 5-8 6-8 6-8 7-8 6-7 6-8 6-8 6-8 6-8 6-8 7-7 8-8 9-8 10-8 12-8 12"/>
<path stroke="#f39879" d="M1220 432l-8 13-7 14-8 15-8 15-8 17"/>
<path stroke="#f7b397" d="M1181 506l-7 17-8 18-8 18"/>
<path stroke="#f2c8b3" d="M1158 559l-8 20-7 19-8 20"/>
<path stroke="#e6d7cf" d="M1135 618l-8 20-7 21-8 20"/>
<path stroke="#d2dae7" d="M1112 679l-8 19-7 17-8 17-8 17"/>
<path stroke="#bdd2f6" d="M1081 749l-7 17-8 17-8 17"/>
<path stroke="#a6c3fd" d="M1058 800l-7 16-8 16-7 16-8 16"/>
<path stroke="#8daffd" d="M1028 864l-8 15-7 15-8 14-8 14-7 13"/>
<path stroke="#7395f4" d="M990 935l-8 13-8 12-7 12-8 12-8 13-7 14"/>
<path stroke="#5b79e4" d="M944 1011l-8 16-7 15-8 13-8 8-8 2-8-1-8-2-8 1-8 2-8 5-8 5-8 6-8 7-8 6-8 7-8 7-8 7-8 7-8 7-8 7-8 7-8 7-8 7-8 7-8 7-8 7-8 7-8 7-8 7-8 7-8 7-8 7-8 7-8 6-8 7-8 6-8 6-8 7-8 5-9 6-8 6-8 5-8 6-9 5-8 4"/>
<path stroke="#e9795e" d="M1376 302l-7 5-8 6-8 5-8 6-7 6-8 6-8 6-8 7-8 6-7 6-8 6-8 6-8 6-8 7-8 8-7 10-8 10-8 12-8 12"/>
<path stroke="#f39879" d="M1228 438l-8 13-8 14-7 15-8 16-8 17"/>
<path stroke="#f7b397" d="M1189 513l-8 17-7 18-8 19"/>
<path stroke="#f2c8b3" d="M1166 567l-8 19-8 19-7 20"/>
<path stroke="#e6d7cf" d="M1143 625l-8 21-8 20-7 21"/>
<path stroke="#d2dae7" d="M1120 687l-8 18-8 17-7 17-8 17"/>
<path stroke="#bdd2f6" d="M1089 756l-8 17-7 17-8 17"/>
<path stroke="#a6c3fd" d="M1066 807l-8 16-7 16-8 16-7 15"/>
<path stroke="#8daffd" d="M1036 870l-8 16-8 14-7 15-8 13-8 14"/>
<path stroke="#7395f4" d="M997 942l-7 12-8 13-8 11-7 13-8 13-8 14"/>
<path stroke="#5b79e4" d="M951 1018l-7 16-8 16-7 13-8 7-8 2-8-2-9-2-8 1-8 2-8 5-8 5-8 6-8 7-8 6-7 7-8 7-8 7-8 7-8 7-8 7-8 7-8 7-8 7-8 7-8 7-8 7-8 7-8 7-8 7-8 7-8 7-8 7-8 7-8 6-8 7-9 6-8 6-8 6-8 6-8 6-8 5-9 6-8 5-8 5-8 5"/>
<path stroke="#e9795e" d="M1384 306l-7 6-8 6-8 5-8 6-7 6-8 6-8 6-8 7-8 6-8 6-7 6-8 6-8 6-8 7-8 9-8 10-7 10-8 12-8 12"/>
<path stroke="#f39879" d="M1236 444l-8 14-8 14-8 15-7 16-8 17"/>
<path stroke="#f7b397" d="M1197 520l-8 17-8 18-7 19"/>
<path stroke="#f2c8b3" d="M1174 574l-8 19-8 20-8 20"/>
<path stroke="#e6d7cf" d="M1150 633l-7 20-8 20-8 21"/>
<path stroke="#d2dae7" d="M1127 694l-7 17-8 18-8 17"/>
<path stroke="#bdd2f6" d="M1104 746l-7 17-8 17-8 17-7 16"/>
<path stroke="#a6c3fd" d="M1074 813l-8 17-8 16-7 15-8 16"/>
<path stroke="#8daffd" d="M1043 877l-7 15-8 15-8 14-7 13-8 14"/>
<path stroke="#7395f4" d="M1005 948l-8 12-7 13-8 12-8 12-7 13"/>
<path stroke="#5b79e4" d="M967 1010l-8 15-8 17-7 16-8 13-8 7-8 1-8-3-8-2-8 0-8 3-8 4-8 6-8 6-8 6-8 7-8 7-8 7-8 7-8 7-8 7-8 7-8 7-8 7-8 7-8 7-8 7-8 7-8 7-8 7-8 7-8 7-8 7-8 7-8 7-8 6-8 6-8 7-8 6-8 6-8 6-9 5-8 6-8 5-8 5-9 5-8 5"/>
<path stroke="#e9795e" d="M1392 311l-8 6-7 6-8 5-8 6-8 6-7 6-8 6-8 6-8 7-8 6-7 6-8 6-8 6-8 8-8 8-8 10-8 11-7 12-8 12"/>
<path stroke="#f39879" d="M1244 450l-8 14-8 14-8 15-8 16-7 17"/>
<path stroke="#f7b397" d="M1205 526l-8 18-8 18-8 19"/>
<path stroke="#f2c8b3" d="M1181 581l-7 19-8 20-8 20"/>
<path stroke="#e6d7cf" d="M1158 640l-8 20-7 21-8 20"/>
<path stroke="#d2dae7" d="M1135 701l-8 17-7 17-8 17"/>
<path stroke="#bdd2f6" d="M1112 752l-8 18-7 16-8 17-8 17"/>
<path stroke="#a6c3fd" d="M1081 820l-7 16-8 16-8 16-7 15"/>
<path stroke="#8daffd" d="M1051 883l-8 15-7 15-8 14-8 14-7 13"/>
<path stroke="#7395f4" d="M1013 954l-8 12-8 12-8 12-7 13-8 14"/>
<path stroke="#5b79e4" d="M974 1017l-7 16-8 17-8 16-7 13-8 6-8 0-8-2-8-3-9 0-8 2-8 5-8 6-8 6-7 6-8 7-8 7-8 7-8 7-8 7-8 7-8 7-8 7-8 7-8 7-8 7-8 7-8 7-8 7-8 7-8 7-8 7-8 7-8 7-8 6-8 7-8 6-9 7-8 6-8 6-8 5-8 6-8 5-9 6-8 5-8 5-8 4"/>
<path stroke="#e9795e" d="M1400 316l-8 6-7 5-8 6-8 6-8 6-8 6-7 6-8 6-8 7-8 6-8 6-7 6-8 6-8 8-8 9-8 10-8 11-8 12-7 12"/>
<path stroke="#f39879" d="M1252 456l-8 14-8 15-8 15-8 16"/>
<path stroke="#f7b397" d="M1220 516l-8 17-7 18-8 18-8 19"/>
<path stroke="#f2c8b3" d="M1189 588l-8 19-7 20-8 20"/>
<path stroke="#e6d7cf" d="M1166 647l-8 20-7 21-8 20"/>
<path stroke="#d2dae7" d="M1143 708l-8 17-8 17-7 17"/>
<path stroke="#bdd2f6" d="M1120 759l-8 17-8 17-7 17-8 16"/>
<path stroke="#a6c3fd" d="M1089 826l-8 17-7 16-8 15-8 16"/>
<path stroke="#8daffd" d="M1058 890l-7 14-8 15-8 14-7 14-8 13"/>
<path stroke="#7395f4" d="M1020 960l-8 12-7 12-8 12-8 13-7 14"/>
<path stroke="#5b79e4" d="M982 1023l-8 17-7 17-8 17-8 13-7 6-9-1-8-3-8-3-8 0-8 2-8 5-8 5-8 7-8 6-8 7-8 7-8 7-8 7-8 7-8 7-8 7-8 7-7 7-8 7-8 7-8 7-8 7-8 7-8 7-8 7-9 7-8 7-8 7-8 6-8 7-8 6-8 6-8 6-8 6-8 6-9 6-8 5-8 5-8 5-9 5-8 4"/>
<path stroke="#e9795e" d="M1408 321l-8 6-8 5-7 6-8 6-8 6-8 6-8 6-7 6-8 7-8 6-8 6-8 6-7 6-8 8-8 9-8 10-8 12-8 12-8 13"/>
<path stroke="#f39879" d="M1259 463l-7 13-8 15-8 15-8 17"/>
<path stroke="#f7b397" d="M1228 523l-8 17-8 18-7 18-8 19"/>
<path stroke="#f2c8b3" d="M1197 595l-8 19-8 20-7 20"/>
<path stroke="#e6d7cf" d="M1174 654l-8 21-8 20-7 20"/>
<path stroke="#d2dae7" d="M1151 715l-8 17-8 17-7 17"/>
<path stroke="#bdd2f6" d="M1128 766l-8 17-8 17-8 17-7 16"/>
<path stroke="#a6c3fd" d="M1097 833l-8 16-8 16-7 16-8 15"/>
<path stroke="#8daffd" d="M1066 896l-8 15-7 14-8 14-8 14-7 13"/>
<path stroke="#7395f4" d="M1028 966l-8 12-8 12-7 12-8 13-8 15"/>
<path stroke="#5b79e4" d="M989 1030l-7 17-8 18-7 18-8 12"/>
<path stroke="#455bcd" d="M959 1095l-8 5"/>
<path stroke="#5b79e4" d="M951 1100l-8-1-8-4-8-3-8-1-9 3-7 4-8 6-8 6-8 7-8 7-8 7-8 6-8 7-8 7-8 8-8 7-8 7-8 7-8 7-8 7-8 7-8 7-8 7-8 7-8 7-8 7-8 7-8 7-8 6-8 7-8 6-8 6-9 6-8 6-8 6-8 5-8 5-8 6-9 5-8 4-8 5"/>
<path stroke="#e9795e" d="M1416 326l-8 6-8 5-7 6-8 6-8 6-8 6-8 6-7 6-8 6-8 7-8 6-8 6-8 7-7 8-8 9-8 10-8 11-8 13-8 13"/>
<path stroke="#f39879" d="M1267 469l-8 14-7 14-8 16-8 16"/>
<path stroke="#f7b397" d="M1236 529l-8 18-8 17-7 19-8 19"/>
<path stroke="#f2c8b3" d="M1205 602l-8 19-8 20-8 20"/>
<path stroke="#e6d7cf" d="M1181 661l-7 21-8 20"/>
<path stroke="#d2dae7" d="M1166 702l-8 19-7 18-8 17-8 17"/>
<path stroke="#bdd2f6" d="M1135 773l-7 17-8 17-8 16-8 17"/>
<path stroke="#a6c3fd" d="M1104 840l-7 16-8 16-8 15-7 15"/>
<path stroke="#8daffd" d="M1074 902l-8 15-8 14-7 14-8 14"/>
<path stroke="#7395f4" d="M1043 959l-8 13-7 12-8 12-8 12-7 14-8 15"/>
<path stroke="#5b79e4" d="M997 1037l-8 17-7 19-8 18"/>
<path stroke="#455bcd" d="M974 1091l-7 12-8 5"/>
<path stroke="#5b79e4" d="M959 1108l-8-2-9-5-8-4-8 0-8 2-8 5-8 6-8 6-8 7-8 7-8 7-8 6-8 7-7 7-8 8-8 7-8 7-8 7-8 7-8 7-8 7-8 7-8 7-8 7-8 7-8 7-8 7-8 6-9 7-8 6-8 7-8 6-8 6-8 6-8 5-9 6-8 5-8 5-8 5-8 5-9 4"/>
<path stroke="#e9795e" d="M1424 331l-8 5-8 6-8 6-7 6-8 6-8 6-8 6-8 6-7 6-8 7-8 6-8 6-8 7-8 8-7 9-8 11-8 11-8 13-8 13"/>
<path stroke="#f39879" d="M1275 475l-8 14-8 15-7 16-8 16"/>
<path stroke="#f7b397" d="M1244 536l-8 17-8 18-8 19"/>
<path stroke="#f2c8b3" d="M1220 590l-7 19-8 19-8 20"/>
<path stroke="#e6d7cf" d="M1197 648l-8 21-7 20-8 21"/>
<path stroke="#d2dae7" d="M1174 710l-8 18-8 17-7 18-8 17"/>
<path stroke="#bdd2f6" d="M1143 780l-8 17-7 16-8 17-8 16"/>
<path stroke="#a6c3fd" d="M1112 846l-8 16-7 16-8 15-8 16"/>
<path stroke="#8daffd" d="M1081 909l-7 14-8 15-8 13-7 14"/>
<path stroke="#7395f4" d="M1051 965l-8 13-8 12-7 12-8 13-8 13-7 16"/>
<path stroke="#5b79e4" d="M1005 1044l-8 18-7 19-8 18"/>
<path stroke="#455bcd" d="M982 1099l-8 12-8 4-8-3"/>
<path stroke="#5b79e4" d="M958 1112l-8-5-8-4-8 0-8 2-8 5-8 6-8 6-8 7-8 7-8 6-8 7-8 7-8 7-8 8-8 7-8 7-8 7-8 7-8 7-8 7-8 7-8 7-8 7-8 7-8 7-8 7-8 6-8 7-8 6-8 6-8 6-8 6-9 6-8 6-8 5-8 5-8 5-9 5-8 5-8 4"/>
<path stroke="#e9795e" d="M1432 336l-8 5-8 6-8 6-7 6-8 6-8 6-8 6-8 6-7 6-8 7-8 6-8 6-8 7-8 8-8 10-7 11-8 11-8 13-8 13"/>
<path stroke="#f39879" d="M1283 481l-8 14-8 15-8 16-7 17"/>
<path stroke="#f7b397" d="M1252 543l-8 17-8 18-8 19"/>
<path stroke="#f2c8b3" d="M1228 597l-8 19-7 19-8 20"/>
<path stroke="#e6d7cf" d="M1205 655l-8 21-8 20-7 21"/>
<path stroke="#d2dae7" d="M1182 717l-8 18-8 17-8 17-7 17"/>
<path stroke="#bdd2f6" d="M1151 786l-8 17-8 17-7 16"/>
<path stroke="#a6c3fd" d="M1128 836l-8 17-8 16-8 15-7 16"/>
<path stroke="#8daffd" d="M1097 900l-8 15-8 14-7 15-8 13-8 14"/>
<path stroke="#7395f4" d="M1058 971l-7 12-8 13-8 12-7 13-8 14-8 17"/>
<path stroke="#5b79e4" d="M1012 1052l-7 20-8 20-7 18"/>
<path stroke="#455bcd" d="M990 1110l-8 10-8 3-8-5"/>
<path stroke="#5b79e4" d="M966 1118l-8-6-9-3-8-1-8 3-8 5-8 6-8 6-8 7-7 7-8 6-8 7-8 7-8 8-8 7-8 7-8 7-8 7-8 7-8 7-8 7-8 7-8 7-8 7-8 7-8 7-8 6-8 7-8 6-9 7-8 6-8 6-8 6-8 6-8 5-8 6-9 5-8 5-8 5-8 4-9 5"/>
<path stroke="#e9795e" d="M1439 341l-7 5-8 6-8 6-8 6-7 6-8 6-8 6-8 6-8 6-7 7-8 6-8 6-8 7-8 9-8 9-8 11-7 12-8 12"/>
<path stroke="#f39879" d="M1299 473l-8 14-8 14-8 15-8 16-8 17"/>
<path stroke="#f7b397" d="M1259 549l-7 18-8 18-8 18"/>
<path stroke="#f2c8b3" d="M1236 603l-8 20-8 19-7 20"/>
<path stroke="#e6d7cf" d="M1213 662l-8 21-8 20-8 21"/>
<path stroke="#d2dae7" d="M1189 724l-7 18-8 17-8 17-8 17"/>
<path stroke="#bdd2f6" d="M1158 793l-7 17-8 16-8 17"/>
<path stroke="#a6c3fd" d="M1135 843l-7 16-8 16-8 16-8 15"/>
<path stroke="#8daffd" d="M1104 906l-7 15-8 14-8 14-7 14-8 13"/>
<path stroke="#7395f4" d="M1066 976l-8 13-7 13-8 12-8 13-7 16"/>
<path stroke="#5b79e4" d="M1028 1043l-8 18-8 21-7 22"/>
<path stroke="#455bcd" d="M1005 1104l-8 17-7 9-8 1-9-6"/>
<path stroke="#5b79e4" d="M973 1125l-8-7-8-4-8-1-8 3-8 5-8 6-8 7-8 7-8 7-8 6-8 7-8 7-8 8-8 7-8 7-8 7-8 7-8 7-8 7-8 7-8 7-8 7-8 7-8 7-8 7-8 6-8 7-8 6-8 7-8 6-8 6-8 6-8 5-9 6-8 5-8 5-8 5-9 5-8 5-8 4"/>
<path stroke="#e9795e" d="M1447 346l-7 5-8 6-8 6-8 6-7 6-8 6-8 6-8 6-8 6-7 6-8 7-8 6-8 7-8 9-8 10-8 11-7 11-8 13"/>
<path stroke="#f39879" d="M1307 479l-8 14-8 14-8 16-8 16-8 16"/>
<path stroke="#f7b397" d="M1267 555l-8 18-7 18-8 19"/>
<path stroke="#f2c8b3" d="M1244 610l-8 19-8 20-8 20"/>
<path stroke="#e6d7cf" d="M1220 669l-7 20-8 21-8 20"/>
<path stroke="#d2dae7" d="M1197 730l-8 18-7 17-8 17-8 17"/>
<path stroke="#bdd2f6" d="M1166 799l-8 17-7 17-8 16"/>
<path stroke="#a6c3fd" d="M1143 849l-8 16-7 16-8 15-8 16"/>
<path stroke="#8daffd" d="M1112 912l-8 15-7 14-8 14-8 14-7 13"/>
<path stroke="#7395f4" d="M1074 982l-8 13-8 13-8 12-7 14-8 16"/>
<path stroke="#5b79e4" d="M1035 1050l-7 20-8 22-7 23"/>
<path stroke="#455bcd" d="M1013 1115l-8 17-8 8"/>
<path stroke="#5b79e4" d="M981 1131l-8-7-8-5-9 0-8 3-7 5-8 6-8 7-8 7-8 7-8 6-8 7-8 8-8 7-8 7-8 7-8 7-8 7-8 7-8 7-8 7-8 7-8 7-8 7-8 7-8 6-8 7-8 7-8 6-8 6-8 6-9 6-8 6-8 6-8 5-8 6-9 5-8 5-8 4-8 5-9 4"/>
<path stroke="#e9795e" d="M1455 351l-7 5-8 6-8 6-8 6-8 6-7 6-8 6-8 6-8 6-8 6-7 7-8 6-8 8-8 8-8 10-8 11-8 12-7 13"/>
<path stroke="#f39879" d="M1315 485l-8 14-8 14-8 15-8 17-8 17"/>
<path stroke="#f7b397" d="M1275 562l-8 17-8 18-7 19"/>
<path stroke="#f2c8b3" d="M1252 616l-8 20-8 19-8 21"/>
<path stroke="#e6d7cf" d="M1228 676l-8 20-7 20-8 21"/>
<path stroke="#d2dae7" d="M1205 737l-8 17-8 18-7 17"/>
<path stroke="#bdd2f6" d="M1182 789l-8 16-8 17-8 17-7 16"/>
<path stroke="#a6c3fd" d="M1151 855l-8 16-8 16-7 15-8 15"/>
<path stroke="#8daffd" d="M1120 917l-8 15-8 14-7 14-8 14-8 13"/>
<path stroke="#7395f4" d="M1081 987l-7 13-8 14-8 13-8 16-7 17"/>
<path stroke="#5b79e4" d="M1043 1060l-8 19-7 24"/>
<path stroke="#455bcd" d="M1028 1103l-8 23-7 17-8 6"/>
<path stroke="#5b79e4" d="M989 1137l-9-8-8-5-8 0-8 4-8 5-8 6-8 7-8 7-8 7-8 7-8 7-7 7-8 7-8 7-8 7-8 7-8 7-8 7-8 7-8 7-8 7-8 7-8 7-8 7-8 6-9 7-8 6-8 7-8 6-8 6-8 6-8 6-8 5-9 6-8 5-8 5-8 5-8 5-9 4-8 5"/>
<path stroke="#e9795e" d="M1463 356l-8 5-7 6-8 6-8 6-8 6-7 6-8 6-8 6-8 6-8 6-7 7-8 6-8 8-8 9-8 10-8 11-8 12-8 12"/>
<path stroke="#f39879" d="M1322 490l-7 14-8 15-8 15-8 17-8 17"/>
<path stroke="#f7b397" d="M1283 568l-8 17-8 19-8 18"/>
<path stroke="#f2c8b3" d="M1259 622l-7 20-8 20-8 20"/>
<path stroke="#e6d7cf" d="M1236 682l-8 20-8 21-7 20"/>
<path stroke="#d2dae7" d="M1213 743l-8 18-8 17-8 16"/>
<path stroke="#bdd2f6" d="M1189 794l-7 17-8 17-8 16-8 16"/>
<path stroke="#a6c3fd" d="M1158 860l-7 16-8 16-8 15-7 15"/>
<path stroke="#8daffd" d="M1128 922l-8 15-8 14-8 14-7 14-8 13"/>
<path stroke="#7395f4" d="M1089 992l-8 14-7 14-8 16-8 17"/>
<path stroke="#5b79e4" d="M1058 1053l-7 20-8 22-7 23"/>
<path stroke="#455bcd" d="M1036 1118l-8 20-7 15"/>
<path stroke="#5b79e4" d="M996 1143l-8-9-8-5-8 1-8 3-8 6-8 6-8 7-8 7-8 7-8 7-8 7-8 7-8 7-8 7-8 7-8 7-8 7-8 7-8 7-8 7-8 7-8 7-8 7-8 6-8 7-8 7-8 6-8 6-8 7-8 6-8 6-9 5-8 6-8 5-8 6-8 5-9 5-8 4-8 5-8 4"/>
<path stroke="#e9795e" d="M1471 360l-8 6-7 6-8 6-8 6-8 6-7 6-8 6-8 6-8 6-8 6-8 7-7 6-8 8-8 9-8 10-8 11-8 12-8 13"/>
<path stroke="#f39879" d="M1330 496l-8 14-7 14-8 16-8 16-8 17"/>
<path stroke="#f7b397" d="M1291 573l-8 18-8 18-8 19"/>
<path stroke="#f2c8b3" d="M1267 628l-8 20-7 20-8 20"/>
<path stroke="#e6d7cf" d="M1244 688l-8 20-8 21-8 20"/>
<path stroke="#d2dae7" d="M1220 749l-7 17-8 17-8 17"/>
<path stroke="#bdd2f6" d="M1197 800l-8 17-7 16-8 16-8 16"/>
<path stroke="#a6c3fd" d="M1166 865l-8 16-7 15-8 15-8 15-8 15"/>
<path stroke="#8daffd" d="M1127 941l-7 14-8 15-8 14-7 14"/>
<path stroke="#7395f4" d="M1097 998l-8 14-8 16-7 17-8 21"/>
<path stroke="#5b79e4" d="M1066 1066l-7 22-8 24"/>
<path stroke="#455bcd" d="M1051 1112l-7 23-8 18"/>
<path stroke="#5b79e4" d="M1004 1148l-8-9-9-4-8 0-8 4-8 6-8 6-7 7-8 7-8 7-8 7-8 7-8 7-8 7-8 7-8 7-8 7-8 7-8 7-8 7-8 7-8 7-8 7-8 7-8 6-8 7-8 6-8 7-8 6-9 6-8 6-8 6-8 6-8 5-8 6-9 5-8 5-8 5-8 5-9 4-8 4"/>
<path stroke="#e9795e" d="M1479 365l-8 6-7 6-8 6-8 5-8 7-8 6-7 6-8 6-8 6-8 6-8 7-7 6-8 8-8 9-8 10-8 11-8 12-8 13"/>
<path stroke="#f39879" d="M1338 501l-8 14-8 15-7 15-8 17-8 17"/>
<path stroke="#f7b397" d="M1299 579l-8 17-8 19-8 19"/>
<path stroke="#f2c8b3" d="M1275 634l-8 19-8 20-7 20"/>
<path stroke="#e6d7cf" d="M1252 693l-8 21-8 20-8 21"/>
<path stroke="#d2dae7" d="M1228 755l-8 17-7 16-8 17"/>
<path stroke="#bdd2f6" d="M1205 805l-8 16-8 16-7 16-8 16"/>
<path stroke="#a6c3fd" d="M1174 869l-8 16-8 15-7 15-8 15-8 15"/>
<path stroke="#8daffd" d="M1135 945l-8 14-7 15-8 15-8 15"/>
<path stroke="#7395f4" d="M1104 1004l-7 15-8 17-8 21"/>
<path stroke="#5b79e4" d="M1081 1057l-7 23-8 25-7 24"/>
<path stroke="#455bcd" d="M1059 1129l-8 20"/>
<path stroke="#5b79e4" d="M1011 1150l-8-7-8-4-8 2-8 4-8 6-8 6-8 7-8 7-8 7-8 7-8 7-8 7-8 7-7 7-8 7-8 7-8 7-8 7-8 7-8 7-8 7-8 7-9 6-8 7-8 7-8 6-8 6-8 7-8 6-8 6-8 6-8 5-9 6-8 5-8 5-8 5-8 5-9 5-8 4-8 5"/>
<path stroke="#e9795e" d="M1487 370l-8 6-7 6-8 6-8 5-8 7-8 6-7 6-8 6-8 6-8 6-8 7-8 6-7 8-8 9-8 10-8 11-8 12-8 13"/>
<path stroke="#f39879" d="M1346 506l-8 14-8 15-8 15-7 17-8 17"/>
<path stroke="#f7b397" d="M1307 584l-8 18-8 18-8 19"/>
<path stroke="#f2c8b3" d="M1283 639l-8 20-8 20-8 20"/>
<path stroke="#e6d7cf" d="M1259 699l-7 20-8 20-8 21"/>
<path stroke="#d2dae7" d="M1236 760l-8 16-8 17-7 16-8 16"/>
<path stroke="#bdd2f6" d="M1205 825l-8 16-8 16-7 15-8 15"/>
<path stroke="#a6c3fd" d="M1174 887l-8 15-8 15-7 15-8 16"/>
<path stroke="#8daffd" d="M1143 948l-8 15-8 16-7 16-8 17"/>
<path stroke="#7395f4" d="M1112 1012l-8 17-7 18-8 23"/>
<path stroke="#5b79e4" d="M1089 1070l-7 26-8 26"/>
<path stroke="#455bcd" d="M1074 1122l-7 22"/>
<path stroke="#5b79e4" d="M1027 1154l-8-6-8-4-8-1-8 3-8 5-8 6-8 7-8 6-8 7-8 7-8 7-8 7-8 7-8 7-8 7-8 7-8 7-8 7-8 7-8 7-8 7-8 7-8 7-8 6-8 7-8 6-8 7-8 6-8 6-8 6-8 6-9 6-8 6-8 5-8 6-8 5-9 5-8 5-8 4-8 5-9 4"/>
<path stroke="#e9795e" d="M1495 375l-8 6-7 6-8 6-8 5-8 6-8 7-7 6-8 6-8 6-8 6-8 7-8 6-7 8-8 9-8 10-8 11-8 12-8 13"/>
<path stroke="#f39879" d="M1354 511l-8 14-8 15-8 15-8 17-7 17"/>
<path stroke="#f7b397" d="M1315 589l-8 18-8 18-8 19"/>
<path stroke="#f2c8b3" d="M1291 644l-8 20-8 19-8 21"/>
<path stroke="#e6d7cf" d="M1267 704l-8 20-7 20-8 20"/>
<path stroke="#d2dae7" d="M1244 764l-8 17-8 16-8 16-7 16"/>
<path stroke="#bdd2f6" d="M1213 829l-8 15-8 16-8 15-7 14"/>
<path stroke="#a6c3fd" d="M1182 889l-8 15-8 15-8 16-7 15"/>
<path stroke="#8daffd" d="M1151 950l-8 17-8 17-8 18-7 19"/>
<path stroke="#7395f4" d="M1120 1021l-8 21-7 21"/>
<path stroke="#5b79e4" d="M1105 1063l-8 21-7 28-8 24"/>
<path stroke="#455bcd" d="M1082 1136l-8 18"/>
<path stroke="#5b79e4" d="M1043 1156l-9-7-8-4-8 0-8 2-8 4-8 6-8 6-8 7-7 7-8 6-8 7-8 7-8 7-8 7-8 7-8 7-8 7-8 7-8 7-8 7-8 7-8 7-8 7-8 6-8 7-8 7-8 6-8 6-9 7-8 6-8 6-8 6-8 6-8 5-8 6-9 5-8 5-8 5-8 5-9 5-8 4-8 4"/>
<path stroke="#d85646" d="M1503 380l-8 6"/>
<path stroke="#e9795e" d="M1495 386l-7 6-8 5-8 6-8 6-8 7-7 6-8 6-8 6-8 6-8 7-8 6-7 8-8 9-8 10-8 11-8 12-8 13"/>
<path stroke="#f39879" d="M1362 516l-8 14-8 14-8 16-8 16-8 18"/>
<path stroke="#f7b397" d="M1322 594l-7 17-8 19-8 19"/>
<path stroke="#f2c8b3" d="M1299 649l-8 19-8 20-8 20"/>
<path stroke="#e6d7cf" d="M1275 708l-8 20-8 20-7 20"/>
<path stroke="#d2dae7" d="M1252 768l-8 17-8 16-8 15-8 16"/>
<path stroke="#bdd2f6" d="M1220 832l-7 14-8 15-8 15-8 14-8 15"/>
<path stroke="#a6c3fd" d="M1181 905l-7 15-8 16-8 17-7 18"/>
<path stroke="#8daffd" d="M1151 971l-8 19-8 21"/>
<path stroke="#7395f4" d="M1135 1011l-7 21-8 23-8 23"/>
<path stroke="#5b79e4" d="M1112 1078l-7 23-8 25"/>
<path stroke="#455bcd" d="M1097 1126l-7 21"/>
<path stroke="#5b79e4" d="M1050 1150l-8-4-8-1-8 2-8 4-8 5-8 7-8 6-8 7-8 7-8 7-8 7-8 7-8 7-8 7-8 6-7 8-8 6-8 7-8 7-8 7-8 7-8 7-9 7-8 6-8 7-8 6-8 7-8 6-8 6-8 6-8 6-8 6-8 6-9 6-8 5-8 5-8 6-8 5-9 4-8 5-8 4-9 5"/>
<path stroke="#d85646" d="M1511 385l-8 6"/>
<path stroke="#e9795e" d="M1503 391l-8 6-7 5-8 6-8 6-8 7-7 6-8 6-8 6-8 7-8 6-8 6-7 8-8 8-8 10-8 11-8 12-8 13-8 14"/>
<path stroke="#f39879" d="M1362 534l-8 15-8 15-8 17-8 17"/>
<path stroke="#f7b397" d="M1330 598l-8 18-7 18-8 19"/>
<path stroke="#f2c8b3" d="M1307 653l-8 20-8 20-8 19"/>
<path stroke="#e6d7cf" d="M1283 712l-8 20-8 20-8 20"/>
<path stroke="#d2dae7" d="M1259 772l-7 16-8 16-8 15-8 14"/>
<path stroke="#bdd2f6" d="M1228 833l-8 15-7 14-8 14-8 14-8 14"/>
<path stroke="#a6c3fd" d="M1189 904l-8 16-7 17-8 18-8 20"/>
<path stroke="#8daffd" d="M1158 975l-7 21-8 22"/>
<path stroke="#7395f4" d="M1143 1018l-8 23-7 23-8 24"/>
<path stroke="#5b79e4" d="M1120 1088l-7 24-8 22"/>
<path stroke="#5b79e4" d="M1066 1150l-9-4-8-1-8 1-8 4-8 6-7 6-8 7-8 6-8 7-8 7-8 7-8 7-8 7-8 7-8 7-8 7-8 7-8 7-8 7-8 6-8 7-8 7-8 7-8 7-8 6-8 7-8 6-8 7-8 6-8 6-8 6-8 6-9 6-8 6-8 5-8 6-8 5-9 5-8 5-8 5-8 4-9 5-8 4"/>
<path stroke="#d85646" d="M1519 390l-8 6-8 6"/>
<path stroke="#e9795e" d="M1503 402l-7 5-8 6-8 6-8 7-7 6-8 6-8 6-8 7-8 6-8 6-8 8-7 8-8 10-8 11-8 12-8 13-8 14"/>
<path stroke="#f39879" d="M1370 539l-8 14-8 16-8 16-8 17"/>
<path stroke="#f7b397" d="M1338 602l-8 18-8 19-7 19"/>
<path stroke="#f2c8b3" d="M1315 658l-8 19-8 20-8 19"/>
<path stroke="#e6d7cf" d="M1291 716l-8 20-8 20-8 19"/>
<path stroke="#d2dae7" d="M1267 775l-8 16-7 15-8 14-8 14-8 14"/>
<path stroke="#bdd2f6" d="M1228 848l-8 14-7 13-8 14-8 13-8 17"/>
<path stroke="#a6c3fd" d="M1189 919l-8 18-7 19-8 21"/>
<path stroke="#8daffd" d="M1166 977l-8 22-7 23"/>
<path stroke="#7395f4" d="M1151 1022l-8 23-8 23-7 23"/>
<path stroke="#5b79e4" d="M1128 1091l-8 20"/>
<path stroke="#5b79e4" d="M1081 1147l-8-3-8 0-8 1-8 4-8 6-8 6-8 7-8 7-8 7-8 7-7 6-8 7-8 7-8 7-8 7-8 7-8 7-8 7-8 7-8 7-8 7-8 6-8 7-8 7-8 6-8 7-8 6-8 7-8 6-9 6-8 7-8 6-8 5-8 6-8 6-8 5-8 6-9 5-8 5-8 5-8 5-9 5-8 4-8 4"/>
<path stroke="#d85646" d="M1527 395l-8 6-8 6"/>
<path stroke="#e9795e" d="M1511 407l-7 5-8 6-8 6-8 7-8 6-7 6-8 6-8 7-8 6-8 6-8 7-7 9-8 10-8 11-8 11-8 13-8 14"/>
<path stroke="#f39879" d="M1378 543l-8 15-8 15-8 16-8 17"/>
<path stroke="#f7b397" d="M1346 606l-8 18-8 19-8 19"/>
<path stroke="#f2c8b3" d="M1322 662l-7 19-8 19-8 20"/>
<path stroke="#e6d7cf" d="M1299 720l-8 20-8 19-8 19-8 15"/>
<path stroke="#d2dae7" d="M1267 793l-8 15-7 13-8 14-8 12-8 13"/>
<path stroke="#bdd2f6" d="M1228 860l-8 13-8 13-7 13-8 16-8 18"/>
<path stroke="#a6c3fd" d="M1189 933l-8 20-7 21-8 22"/>
<path stroke="#8daffd" d="M1166 996l-8 22-7 22"/>
<path stroke="#7395f4" d="M1151 1040l-8 22-8 21"/>
<path stroke="#5b79e4" d="M1096 1141l-8-1-8 1-7 2-8 5-8 6-8 6-8 7-8 7-8 7-8 7-8 7-8 7-8 7-8 7-8 7-8 7-7 6-8 7-8 7-8 7-8 7-8 7-8 6-8 7-8 7-9 6-8 7-8 6-8 7-8 6-8 6-8 6-8 6-8 6-8 6-8 5-9 6-8 5-8 5-8 5-8 5-9 5-8 5-8 4-9 5"/>
<path stroke="#d85646" d="M1535 400l-8 6-8 6-7 5"/>
<path stroke="#e9795e" d="M1512 417l-8 6-8 6-8 7-7 6-8 6-8 6-8 7-8 6-8 6-8 7-7 9-8 9-8 11-8 12-8 12-8 14"/>
<path stroke="#f39879" d="M1386 547l-8 15-8 15-8 16-8 17"/>
<path stroke="#f7b397" d="M1354 610l-8 18-8 19-8 18"/>
<path stroke="#f2c8b3" d="M1330 665l-8 20-7 19-8 19-8 20"/>
<path stroke="#e6d7cf" d="M1299 743l-8 19-8 18-8 15"/>
<path stroke="#d2dae7" d="M1275 795l-8 14-8 13-7 12-8 12-8 12-8 12"/>
<path stroke="#bdd2f6" d="M1228 870l-8 12-8 12-7 15-8 18-8 19"/>
<path stroke="#a6c3fd" d="M1189 946l-8 20-7 21"/>
<path stroke="#8daffd" d="M1174 987l-8 21-8 20"/>
<path stroke="#7395f4" d="M1143 1067l-8 18-8 16-7 14"/>
<path stroke="#5b79e4" d="M1120 1115l-8 11-8 6-8 3-8 4-8 6-8 7-8 7-8 7-7 7-8 7-8 7-8 7-8 7-8 7-8 7-8 7-8 7-8 7-8 7-8 7-8 6-8 7-8 7-8 7-8 7-8 6-8 7-8 6-8 7-8 6-8 6-8 7-8 6-8 6-8 6-9 5-8 6-8 6-8 5-8 5-8 6-9 5-8 5-8 5-8 4-9 5-8 4"/>
<path stroke="#d85646" d="M1543 405l-8 6-8 6-7 5"/>
<path stroke="#e9795e" d="M1520 422l-8 6-8 6-8 7-7 6-8 6-8 6-8 7-8 6-8 6-8 7-7 9-8 9-8 11-8 11-8 13-8 13"/>
<path stroke="#f39879" d="M1394 551l-8 14-8 16-8 16-8 17"/>
<path stroke="#f7b397" d="M1362 614l-8 18-8 18-8 19-8 19"/>
<path stroke="#f2c8b3" d="M1330 688l-8 19-7 19-8 19"/>
<path stroke="#e6d7cf" d="M1307 745l-8 19-8 18-8 15"/>
<path stroke="#d2dae7" d="M1283 797l-8 13-8 12-8 11-7 11-8 10-8 11-8 11-8 12"/>
<path stroke="#bdd2f6" d="M1220 888l-8 12-8 17-7 17-8 19"/>
<path stroke="#a6c3fd" d="M1189 953l-8 19-8 20-7 19"/>
<path stroke="#8daffd" d="M1166 1011l-8 20-8 18-8 18"/>
<path stroke="#7395f4" d="M1142 1067l-7 16-8 16-8 14-8 10-8 8-7 8-8 9"/>
<path stroke="#5b79e4" d="M1088 1148l-8 8-8 8-8 8-8 7-8 7-8 8-7 7-8 7-8 7-8 7-8 7-8 6-8 7-8 7-8 7-8 7-8 7-8 6-8 7-8 7-8 6-8 7-8 6-8 7-8 6-8 6-8 6-9 6-8 6-8 6-8 6-8 5-8 6-8 5-9 6-8 5-8 5-8 5-8 5-9 4-8 5-8 4"/>
<path stroke="#d85646" d="M1551 410l-8 6-7 6-8 5-8 6"/>
<path stroke="#e9795e" d="M1520 433l-8 7-8 6-7 6-8 6-8 6-8 7-8 6-8 6-7 7-8 8-8 10-8 10-8 11-8 13-8 13"/>
<path stroke="#f39879" d="M1402 555l-8 14-8 15-8 16-8 17"/>
<path stroke="#f7b397" d="M1370 617l-8 18-8 18-8 19-8 19"/>
<path stroke="#f2c8b3" d="M1338 691l-8 19-8 19-7 19"/>
<path stroke="#e6d7cf" d="M1315 748l-8 18-8 17-8 15-8 12"/>
<path stroke="#d2dae7" d="M1283 810l-8 11-8 10-8 10-7 9-8 10-8 10-8 9-8 10-8 15"/>
<path stroke="#bdd2f6" d="M1212 904l-8 17-8 17-7 18"/>
<path stroke="#a6c3fd" d="M1189 956l-8 18-8 20-8 19"/>
<path stroke="#8daffd" d="M1165 1013l-7 20-8 19-8 18-8 18"/>
<path stroke="#7395f4" d="M1134 1088l-7 16-8 14-8 12-8 11-8 11"/>
<path stroke="#5b79e4" d="M1095 1152l-7 9-8 9-8 8-8 7-8 8-8 7-8 7-8 7-8 7-8 7-7 7-8 7-8 7-8 7-8 6-8 7-8 7-8 7-8 6-8 7-8 6-8 7-8 6-9 6-8 7-8 6-8 6-8 6-8 6-8 6-8 5-8 6-9 5-8 6-8 5-8 5-8 5-9 5-8 5-8 5-8 4-9 5"/>
<path stroke="#d85646" d="M1559 415l-8 6-7 6-8 5-8 6"/>
<path stroke="#e9795e" d="M1528 438l-8 7-8 6-7 6-8 6-8 7-8 6-8 6-8 6-7 7-8 8-8 9-8 10-8 12-8 12-8 13"/>
<path stroke="#f39879" d="M1410 559l-8 14-8 14-8 16-8 17-8 17"/>
<path stroke="#f7b397" d="M1370 637l-8 19-8 18-8 19"/>
<path stroke="#f2c8b3" d="M1346 693l-8 19-8 19-8 18"/>
<path stroke="#e6d7cf" d="M1322 749l-7 18-8 17-8 15-8 11-8 10-8 10"/>
<path stroke="#d2dae7" d="M1275 830l-8 8-8 8-8 8-7 9-8 8-8 9-8 13-8 14-8 16"/>
<path stroke="#bdd2f6" d="M1204 923l-8 18-7 18-8 20"/>
<path stroke="#a6c3fd" d="M1181 979l-8 21-8 21-8 21"/>
<path stroke="#8daffd" d="M1157 1042l-7 20-8 19-8 19"/>
<path stroke="#7395f4" d="M1134 1100l-7 16-8 15-8 13-8 12"/>
<path stroke="#5b79e4" d="M1103 1156l-8 10-8 9-7 8-8 8-8 8-8 7-8 7-8 7-8 8-8 7-8 7-8 6-8 7-8 7-8 7-8 6-8 7-8 7-8 6-8 7-8 6-8 7-8 6-8 6-8 6-8 7-8 6-8 5-8 6-8 6-9 6-8 5-8 6-8 5-8 5-8 5-9 5-8 5-8 5-8 5-9 5-8 4"/>
<path stroke="#d85646" d="M1567 420l-8 6-7 6-8 5-8 6"/>
<path stroke="#e9795e" d="M1536 443l-8 7-8 6-7 6-8 6-8 7-8 6-8 6-8 6-7 7-8 8-8 9-8 10-8 10-8 12-8 13-8 13"/>
<path stroke="#f39879" d="M1410 575l-8 15-8 16-8 16-8 17"/>
<path stroke="#f7b397" d="M1378 639l-8 18-8 18-8 19"/>
<path stroke="#f2c8b3" d="M1354 694l-8 19-8 18-8 19-8 18"/>
<path stroke="#e6d7cf" d="M1322 768l-7 16-8 14-8 11-8 10-8 9-8 8-8 7-8 7"/>
<path stroke="#d2dae7" d="M1259 850l-8 6-8 8-7 8-8 11-8 13-8 16-8 17"/>
<path stroke="#bdd2f6" d="M1204 929l-8 19-8 21-7 22"/>
<path stroke="#a6c3fd" d="M1181 991l-8 22-8 23"/>
<path stroke="#8daffd" d="M1165 1036l-8 22-7 21-8 20"/>
<path stroke="#7395f4" d="M1142 1099l-8 19-8 16-7 15-8 12-8 11"/>
<path stroke="#5b79e4" d="M1103 1172l-8 9-8 8-8 8-7 8-8 7-8 8-8 7-8 7-8 7-8 7-8 7-8 7-8 6-8 7-8 7-8 7-8 6-8 7-8 6-8 7-8 6-8 6-8 6-8 6-8 6-8 6-8 6-9 6-8 5-8 6-8 5-8 6-8 5-9 5-8 6-8 5-8 5-8 5-9 4-8 5-8 5"/>
<path stroke="#d85646" d="M1575 425l-8 6-7 6-8 6-8 6-8 6"/>
<path stroke="#e9795e" d="M1536 455l-8 6-7 6-8 6-8 7-8 6-8 6-8 6-7 7-8 7-8 9-8 10-8 10-8 11-8 13-8 13"/>
<path stroke="#f39879" d="M1418 578l-8 14-8 15-8 16-8 17"/>
<path stroke="#f7b397" d="M1386 640l-8 17-8 18-8 18-8 19"/>
<path stroke="#f2c8b3" d="M1354 712l-8 19-8 18-8 17"/>
<path stroke="#e6d7cf" d="M1330 766l-8 17-7 14-8 11-8 9-8 9-8 8-8 6-8 6-8 6-8 7-8 8-8 10"/>
<path stroke="#d2dae7" d="M1235 877l-7 12-8 15-8 18-8 20"/>
<path stroke="#bdd2f6" d="M1204 942l-8 21-8 23"/>
<path stroke="#a6c3fd" d="M1188 986l-7 24-8 24-8 24"/>
<path stroke="#8daffd" d="M1165 1058l-8 22-7 21"/>
<path stroke="#7395f4" d="M1150 1101l-8 20-8 17-8 15-7 13-8 11"/>
<path stroke="#5b79e4" d="M1111 1177l-8 9-8 9-8 8-8 8-8 8-8 7-7 7-8 7-8 7-8 7-8 7-8 7-8 7-8 6-8 7-8 7-8 6-8 7-8 6-8 7-8 6-8 6-8 6-8 6-9 6-8 6-8 5-8 6-8 6-8 5-8 6-8 5-9 5-8 6-8 5-8 5-9 5-8 5-8 5-8 4-9 5"/>
<path stroke="#d85646" d="M1583 430l-8 6-7 6-8 6-8 6-8 6"/>
<path stroke="#e9795e" d="M1544 460l-7 6-8 6-8 6-8 7-8 6-8 6-7 6-8 7-8 7-8 8-8 10-8 10-8 10-8 12-8 13-8 13"/>
<path stroke="#f39879" d="M1418 593l-8 14-8 16-8 16-8 17"/>
<path stroke="#f7b397" d="M1386 656l-8 17-8 18-8 18"/>
<path stroke="#f2c8b3" d="M1362 709l-8 19-8 18-8 17-8 17"/>
<path stroke="#e6d7cf" d="M1330 780l-7 14-8 11-8 10-8 9-8 8-8 6-8 6-8 6-8 7-8 7-8 10-8 12"/>
<path stroke="#d2dae7" d="M1235 886l-7 15-8 18-8 21"/>
<path stroke="#bdd2f6" d="M1212 940l-8 22-8 24-8 24"/>
<path stroke="#a6c3fd" d="M1188 1010l-7 25-8 25"/>
<path stroke="#8daffd" d="M1173 1060l-8 23-8 22"/>
<path stroke="#7395f4" d="M1157 1105l-7 20-8 18-8 15-8 13-7 11"/>
<path stroke="#5b79e4" d="M1119 1182l-8 10-8 9-8 8-8 8-8 8-8 7-8 8-8 7-8 7-8 7-8 6-7 7-8 7-8 7-8 7-8 6-8 7-8 6-8 6-8 7-9 6-8 6-8 6-8 6-8 6-8 5-8 6-8 6-8 5-8 6-9 5-8 5-8 6-8 5-8 5-9 5-8 5-8 5-8 5-9 5-8 4"/>
<path stroke="#d85646" d="M1591 435l-7 6-8 6-8 6-8 6-8 6-7 6"/>
<path stroke="#e9795e" d="M1545 471l-8 6-8 6-8 7-8 6-8 6-7 6-8 7-8 7-8 8-8 8-8 10-8 10-8 11-8 12-8 13"/>
<path stroke="#f39879" d="M1426 594l-8 13-8 14-8 16-8 16-8 16"/>
<path stroke="#f7b397" d="M1386 669l-8 18-8 18-8 18"/>
<path stroke="#f2c8b3" d="M1362 723l-8 18-8 17-8 16-8 15"/>
<path stroke="#e6d7cf" d="M1330 789l-7 11-8 11-8 11-8 8-8 8-8 6-8 6-8 7-8 8-8 10-8 12-8 16"/>
<path stroke="#d2dae7" d="M1235 903l-7 18-8 21-8 22"/>
<path stroke="#bdd2f6" d="M1212 964l-8 24-8 26"/>
<path stroke="#a6c3fd" d="M1196 1014l-8 25-7 25"/>
<path stroke="#8daffd" d="M1181 1064l-8 24-8 22"/>
<path stroke="#7395f4" d="M1165 1110l-8 20-7 17-8 16-8 13-8 11"/>
<path stroke="#5b79e4" d="M1126 1187l-8 10-7 9-8 9-8 8-8 8-8 7-8 8-8 7-8 7-8 7-8 6-8 7-8 7-8 7-8 7-8 6-8 7-8 6-8 6-8 7-8 6-8 6-8 6-8 5-8 6-8 6-8 5-8 6-9 6-8 5-8 5-8 6-8 5-8 5-9 5-8 5-8 5-8 5-9 5-8 5-8 5"/>
<path stroke="#d85646" d="M1599 440l-7 6-8 6-8 6-8 6-8 6-7 6"/>
<path stroke="#e9795e" d="M1553 476l-8 6-8 7-8 6-8 6-8 6-7 6-8 7-8 7-8 7-8 8-8 9-8 10-8 10-8 11-8 12-8 12"/>
<path stroke="#f39879" d="M1426 606l-8 14-8 14-8 14-8 16-8 17"/>
<path stroke="#f7b397" d="M1386 681l-8 17-8 18-8 17"/>
<path stroke="#f2c8b3" d="M1362 733l-8 17-8 16-7 15-8 12-8 13"/>
<path stroke="#e6d7cf" d="M1323 806l-8 12-8 10-8 9-8 8-8 7-8 8-8 8-8 11-8 13-8 16"/>
<path stroke="#d2dae7" d="M1243 908l-8 18-7 21-8 23"/>
<path stroke="#bdd2f6" d="M1220 970l-8 24-8 26"/>
<path stroke="#a6c3fd" d="M1204 1020l-8 25-7 25"/>
<path stroke="#8daffd" d="M1189 1070l-8 24-8 22-8 19"/>
<path stroke="#7395f4" d="M1165 1135l-8 17-7 16-8 13-8 12"/>
<path stroke="#5b79e4" d="M1134 1193l-8 10-8 9-8 8-7 9-8 7-8 8-8 7-8 7-8 8-8 6-8 8-8 7-8 7-8 6-8 7-8 6-8 7-8 6-8 6-8 6-8 6-8 6-8 6-8 6-8 6-8 5-9 6-8 5-8 6-8 5-8 6-8 5-9 5-8 5-8 5-8 5-8 5-9 5-8 5-8 5-8 5"/>
<path stroke="#d85646" d="M1607 445l-7 6-8 6-8 6-8 6-7 6-8 6"/>
<path stroke="#e9795e" d="M1561 481l-8 6-8 7-8 6-8 6-7 6-8 7-8 6-8 6-8 8-8 8-8 8-8 9-8 9-8 10-8 11-7 12-8 11"/>
<path stroke="#f39879" d="M1427 617l-8 13-8 13-8 15-8 16-8 16"/>
<path stroke="#f7b397" d="M1387 690l-9 17-8 16-7 17-8 16"/>
<path stroke="#f2c8b3" d="M1355 756l-8 15-8 13-8 15-8 14-8 12"/>
<path stroke="#e6d7cf" d="M1315 825l-8 11-8 9-8 9-8 9-8 11-8 12-8 14"/>
<path stroke="#d2dae7" d="M1259 900l-8 16-8 19-8 21"/>
<path stroke="#bdd2f6" d="M1235 956l-7 23-8 24-8 25"/>
<path stroke="#a6c3fd" d="M1212 1028l-8 25-8 25"/>
<path stroke="#8daffd" d="M1196 1078l-7 23-8 21"/>
<path stroke="#7395f4" d="M1181 1122l-8 19-8 17-8 15-7 13-8 12"/>
<path stroke="#5b79e4" d="M1142 1198l-8 10-8 9-8 9-8 8-8 8-8 7-7 8-8 7-8 7-8 7-8 8-8 7-8 7-8 6-8 7-8 7-8 6-8 6-8 6-8 6-8 6-8 6-8 6-9 6-8 5-8 6-8 5-8 6-8 5-8 6-8 5-9 5-8 5-8 6-8 5-8 5-9 5-8 5-8 5-8 5-9 4"/>
<path stroke="#d85646" d="M1616 450l-8 6-8 6-8 6-8 6-7 6-8 6"/>
<path stroke="#e9795e" d="M1569 486l-8 6-8 7-8 6-8 6-7 7-8 6-8 6-8 6-8 7-8 8-8 8-8 8-7 9-8 9-8 10-8 10-8 10-8 11"/>
<path stroke="#f39879" d="M1427 626l-8 12-8 14-8 14-8 16-8 15"/>
<path stroke="#f7b397" d="M1387 697l-8 15-8 16-8 15-8 15-8 15"/>
<path stroke="#f2c8b3" d="M1347 773l-8 17-8 15-8 15-8 13"/>
<path stroke="#e6d7cf" d="M1315 833l-8 11-8 12-8 11-8 12-8 15-8 16"/>
<path stroke="#d2dae7" d="M1267 910l-8 17-8 19-8 21"/>
<path stroke="#bdd2f6" d="M1243 967l-7 23-8 24"/>
<path stroke="#a6c3fd" d="M1228 1014l-8 24-8 25-8 24"/>
<path stroke="#8daffd" d="M1204 1087l-8 22-7 20"/>
<path stroke="#7395f4" d="M1189 1129l-8 18-8 16-8 15-8 14-7 11"/>
<path stroke="#5b79e4" d="M1150 1203l-8 10-8 9-8 9-8 8-8 8-8 7-8 8-8 7-8 8-8 7-7 8-8 7-8 7-8 6-8 7-8 6-8 7-8 6-8 6-9 6-8 6-8 6-8 5-8 6-8 6-8 5-8 6-8 5-8 6-9 5-8 5-8 6-8 5-8 5-9 5-8 5-8 5-8 5-8 5-9 5-8 5"/>
<path stroke="#d85646" d="M1624 455l-8 6-8 6-8 6-7 6-8 6-8 6-8 6"/>
<path stroke="#e9795e" d="M1569 497l-8 7-8 6-7 6-8 7-8 6-8 6-8 6-8 7-8 7-8 8-7 7-8 8-8 9-8 8-8 9-8 10-8 10-8 10-8 12"/>
<path stroke="#f39879" d="M1419 646l-8 13-8 14-8 14-8 14-8 15"/>
<path stroke="#f7b397" d="M1379 716l-8 14-8 14-8 17-8 17"/>
<path stroke="#f2c8b3" d="M1347 778l-8 17-8 16-8 15-8 15-8 13"/>
<path stroke="#e6d7cf" d="M1307 854l-8 14-8 17-8 17-8 18"/>
<path stroke="#d2dae7" d="M1275 920l-8 19-8 20-8 21"/>
<path stroke="#bdd2f6" d="M1251 980l-8 23-7 23"/>
<path stroke="#a6c3fd" d="M1236 1026l-8 24-8 24"/>
<path stroke="#8daffd" d="M1220 1074l-8 22-8 20-8 19"/>
<path stroke="#7395f4" d="M1196 1135l-7 18-8 16-8 15-8 12-8 12"/>
<path stroke="#5b79e4" d="M1157 1208l-8 10-7 9-8 8-8 9-8 7-8 8-8 8-8 8-8 7-8 8-8 7-8 7-8 7-8 7-8 6-8 7-8 6-8 6-8 6-8 6-8 6-8 6-8 6-8 6-8 5-8 6-8 5-9 6-8 5-8 5-8 6-8 5-8 5-9 5-8 5-8 5-8 5-8 5-9 5-8 5-8 5"/>
<path stroke="#d85646" d="M1632 460l-8 6-8 6-8 6-7 6-8 6-8 6-8 7"/>
<path stroke="#e9795e" d="M1577 503l-8 6-7 6-8 7-8 6-8 6-8 6-8 6-8 7-7 7-8 7-8 7-8 7-8 8-8 8-8 8-8 8-8 9-8 9-8 11-8 12"/>
<path stroke="#f39879" d="M1419 654l-8 12-8 13-8 13-8 13-8 13-8 13"/>
<path stroke="#f7b397" d="M1371 731l-8 18-8 17-8 17-8 17"/>
<path stroke="#f2c8b3" d="M1339 800l-8 17-8 16-8 16-8 17"/>
<path stroke="#e6d7cf" d="M1307 866l-8 22-8 20-8 21"/>
<path stroke="#d2dae7" d="M1283 929l-8 20-8 22"/>
<path stroke="#bdd2f6" d="M1267 971l-8 22-8 23-8 23"/>
<path stroke="#a6c3fd" d="M1243 1039l-7 23-8 22"/>
<path stroke="#8daffd" d="M1228 1084l-8 20-8 20-8 18"/>
<path stroke="#7395f4" d="M1204 1142l-8 17-7 15-8 14-8 13-8 12-8 9"/>
<path stroke="#5b79e4" d="M1157 1222l-8 9-8 8-7 9-8 8-8 7-8 9-8 8-8 8-8 7-8 8-8 7-8 7-8 6-8 7-8 6-8 7-8 6-8 6-8 6-8 6-8 6-8 6-8 5-8 6-9 5-8 6-8 5-8 6-8 5-8 5-8 5-9 5-8 6-8 5-8 5-8 5-9 5-8 4-8 5-9 5"/>
<path stroke="#d85646" d="M1640 465l-8 6-8 6-7 6-8 6-8 6-8 6-8 7"/>
<path stroke="#e9795e" d="M1585 508l-8 6-7 6-8 7-8 6-8 6-8 6-8 6-7 7-8 6-8 7-8 7-8 7-8 7-8 7-8 7-8 8-8 7-8 8-8 10-8 11-8 11-8 12"/>
<path stroke="#f39879" d="M1411 673l-8 12-8 12-8 12-8 12-8 17"/>
<path stroke="#f7b397" d="M1371 738l-8 16-8 16-8 17-8 17"/>
<path stroke="#f2c8b3" d="M1339 804l-8 17-8 18-8 23"/>
<path stroke="#e6d7cf" d="M1315 862l-8 25-8 24-8 23"/>
<path stroke="#d2dae7" d="M1291 934l-8 23-8 23"/>
<path stroke="#bdd2f6" d="M1275 980l-8 24-8 23"/>
<path stroke="#a6c3fd" d="M1259 1027l-8 24-7 21-8 20"/>
<path stroke="#8daffd" d="M1236 1092l-8 20-8 19-8 17"/>
<path stroke="#7395f4" d="M1212 1148l-8 16-8 15-7 14-8 12-8 11-8 10"/>
<path stroke="#5b79e4" d="M1165 1226l-8 8-8 9-8 8-8 8-8 9-7 8-8 9-8 8-8 7-8 8-8 7-8 7-8 6-8 7-8 6-8 7-8 6-8 6-8 6-8 6-8 6-8 6-9 6-8 5-8 6-8 5-8 6-8 5-8 5-8 6-9 5-8 5-8 5-8 5-8 5-9 5-8 5-8 5-9 5-8 5"/>
<path stroke="#d85646" d="M1648 470l-8 6-8 6-7 6-8 6-8 6-8 6-8 7-7 6"/>
<path stroke="#e9795e" d="M1586 519l-8 6-8 7-8 6-8 6-8 6-7 6-8 7-8 6-8 6-8 7-8 6-8 7-8 6-8 7-8 7-8 7-8 8-8 9-8 9-8 10-8 11-8 11"/>
<path stroke="#f39879" d="M1411 680l-8 11-8 11-8 12-8 15-8 14-8 15"/>
<path stroke="#f7b397" d="M1363 758l-8 16-8 16-8 17-8 21"/>
<path stroke="#f2c8b3" d="M1331 828l-8 26-8 27"/>
<path stroke="#e6d7cf" d="M1315 881l-8 27-8 26"/>
<path stroke="#d2dae7" d="M1299 934l-8 26-8 26"/>
<path stroke="#bdd2f6" d="M1283 986l-8 25-8 25"/>
<path stroke="#a6c3fd" d="M1267 1036l-8 23-8 20-7 20"/>
<path stroke="#8daffd" d="M1244 1099l-8 19-8 18-8 17"/>
<path stroke="#7395f4" d="M1220 1153l-8 16-8 14-8 14-7 11-8 11-8 9-8 9"/>
<path stroke="#5b79e4" d="M1165 1237l-8 8-8 9-8 9-8 9-8 9-8 8-8 8-7 8-8 7-8 7-8 7-8 7-8 7-8 6-8 7-8 6-8 6-8 7-9 6-8 6-8 6-8 5-8 6-8 5-8 6-8 5-8 6-9 5-8 5-8 5-8 5-8 5-8 5-9 5-8 5-8 5-8 5-9 5-8 5"/>
<path stroke="#d85646" d="M1656 476l-8 5-7 6-8 6-8 6-8 6-8 7-7 6-8 6"/>
<path stroke="#e9795e" d="M1594 524l-8 7-8 6-8 6-8 6-7 7-8 5-8 7-8 6-8 6-8 6-8 6-8 6-8 6-8 7-7 6-8 7-8 7-8 8-8 9-8 10-8 10-8 10-8 10-8 10"/>
<path stroke="#f39879" d="M1404 698l-8 12-9 12-8 13-8 14-8 13-8 15"/>
<path stroke="#f7b397" d="M1355 777l-8 15-8 24-8 26"/>
<path stroke="#f2c8b3" d="M1331 842l-8 28-8 29"/>
<path stroke="#e6d7cf" d="M1315 899l-8 29-8 29"/>
<path stroke="#d2dae7" d="M1299 957l-8 29"/>
<path stroke="#bdd2f6" d="M1291 986l-8 27-8 26"/>
<path stroke="#a6c3fd" d="M1275 1039l-8 23-8 21-8 20"/>
<path stroke="#8daffd" d="M1251 1103l-7 19-8 18-8 17-8 14"/>
<path stroke="#7395f4" d="M1220 1171l-8 15-8 12-8 12-8 10-7 10-8 8-8 9"/>
<path stroke="#5b79e4" d="M1165 1247l-8 10-8 9-8 10-8 9-8 8-8 8-8 7-8 8-8 7-8 7-8 7-8 7-8 7-8 7-8 6-8 7-8 6-8 6-8 6-8 6-8 6-8 5-8 6-8 5-8 6-9 5-8 6-8 5-8 5-8 5-9 5-8 5-8 5-8 5-8 5-9 4-8 5-8 5"/>
<path stroke="#d85646" d="M1664 481l-7 5-8 6-8 6-8 6-8 6-7 7-8 6-8 6"/>
<path stroke="#e9795e" d="M1602 529l-8 7-8 6-8 6-8 6-7 7-8 6-8 6-8 6-8 5-8 6-8 6-8 6-7 6-8 6-8 6-8 6-8 7-8 8-8 8-8 9-8 9-8 10-8 10-8 9-8 11-8 11"/>
<path stroke="#f39879" d="M1396 718l-8 11-8 12-8 12-9 12-8 17"/>
<path stroke="#f7b397" d="M1355 782l-8 22-8 25-8 27"/>
<path stroke="#f2c8b3" d="M1331 856l-8 29"/>
<path stroke="#e6d7cf" d="M1323 885l-8 31-8 32"/>
<path stroke="#d2dae7" d="M1307 948l-8 31-8 29"/>
<path stroke="#bdd2f6" d="M1291 1008l-8 27-8 25"/>
<path stroke="#a6c3fd" d="M1275 1060l-8 22-8 21-8 20"/>
<path stroke="#8daffd" d="M1251 1123l-7 18-8 17-8 15"/>
<path stroke="#7395f4" d="M1228 1173l-8 13-8 13-8 11-8 10-8 10-8 9-7 10-8 11"/>
<path stroke="#5b79e4" d="M1165 1260l-8 9-8 10-8 8-8 9-8 8-8 8-8 7-8 8-8 7-8 7-8 7-8 7-8 7-8 7-8 6-8 7-8 6-8 6-8 6-8 6-8 6-8 5-9 6-8 5-8 6-8 5-8 5-8 6-9 5-8 5-8 5-8 5-8 4-9 5-8 5-8 4-8 5"/>
<path stroke="#d85646" d="M1672 486l-7 5-8 6-8 6-8 6-7 6-8 7-8 6-8 6-8 7"/>
<path stroke="#e9795e" d="M1602 541l-8 6-8 6-7 7-8 6-8 6-8 6-8 5-8 6-8 6-7 5-8 6-8 6-8 5-8 6-8 6-8 7-8 7-8 8-8 9-8 8-8 9-8 9-8 9-8 10-8 10-8 10"/>
<path stroke="#f39879" d="M1396 725l-8 10-8 10-8 12-8 16-9 19"/>
<path stroke="#f7b397" d="M1355 792l-8 22-8 26-8 28"/>
<path stroke="#f2c8b3" d="M1331 868l-8 31"/>
<path stroke="#e6d7cf" d="M1323 899l-8 33-8 33"/>
<path stroke="#d2dae7" d="M1307 965l-8 31-8 30"/>
<path stroke="#bdd2f6" d="M1291 1026l-8 27-8 24"/>
<path stroke="#a6c3fd" d="M1275 1077l-8 23-8 20"/>
<path stroke="#8daffd" d="M1259 1120l-8 19-8 17-7 14-8 14"/>
<path stroke="#7395f4" d="M1228 1184l-8 13-8 11-8 11-8 10-8 11-8 11-8 11-7 10"/>
<path stroke="#5b79e4" d="M1165 1272l-8 9-8 9-8 8-8 8-8 8-8 8-8 8-8 7-8 8-8 7-8 8-8 7-8 6-8 7-8 7-8 6-8 6-8 6-8 6-8 6-9 6-8 6-8 5-8 6-8 5-8 5-9 5-8 5-8 5-8 5-8 5-9 5-8 5-8 4-8 5-9 4"/>
<path stroke="#d85646" d="M1681 491l-8 6-8 5-8 6-8 6-7 7-8 6-8 6-8 7-8 6"/>
<path stroke="#e9795e" d="M1610 546l-7 6-8 7-8 6-8 6-8 6-8 6-8 5-8 6-7 5-8 6-8 5-8 6-8 5-8 6-8 6-8 6-8 7-8 7-8 8-8 8-8 9-8 8-8 9-8 9-8 9-8 9-8 8-8 9-8 12"/>
<path stroke="#f39879" d="M1380 751l-8 14-8 16-8 20-9 22"/>
<path stroke="#f7b397" d="M1347 823l-8 26-8 30"/>
<path stroke="#f2c8b3" d="M1331 879l-8 32"/>
<path stroke="#e6d7cf" d="M1323 911l-8 34-8 34"/>
<path stroke="#d2dae7" d="M1307 979l-8 32"/>
<path stroke="#bdd2f6" d="M1299 1011l-8 29-8 27"/>
<path stroke="#a6c3fd" d="M1283 1067l-8 24-8 23-8 19"/>
<path stroke="#8daffd" d="M1259 1133l-8 17-8 15-7 14-8 14-8 12"/>
<path stroke="#7395f4" d="M1220 1205l-8 11-8 13-8 12-8 11-8 11-8 9-8 10"/>
<path stroke="#5b79e4" d="M1164 1282l-8 9-7 8-8 9-8 8-8 8-8 9-8 8-8 7-8 8-8 8-8 7-8 7-8 7-8 6-8 7-8 6-9 6-8 6-8 6-8 6-8 6-8 6-8 5-8 6-9 5-8 5-8 5-8 5-8 5-9 5-8 5-8 4-8 5-9 4-8 4"/>
<path stroke="#d85646" d="M1689 496l-8 6-8 5-8 6-7 7-8 6-8 6-8 6-8 7-7 6"/>
<path stroke="#e9795e" d="M1619 551l-8 6-8 7-8 6-8 6-8 6-8 6-7 5-8 6-8 5-8 5-8 6-8 5-8 5-8 6-8 5-8 6-8 7-8 7-8 7-8 8-8 8-8 8-8 8-8 8-8 8-8 8-8 8-8 8-8 11-8 11"/>
<path stroke="#f39879" d="M1380 757l-8 14-8 17-8 19-8 24"/>
<path stroke="#f7b397" d="M1348 831l-9 27-8 31"/>
<path stroke="#f2c8b3" d="M1331 889l-8 34"/>
<path stroke="#e6d7cf" d="M1323 923l-8 34-8 34"/>
<path stroke="#d2dae7" d="M1307 991l-8 32"/>
<path stroke="#bdd2f6" d="M1299 1023l-8 28-8 27"/>
<path stroke="#a6c3fd" d="M1283 1078l-8 24-8 20-8 19"/>
<path stroke="#8daffd" d="M1259 1141l-8 16-8 15-8 14-7 13-8 15"/>
<path stroke="#7395f4" d="M1220 1214l-8 14-8 12-8 12-8 10-8 10-8 10-8 9-8 9"/>
<path stroke="#5b79e4" d="M1156 1300l-8 9-8 9-8 9-8 8-7 8-8 9-8 7-8 8-8 8-8 7-8 7-9 7-8 6-8 7-8 6-8 7-8 6-8 6-8 6-8 5-8 6-9 5-8 6-8 5-8 5-8 5-8 5-9 5-8 4-8 5-9 4-8 4-8 4"/>
<path stroke="#d85646" d="M1697 501l-8 6-8 6-7 6-8 6-8 6-8 6-8 6-7 7-8 6"/>
<path stroke="#e9795e" d="M1627 556l-8 7-8 6-8 6-8 6-8 6-7 6-8 5-8 6-8 5-8 5-8 5-8 5-8 5-8 5-7 6-8 6-8 6-8 6-8 7-8 7-8 8-8 7-8 7-8 8-8 7-8 7-9 7-8 8-8 9-8 11-8 11-8 14"/>
<path stroke="#f39879" d="M1372 776l-8 17-8 21-8 25"/>
<path stroke="#f7b397" d="M1348 839l-9 29-8 31"/>
<path stroke="#f2c8b3" d="M1331 899l-8 34"/>
<path stroke="#e6d7cf" d="M1323 933l-8 34-8 33"/>
<path stroke="#d2dae7" d="M1307 1000l-8 31-8 29"/>
<path stroke="#bdd2f6" d="M1291 1060l-8 25-8 23"/>
<path stroke="#a6c3fd" d="M1275 1108l-8 20-8 18-8 16"/>
<path stroke="#8daffd" d="M1251 1162l-8 15-8 18-7 17-8 14"/>
<path stroke="#7395f4" d="M1220 1226l-8 12-8 12-8 11-8 10-8 10-8 10-8 9-8 10-8 9"/>
<path stroke="#5b79e4" d="M1148 1319l-8 9-8 9-8 9-8 8-8 8-8 8-8 8-8 8-8 7-8 7-8 7-8 7-8 6-8 7-8 6-8 6-8 6-8 6-9 6-8 5-8 6-8 5-8 5-8 5-9 5-8 5-8 4-8 4-9 4-8 4-8 4"/>
<path stroke="#d85646" d="M1705 506l-8 6-7 6-8 6-8 6-8 6-8 6-7 7-8 6-8 6-8 7"/>
<path stroke="#e9795e" d="M1627 568l-8 6-8 6-8 6-7 6-8 6-8 5-8 5-8 6-8 5-8 5-8 4-7 5"/>
<path stroke="#d85646" d="M1533 633l-8 5-8 6-8 5-8 6-8 6"/>
<path stroke="#e9795e" d="M1493 661l-8 6-8 7-8 6-8 7-8 7-8 6-8 7-8 7-8 6-8 8-8 8-8 8-9 11-8 11-8 15-8 19"/>
<path stroke="#f39879" d="M1364 800l-8 22-8 25"/>
<path stroke="#f7b397" d="M1348 847l-8 30-9 31"/>
<path stroke="#f2c8b3" d="M1331 908l-8 34"/>
<path stroke="#e6d7cf" d="M1323 942l-8 34-8 32"/>
<path stroke="#d2dae7" d="M1307 1008l-8 30-8 28"/>
<path stroke="#bdd2f6" d="M1291 1066l-8 24-8 22"/>
<path stroke="#a6c3fd" d="M1275 1112l-8 20-8 18-8 21"/>
<path stroke="#8daffd" d="M1251 1171l-8 19-8 17-8 15-7 13"/>
<path stroke="#7395f4" d="M1220 1235l-8 12-8 11-8 11-8 10-8 11-8 10-8 10-8 10-8 10"/>
<path stroke="#5b79e4" d="M1148 1330l-8 9-8 9-8 9-8 8-8 8-8 8-8 8-8 8-8 7-8 7-8 7-8 7-8 7-8 6-8 7-8 6-9 6-8 6-8 5-8 6-8 5-8 5-9 5-8 5-8 4-8 5-9 4-8 4-8 4-9 3"/>
<path stroke="#d85646" d="M1713 511l-7 6-8 6-8 6-8 6-8 6-7 6-8 7-8 6-8 6-8 7"/>
<path stroke="#e9795e" d="M1635 573l-8 6-7 6-8 6-8 6-8 6-8 5-8 5-8 5-8 5-7 5-8 5"/>
<path stroke="#d85646" d="M1549 633l-8 5-8 4-8 5-8 5-8 6-8 5-8 6-8 6-8 6-8 6-8 6-8 6"/>
<path stroke="#e9795e" d="M1453 699l-8 6-8 6-8 7-8 6-8 7-8 8-8 9-8 11-9 13-8 16-8 19"/>
<path stroke="#f39879" d="M1364 807l-8 23-8 26"/>
<path stroke="#f7b397" d="M1348 856l-8 29-9 32"/>
<path stroke="#f2c8b3" d="M1331 917l-8 33"/>
<path stroke="#e6d7cf" d="M1323 950l-8 33-8 32"/>
<path stroke="#d2dae7" d="M1307 1015l-8 29-8 26"/>
<path stroke="#bdd2f6" d="M1291 1070l-8 24-8 21"/>
<path stroke="#a6c3fd" d="M1275 1115l-8 25-8 23-8 21"/>
<path stroke="#8daffd" d="M1251 1184l-8 18-8 15-8 14-8 13-7 11"/>
<path stroke="#7395f4" d="M1212 1255l-8 12-8 11-8 11-8 11-8 11-8 10-8 10-8 10"/>
<path stroke="#5b79e4" d="M1148 1341l-8 9-8 9-8 9-8 8-8 9-8 8-8 8-8 7-8 8-8 7-8 7-8 7-8 6-8 7-9 6-8 6-8 6-8 6-8 6-8 5-9 5-8 5-8 5-8 4-8 5-9 4-8 3-8 4-9 3"/>
<path stroke="#d85646" d="M1722 516l-8 6-8 6-8 6-8 6-7 6-8 6-8 7-8 6-8 7-8 6-7 6"/>
<path stroke="#e9795e" d="M1636 584l-8 6-8 7-8 5-8 6-8 5-8 5-7 5-8 5-8 5"/>
<path stroke="#d85646" d="M1565 633l-8 4-8 5-8 4-8 5-8 5-8 5-8 5-8 5-8 6-8 5-8 6-8 5-8 6-8 5-8 6-8 6-8 6-8 6-8 7-8 8"/>
<path stroke="#e9795e" d="M1405 743l-8 10-8 12-8 14-9 16-8 20"/>
<path stroke="#f39879" d="M1364 815l-8 23-8 27"/>
<path stroke="#f7b397" d="M1348 865l-8 30-9 32"/>
<path stroke="#f2c8b3" d="M1331 927l-8 33-8 31"/>
<path stroke="#e6d7cf" d="M1315 991l-8 30"/>
<path stroke="#d2dae7" d="M1307 1021l-8 28-8 25"/>
<path stroke="#bdd2f6" d="M1291 1074l-8 29-8 27"/>
<path stroke="#a6c3fd" d="M1275 1130l-8 25-8 21-8 19"/>
<path stroke="#8daffd" d="M1251 1195l-8 16-8 15-8 13-8 13-8 13"/>
<path stroke="#7395f4" d="M1211 1265l-8 12-7 12-8 11-8 11-8 11-8 10-8 10-8 10"/>
<path stroke="#5b79e4" d="M1148 1352l-8 9-8 9-8 9-8 9-8 8-8 8-8 8-8 8-8 7-8 8-8 7-9 7-8 6-8 7-8 6-8 6-8 6-8 6-8 5-9 5-8 5-8 5-8 4-9 5-8 3-8 4-9 3-8 3"/>
<path stroke="#d85646" d="M1730 521l-8 6-8 6-8 6-7 6-8 6-8 7-8 6-8 6-8 7-7 6-8 6"/>
<path stroke="#e9795e" d="M1644 589l-8 6-8 7-8 5-8 6-8 5-7 5-8 5-8 5"/>
<path stroke="#d85646" d="M1581 633l-8 4-8 5-8 4-8 5-8 4-7 4-8 5-8 5-8 5-8 5-8 4-8 5-8 5-8 6-8 5-8 5-8 5-8 5-8 6-9 7-8 8-8 9-8 10"/>
<path stroke="#e9795e" d="M1397 759l-8 12-8 15-8 18-9 20"/>
<path stroke="#f39879" d="M1364 824l-8 25-8 28"/>
<path stroke="#f7b397" d="M1348 877l-8 30-8 31"/>
<path stroke="#f2c8b3" d="M1332 938l-9 31-8 30"/>
<path stroke="#e6d7cf" d="M1315 999l-8 28"/>
<path stroke="#d2dae7" d="M1307 1027l-8 32-8 31"/>
<path stroke="#bdd2f6" d="M1291 1090l-8 28-8 26"/>
<path stroke="#a6c3fd" d="M1275 1144l-8 23-8 20-8 18"/>
<path stroke="#8daffd" d="M1251 1205l-8 15-8 15-8 15-8 13-8 13"/>
<path stroke="#7395f4" d="M1211 1276l-8 13-8 12-8 11-7 11-8 11-8 10-8 10-8 10"/>
<path stroke="#5b79e4" d="M1148 1364l-8 9-8 9-8 9-8 8-8 9-8 8-8 8-9 8-8 7-8 8-8 7-8 7-8 6-8 7-8 6-8 6-8 6-9 5-8 6-8 5-8 4-8 5-9 3-8 4-8 3-9 3-8 3"/>
<path stroke="#d85646" d="M1738 526l-8 6-8 6-7 6-8 6-8 6-8 7-8 6-7 7-8 6-8 6-8 7"/>
<path stroke="#e9795e" d="M1652 595l-8 6-8 6-8 5-7 6-8 5-8 5-8 5"/>
<path stroke="#d85646" d="M1597 633l-8 5-8 4-8 4-8 5-7 4-8 4-8 4-8 4-8 5-8 4-8 5-8 4-8 5-8 4-8 5-8 4-8 5-8 5-8 5-8 6-8 6-8 7-8 9-9 9-8 11-8 13"/>
<path stroke="#e9795e" d="M1389 779l-8 16-8 19-9 23"/>
<path stroke="#f39879" d="M1364 837l-8 26-8 27"/>
<path stroke="#f7b397" d="M1348 890l-8 29-8 30"/>
<path stroke="#f2c8b3" d="M1332 949l-9 29-8 33"/>
<path stroke="#e6d7cf" d="M1315 1011l-8 33"/>
<path stroke="#d2dae7" d="M1307 1044l-8 32-8 30"/>
<path stroke="#bdd2f6" d="M1291 1106l-8 27-8 25"/>
<path stroke="#a6c3fd" d="M1275 1158l-8 21-8 19-8 18"/>
<path stroke="#8daffd" d="M1251 1216l-8 16-8 16-8 14-8 14-8 13"/>
<path stroke="#7395f4" d="M1211 1289l-8 12-8 12-8 11-8 11-8 11-8 10-8 10-8 9"/>
<path stroke="#5b79e4" d="M1147 1375l-8 10-8 9-8 9-8 8-8 9-8 8-8 8-8 8-8 8-8 7-8 7-8 7-8 7-8 6-8 6-9 6-8 6-8 5-8 5-8 4-9 5-8 3-8 4-8 3-9 3-8 2"/>
<path stroke="#d85646" d="M1746 532l-8 5-7 6-8 6-8 6-8 7-8 6-7 6-8 7-8 6-8 6-8 7-8 6"/>
<path stroke="#e9795e" d="M1652 606l-7 6-8 5-8 6-8 5-8 5"/>
<path stroke="#d85646" d="M1613 633l-8 5-8 5-8 4-7 4-8 4-8 4-8 4-8 4-8 4-8 4-8 4-8 4-8 4-8 4-8 4-8 5-8 4-8 4-8 5-8 5-8 5-8 6-8 7-8 8-8 9-8 10-9 12-8 15"/>
<path stroke="#e9795e" d="M1389 790l-8 18-8 20-8 24"/>
<path stroke="#f39879" d="M1365 852l-9 25-8 27"/>
<path stroke="#f7b397" d="M1348 904l-8 28-8 31"/>
<path stroke="#f2c8b3" d="M1332 963l-9 32-8 33"/>
<path stroke="#e6d7cf" d="M1315 1028l-8 33"/>
<path stroke="#d2dae7" d="M1307 1061l-8 31-8 29"/>
<path stroke="#bdd2f6" d="M1291 1121l-8 26-8 24"/>
<path stroke="#a6c3fd" d="M1275 1171l-8 22-8 19-8 18"/>
<path stroke="#8daffd" d="M1251 1230l-8 17-8 15-8 14-8 13-8 13"/>
<path stroke="#7395f4" d="M1211 1302l-8 12-8 11-8 11-8 11-8 11-8 10-8 10-8 9"/>
<path stroke="#5b79e4" d="M1147 1387l-8 10-8 9-8 9-8 9-8 8-8 8-8 9-8 7-8 8-8 7-8 8-8 6-8 7-8 6-9 6-8 6-8 5-8 5-8 5-9 4-8 3-8 4-9 2-8 3-8 2"/>
<path stroke="#d85646" d="M1754 537l-7 6-8 5-8 6-8 7-7 6-8 6-8 6-8 7-8 6-8 7-8 6-7 6"/>
<path stroke="#e9795e" d="M1661 611l-8 6-8 6-8 5-8 5"/>
<path stroke="#d85646" d="M1629 633l-8 5-8 5-7 4-8 5-8 4-8 4-8 3-8 4-8 4-8 4-8 3-7 4-8 4-8 3-8 4-8 4-8 4-8 4-8 4-8 4-8 5-8 5-9 6-8 7-8 7-8 9-8 9-8 12-8 14-9 17"/>
<path stroke="#e9795e" d="M1389 804l-8 18-8 21-8 23"/>
<path stroke="#f39879" d="M1365 866l-9 25-8 27"/>
<path stroke="#f7b397" d="M1348 918l-8 30-8 31"/>
<path stroke="#f2c8b3" d="M1332 979l-9 33"/>
<path stroke="#e6d7cf" d="M1323 1012l-8 33-8 32"/>
<path stroke="#d2dae7" d="M1307 1077l-8 31-8 30"/>
<path stroke="#bdd2f6" d="M1291 1138l-8 28-8 24"/>
<path stroke="#a6c3fd" d="M1275 1190l-8 21-8 19"/>
<path stroke="#8daffd" d="M1259 1230l-8 17-8 16-8 14-8 13-8 13"/>
<path stroke="#7395f4" d="M1219 1303l-8 12-8 11-8 12-8 11-8 10-8 11-8 10-8 10-8 10"/>
<path stroke="#5b79e4" d="M1147 1400l-8 9-8 9-8 9-8 9-8 9-8 8-8 8-8 8-8 8-8 7-8 7-8 7-9 6-8 6-8 6-8 5-8 5-9 5-8 4-8 3-8 3-9 3-8 2-8 2"/>
<path stroke="#d85646" d="M1763 542l-8 6-8 6-8 6-7 6-8 6-8 6-8 7-8 6-8 6-7 7-8 6-8 6-8 6-8 6-8 5-8 5-7 5-8 5-8 4-8 4-8 4-8 4-8 4-7 3-8 4-8 3-8 4-8 3-8 4-8 3-8 3-8 4-8 3-8 4-8 4-8 4-8 5-8 5-8 6-8 6-8 7-9 8-8 10-8 12-8 13-8 15"/>
<path stroke="#e9795e" d="M1398 801l-9 17-8 19-8 21-8 23"/>
<path stroke="#f39879" d="M1365 881l-9 25-8 28"/>
<path stroke="#f7b397" d="M1348 934l-8 30"/>
<path stroke="#f2c8b3" d="M1340 964l-8 32-9 34"/>
<path stroke="#e6d7cf" d="M1323 1030l-8 35"/>
<path stroke="#d2dae7" d="M1315 1065l-8 37-8 33"/>
<path stroke="#bdd2f6" d="M1299 1135l-8 30-8 26"/>
<path stroke="#a6c3fd" d="M1283 1191l-8 21-8 19-8 17"/>
<path stroke="#8daffd" d="M1259 1248l-8 16-8 14-8 13-8 13-8 12"/>
<path stroke="#7395f4" d="M1219 1316l-8 12-8 11-8 11-8 11-8 11-8 10-8 11-8 10-8 9"/>
<path stroke="#5b79e4" d="M1147 1412l-8 10-8 9-8 9-8 9-8 9-8 8-8 8-8 8-8 8-8 7-9 7-8 6-8 6-8 6-8 5-8 5-9 5-8 4-8 3-8 3-9 3-8 1-9 1"/>
<path stroke="#d85646" d="M1771 547l-8 6-8 6-7 6-8 6-8 6-8 6-8 7-7 6-8 7-8 6-8 6-8 6-8 6-8 6-7 5-8 5-8 5-8 5-8 4-8 4-8 4-7 4-8 3-8 3-8 4-8 3-8 3-8 3-8 3-8 4-8 3-8 3-8 3-8 4-8 4-8 4-8 4-8 5-8 6-8 6-8 7-8 8-8 10-9 11-8 12-8 15-8 16"/>
<path stroke="#e9795e" d="M1398 816l-9 17-8 19-8 21"/>
<path stroke="#f39879" d="M1373 873l-8 23-9 26-8 28"/>
<path stroke="#f7b397" d="M1348 950l-8 33"/>
<path stroke="#f2c8b3" d="M1340 983l-8 39"/>
<path stroke="#e6d7cf" d="M1332 1022l-9 40-8 38"/>
<path stroke="#d2dae7" d="M1315 1100l-8 35"/>
<path stroke="#bdd2f6" d="M1307 1135l-8 30-8 27"/>
<path stroke="#a6c3fd" d="M1291 1192l-8 22-8 19-8 16"/>
<path stroke="#8daffd" d="M1267 1249l-8 16-8 14-8 13-8 13-8 12-8 12"/>
<path stroke="#7395f4" d="M1219 1329l-8 12-8 11-8 11-8 11-8 11-8 10-8 11-8 10"/>
<path stroke="#5b79e4" d="M1155 1416l-8 10-8 9-8 10-8 9-8 9-8 8-8 8-8 8-8 8-9 8-8 7-8 6-8 6-8 6-8 6-8 5-9 4-8 4-8 3-9 3-8 2-8 2-9 0"/>
<path stroke="#d85646" d="M1779 552l-8 6-7 6-8 6-8 6-8 6-8 7-7 6-8 6-8 7-8 6-8 6-8 6-7 6-8 6-8 5-8 5-8 5-8 5-8 4-7 4-8 4-8 3-8 3-8 4-8 3-8 3-8 3-7 2-8 3-8 3-8 3-8 3-8 3-8 4-8 3-8 4"/>
<path stroke="#c12a30" d="M1496 717l-8 5-8 5-8 5-9 6-8 7"/>
<path stroke="#d85646" d="M1455 745l-8 9-8 9-8 11-8 12-9 14-8 14-8 16"/>
<path stroke="#e9795e" d="M1398 830l-8 17-9 19-8 21"/>
<path stroke="#f39879" d="M1373 887l-8 24-9 31"/>
<path stroke="#f7b397" d="M1356 942l-8 36-8 39"/>
<path stroke="#f2c8b3" d="M1340 1017l-8 41"/>
<path stroke="#e6d7cf" d="M1332 1058l-9 40"/>
<path stroke="#d2dae7" d="M1323 1098l-8 36"/>
<path stroke="#bdd2f6" d="M1315 1134l-8 32-8 27"/>
<path stroke="#a6c3fd" d="M1299 1193l-8 22-8 19-8 17-8 15"/>
<path stroke="#8daffd" d="M1267 1266l-8 14-8 13-8 13-8 12-8 12-8 12"/>
<path stroke="#7395f4" d="M1219 1342l-8 12-8 11-8 12-8 11-8 10-8 11-8 10-8 10"/>
<path stroke="#5b79e4" d="M1155 1429l-8 10-8 10-8 9-8 9-8 9-8 9-8 8-9 8-8 7-8 7-8 7-8 6-8 6-8 6-9 5-8 4-8 4-8 3-9 3-8 2-8 1-9 0"/>
<path stroke="#d85646" d="M1788 557l-8 6-8 6-8 6-8 6-7 6-8 7-8 6-8 7-8 6-8 6-7 6-8 6-8 7-8 5-8 5-8 5-8 5-7 4-8 5-8 3-8 4-8 3-8 4-8 3-7 2-8 3-8 3-8 3-8 2-8 3-8 2-8 3-8 3-8 3"/>
<path stroke="#c12a30" d="M1520 711l-8 4-8 4-8 4-8 5-8 6-8 6-8 7-9 8"/>
<path stroke="#d85646" d="M1455 755l-8 10-8 10-8 13-8 12-9 13-8 15-8 12"/>
<path stroke="#e9795e" d="M1398 840l-8 19-9 22-8 25"/>
<path stroke="#f39879" d="M1373 906l-8 31"/>
<path stroke="#f7b397" d="M1365 937l-9 36-8 39"/>
<path stroke="#f2c8b3" d="M1348 1012l-8 42"/>
<path stroke="#e6d7cf" d="M1340 1054l-8 42"/>
<path stroke="#d2dae7" d="M1332 1096l-9 38-8 33"/>
<path stroke="#bdd2f6" d="M1315 1167l-8 27-8 22"/>
<path stroke="#a6c3fd" d="M1299 1216l-8 19-8 17-8 15"/>
<path stroke="#8daffd" d="M1275 1267l-8 14-8 14-8 12-8 13-8 13-8 12"/>
<path stroke="#7395f4" d="M1227 1345l-8 11-8 12-8 12-8 11-8 11-8 10-8 11-8 10"/>
<path stroke="#5b79e4" d="M1163 1433l-8 10-8 10-8 10-8 9-8 9-8 9-9 8-8 8-8 8-8 7-8 7-8 6-8 6-8 6-9 5-8 4-8 4-8 3-9 2-8 2-8 1-9 1"/>
<path stroke="#d85646" d="M1796 562l-8 6-8 6-8 6-7 6-8 7-8 6-8 6-8 7-7 6-8 6-8 7-8 6-8 6-8 5-8 5-7 5-8 5-8 4-8 4-8 4-8 4-8 3-7 3-8 3-8 2-8 3-8 2-8 3-8 2-8 2-8 3-8 2-7 3"/>
<path stroke="#c12a30" d="M1537 710l-8 3-8 4-9 4-8 4-8 5-8 5-8 7-8 7-8 8-8 10"/>
<path stroke="#d85646" d="M1456 767l-9 11-8 10-8 12-8 11-8 14-9 15-8 18"/>
<path stroke="#e9795e" d="M1398 858l-8 20-9 25"/>
<path stroke="#f39879" d="M1381 903l-8 29-8 35"/>
<path stroke="#f7b397" d="M1365 967l-9 40"/>
<path stroke="#f2c8b3" d="M1356 1007l-8 43"/>
<path stroke="#e6d7cf" d="M1348 1050l-8 43"/>
<path stroke="#d2dae7" d="M1340 1093l-9 40-8 34"/>
<path stroke="#bdd2f6" d="M1323 1167l-8 28-8 23"/>
<path stroke="#a6c3fd" d="M1307 1218l-8 19-8 17-8 15-8 14"/>
<path stroke="#8daffd" d="M1275 1283l-8 14-8 13-8 13-8 12-8 12-8 12"/>
<path stroke="#7395f4" d="M1227 1359l-8 12-8 12-8 11-8 11-8 11-8 11-8 10-8 11"/>
<path stroke="#5b79e4" d="M1163 1448l-8 10-8 9-8 10-8 9-9 9-8 8-8 9-8 7-8 8-8 7-8 6-8 6-9 6-8 5-8 4-8 4-8 3-9 2-8 2-9 1-8 0"/>
<path stroke="#d85646" d="M1804 568l-8 5-7 6-8 6-8 7-8 6-8 6-8 6-7 7-8 6-8 7-8 6-8 6-8 6-7 5-8 5-8 5-8 5-8 4-8 4-8 4-7 3-8 3-8 3-8 3-8 2-8 2-8 3-7 2-8 2-8 2-8 2"/>
<path stroke="#c12a30" d="M1561 707l-8 3-8 2-8 3-8 4-8 3-8 5-8 5-8 5-8 7-9 7-8 8-8 10-8 9"/>
<path stroke="#d85646" d="M1456 778l-8 10-9 12-8 12-8 14-8 15-9 18"/>
<path stroke="#e9795e" d="M1406 859l-8 21-8 25"/>
<path stroke="#f39879" d="M1390 905l-9 31-8 37"/>
<path stroke="#f7b397" d="M1373 973l-9 41"/>
<path stroke="#f2c8b3" d="M1364 1014l-8 45"/>
<path stroke="#e6d7cf" d="M1356 1059l-8 43"/>
<path stroke="#d2dae7" d="M1348 1102l-8 38-9 33"/>
<path stroke="#bdd2f6" d="M1331 1173l-8 27-8 22"/>
<path stroke="#a6c3fd" d="M1315 1222l-8 19-8 16-8 16-8 14"/>
<path stroke="#8daffd" d="M1283 1287l-8 13-8 13-8 13-8 12-8 13-8 12"/>
<path stroke="#7395f4" d="M1235 1363l-8 12-8 11-8 12-8 11-8 11-8 11-8 11-8 10"/>
<path stroke="#5b79e4" d="M1171 1452l-8 10-8 10-8 10-9 9-8 9-8 9-8 8-8 8-8 7-8 7-8 7-8 6-9 5-8 5-8 5-8 3-9 3-8 3-8 1-9 1-8 0"/>
<path stroke="#d85646" d="M1812 573l-7 6-8 6-8 6-8 6-8 6-7 6-8 7-8 6-8 6-8 7-8 6-7 6-8 6-8 5-8 5-8 5-8 5-8 4-7 4-8 3-8 4-8 2-8 3-8 3-7 2-8 2-8 2-8 2-8 2-8 2-8 2"/>
<path stroke="#c12a30" d="M1569 710l-8 2-8 3-8 2-8 4-8 3-8 5-8 5-8 5-8 8-8 7-8 8-9 10-8 9-8 11"/>
<path stroke="#d85646" d="M1456 792l-8 12-9 13-8 14-8 16-8 18"/>
<path stroke="#e9795e" d="M1415 865l-9 22-8 26"/>
<path stroke="#f39879" d="M1398 913l-8 33-9 37"/>
<path stroke="#f7b397" d="M1381 983l-8 43"/>
<path stroke="#f2c8b3" d="M1373 1026l-9 44"/>
<path stroke="#e6d7cf" d="M1364 1070l-8 42"/>
<path stroke="#d2dae7" d="M1356 1112l-8 38-9 31"/>
<path stroke="#bdd2f6" d="M1339 1181l-8 26-8 21"/>
<path stroke="#a6c3fd" d="M1323 1228l-8 18-8 16-8 15-8 14"/>
<path stroke="#8daffd" d="M1291 1291l-8 13-8 13-8 13-8 12-8 13-8 12"/>
<path stroke="#7395f4" d="M1243 1367l-8 12-8 11-8 12-8 11-8 12-8 11-8 10-8 11"/>
<path stroke="#5b79e4" d="M1179 1457l-8 10-8 10-9 10-8 9-8 9-8 9-8 8-8 8-8 8-8 7-8 7-8 6-9 5-8 5-8 4-8 4-9 3-8 2-8 2-9 0-8 0"/>
<path stroke="#d85646" d="M1821 578l-8 6-8 6-8 6-7 6-8 6-8 6-8 7-8 6-8 7-7 6-8 6-8 6-8 6-8 5-8 5-8 5-7 5-8 4-8 4-8 3-8 3-8 3-7 2-8 2-8 3-8 1-8 2-8 2-8 2-7 1"/>
<path stroke="#c12a30" d="M1586 710l-8 2-8 2-8 3-8 3-8 3-8 4-8 5-8 5-9 6-8 6-8 8-8 9-8 9-8 10-9 12"/>
<path stroke="#d85646" d="M1464 797l-8 12-8 13-8 15-9 16-8 19"/>
<path stroke="#e9795e" d="M1423 872l-8 23-9 27"/>
<path stroke="#f39879" d="M1406 922l-8 34-9 39"/>
<path stroke="#f7b397" d="M1389 995l-8 43"/>
<path stroke="#f2c8b3" d="M1381 1038l-9 44"/>
<path stroke="#e6d7cf" d="M1372 1082l-8 41"/>
<path stroke="#d2dae7" d="M1364 1123l-8 36-8 30"/>
<path stroke="#bdd2f6" d="M1348 1189l-9 25-8 21"/>
<path stroke="#a6c3fd" d="M1331 1235l-8 17-8 16-8 14-8 14"/>
<path stroke="#8daffd" d="M1299 1296l-8 13-8 13-8 13-8 12-8 12-8 12-8 12"/>
<path stroke="#7395f4" d="M1243 1383l-8 12-8 12-8 11-8 11-8 11-8 11-8 11-8 10"/>
<path stroke="#5b79e4" d="M1179 1472l-9 10-8 10-8 9-8 9-8 9-8 9-8 8-8 7-8 8-8 6-9 6-8 6-8 5-8 4-8 4-9 3-8 2-8 1-9 1-8 0"/>
<path stroke="#d85646" d="M1829 583l-8 6-8 6-7 6-8 6-8 6-8 7-8 6-7 6-8 7-8 6-8 6-8 6-8 6-8 5-7 5-8 5-8 5-8 4-8 3-7 3-8 3-8 3-8 2-8 2-8 2-7 2-8 1-8 2-8 1"/>
<path stroke="#c12a30" d="M1602 711l-8 2-8 2-8 1-8 3-8 3-8 3-8 4-8 5-8 5-8 6-8 7-8 8-9 9-8 9-8 11-8 12"/>
<path stroke="#d85646" d="M1473 801l-9 12-8 14-8 15-8 17-9 20"/>
<path stroke="#e9795e" d="M1431 879l-8 24-9 29"/>
<path stroke="#f39879" d="M1414 932l-8 34"/>
<path stroke="#f7b397" d="M1406 966l-9 40-8 43"/>
<path stroke="#f2c8b3" d="M1389 1049l-9 44"/>
<path stroke="#e6d7cf" d="M1380 1093l-8 41"/>
<path stroke="#d2dae7" d="M1372 1134l-8 35-8 29"/>
<path stroke="#bdd2f6" d="M1356 1198l-8 23-9 20"/>
<path stroke="#a6c3fd" d="M1339 1241l-8 17-8 16-8 14-8 14"/>
<path stroke="#8daffd" d="M1307 1302l-8 13-8 12-8 13-8 12-8 12-8 12-8 12"/>
<path stroke="#7395f4" d="M1251 1388l-8 12-8 12-8 11-8 11-8 11-8 11-8 11-8 10"/>
<path stroke="#5b79e4" d="M1187 1477l-9 10-8 10-8 10-8 9-8 9-8 8-8 8-8 8-8 7-8 7-9 6-8 5-8 5-8 5-8 3-9 3-8 2-8 2-9 0-8 0"/>
<path stroke="#d85646" d="M1837 588l-7 6-8 6-8 6-8 6-8 7-7 6-8 6-8 7-8 6-8 6-8 6-7 6-8 6-8 5-8 5-8 5-8 4-7 4-8 4-8 3-8 3-8 2-8 2-7 2-8 1-8 2-8 1-8 1"/>
<path stroke="#c12a30" d="M1618 712l-8 2-8 1-7 2-8 2-8 2-8 3-8 3-8 4-8 4-9 6-8 6-8 7-8 8-8 10-8 10-9 11-8 12"/>
<path stroke="#d85646" d="M1481 805l-8 13-8 14-9 16-8 18-9 21"/>
<path stroke="#e9795e" d="M1439 887l-8 24-8 30"/>
<path stroke="#f39879" d="M1423 941l-9 36"/>
<path stroke="#f7b397" d="M1414 977l-8 41"/>
<path stroke="#f2c8b3" d="M1406 1018l-9 44-8 43"/>
<path stroke="#e6d7cf" d="M1389 1105l-9 39"/>
<path stroke="#d2dae7" d="M1380 1144l-8 34"/>
<path stroke="#bdd2f6" d="M1372 1178l-8 28-8 23-9 19"/>
<path stroke="#a6c3fd" d="M1347 1248l-8 17-8 15-8 14-8 13-8 13"/>
<path stroke="#8daffd" d="M1307 1320l-8 13-8 12-8 13-8 12-8 12-8 12"/>
<path stroke="#7395f4" d="M1259 1394l-8 11-8 12-8 11-8 12-8 11-8 10-8 11-9 10"/>
<path stroke="#5b79e4" d="M1194 1482l-8 10-8 10-8 10-8 9-8 9-8 8-8 8-8 8-8 7-8 7-9 6-8 6-8 5-8 4-8 4-9 3-8 2-8 1-9 1-8 0"/>
<path stroke="#d85646" d="M1846 593l-8 6-8 6-8 6-7 7-8 6-8 6-8 6-8 7-8 6-7 6-8 7-8 5-8 6-8 5-8 5-7 5-8 4-8 4-8 3-8 3-8 3-7 2-8 2-8 1-8 2-8 1-7 1-8 1"/>
<path stroke="#c12a30" d="M1627 715l-8 1-8 1-8 1-8 2-8 2-8 3-8 3-8 4-8 5-8 5-8 7-8 7-9 9-8 9-8 11-8 12-9 12-8 14"/>
<path stroke="#d85646" d="M1481 823l-8 14-8 17-9 18-8 22"/>
<path stroke="#e9795e" d="M1448 894l-9 26-8 31"/>
<path stroke="#f39879" d="M1431 951l-9 37"/>
<path stroke="#f7b397" d="M1422 988l-8 41"/>
<path stroke="#f2c8b3" d="M1414 1029l-9 45"/>
<path stroke="#e6d7cf" d="M1405 1074l-8 42-9 39"/>
<path stroke="#d2dae7" d="M1388 1155l-8 32"/>
<path stroke="#bdd2f6" d="M1380 1187l-8 27-8 22-8 19"/>
<path stroke="#a6c3fd" d="M1356 1255l-9 16-8 15-8 14-8 13"/>
<path stroke="#8daffd" d="M1323 1313l-8 13-8 13-8 12-8 13-8 12-8 12-8 11"/>
<path stroke="#7395f4" d="M1267 1399l-8 12-8 12-8 11-8 11-8 11-8 11-8 10-9 11"/>
<path stroke="#5b79e4" d="M1202 1488l-8 10-8 10-8 9-8 9-8 9-8 9-8 8-8 7-8 7-8 7-9 6-8 6-8 5-8 4-8 4-9 3-8 2-8 2-9 0-8 0"/>
<path stroke="#d85646" d="M1854 599l-8 6-7 6-8 6-8 6-8 6-8 6-8 7-7 6-8 6-8 7-8 6-8 5-8 6-7 5-8 5-8 5-8 4-8 3-8 3-7 3-8 3-8 1-8 2-8 1-7 2-8 0-8 1"/>
<path stroke="#c12a30" d="M1643 716l-8 1-8 1-8 1-7 1-8 2-8 2-8 2-8 3-8 4-8 5-9 6-8 7-8 8-8 9-8 10-9 11-8 12-8 13-8 13"/>
<path stroke="#d85646" d="M1490 827l-9 16-8 17-8 19"/>
<path stroke="#e9795e" d="M1465 879l-9 22-8 27-9 33"/>
<path stroke="#f39879" d="M1439 961l-8 38"/>
<path stroke="#f7b397" d="M1431 999l-9 42"/>
<path stroke="#f2c8b3" d="M1422 1041l-9 44"/>
<path stroke="#e6d7cf" d="M1413 1085l-8 42-9 38"/>
<path stroke="#d2dae7" d="M1396 1165l-8 31"/>
<path stroke="#bdd2f6" d="M1388 1196l-8 27-8 21-8 18"/>
<path stroke="#a6c3fd" d="M1364 1262l-8 16-9 15-8 14-8 13"/>
<path stroke="#8daffd" d="M1331 1320l-8 13-8 12-8 12-8 13-8 12-8 12-8 11"/>
<path stroke="#7395f4" d="M1275 1405l-8 12-8 11-8 12-8 11-8 11-8 10-8 11-8 10"/>
<path stroke="#5b79e4" d="M1211 1493l-9 10-8 10-8 9-8 10-8 8-8 9-8 8-8 7-8 8-8 6-9 6-8 6-8 5-8 4-8 4-9 3-8 3-8 1-9 1"/>
<path stroke="#7395f4" d="M1055 1611l-8 0"/>
<path stroke="#d85646" d="M1862 604l-7 6-8 6-8 6-8 6-8 6-7 6-8 7-8 6-8 6-8 7-8 6-7 6-8 5-8 5-8 5-8 4-8 4-7 4-8 3-8 2-8 2-8 2-7 1-8 1-8 1-8 1"/>
<path stroke="#c12a30" d="M1659 718l-7 0-8 1-8 1-8 0-8 1-8 2-8 2-8 2-8 4-8 4-8 5-8 6-8 7-8 8-9 10-8 10-8 12-8 12-9 13-8 15"/>
<path stroke="#d85646" d="M1498 833l-8 16-9 17-8 20"/>
<path stroke="#e9795e" d="M1473 886l-9 23-8 28"/>
<path stroke="#f39879" d="M1456 937l-9 34-8 38"/>
<path stroke="#f7b397" d="M1439 1009l-9 43"/>
<path stroke="#f2c8b3" d="M1430 1052l-8 44"/>
<path stroke="#e6d7cf" d="M1422 1096l-9 42"/>
<path stroke="#d2dae7" d="M1413 1138l-8 37-9 30"/>
<path stroke="#bdd2f6" d="M1396 1205l-8 26-8 20-8 18"/>
<path stroke="#a6c3fd" d="M1372 1269l-8 16-8 15-9 13-8 13"/>
<path stroke="#8daffd" d="M1339 1326l-8 13-8 13-8 12-8 12-8 12-8 12-8 12"/>
<path stroke="#7395f4" d="M1283 1412l-8 11-8 11-8 12-8 11-8 10-8 11-8 10-8 11"/>
<path stroke="#5b79e4" d="M1219 1499l-9 10-8 9-8 10-8 9-8 8-8 9-8 8-8 7-8 8-8 6-9 6-8 6-8 5-8 5-8 3-9 4-8 2-8 2-9 1"/>
<path stroke="#7395f4" d="M1063 1617l-8 0"/>
<path stroke="#d85646" d="M1871 609l-8 6-8 6-8 6-7 6-8 6-8 7-8 6-8 6-8 7-7 6-8 6-8 6-8 5-8 5-8 5-7 4-8 4-8 3-8 3-8 2-7 2-8 1-8 2-8 0-7 1-8 0"/>
<path stroke="#c12a30" d="M1668 720l-8 1-8 0-8 0-8 1-7 1-8 1-8 2-8 3-8 4-8 4-8 5-9 7-8 7-8 9-8 10-8 10-9 12-8 13-8 14-9 15"/>
<path stroke="#d85646" d="M1506 839l-8 16-8 18-9 21"/>
<path stroke="#e9795e" d="M1481 894l-8 24-9 29"/>
<path stroke="#f39879" d="M1464 947l-8 34-9 40"/>
<path stroke="#f7b397" d="M1447 1021l-9 43"/>
<path stroke="#f2c8b3" d="M1438 1064l-8 44"/>
<path stroke="#e6d7cf" d="M1430 1108l-9 41"/>
<path stroke="#d2dae7" d="M1421 1149l-8 35-9 30"/>
<path stroke="#bdd2f6" d="M1404 1214l-8 25-8 20"/>
<path stroke="#a6c3fd" d="M1388 1259l-8 17-8 16-8 14-8 14-8 13"/>
<path stroke="#8daffd" d="M1348 1333l-9 13-8 12-8 13-8 12-8 12-8 11-8 12"/>
<path stroke="#7395f4" d="M1291 1418l-8 11-8 12-8 11-8 11-8 10-8 11-8 10-8 10"/>
<path stroke="#5b79e4" d="M1227 1504l-9 10-8 10-8 9-8 9-8 9-8 8-8 8-8 7-8 8-8 6-9 6-8 6-8 5-8 5-8 4-9 3-8 2-8 2-9 1"/>
<path stroke="#7395f4" d="M1071 1622l-8 1"/>
<path stroke="#d85646" d="M1879 614l-8 6-7 6-8 6-8 6-8 7-8 6-7 6-8 7-8 6-8 6-8 6-8 6-7 5-8 5-8 4-8 5-8 3-8 3-7 3-8 2-8 2-8 1-7 1-8 0-8 0"/>
<path stroke="#c12a30" d="M1684 722l-8 1-7 0-8 0-8 0-8 1-8 0-8 2-8 2-8 3-8 4-8 5-8 6-8 6-8 8-8 9-9 10-8 11-8 13-9 13-8 14-8 16"/>
<path stroke="#d85646" d="M1515 846l-9 16-8 19-8 21"/>
<path stroke="#e9795e" d="M1490 902l-9 25-9 30"/>
<path stroke="#f39879" d="M1472 957l-8 35"/>
<path stroke="#f7b397" d="M1464 992l-9 40-9 45"/>
<path stroke="#f2c8b3" d="M1446 1077l-8 43"/>
<path stroke="#e6d7cf" d="M1438 1120l-9 40"/>
<path stroke="#d2dae7" d="M1429 1160l-8 34-8 29"/>
<path stroke="#bdd2f6" d="M1413 1223l-9 24-8 20"/>
<path stroke="#a6c3fd" d="M1396 1267l-8 17-8 15-8 14-8 14-8 13"/>
<path stroke="#8daffd" d="M1356 1340l-8 13-9 12-8 12-8 12-8 12-8 12-8 11"/>
<path stroke="#7395f4" d="M1299 1424l-8 12-8 11-8 11-8 11-8 10-8 11-8 10-8 10"/>
<path stroke="#5b79e4" d="M1235 1510l-8 10-9 9-8 9-8 9-8 9-8 8-8 8-8 7-8 8-8 6-9 6-8 6-8 5-8 5-8 4-9 3-8 3-8 2-9 1"/>
<path stroke="#7395f4" d="M1079 1628l-8 1"/>
<path stroke="#d85646" d="M1888 619l-8 6-8 6-8 6-8 7-7 6-8 6-8 6-8 7-8 6-8 6-7 6-8 5-8 6-8 5-8 4-8 4-7 4-8 2-8 3-8 2-7 1-8 1-8 1-8 0"/>
<path stroke="#c12a30" d="M1700 725l-7 0-8 0-8 0-8 0-8 0-7 0-8 1-8 2-8 2-8 5-8 5-8 6-9 6-8 6-8 6-8 10-8 11-9 11-8 13-8 14-9 14"/>
<path stroke="#d85646" d="M1531 837l-8 16-8 17-9 19-8 22"/>
<path stroke="#e9795e" d="M1498 911l-9 26-8 30"/>
<path stroke="#f39879" d="M1481 967l-9 36"/>
<path stroke="#f7b397" d="M1472 1003l-9 42-8 44"/>
<path stroke="#f2c8b3" d="M1455 1089l-9 42"/>
<path stroke="#e6d7cf" d="M1446 1131l-9 40"/>
<path stroke="#d2dae7" d="M1437 1171l-8 33-8 28"/>
<path stroke="#bdd2f6" d="M1421 1232l-9 23-8 19"/>
<path stroke="#a6c3fd" d="M1404 1274l-8 17-8 15-8 15-8 13-8 13"/>
<path stroke="#8daffd" d="M1364 1347l-8 13-8 12-9 12-8 12-8 12-8 12-8 11"/>
<path stroke="#7395f4" d="M1307 1431l-8 11-8 11-8 11-8 11-8 10-8 10-8 11-8 9-8 10"/>
<path stroke="#5b79e4" d="M1235 1525l-9 9-8 10-8 8-8 9-8 8-8 8-8 7-8 7-8 7-9 6-8 6-8 5-8 5-8 4-9 3-8 3-8 2-9 2"/>
<path stroke="#7395f4" d="M1087 1634l-8 1"/>
<path stroke="#d85646" d="M1896 625l-8 6-8 6-7 6-8 6-8 6-8 6-8 7-7 6-8 6-8 6-8 6-8 5-8 6-7 4-8 5-8 3-8 4-8 2-7 2-8 2-8 1-8 1-7 0-8 0"/>
<path stroke="#c12a30" d="M1709 727l-8 0-8 0-7 0-8 0-8 0-8 0-8 2-8 1-8 5-8 5-8 6-8 6-8 6-8 5-8 7-9 10-8 12-8 12-8 13-9 14-8 15"/>
<path stroke="#d85646" d="M1540 846l-9 16-8 17-8 19-9 23"/>
<path stroke="#e9795e" d="M1506 921l-8 26-9 31"/>
<path stroke="#f39879" d="M1489 978l-9 37"/>
<path stroke="#f7b397" d="M1480 1015l-8 42"/>
<path stroke="#f2c8b3" d="M1472 1057l-9 44"/>
<path stroke="#e6d7cf" d="M1463 1101l-9 42-8 39"/>
<path stroke="#d2dae7" d="M1446 1182l-9 32"/>
<path stroke="#bdd2f6" d="M1437 1214l-8 27-8 23-9 18"/>
<path stroke="#a6c3fd" d="M1412 1282l-8 17-8 15-8 14-8 13-8 13"/>
<path stroke="#8daffd" d="M1372 1354l-8 13-8 12-8 12-8 12-9 12-8 11"/>
<path stroke="#7395f4" d="M1323 1426l-8 12-8 11-8 11-8 10-8 11-8 10-8 10-8 10-8 10-8 10"/>
<path stroke="#5b79e4" d="M1243 1531l-8 9-9 9-8 8-8 9-8 8-8 8-8 7-8 7-8 7-9 6-8 6-8 5-8 5-8 4-9 3-8 3-8 3-9 1"/>
<path stroke="#7395f4" d="M1095 1639l-8 2"/>
<path stroke="#d85646" d="M1904 630l-7 6-8 6-8 6-8 6-8 6-7 6-8 7-8 6-8 6-8 6-8 6-7 5-8 5-8 5-8 4-8 3-7 3-8 3-8 1-8 2-7 1-8 0-8 0"/>
<path stroke="#c12a30" d="M1725 729l-7 0-8 0-8-1-8 0-8 0-7 1-8 0-8 2-8 4-8 5-8 6-8 6-8 6-9 5-8 6-8 9-8 11-8 12-9 12-8 14-8 14-9 15"/>
<path stroke="#d85646" d="M1548 856l-8 16-9 17-8 20"/>
<path stroke="#e9795e" d="M1523 909l-9 22-8 27-9 32"/>
<path stroke="#f39879" d="M1497 990l-9 38"/>
<path stroke="#f7b397" d="M1488 1028l-8 42"/>
<path stroke="#f2c8b3" d="M1480 1070l-9 44"/>
<path stroke="#e6d7cf" d="M1471 1114l-9 41-8 37"/>
<path stroke="#d2dae7" d="M1454 1192l-9 32"/>
<path stroke="#bdd2f6" d="M1445 1224l-8 26-8 22-8 18"/>
<path stroke="#a6c3fd" d="M1421 1290l-9 16-8 15-8 14-8 14"/>
<path stroke="#8daffd" d="M1388 1349l-8 13-8 12-8 12-8 12-8 12-8 12-9 11"/>
<path stroke="#7395f4" d="M1331 1433l-8 11-8 11-8 11-8 11-8 10-8 10-8 10-8 10-8 10-8 9"/>
<path stroke="#5b79e4" d="M1251 1536l-8 9-9 9-8 9-8 8-8 8-8 8-8 7-8 7-8 6-9 7-8 5-8 6-8 4-8 5-9 3-8 4-8 2-9 2"/>
<path stroke="#7395f4" d="M1103 1645l-8 2"/>
<path stroke="#d85646" d="M1913 635l-8 6-8 6-8 6-7 6-8 6-8 6-8 7-8 6-7 6-8 6-8 5-8 5-8 6-8 4-7 3-8 4-8 2-8 2-7 2-8 1-8 1-7 0"/>
<path stroke="#c12a30" d="M1742 731l-8-1"/>
<path stroke="#c12a30" d="M1726 730l-8 0-7-1-8 0-8 1-8 0-8 2-8 3-8 5-8 6-8 6-8 6-8 5-8 6-8 8-9 10-8 12-8 12-8 13-9 13-8 15"/>
<path stroke="#d85646" d="M1565 852l-9 15-8 16-8 17-9 20"/>
<path stroke="#e9795e" d="M1531 920l-8 23-9 27"/>
<path stroke="#f39879" d="M1514 970l-9 33-8 38"/>
<path stroke="#f7b397" d="M1497 1041l-9 42"/>
<path stroke="#f2c8b3" d="M1488 1083l-9 43"/>
<path stroke="#e6d7cf" d="M1479 1126l-9 41"/>
<path stroke="#d2dae7" d="M1470 1167l-8 36-9 31"/>
<path stroke="#bdd2f6" d="M1453 1234l-8 25-8 21-8 18"/>
<path stroke="#a6c3fd" d="M1429 1298l-9 16-8 15-8 14-8 13"/>
<path stroke="#8daffd" d="M1396 1356l-8 13-8 12-8 13-8 12-8 11-8 12-8 11"/>
<path stroke="#7395f4" d="M1340 1440l-9 11-8 11-8 11-8 10-8 10-8 10-8 10-8 10-8 9-8 9"/>
<path stroke="#5b79e4" d="M1259 1541l-8 9-8 9-9 9-8 8-8 8-8 7-8 8-8 7-8 6-9 6-8 6-8 5-8 5-8 5-9 4-8 3-8 3-8 2"/>
<path stroke="#7395f4" d="M1112 1651l-9 2"/>
<path stroke="#d85646" d="M1921 640l-8 6-7 6-8 6-8 6-8 6-8 6-7 7-8 6-8 5-8 6-8 6-7 5-8 4-8 4-8 4-8 3-7 2-8 2-8 1-7 1-8 0-8 0"/>
<path stroke="#c12a30" d="M1750 732l-8-1-7 0-8 0-8-1-8 1-7 0-8 1-8 3-8 5-8 6-8 6-8 6-8 5-9 6-8 7-8 10-8 11-9 12-8 13-8 13-9 14-8 14"/>
<path stroke="#d85646" d="M1573 863l-8 15-9 16-8 17-9 20"/>
<path stroke="#e9795e" d="M1539 931l-8 23-9 28"/>
<path stroke="#f39879" d="M1522 982l-8 33-9 39"/>
<path stroke="#f7b397" d="M1505 1054l-9 42"/>
<path stroke="#f2c8b3" d="M1496 1096l-9 43"/>
<path stroke="#e6d7cf" d="M1487 1139l-8 40"/>
<path stroke="#d2dae7" d="M1479 1179l-9 35-8 30"/>
<path stroke="#bdd2f6" d="M1462 1244l-9 24-8 21"/>
<path stroke="#a6c3fd" d="M1445 1289l-8 17-8 16-9 15-8 13-8 14"/>
<path stroke="#8daffd" d="M1404 1364l-8 12-8 13-8 12-8 12-8 11-8 12-8 11"/>
<path stroke="#7395f4" d="M1348 1447l-8 11-9 11-8 10-8 10-8 10-8 10-8 10-8 10-8 9-8 9"/>
<path stroke="#5b79e4" d="M1267 1547l-8 9-8 8-9 9-8 8-8 8-8 7-8 7-8 7-8 7-8 6-9 6-8 5-8 5-8 5-9 4-8 3-8 3-8 3"/>
<path stroke="#7395f4" d="M1120 1657l-9 2"/>
<path stroke="#d85646" d="M1930 646l-8 5-8 6-8 6-7 6-8 6-8 6-8 6-8 6-8 6-7 6-8 5-8 5-8 4-8 4-7 3-8 2-8 2-7 2-8 1-8 0-7 0"/>
<path stroke="#c12a30" d="M1767 733l-8 0-8-1-8 0-7 0-8 0-8 0-8 1-8 2-8 5-8 6-8 6-8 6-8 5-8 6-8 6-8 10-9 11-8 12-8 12-9 13-8 13-8 14"/>
<path stroke="#d85646" d="M1590 860l-9 14-8 15-8 16-9 17"/>
<path stroke="#e9795e" d="M1556 922l-8 20-9 23-8 29"/>
<path stroke="#f39879" d="M1531 994l-9 34"/>
<path stroke="#f7b397" d="M1522 1028l-9 39-9 44"/>
<path stroke="#f2c8b3" d="M1504 1111l-9 41"/>
<path stroke="#e6d7cf" d="M1495 1152l-8 39"/>
<path stroke="#d2dae7" d="M1487 1191l-9 34-8 28"/>
<path stroke="#bdd2f6" d="M1470 1253l-9 24-8 20"/>
<path stroke="#a6c3fd" d="M1453 1297l-8 17-8 16-8 14-8 14-9 13"/>
<path stroke="#8daffd" d="M1412 1371l-8 13-8 12-8 12-8 12-8 12-8 11-8 11"/>
<path stroke="#7395f4" d="M1356 1454l-8 11-8 10-8 10-9 11-8 10-8 9-8 10-8 9-8 9-8 9-8 9"/>
<path stroke="#5b79e4" d="M1267 1561l-8 8-8 9-9 8-8 7-8 8-8 7-8 7-8 6-8 7-9 6-8 5-8 5-8 5-8 4-9 4-8 3-8 3"/>
<path stroke="#7395f4" d="M1128 1663l-9 2"/>
<path stroke="#d85646" d="M1938 651l-8 6-7 5-8 6-8 6-8 6-8 6-7 6-8 6-8 6-8 5-8 5-7 4-8 5-8 3-8 3-7 2-8 2-8 1-7 0-8 0"/>
<path stroke="#c12a30" d="M1783 734l-8 0-8 0-7-1-8 0-8 0-7 0-8 1-8 2-8 4-8 6-8 6-8 6-8 5-8 6-8 6-9 9-8 11-8 12-9 12-8 12-8 13-9 13"/>
<path stroke="#d85646" d="M1606 857l-8 14-8 14-9 14-8 16-8 18"/>
<path stroke="#e9795e" d="M1565 933l-9 20-9 24-8 29"/>
<path stroke="#f39879" d="M1539 1006l-9 35"/>
<path stroke="#f7b397" d="M1530 1041l-9 40"/>
<path stroke="#f2c8b3" d="M1521 1081l-9 42-9 42"/>
<path stroke="#e6d7cf" d="M1503 1165l-8 38"/>
<path stroke="#d2dae7" d="M1495 1203l-9 33"/>
<path stroke="#bdd2f6" d="M1486 1236l-8 27-8 23-9 20"/>
<path stroke="#a6c3fd" d="M1461 1306l-8 17-8 15-8 14-8 14-8 13"/>
<path stroke="#8daffd" d="M1421 1379l-9 12-8 13-8 12-8 11-8 12-8 11-8 11"/>
<path stroke="#7395f4" d="M1364 1461l-8 10-8 11-8 10-8 10-9 10-8 9-8 10-8 9-8 9-8 9-8 8"/>
<path stroke="#5b79e4" d="M1275 1566l-8 8-8 9-8 8-9 7-8 8-8 7-8 7-8 6-8 6-9 6-8 6-8 5-8 5-8 4-9 4-8 4-8 3"/>
<path stroke="#7395f4" d="M1136 1669l-9 2"/>
<path stroke="#d85646" d="M1947 656l-8 6-8 6-8 5-8 6-7 6-8 6-8 6-8 6-8 5-7 5-8 5-8 4-8 4-7 3-8 3-8 2-7 1-8 1-8 0"/>
<path stroke="#c12a30" d="M1799 736l-7 0-8 0-8-1-8 0-7 0-8 0-8 1-8 1-8 3-8 6-8 6-8 6-8 5-8 6-8 6-8 8-8 11-9 11-8 12-8 12-9 13-8 13-8 13"/>
<path stroke="#d85646" d="M1615 868l-9 13-8 14-8 14-9 16-8 18"/>
<path stroke="#e9795e" d="M1573 943l-9 20-8 25"/>
<path stroke="#f39879" d="M1556 988l-9 30-9 36"/>
<path stroke="#f7b397" d="M1538 1054l-9 41"/>
<path stroke="#f2c8b3" d="M1529 1095l-9 43"/>
<path stroke="#e6d7cf" d="M1520 1138l-8 40-9 37"/>
<path stroke="#d2dae7" d="M1503 1215l-9 32"/>
<path stroke="#bdd2f6" d="M1494 1247l-8 27-8 22-9 19"/>
<path stroke="#a6c3fd" d="M1469 1315l-8 16-8 15-8 14-8 13"/>
<path stroke="#8daffd" d="M1437 1373l-8 13-8 13-9 12-8 12-8 11-8 12-8 11"/>
<path stroke="#7395f4" d="M1380 1457l-8 10-8 11-8 10-8 10-8 10-8 9-8 10-9 9-8 9-8 9-8 9-8 8"/>
<path stroke="#5b79e4" d="M1283 1571l-8 8-8 9-8 7-8 8-9 7-8 7-8 7-8 7-8 6-8 6-9 6-8 5-8 5-8 4-9 4-8 4-8 3"/>
<path stroke="#7395f4" d="M1144 1674l-8 3"/>
<path stroke="#d85646" d="M1955 661l-8 6-8 6-7 5-8 6-8 6-8 6-7 5-8 6-8 5-8 5-8 5-7 4-8 4-8 2-8 2-7 2-8 1-8 1-7 0"/>
<path stroke="#c12a30" d="M1808 738l-8 0-8-1-7 0-8 0-8 0-7 1-8 1-8 2-8 5-8 6-8 6-8 5-8 6-8 6-8 8-9 10-8 11-8 12-9 12-8 12-8 13-9 12"/>
<path stroke="#d85646" d="M1631 865l-8 13-8 13-9 14-8 14-8 16"/>
<path stroke="#e9795e" d="M1590 935l-9 18-8 21-9 25"/>
<path stroke="#f39879" d="M1564 999l-9 31-9 37"/>
<path stroke="#f7b397" d="M1546 1067l-8 40"/>
<path stroke="#f2c8b3" d="M1538 1107l-9 44"/>
<path stroke="#e6d7cf" d="M1529 1151l-9 40"/>
<path stroke="#d2dae7" d="M1520 1191l-9 37-8 30"/>
<path stroke="#bdd2f6" d="M1503 1258l-9 26-8 21"/>
<path stroke="#a6c3fd" d="M1486 1305l-8 18-9 16-8 15-8 14-8 13"/>
<path stroke="#8daffd" d="M1445 1381l-8 13-8 12-8 12-8 12-9 11-8 11-8 11"/>
<path stroke="#7395f4" d="M1388 1463l-8 11-8 10-8 10-8 10-8 10-8 9-8 10-8 9-9 9-8 8-8 9-8 8-8 8"/>
<path stroke="#5b79e4" d="M1283 1584l-8 8-8 8-8 8-9 7-8 7-8 7-8 6-8 7-8 6-9 5-8 6-8 5-8 4-8 5-9 4-8 3"/>
<path stroke="#7395f4" d="M1152 1680l-8 4"/>
<path stroke="#d85646" d="M1964 666l-8 6-8 6-8 5-8 6-7 6-8 6-8 5-8 5-8 5-7 5-8 4-8 4-8 4-7 2-8 2-8 1-7 1-8 1"/>
<path stroke="#c12a30" d="M1824 740l-8 0-7 0-8 0-8-1-7 1-8 0-8 1-8 2-8 3-8 6-8 6-8 5-8 6-8 6-8 8-8 10-8 10-9 12-8 11-8 13-9 12-8 12"/>
<path stroke="#d85646" d="M1648 863l-8 13-9 12-8 13-8 14-9 14-8 15"/>
<path stroke="#e9795e" d="M1598 944l-8 18-9 22-9 27"/>
<path stroke="#f39879" d="M1572 1011l-8 32"/>
<path stroke="#f7b397" d="M1564 1043l-9 38-9 41"/>
<path stroke="#f2c8b3" d="M1546 1122l-9 43"/>
<path stroke="#e6d7cf" d="M1537 1165l-9 40"/>
<path stroke="#d2dae7" d="M1528 1205l-9 34-8 30"/>
<path stroke="#bdd2f6" d="M1511 1269l-9 24-8 21"/>
<path stroke="#a6c3fd" d="M1494 1314l-8 18-8 15-9 15-8 13-8 13"/>
<path stroke="#8daffd" d="M1453 1388l-8 13-8 12-8 12-8 12-8 11-9 11-8 11"/>
<path stroke="#7395f4" d="M1396 1470l-8 10-8 10-8 10-8 10-8 10-8 9-8 9-8 9-8 9-9 8-8 9-8 8-8 8"/>
<path stroke="#5b79e4" d="M1291 1589l-8 8-8 8-8 7-8 8-9 7-8 6-8 7-8 6-8 6-8 6-9 6-8 5-8 5-8 4-9 5"/>
<path stroke="#7395f4" d="M1168 1683l-8 3-8 4"/>
<path stroke="#d85646" d="M1972 671l-8 6-8 6-7 5-8 6-8 6-8 5-7 6-8 5-8 5-8 4-7 4-8 4-8 3-8 2-7 2-8 1-8 1-7 1"/>
<path stroke="#c12a30" d="M1833 743l-8 0-8 0-7 0-8 0-8 1-7 1-8 2-8 2-8 4-8 5-8 5-8 6-8 7-8 8-9 10-8 10-8 11-8 12-9 11-8 12-8 12-9 12"/>
<path stroke="#d85646" d="M1656 874l-8 12-8 13-9 12-8 13-8 14-9 16"/>
<path stroke="#e9795e" d="M1606 954l-8 18-9 23-8 27"/>
<path stroke="#f39879" d="M1581 1022l-9 33"/>
<path stroke="#f7b397" d="M1572 1055l-9 39"/>
<path stroke="#f2c8b3" d="M1563 1094l-9 43-9 42"/>
<path stroke="#e6d7cf" d="M1545 1179l-9 38"/>
<path stroke="#d2dae7" d="M1536 1217l-9 34-8 29"/>
<path stroke="#bdd2f6" d="M1519 1280l-9 23-8 20"/>
<path stroke="#a6c3fd" d="M1502 1323l-8 17-8 16-8 14-9 13-8 13"/>
<path stroke="#8daffd" d="M1461 1396l-8 12-8 12-8 12-8 12-8 11-8 11-8 10"/>
<path stroke="#7395f4" d="M1405 1476l-9 10-8 10-8 10-8 10-8 9-8 9-8 9-8 9-8 9-8 8-9 9-8 8-8 8-8 8"/>
<path stroke="#5b79e4" d="M1291 1602l-8 7-8 8-8 7-8 7-9 7-8 7-8 6-8 6-8 6-9 6-8 5-8 5-8 5-8 4"/>
<path stroke="#7395f4" d="M1177 1688l-9 4-8 4"/>
<path stroke="#d85646" d="M1980 676l-7 6-8 6-8 5-8 6-7 5-8 6-8 5-8 5-7 5-8 4-8 4-8 4-7 3-8 2-8 2-7 1-8 1"/>
<path stroke="#c12a30" d="M1849 746l-8 1-7 0-8 1-8 0-7 1-8 1-8 2-8 2-8 3-8 4-8 5-8 6-8 7-8 8-8 10-8 9-9 11-8 11-8 11-8 12-9 11-8 12"/>
<path stroke="#d85646" d="M1673 874l-8 11-9 12-8 12-8 12-8 13-9 14"/>
<path stroke="#e9795e" d="M1623 948l-8 15-9 19-8 23"/>
<path stroke="#f39879" d="M1598 1005l-9 29-9 34"/>
<path stroke="#f7b397" d="M1580 1068l-9 40"/>
<path stroke="#f2c8b3" d="M1571 1108l-9 43"/>
<path stroke="#e6d7cf" d="M1562 1151l-9 41-9 38"/>
<path stroke="#d2dae7" d="M1544 1230l-9 33"/>
<path stroke="#bdd2f6" d="M1535 1263l-8 27-8 23-9 19"/>
<path stroke="#a6c3fd" d="M1510 1332l-8 17-8 15-8 13-8 14"/>
<path stroke="#8daffd" d="M1478 1391l-9 12-8 12-8 12-8 12-8 11-8 11-8 11-8 10"/>
<path stroke="#7395f4" d="M1413 1482l-8 10-8 10-9 10-8 9-8 10-8 9-8 9-8 8-8 9-8 8-8 9-8 8-9 8-8 7-8 8"/>
<path stroke="#5b79e4" d="M1291 1614l-8 8-8 7-8 7-8 7-9 6-8 7-8 6-8 6-8 6-9 5-8 5-8 5-8 5"/>
<path stroke="#7395f4" d="M1185 1694l-9 4-8 4"/>
<path stroke="#d85646" d="M1989 682l-8 5-7 6-8 5-8 6-8 5-8 6-7 5-8 5-8 4-8 4-7 4-8 4-8 3-7 2-8 2-8 1-7 2"/>
<path stroke="#c12a30" d="M1858 751l-8 0-8 1-7 1-8 1-8 1-8 2-8 2-7 3-8 4-8 5-8 6-8 7-8 7-9 9-8 9-8 10-8 11-9 11-8 11-8 11-8 11"/>
<path stroke="#d85646" d="M1690 874l-9 11-8 11-8 11-8 11-9 12-8 13-8 14"/>
<path stroke="#e9795e" d="M1632 957l-9 16-8 19-9 24"/>
<path stroke="#f39879" d="M1606 1016l-9 30-9 35"/>
<path stroke="#f7b397" d="M1588 1081l-9 41"/>
<path stroke="#f2c8b3" d="M1579 1122l-9 42"/>
<path stroke="#e6d7cf" d="M1570 1164l-9 42"/>
<path stroke="#d2dae7" d="M1561 1206l-9 37-8 31"/>
<path stroke="#bdd2f6" d="M1544 1274l-9 27-8 22"/>
<path stroke="#a6c3fd" d="M1527 1323l-9 18-8 16-8 15-8 13-8 13"/>
<path stroke="#8daffd" d="M1486 1398l-8 12-8 12-9 12-8 11-8 12-8 10-8 11-8 10"/>
<path stroke="#7395f4" d="M1421 1488l-8 10-8 10-8 9-8 10-9 9-8 9-8 8-8 9-8 9-8 8-8 8-8 8-8 8-9 8-8 8-8 7"/>
<path stroke="#5b79e4" d="M1291 1626l-8 7-8 8-8 6-8 7-9 7-8 6-8 6-8 6-8 6-9 5-8 5-8 5"/>
<path stroke="#7395f4" d="M1193 1700l-8 4-9 4"/>
<path stroke="#d85646" d="M1998 687l-8 5-8 6-8 5-7 6-8 5-8 5-8 5-8 5-7 5-8 4-8 3-7 4-8 3-8 2-8 2-7 2-8 1"/>
<path stroke="#c12a30" d="M1866 755l-8 1-7 2-8 1-8 1-7 2-8 3-8 3-8 3-8 5-8 5-8 7-8 7-8 8-8 9-9 10-8 10-8 10-8 11-9 10-8 11"/>
<path stroke="#d85646" d="M1706 874l-8 11-8 11-9 10-8 11-8 11-8 11-9 12-8 14"/>
<path stroke="#e9795e" d="M1640 965l-9 17-8 20-9 25"/>
<path stroke="#f39879" d="M1614 1027l-9 30-9 37"/>
<path stroke="#f7b397" d="M1596 1094l-9 42"/>
<path stroke="#f2c8b3" d="M1587 1136l-9 43"/>
<path stroke="#e6d7cf" d="M1578 1179l-9 40"/>
<path stroke="#d2dae7" d="M1569 1219l-9 36-8 31"/>
<path stroke="#bdd2f6" d="M1552 1286l-9 25-8 21"/>
<path stroke="#a6c3fd" d="M1535 1332l-8 18-9 16-8 14-8 13-8 12"/>
<path stroke="#8daffd" d="M1494 1405l-8 12-8 12-8 12-8 11-9 11-8 10-8 10-8 10"/>
<path stroke="#7395f4" d="M1429 1493l-8 10-8 10-8 9-8 9-8 9-8 9-9 9-8 9-8 8-8 9-8 8-8 8-8 8-8 8-9 7-8 8-8 7"/>
<path stroke="#5b79e4" d="M1291 1638l-8 7-8 7-8 7-9 7-8 6-8 6-8 6-8 6-9 5-8 6-8 5"/>
<path stroke="#7395f4" d="M1201 1706l-8 4-9 5"/>
<path stroke="#d85646" d="M2006 692l-8 5-7 6-8 5-8 5-8 6-7 5-8 5-8 4-8 5-7 4-8 4-8 3-8 4-7 1-8 2-8 2"/>
<path stroke="#c12a30" d="M1882 758l-7 2-8 1-8 2-7 2-8 2-8 2-8 3-8 4-8 4-8 5-8 6-8 7-8 8-8 8-8 10-8 9-8 10-9 11-8 10"/>
<path stroke="#d85646" d="M1731 864l-8 10-8 11-9 10-8 11-8 10-8 11-9 10-8 12-8 12"/>
<path stroke="#e9795e" d="M1657 961l-9 14-8 16-9 21-8 26"/>
<path stroke="#f39879" d="M1623 1038l-9 32"/>
<path stroke="#f7b397" d="M1614 1070l-9 38-9 39"/>
<path stroke="#f2c8b3" d="M1596 1147l-10 46"/>
<path stroke="#e6d7cf" d="M1586 1193l-9 40"/>
<path stroke="#d2dae7" d="M1577 1233l-8 35-9 29"/>
<path stroke="#bdd2f6" d="M1560 1297l-9 24-8 21"/>
<path stroke="#a6c3fd" d="M1543 1342l-8 17-8 15-9 13-8 13-8 12"/>
<path stroke="#8daffd" d="M1502 1412l-8 12-8 12-8 11-8 11-8 10-8 11-9 10-8 10-8 9"/>
<path stroke="#7395f4" d="M1429 1508l-8 10-8 9-8 9-8 9-8 9-8 9-8 8-9 9-8 8-8 8-8 8-8 8-8 8-8 8-9 7-8 8-8 7-8 7"/>
<path stroke="#5b79e4" d="M1283 1657l-8 7-8 7-9 6-8 6-8 7-8 5-8 6-9 5"/>
<path stroke="#7395f4" d="M1217 1706l-8 6-8 4-8 5"/>
<path stroke="#d85646" d="M2015 697l-8 5-8 6-8 5-7 5-8 5-8 5-8 5-7 4-8 5-8 4-8 3-7 4-8 3-8 2-7 2-8 2"/>
<path stroke="#c12a30" d="M1891 762l-8 2-7 2-8 2-8 2-8 2-7 3-8 3-8 5-8 4-8 6-8 7-8 7-8 8-8 9-9 10-8 10-8 10-8 10"/>
<path stroke="#d85646" d="M1748 864l-9 10-8 10-8 10-8 11-9 10-8 10-8 11-8 11-9 11-8 13"/>
<path stroke="#e9795e" d="M1665 971l-8 15-9 18-8 21"/>
<path stroke="#f39879" d="M1640 1025l-9 25-9 32"/>
<path stroke="#f7b397" d="M1622 1082l-9 39"/>
<path stroke="#f2c8b3" d="M1613 1121l-9 43-10 43"/>
<path stroke="#e6d7cf" d="M1594 1207l-9 39"/>
<path stroke="#d2dae7" d="M1585 1246l-8 34"/>
<path stroke="#bdd2f6" d="M1577 1280l-9 28-8 23-9 20"/>
<path stroke="#a6c3fd" d="M1551 1351l-8 16-8 15-8 13-8 12-9 12"/>
<path stroke="#8daffd" d="M1510 1419l-8 12-8 11-8 11-8 10-8 11-8 10-8 10-8 9-9 10"/>
<path stroke="#7395f4" d="M1437 1513l-8 9-8 9-8 9-8 9-8 9-8 9-8 8-8 9-9 8-8 8-8 8-8 8-8 8-8 8-8 8-8 7-9 8-8 7-8 7"/>
<path stroke="#5b79e4" d="M1283 1669l-8 7-8 6-9 7-8 6-8 6-8 6-8 5"/>
<path stroke="#7395f4" d="M1226 1712l-9 5-8 5-8 5"/>
<path stroke="#d85646" d="M2023 702l-8 5-7 5-8 5-8 6-8 5-7 4-8 5-8 4-7 4-8 4-8 4-8 3-7 4-8 1-8 2"/>
<path stroke="#c12a30" d="M1907 763l-7 2-8 2-8 2-7 3-8 2-8 3-8 3-8 4-8 5-8 5-8 7-8 7-8 8-8 8-8 10-8 9-8 10-9 10-8 10"/>
<path stroke="#d85646" d="M1756 873l-8 11-8 10-9 9-8 10-8 10-8 11-9 11-8 11-8 12"/>
<path stroke="#e9795e" d="M1682 968l-9 14-8 16-9 20-8 23"/>
<path stroke="#f39879" d="M1648 1041l-9 28-9 33"/>
<path stroke="#f7b397" d="M1630 1102l-9 37"/>
<path stroke="#f2c8b3" d="M1621 1139l-9 40"/>
<path stroke="#e6d7cf" d="M1612 1179l-9 42"/>
<path stroke="#d2dae7" d="M1603 1221l-9 38-9 33"/>
<path stroke="#bdd2f6" d="M1585 1292l-9 27-8 22"/>
<path stroke="#a6c3fd" d="M1568 1341l-9 19-8 16-8 14-8 12-8 12-8 12"/>
<path stroke="#8daffd" d="M1519 1426l-8 11-9 11-8 10-8 10-8 10-8 10-8 10-8 9-8 10-8 9"/>
<path stroke="#7395f4" d="M1438 1526l-9 9-8 9-8 9-8 9-8 8-8 9-8 9-8 8-8 8-9 9-8 8-8 8-8 8-8 7-8 8-8 7-9 8-8 7-8 7-8 7"/>
<path stroke="#5b79e4" d="M1275 1688l-8 6-9 7-8 6-8 6"/>
<path stroke="#7395f4" d="M1242 1713l-8 5-9 5-8 5-8 5"/>
<path stroke="#d85646" d="M2032 707l-8 5-8 5-7 5-8 5-8 5-8 4-7 5-8 4-8 4-7 4-8 3-8 3-8 4-7 1-8 3"/>
<path stroke="#c12a30" d="M1916 767l-8 2-7 2-8 2-8 3-8 3-7 3-8 4-8 5-8 5-8 6-8 7-8 7-8 9-8 9-9 9-8 10-8 10-8 10"/>
<path stroke="#d85646" d="M1773 873l-9 10-8 10-8 10-8 10-8 10-9 9-8 11-8 11-9 11"/>
<path stroke="#e9795e" d="M1698 965l-8 14-8 15-9 17-8 22"/>
<path stroke="#f39879" d="M1665 1033l-9 26-9 30"/>
<path stroke="#f7b397" d="M1647 1089l-9 35"/>
<path stroke="#f2c8b3" d="M1638 1124l-9 38-9 41"/>
<path stroke="#e6d7cf" d="M1620 1203l-9 38"/>
<path stroke="#d2dae7" d="M1611 1241l-9 34-9 30"/>
<path stroke="#bdd2f6" d="M1593 1305l-9 25-8 21"/>
<path stroke="#a6c3fd" d="M1576 1351l-8 18-9 15-8 14-8 12-8 11"/>
<path stroke="#8daffd" d="M1535 1421l-8 11-8 11-8 10-8 10-9 10-8 10-8 9-8 10-8 9-8 9-8 10-8 9"/>
<path stroke="#7395f4" d="M1438 1539l-8 8-8 9-9 9-8 9-8 8-8 9-8 9-8 8-8 8-8 9-9 8-8 8-8 8-8 8-8 7-8 8-9 7-8 7-8 7-8 7-8 6"/>
<path stroke="#5b79e4" d="M1267 1706l-9 6"/>
<path stroke="#7395f4" d="M1258 1712l-8 6-8 6-8 5-9 6-8 4"/>
<path stroke="#d85646" d="M2040 711l-7 5-8 5-8 5-8 5-7 5-8 4-8 4-7 4-8 4-8 4-7 3-8 3-8 4-8 1"/>
<path stroke="#c12a30" d="M1932 767l-7 3-8 2-8 3-7 2-8 4-8 3-8 4-8 4-8 6-8 6-8 7-8 8-8 8-8 9-8 9-8 10"/>
<path stroke="#d85646" d="M1806 855l-9 10-8 10-8 11-8 10-9 10-8 10-8 10-8 10-8 10-9 10"/>
<path stroke="#e9795e" d="M1723 956l-8 11-8 13-9 14-8 17-9 19"/>
<path stroke="#f39879" d="M1681 1030l-9 24-8 28"/>
<path stroke="#f7b397" d="M1664 1082l-9 33-9 36"/>
<path stroke="#f2c8b3" d="M1646 1151l-10 40"/>
<path stroke="#e6d7cf" d="M1636 1191l-9 38"/>
<path stroke="#d2dae7" d="M1627 1229l-9 35-8 32"/>
<path stroke="#bdd2f6" d="M1610 1296l-9 26-9 23"/>
<path stroke="#a6c3fd" d="M1592 1345l-8 19-8 16-8 14-9 12-8 11-8 11"/>
<path stroke="#8daffd" d="M1543 1428l-8 10-8 10-8 10-8 10-8 9-8 10-8 9-9 9-8 9-8 9-8 9-8 9-8 9"/>
<path stroke="#7395f4" d="M1438 1550l-8 9-8 9-8 9-9 8-8 9-8 9-8 8-8 9-8 8-8 9-9 8-8 8-8 8-8 8-8 8-8 7-9 7-8 7-8 7-8 7-8 6-9 6-8 6-8 5-8 6-9 4"/>
<path stroke="#d85646" d="M2049 716l-8 5-7 5-8 4-8 5-8 4-7 4-8 4-8 4-7 3-8 4-8 3-7 3-8 3"/>
<path stroke="#c12a30" d="M1949 767l-8 2-7 3-8 2-8 3-8 4-7 4-8 5-8 6-8 6-8 8-9 9-8 10-8 11"/>
<path stroke="#d85646" d="M1846 840l-8 11-8 11-9 11-8 11-8 11-8 12-9 11-8 11"/>
<path stroke="#e9795e" d="M1780 929l-8 12-9 11-8 12-8 11-8 11-9 11-8 11-8 14"/>
<path stroke="#f39879" d="M1714 1022l-9 16-8 18-9 22"/>
<path stroke="#f7b397" d="M1688 1078l-9 26-9 29"/>
<path stroke="#f2c8b3" d="M1670 1133l-9 33-9 36"/>
<path stroke="#e6d7cf" d="M1652 1202l-9 35"/>
<path stroke="#d2dae7" d="M1643 1237l-9 34-8 30"/>
<path stroke="#bdd2f6" d="M1626 1301l-9 25-8 22"/>
<path stroke="#a6c3fd" d="M1609 1348l-9 19-8 16-8 14-8 11-8 11-9 9"/>
<path stroke="#8daffd" d="M1559 1428l-8 9-8 9-8 9-8 8-8 8-8 9-8 9-8 8-8 9-8 9-8 9-9 9-8 9-8 9-8 9"/>
<path stroke="#7395f4" d="M1438 1560l-8 9-8 9-8 9-8 9-9 9-8 9-8 8-8 9-8 9-8 8-8 8-9 9-8 8-8 8-8 7-8 8-9 7-8 7-8 7-8 6-8 7-9 5-8 6-8 5-8 5"/>
<path stroke="#d85646" d="M2058 721l-8 5-8 4-7 4-8 4-8 4-7 3-8 4-8 3-7 4-8 3-8 3"/>
<path stroke="#c12a30" d="M1973 762l-7 2-8 4-8 2-8 3-7 3-8 3-8 5-8 6-8 7-8 8-8 9-8 11-9 14"/>
<path stroke="#d85646" d="M1870 839l-8 15-9 15-8 15-8 15-9 14"/>
<path stroke="#e9795e" d="M1828 913l-8 13-8 13-9 13-8 13-8 13"/>
<path stroke="#f39879" d="M1787 978l-9 14-8 14-8 13-9 13-8 13-8 13"/>
<path stroke="#f7b397" d="M1737 1058l-9 13-8 15-8 17-9 20"/>
<path stroke="#f2c8b3" d="M1703 1123l-9 23-9 27"/>
<path stroke="#e6d7cf" d="M1685 1173l-8 29-9 31"/>
<path stroke="#d2dae7" d="M1668 1233l-9 31-9 31"/>
<path stroke="#bdd2f6" d="M1650 1295l-9 27-8 22"/>
<path stroke="#a6c3fd" d="M1633 1344l-9 19-8 16-8 14-8 13-8 11"/>
<path stroke="#8daffd" d="M1592 1417l-8 9-8 9-8 7-8 6-8 7-8 7-8 6-9 7-8 7-8 8-8 8-8 8-8 9-8 9-8 9-8 9-8 10-9 9-8 9-8 10"/>
<path stroke="#7395f4" d="M1430 1580l-8 9-8 9-8 9-8 9-9 9-8 9-8 8-8 9-8 8-8 9-9 8-8 8-8 8-8 7-8 8-9 7-8 7-8 7-8 6-8 6-9 6-8 6-8 5"/>
<path stroke="#d85646" d="M2066 727l-7 3-8 4-8 4-7 3-8 4-8 3-7 3-8 4-8 3"/>
<path stroke="#c12a30" d="M1997 758l-7 2-8 3-8 3-7 3-8 2-8 3-7 3-8 5-8 5-8 8-8 9-9 11-8 12"/>
<path stroke="#d85646" d="M1895 827l-8 16-9 19-9 20-8 20"/>
<path stroke="#e9795e" d="M1861 902l-9 19-9 20-8 17"/>
<path stroke="#f39879" d="M1835 958l-9 16-8 15-8 15-9 15-8 16"/>
<path stroke="#f7b397" d="M1793 1035l-9 16-8 17-9 15-8 15"/>
<path stroke="#f2c8b3" d="M1759 1098l-8 15-9 15-8 15-8 17"/>
<path stroke="#e6d7cf" d="M1726 1160l-9 19-8 20-9 24"/>
<path stroke="#d2dae7" d="M1700 1223l-9 27-9 28"/>
<path stroke="#bdd2f6" d="M1682 1278l-8 26-9 26"/>
<path stroke="#a6c3fd" d="M1665 1330l-9 24-8 20-8 14-8 11"/>
<path stroke="#8daffd" d="M1632 1399l-8 10-8 11-8 9-8 9-8 7-8 6-8 5-8 5-8 4-8 5-8 4-8 5-8 6-8 7-8 7-8 8-9 9-8 9-8 9-8 9-8 10-8 10-8 9-9 10-8 10"/>
<path stroke="#7395f4" d="M1430 1592l-8 9-8 9-8 9-8 9-8 8-9 9-8 9-8 8-8 9-8 8-9 8-8 8-8 8-8 7-8 8-9 7-8 7-8 7-8 6-8 6-9 6-8 5"/>
<path stroke="#d85646" d="M2075 733l-8 3-7 3-8 3-8 3-7 3-8 4-8 3-7 3"/>
<path stroke="#c12a30" d="M2014 758l-8 2-7 3-8 2-8 3-7 3-8 2-8 3-8 4-7 4-8 6-9 10-8 11-8 14-9 14"/>
<path stroke="#d85646" d="M1903 839l-8 21-9 25"/>
<path stroke="#e9795e" d="M1886 885l-9 25-9 24-9 25"/>
<path stroke="#f39879" d="M1859 959l-9 23-9 21-8 18"/>
<path stroke="#f7b397" d="M1833 1021l-9 17-8 17-9 18"/>
<path stroke="#f2c8b3" d="M1807 1073l-8 18-9 19-8 19-9 19"/>
<path stroke="#e6d7cf" d="M1773 1148l-8 17-9 16-8 16-8 17"/>
<path stroke="#d2dae7" d="M1740 1214l-9 19-8 21-9 21"/>
<path stroke="#bdd2f6" d="M1714 1275l-8 23-9 26"/>
<path stroke="#a6c3fd" d="M1697 1324l-9 24-8 22-9 20"/>
<path stroke="#8daffd" d="M1671 1390l-8 18-8 13-8 7-8 3-8 6-8 7-8 7-8 6-8 5-7 5-8 3-8 3-8 2-8 3-8 3-8 3-8 5-8 6-8 6-8 8-8 9-8 9-8 9-9 10-8 10-8 10-8 10-8 10-8 10-9 9"/>
<path stroke="#7395f4" d="M1430 1605l-8 9-8 9-8 8-8 9-8 9-9 9-8 8-8 8-8 9-8 8-8 8-9 7-8 8-8 8-8 7-9 7-8 7-8 7-8 6-9 6-8 6"/>
<path stroke="#d85646" d="M2083 739l-7 3-8 3-7 2-8 3-8 3-7 3-8 3-7 3"/>
<path stroke="#c12a30" d="M2023 762l-8 2-8 3-7 2-8 2-8 3-7 2-8 3-8 4-8 5-8 6-8 11-8 14-9 15"/>
<path stroke="#d85646" d="M1920 834l-8 17-9 24-10 30"/>
<path stroke="#e9795e" d="M1893 905l-9 29-9 29"/>
<path stroke="#f39879" d="M1875 963l-9 28-9 28"/>
<path stroke="#f7b397" d="M1857 1019l-9 23-9 21"/>
<path stroke="#f2c8b3" d="M1839 1063l-8 19-9 19-8 19-9 20"/>
<path stroke="#e6d7cf" d="M1805 1140l-8 22-9 21"/>
<path stroke="#d2dae7" d="M1788 1183l-9 21-8 18-9 18-8 17"/>
<path stroke="#bdd2f6" d="M1754 1257l-8 18-9 20-8 21"/>
<path stroke="#a6c3fd" d="M1729 1316l-9 23-8 22"/>
<path stroke="#8daffd" d="M1712 1361l-9 24-8 21-9 17"/>
<path stroke="#7395f4" d="M1686 1423l-8 16-8 12-8 8-8 1-7-2-8 1"/>
<path stroke="#8daffd" d="M1639 1459l-8 5-8 5-8 4-8 5-7 2-8 2-8 2-8 1-8 1-8 2-8 2-8 4-8 5-8 7-8 7-8 9-8 9-8 9-8 10-8 11-9 10-8 10-8 10-8 10-8 9"/>
<path stroke="#7395f4" d="M1439 1610l-8 9-9 9-8 9-8 8-8 9-8 8-8 9-9 8-8 8-8 8-8 8-8 7-9 8-8 8-8 7-8 7-9 7-8 7-8 7-8 7-9 6"/>
<path stroke="#d85646" d="M2092 745l-8 3-7 3-8 2-7 3-8 3-8 2-7 3-8 3"/>
<path stroke="#c12a30" d="M2031 767l-7 2-8 3-8 2-7 2-8 2-8 2-7 3-8 4-8 5-8 7-8 11-9 15-8 17"/>
<path stroke="#d85646" d="M1929 842l-9 19-9 26"/>
<path stroke="#e9795e" d="M1911 887l-10 33-9 33"/>
<path stroke="#f39879" d="M1892 953l-9 31-10 32"/>
<path stroke="#f7b397" d="M1873 1016l-9 29-9 26"/>
<path stroke="#f2c8b3" d="M1855 1071l-8 22-9 21-9 20"/>
<path stroke="#e6d7cf" d="M1829 1134l-8 20-9 22"/>
<path stroke="#d2dae7" d="M1812 1176l-9 23-8 23-9 22"/>
<path stroke="#bdd2f6" d="M1786 1244l-8 20-9 18-8 18"/>
<path stroke="#a6c3fd" d="M1761 1300l-9 18-8 20-9 22"/>
<path stroke="#8daffd" d="M1735 1360l-8 22-9 22-8 23"/>
<path stroke="#7395f4" d="M1710 1427l-9 19-8 14-8 12-8 9-7 5-8-4-7-5-8-2-8 3-8 4-8 4-7 3"/>
<path stroke="#8daffd" d="M1616 1489l-8 3-8 1-8 0-8 1-8 0-7 1-8 2-8 3-8 5-8 6-8 8-8 8-9 9-8 10-8 10-8 11-8 10-8 11-9 10-8 10-8 9"/>
<path stroke="#7395f4" d="M1447 1617l-8 9-8 8-8 9-9 8-8 8-8 9-8 8-8 8-9 8-8 8-8 7-8 8-8 8-9 7-8 8-8 7-8 7-8 7-9 7-8 7-8 7"/>
<path stroke="#d85646" d="M2100 751l-7 3-8 2-7 3-8 3-7 2-8 3-8 3-7 2"/>
<path stroke="#c12a30" d="M2040 772l-8 3-7 2-8 2-8 2-7 2-8 2-8 3-7 4-8 5-8 7-9 12-8 15-9 18"/>
<path stroke="#d85646" d="M1937 849l-8 19-10 27"/>
<path stroke="#e9795e" d="M1919 895l-9 34-10 35"/>
<path stroke="#f39879" d="M1900 964l-9 32-9 32"/>
<path stroke="#f7b397" d="M1882 1028l-10 31"/>
<path stroke="#f2c8b3" d="M1872 1059l-9 26-8 23-9 21"/>
<path stroke="#e6d7cf" d="M1846 1129l-9 21-8 21-9 22"/>
<path stroke="#d2dae7" d="M1820 1193l-9 24-8 23"/>
<path stroke="#bdd2f6" d="M1803 1240l-9 23-9 19-8 19"/>
<path stroke="#a6c3fd" d="M1777 1301l-8 18-9 18-8 20"/>
<path stroke="#8daffd" d="M1752 1357l-9 22-8 22-9 22"/>
<path stroke="#7395f4" d="M1726 1423l-8 22-9 19-8 12-8 11"/>
<path stroke="#5b79e4" d="M1693 1487l-8 8-8 4"/>
<path stroke="#7395f4" d="M1677 1499l-7-5-7-7-8-2-8 2-8 4-7 3-8 4"/>
<path stroke="#8daffd" d="M1624 1498l-8 2-8 1-8 0-7 0-8 0-8 1-8 2-8 3-8 4-8 7-8 7-8 9-8 9-8 10-9 10-8 11-8 10-8 11-8 10-9 9-8 10"/>
<path stroke="#7395f4" d="M1455 1624l-8 8-8 9-8 8-8 8-8 9-9 8-8 8-8 8-8 8-8 7-9 8-8 8-8 7-8 8-8 7-9 8-8 7-8 7-8 7-9 7-8 7"/>
<path stroke="#e9795e" d="M1283 245l8 5 7 5 8 5 8 4 8 5 8 4 7 4 8 5 8 5 8 5 8 5 7 5 8 4 8 5 8 5 8 5 8 5 8 5 8 5 7 5 8 5 8 5 8 5 8 4 8 5 8 5 8 5 8 5"/>
<path stroke="#d85646" d="M1503 380l8 5 8 5 8 5 8 5 8 5 8 5 8 5 8 5 8 5 8 5 8 5 8 5 8 5 9 5 8 5 8 5 8 5 8 5 8 6 8 5 8 5 9 5 8 5 8 5 8 5 8 5 9 5 8 5 8 5 8 6 8 5 9 5 8 5 8 5 9 5 8 5 8 6 8 5 9 5 8 5 8 5 9 5 8 6 8 5 9 5 8 5 9 5 8 6 8 5 9 5 8 5 9 6 8 5 9 5 8 5 9 5 8 5 8 5 9 6 9 5 8 5 9 5 8 5 9 5 8 4 9 5 9 5 8 6 9 6 8 6 9 6 8 6"/>
<path stroke="#e9795e" d="M1275 248l8 5 8 5 8 5 7 5 8 5 8 5 8 5 7 5 8 4 8 5 8 5 8 5 8 5 7 5 8 5 8 5 8 5 8 4 8 5 8 5 8 5 8 5 7 5 8 5 8 5 8 5 8 5 8 5 8 5"/>
<path stroke="#d85646" d="M1503 391l8 5 8 5 8 5 8 5 8 5 8 5 8 5 8 5 8 5 9 5 8 5 8 5 8 5 8 5 8 5 8 5 8 5 8 5 9 5 8 5 8 6 8 5 8 5 8 5 9 5 8 5 8 5 8 5 8 5 9 6 8 5 8 5 8 5 9 5 8 5 8 5 9 6 8 5 8 5 9 5 8 5 8 6 9 5 8 5 8 5 9 5 8 6 9 5 8 5 8 5 9 5 8 6 9 5 8 5 9 5 8 5 9 5 8 5 9 5 8 5 9 5 8 5 9 5 9 4 8 5 9 5 9 4 8 6 9 6 8 6 9 6"/>
<path stroke="#e9795e" d="M1267 250l8 6 8 5 8 6 8 5 7 6 8 5 8 5 8 5 8 5 7 5 8 5 8 5 8 5 8 5 8 4 7 5 8 5 8 5 8 5 8 5 8 5 8 5 8 5 8 5 8 5 8 5 8 5 8 5 7 5 8 5"/>
<path stroke="#d85646" d="M1503 402l8 5 8 5 8 5 9 5 8 5 8 5 8 5 8 5 8 5 8 5 8 5 8 5 8 5 8 5 8 5 8 5 9 5 8 5 8 5 8 5 8 5 8 6 9 5 8 5 8 5 8 5 8 5 9 5 8 5 8 6 8 5 9 5 8 5 8 5 9 5 8 6 8 5 8 5 9 5 8 5 9 6 8 5 8 5 9 5 8 5 8 6 9 5 8 5 9 5 8 5 9 5 8 6 8 5 9 5 8 5 9 5 9 5 8 5 9 5 8 5 9 4 8 5 9 4 9 5 8 4 9 4 9 5 8 6 9 6 8 5"/>
<path stroke="#e9795e" d="M1260 254l7 5 8 6 8 6 8 6 8 6 7 5 8 6 8 5 8 5 8 5 7 5 8 4 8 5 8 5 8 5 8 5 8 5 7 5 8 5 8 5 8 5 8 5 8 5 8 5 8 5 8 5 8 5 8 4 8 5 8 5 8 5 8 5"/>
<path stroke="#d85646" d="M1512 417l8 5 8 5 8 5 8 5 8 6 8 5 8 5 8 5 8 5 8 5 8 5 8 5 9 5 8 5 8 5 8 5 8 5 8 5 8 5 9 6 8 5 8 5 8 5 8 5 9 5 8 5 8 5 8 6 9 5 8 5 8 5 8 5 9 5 8 6 8 5 9 5 8 5 8 5 9 6 8 5 8 5 9 5 8 5 9 6 8 5 8 5 9 5 8 5 9 5 8 5 9 5 8 5 9 5 8 5 9 5 8 5 9 5 8 5 9 4 9 5 8 4 9 4 9 4 8 4 9 4 9 5 8 6 9 6"/>
<path stroke="#e9795e" d="M1252 257l8 6 7 6 8 6 8 6 8 7 8 6 7 5 8 6 8 5 8 5 8 4 7 5 8 5 8 5 8 5 8 5 8 5 8 5 8 5 7 5 8 5 8 5 8 5 8 5 8 4 8 5 8 5 8 5 8 5 8 5 8 5 8 5 8 5 8 5 8 5"/>
<path stroke="#d85646" d="M1528 438l8 5 8 6 8 5 8 5 8 5 8 5 8 5 9 5 8 5 8 5 8 5 8 5 8 5 8 5 8 5 9 6 8 5 8 5 8 5 8 5 9 5 8 5 8 5 8 6 9 5 8 5 8 5 8 5 9 5 8 6 8 5 9 5 8 5 8 5 9 6 8 5 8 5 9 5 8 5 8 6 9 5 8 5 9 5 8 5 9 5 8 5 8 5 9 5 8 5 9 5 8 5 9 5 9 5 8 4 9 5 8 5 9 4 8 4 9 4 9 3 9 3 8 4 9 5 9 6 8 6"/>
<path stroke="#e9795e" d="M1244 261l8 6 8 6 7 6 8 7 8 7 8 6 8 6 7 6 8 5 8 5 8 4 8 5 8 5 7 5 8 5 8 5 8 5 8 5 8 5 8 5 8 5 7 5 8 5 8 5 8 5 8 5 8 4 8 5 8 5 8 5 8 5 8 5 8 5 8 6 8 5 8 5 8 5"/>
<path stroke="#d85646" d="M1536 455l8 5 8 5 8 5 9 5 8 5 8 5 8 5 8 5 8 5 8 5 8 5 9 5 8 6 8 5 8 5 8 5 8 5 9 5 8 5 8 5 8 6 9 5 8 5 8 5 8 5 9 5 8 6 8 5 8 5 9 5 8 5 8 6 9 5 8 5 8 5 9 5 8 6 9 5 8 5 8 5 9 5 8 5 9 5 8 5 9 5 8 5 9 5 8 5 9 4 8 5 9 5 8 5 9 4 8 5 9 4 9 4 8 3 9 3 9 3 9 3 8 5 9 6 9 5"/>
<path stroke="#d85646" d="M1236 265l8 6"/>
<path stroke="#e9795e" d="M1244 271l8 6 8 7 7 7 8 7 8 7 8 6 8 6 7 5 8 5 8 4 8 5 8 5 8 5 7 5 8 5 8 5 8 5 8 5 8 5 8 5 8 5 8 5 8 5 7 5 8 5 8 5 8 5 8 5 8 5 8 5 8 5 8 5 8 5 8 5 8 5 8 5 9 5 8 5 8 5 8 5"/>
<path stroke="#d85646" d="M1561 481l8 5 8 5 8 5 8 5 8 5 8 6 9 5 8 5 8 5 8 5 8 5 8 5 9 5 8 5 8 6 8 5 8 5 9 5 8 5 8 5 8 6 9 5 8 5 8 5 9 5 8 5 8 6 9 5 8 5 8 5 9 5 8 6 8 5 9 5 8 5 9 5 8 5 8 5 9 5 8 5 9 5 8 5 9 5 8 4 9 5 8 5 9 4 9 5 8 4 9 4 8 4 9 4 9 3 9 2 8 3 9 4 9 4 8 5 9 6"/>
<path stroke="#d85646" d="M1229 270l7 6 8 6"/>
<path stroke="#e9795e" d="M1244 282l8 7 8 8 7 7 8 7 8 6 8 6 8 5 7 5 8 5 8 4 8 5 8 5 8 5 7 5 8 5 8 5 8 5 8 5 8 5 8 5 8 5 8 5 8 5 8 5 8 5 8 5 8 5 8 5 7 5 9 5 8 5 8 5 8 5 8 5 8 5 8 5 8 5 8 5 8 5 8 5 8 5 8 6"/>
<path stroke="#d85646" d="M1577 503l8 5 8 5 9 5 8 5 8 5 8 5 8 5 8 5 9 6 8 5 8 5 8 5 8 5 9 5 8 5 8 6 8 5 9 5 8 5 8 5 8 5 9 6 8 5 8 5 9 5 8 5 8 6 9 5 8 5 9 5 8 5 8 6 9 5 8 5 9 5 8 4 9 5 8 5 9 4 8 5 9 5 8 4 9 5 8 4 9 5 8 4 9 4 9 4 8 3 9 3 9 2 9 2 8 4 9 4 9 5 8 6"/>
<path stroke="#d85646" d="M1221 275l8 6 7 6"/>
<path stroke="#e9795e" d="M1236 287l8 7 8 8 8 7 7 8 8 6 8 6 8 5 8 5 7 5 8 5 8 5 8 4 8 5 8 5 8 5 7 5 8 5 8 5 8 5 8 5 8 5 8 5 8 5 8 5 8 5 8 5 8 5 8 5 8 5 8 5 8 5 8 5 8 5 8 5 8 5 8 5 8 5 8 6 8 5 8 5 8 5 8 5 8 5 9 5 8 5"/>
<path stroke="#d85646" d="M1594 524l8 5 8 5 8 6 8 5 9 5 8 5 8 5 8 5 8 5 9 6 8 5 8 5 8 5 9 5 8 5 8 6 8 5 9 5 8 5 8 5 9 5 8 6 8 5 9 5 8 5 8 5 9 6 8 5 9 5 8 5 8 5 9 5 8 4 9 5 8 5 9 4 8 4 9 5 8 4 9 5 8 4 9 4 9 4 8 4 9 4 9 3 8 3 9 1 9 3 9 3 9 4"/>
<path stroke="#c12a30" d="M2023 762l8 5 9 5"/>
<path stroke="#d85646" d="M1213 280l8 6 7 7"/>
<path stroke="#e9795e" d="M1228 293l8 7 8 8 8 7 8 8 7 6 8 6 8 5 8 5 8 5 7 5 8 5 8 5 8 5 8 5 8 4 8 5 8 5 7 5 8 5 8 5 8 5 8 5 8 5 8 5 8 5 8 5 8 5 8 5 8 5 8 5 8 5 8 5 8 6 8 5 8 5 8 5 8 5 8 5 8 5 8 5 8 5 9 5 8 5 8 5 8 6 8 5 8 5 8 5 9 5"/>
<path stroke="#d85646" d="M1619 551l8 5 8 5 8 5 8 6 8 5 9 5 8 5 8 5 8 5 9 6 8 5 8 5 9 5 8 5 8 5 8 6 9 5 8 5 8 5 9 5 8 5 8 6 9 5 8 5 9 5 8 5 9 5 8 4 8 5 9 5 8 4 9 4 8 4 9 5 9 4 8 4 9 5 8 4 9 4 9 3 8 4 9 3 9 2 9 2 8 2"/>
<path stroke="#c12a30" d="M1997 758l9 2 9 4 9 5 8 6"/>
<path stroke="#d85646" d="M1205 286l8 5"/>
<path stroke="#e9795e" d="M1213 291l8 7 7 8 8 7 8 8 8 8 8 6 7 6 8 5 8 5 8 5 8 5 7 5 8 5 8 5 8 5 8 5 8 5 8 5 8 5 8 4 7 5 8 5 8 5 8 5 8 5 8 5 8 5 8 6 8 5 8 5 8 5 8 5 8 5 8 5 8 5 8 5 8 5 8 5 8 5 8 5 8 5 9 5 8 6 8 5 8 5 8 5 8 5 8 5 9 5 8 5 8 6 8 5 8 5"/>
<path stroke="#d85646" d="M1635 573l8 5 9 5 8 5 8 5 8 6 9 5 8 5 8 5 8 5 9 5 8 6 8 5 9 5 8 5 8 5 9 5 8 6 8 5 9 5 8 5 8 5 9 5 8 5 9 5 8 4 9 5 8 4 9 4 8 4 9 4 8 4 9 4 8 4 9 5 9 4 8 4 9 3 9 4 8 3 9 2 9 1 9 1"/>
<path stroke="#c12a30" d="M1990 760l9 3 8 4 9 5 9 5"/>
<path stroke="#d85646" d="M1197 292l8 5"/>
<path stroke="#e9795e" d="M1205 297l8 7 8 8 7 7 8 8 8 8 8 6 8 6 7 5 8 5 8 5 8 5 8 5 8 5 7 5 8 5 8 5 8 5 8 5 8 5 8 5 8 5 8 5 7 5 8 5 8 5 8 5 8 5 8 5 8 5 8 5 8 5 8 5 8 5 8 5 8 5 8 5 8 5 8 5 8 5 9 5 8 6 8 5 8 5 8 5 8 5 8 5 8 5 8 5 9 6 8 5 8 5 8 5 8 5 9 5 8 5"/>
<path stroke="#d85646" d="M1644 589l8 6 8 5 8 5 9 5 8 5 8 5 9 5 8 6 8 5 8 5 9 5 8 5 8 5 9 6 8 5 8 5 9 5 8 5 9 5 8 5 8 5 9 4 8 5 9 4 8 4 9 4 8 4 9 3 9 4 8 4 9 4 8 4 9 5 8 3 9 4 9 3 9 3 8 2 9 1"/>
<path stroke="#c12a30" d="M1973 762l9 1 9 2 9 4 8 5 9 5"/>
<path stroke="#e9795e" d="M1189 298l8 6 8 6 8 8 8 8 7 7 8 8 8 6 8 6 8 5 7 5 8 5 8 5 8 5 8 5 8 5 7 5 8 5 8 5 8 5 8 5 8 5 8 5 8 5 8 5 8 5 7 5 8 5 8 5 8 5 8 5 8 5 8 5 8 5 8 5 8 5 8 5 8 5 9 5 8 5 8 5 8 6 8 5 8 5 8 5 8 5 8 5 8 5 8 5 9 6 8 5 8 5 8 5 8 5 9 5 8 5 8 5 8 6 8 5"/>
<path stroke="#d85646" d="M1652 606l9 5 8 5 8 5 8 5 9 5 8 6 8 5 9 5 8 5 8 5 9 5 8 5 8 5 9 6 8 5 8 5 9 4 8 5 9 5 8 4 9 5 8 4 9 3 8 4 9 4 8 3 9 4 8 4 9 4 9 4 8 4 9 4 8 3 9 3 9 3 9 2"/>
<path stroke="#c12a30" d="M1957 764l9 0 8 2 9 2 9 3 9 5 8 5"/>
<path stroke="#e9795e" d="M1182 304l7 6 8 7 8 7 8 8 8 7 7 7 8 7 8 6 8 5 8 5 7 5 8 5 8 5 8 5 8 5 8 5 7 6 8 5 8 5 8 5 8 5 8 6 8 5 8 5 8 5 8 5 8 5 8 5 8 5 7 5 8 4 8 5 8 5 9 5 8 5 8 5 8 5 8 5 8 5 8 5 8 5 8 5 8 5 8 5 8 5 8 5 9 6 8 5 8 5 8 5 8 5 8 5 8 5 9 5 8 6 8 5 8 5 9 5 8 5 8 5"/>
<path stroke="#d85646" d="M1661 622l8 5 9 5 8 6 8 5 8 5 9 5 8 5 8 5 9 5 8 5 8 5 9 5 8 5 9 5 8 5 8 5 9 4 8 5 9 3 8 4 9 4 8 3 9 4 8 3 9 3 9 4 8 4 9 4 8 5 9 3 9 4 8 3 9 3 9 1"/>
<path stroke="#c12a30" d="M1949 767l9 1 9 1 9 2 8 3 9 4 9 5"/>
<path stroke="#e9795e" d="M1174 311l8 6 7 7 8 7 8 7 8 7 7 7 8 7 8 6 8 5 8 6 7 5 8 5 8 5 8 6 8 5 8 5 8 6 7 5 8 5 8 6 8 5 8 5 8 6 8 5 8 5 8 5 8 5 8 5 8 4 8 5 8 5 8 5 8 5 8 4 8 5 8 5 8 4 8 5 8 5 8 5 8 4 8 5 8 5 8 5 8 5 9 5 8 5 8 6 8 5 8 5 8 5 8 5 9 5 8 5 8 5 8 5 8 5 9 5 8 6 8 5"/>
<path stroke="#d85646" d="M1653 628l8 5 9 5 8 5 8 5 9 5 8 5 8 5 8 5 9 5 8 5 9 5 8 5 8 5 9 5 8 5 9 4 8 5 8 4 9 3 8 4 9 3 9 3 8 3 9 3 8 3 9 4 9 4 8 4 9 4 8 4 9 3 9 3 8 3"/>
<path stroke="#c12a30" d="M1932 767l9 2 9 1 9 1 9 2 9 3 8 4 9 5"/>
<path stroke="#e9795e" d="M1166 318l8 6 7 6 8 7 8 8 8 7 8 7 7 7 8 6 8 6 8 5 8 6 7 5 8 6 8 5 8 6 8 5 8 6 8 5 7 6 8 5 8 6 8 5 8 6 8 5 8 5 8 5 8 5 8 5 8 4 8 5 8 5 8 4 8 5 8 5 8 4 8 5 8 4 8 4 8 5 8 4 8 5 8 4 8 5 8 5 9 5 8 5 8 5 8 5 8 5 8 5 8 5 9 5 8 5 8 5 8 5 8 5 9 5 8 5 8 5 8 5"/>
<path stroke="#d85646" d="M1645 633l9 5 8 5 8 5 8 5 9 5 8 5 8 5 9 5 8 5 8 5 9 5 8 5 8 5 9 4 8 5 9 5 8 4 9 3 8 4 9 3 8 3 9 3 8 2 9 3 9 3 8 4 9 4 8 4 9 4 9 4 8 3"/>
<path stroke="#c12a30" d="M1907 763l9 4 9 3 9 2 8 1 9 1 9 2 9 3 9 4 8 5"/>
<path stroke="#e9795e" d="M1158 326l8 5 8 7 7 7 8 7 8 7 8 8 8 7 7 7 8 6 8 5 8 6 8 6 7 6 8 5 8 6 8 5 8 6 8 6 8 6 7 5 8 6 8 5 8 6 8 5 8 5 8 5 8 5 8 5 8 4 8 5 8 5 8 4 8 5 8 4 8 4 8 5 8 4 8 4 8 3 8 4 8 5 8 4 8 4 9 5 8 4 8 5 8 5 8 5 8 4 8 5 9 5 8 5 8 5 8 5 8 5 8 5 9 5 8 5 8 5"/>
<path stroke="#d85646" d="M1629 633l8 5 9 5 8 5 8 5 9 5 8 5 8 5 8 5 9 5 8 5 9 5 8 5 8 4 9 5 8 5 8 4 9 4 8 4 9 4 8 3 9 2 9 3 8 3 9 2 8 2 9 3 9 4 8 4 9 5 8 4 9 4"/>
<path stroke="#c12a30" d="M1891 762l9 3 8 4 9 3 9 2 9 2 9 1 8 3 9 3 9 4 9 5"/>
<path stroke="#e9795e" d="M1150 333l8 6 8 6 8 7 7 8 8 8 8 8 8 7 8 7 7 6 8 6 8 6 8 6 8 6 7 6 8 6 8 6 8 5 8 6 8 6 8 6 8 5 7 6 8 6 8 5 8 5 8 5 8 5 8 5 8 4 8 5 8 4 8 5 8 4 8 4 8 5 8 3 8 4 8 4 8 3 8 3 8 4 8 4 8 4 9 4 8 4 8 4 8 5 8 4 8 5 8 5 9 5 8 5 8 4 8 5 8 5 9 5 8 5 8 5"/>
<path stroke="#d85646" d="M1613 633l8 5 9 5 8 5 8 5 8 5 9 5 8 5 8 5 9 5 8 5 8 4 9 5 8 5 8 4 9 5 8 4 9 5 8 4 9 3 8 3 9 3 8 2 9 3 9 2 8 2 9 2 8 3 9 4 9 5"/>
<path stroke="#c12a30" d="M1858 751l8 4 9 5 8 4 9 3 9 4 8 4 9 2 9 2 9 3 9 2 8 4 9 4 9 5"/>
<path stroke="#e9795e" d="M1142 343l8 5 8 7 8 7 8 7 7 9 8 8 8 8 8 7 8 6 7 6 8 7 8 6 8 6 8 6 7 6 8 6 8 6 8 6 8 6 8 5 8 6 8 6 7 5 8 6 8 5 8 5 8 5 8 5 8 4 8 5 8 4 8 4 8 5 8 4 8 4 8 3 8 3 8 3 8 3 8 3 8 3 8 3 9 3 8 4 8 4 8 4 8 4 8 4 8 5 9 4 8 5 8 5 8 5 8 4 9 5 8 5 8 5"/>
<path stroke="#d85646" d="M1597 633l8 5 8 5 9 5 8 5 8 5 9 4 8 5 8 5 8 5 9 5 8 5 9 4 8 5 8 4 9 5 8 4 8 4 9 4 8 4 9 4 8 2 9 3 9 2 8 2 9 2 8 2 9 2"/>
<path stroke="#c12a30" d="M1824 740l9 3 8 4 9 4 8 5 9 5 9 5 8 3 9 4 9 4 8 4 9 3 9 3 9 3 8 4 9 5 9 5"/>
<path stroke="#e9795e" d="M1135 355l7 5 8 6 8 7 8 8 7 8 8 8 8 8 8 7 8 7 7 6 8 7 8 6 8 6 8 6"/>
<path stroke="#f39879" d="M1244 450l8 6 7 7 8 6 8 6 8 6 8 6 8 6 8 6 8 5 7 6 8 5 8 5 8 5 8 5 8 4 8 5 8 4 8 4 8 4"/>
<path stroke="#e9795e" d="M1394 551l8 4 8 4 8 3 8 3 8 2 8 2 8 2 8 2 9 3 8 2 8 3 8 4 8 3 8 4 8 4 9 4 8 5 8 4 8 5 8 5 8 4 9 5 8 5"/>
<path stroke="#d85646" d="M1581 633l8 5 8 5 9 4 8 5 8 5 8 5 9 5 8 4 8 5 9 5 8 5 8 4 9 5 8 4 8 4 9 5 8 4 9 4 8 4 9 3 8 3 9 3 8 2 9 2 9 1 8 2 9 2"/>
<path stroke="#c12a30" d="M1808 738l8 2 9 3 9 4 8 5 9 6 8 5 9 5 9 4 8 4 9 5 9 4 8 5 9 5 8 5 9 5 9 5 8 6"/>
<path stroke="#e9795e" d="M1127 368l8 5 7 6 8 7 8 7 8 8 7 8 8 8 8 8"/>
<path stroke="#f39879" d="M1189 425l8 7 8 6 7 7 8 6 8 7 8 6 8 6 8 6 7 7 8 6 8 6 8 6 8 6 8 6 8 6 8 5 7 6 8 5 8 5 8 4 8 5 8 4 8 5 8 4 8 3 8 4 8 4 8 2 8 3"/>
<path stroke="#e9795e" d="M1418 578l8 2 8 1 8 1 8 1 9 2 8 2 8 2 8 3 8 3 8 3 8 4 9 4 8 4 8 5 8 4 8 5 9 4 8 5"/>
<path stroke="#d85646" d="M1565 633l8 4 8 5 8 5 9 5 8 4 8 5 9 5 8 4 8 5 8 5 9 4 8 5 9 4 8 5 8 4 9 4 8 4 8 4 9 4 8 4 9 3 8 3 9 2 9 2 8 1 9 1"/>
<path stroke="#c12a30" d="M1783 734l9 2 8 2 9 2 8 3 9 5 9 5 8 6 9 6 8 5 9 4 8 5 9 5 9 6 8 7 9 7 8 7 9 8 8 6 9 6"/>
<path stroke="#e9795e" d="M1119 382l8 5 8 6 7 6 8 8 8 7"/>
<path stroke="#f39879" d="M1158 414l8 8 7 9 8 7 8 7 8 7 8 7 7 6 8 7 8 6 8 7 8 6 8 6 7 7 8 6 8 6 8 7 8 5 8 6 8 6 8 5 7 5 8 5 8 5 8 4 8 5 8 4 8 4 8 4 8 3 8 3 8 3 8 2 8 1 8 1"/>
<path stroke="#e9795e" d="M1426 594l8 0 8 0 9 1 8 0 8 2 8 2 8 2 8 3 9 4 8 4 8 4 8 4 8 4 8 4 9 5"/>
<path stroke="#d85646" d="M1549 633l8 4 8 5 8 4 9 5 8 5 8 4 8 5 9 5 8 4 8 5 9 4 8 5 8 4 9 4 8 5 8 4 9 4 8 3 9 4 8 4 9 3 8 3 9 3 8 2 9 1 9 1"/>
<path stroke="#c12a30" d="M1767 733l8 1 9 2 8 1 9 3 9 3 8 5 9 6 8 6 9 7 8 5 9 5 9 5 8 6 9 8 8 9 8 10 9 10 8 9 9 8"/>
<path stroke="#d85646" d="M1929 842l8 7"/>
<path stroke="#f39879" d="M1111 397l8 5 8 6 8 6 7 7 8 7 8 9 8 8 7 8 8 7 8 7 8 7 8 6 7 7 8 6 8 7 8 6 8 7 8 7 7 6 8 6 8 7 8 6 8 6 8 5 8 6 8 5 7 5 8 4 8 5 8 4 8 4 8 4 8 4 8 3 8 3 8 3 8 1 8 0 8 0 8-1"/>
<path stroke="#e9795e" d="M1426 606l9 0 8-1 8-1 8 1 8 1 8 2 8 3 9 3 8 3 8 4 8 4 8 4 9 4"/>
<path stroke="#d85646" d="M1533 633l8 5 8 4 8 4 8 5 9 4 8 5 8 4 9 5 8 4 8 4 8 5 9 4 8 4 8 5 9 4 8 4 9 4 8 3 8 4 9 3 8 4 9 3 8 3 9 2 9 2"/>
<path stroke="#c12a30" d="M1742 731l8 1 9 1 8 1 9 1 9 2 8 2 9 4 9 6 8 6 9 7 8 7 9 6 8 5 9 6 8 6 9 10 8 12 8 13"/>
<path stroke="#d85646" d="M1895 827l8 12 9 12 8 10 9 7"/>
<path stroke="#f39879" d="M1104 412l7 6 8 5 8 6 8 7 7 7 8 9 8 8 8 8 7 7 8 7 8 7 8 7 8 7 7 6 8 7 8 7 8 6 8 7"/>
<path stroke="#f7b397" d="M1244 536l8 7 7 6 8 6 8 7 8 6 8 5 8 6 8 5 8 5 7 5 8 4 8 4 8 4"/>
<path stroke="#f39879" d="M1346 606l8 4 8 4 8 3 8 3 8 2 8 1 8 0 8-2 8-1 9-3"/>
<path stroke="#e9795e" d="M1427 617l8-2 8-1 8-1 8 1 8 1 9 2 8 3 8 3 8 4 8 4 8 3 9 4"/>
<path stroke="#d85646" d="M1525 638l8 4 8 4 8 5 9 4 8 4 8 4 8 5 9 4 8 4 8 5 9 4 8 4 8 4 9 4 8 4 8 4 9 4 8 3 9 3 8 4 9 3 8 3 9 2 8 2"/>
<path stroke="#c12a30" d="M1725 729l9 1 8 1 9 1 9 1 8 2 9 2 9 3 8 4 9 6 8 7 9 8 8 7 9 6 8 6 9 7 8 7 9 12 8 15"/>
<path stroke="#d85646" d="M1879 825l8 18 8 17 8 15 8 12 8 8"/>
<path stroke="#f39879" d="M1096 430l8 5 7 5 8 6 8 6 8 8 7 8 8 8 8 8 8 7 7 8"/>
<path stroke="#f7b397" d="M1173 499l8 7 8 7 8 7 8 6 7 7 8 7 8 7 8 6 8 7 8 7 7 6 8 6 8 6 8 6 8 5 8 6 8 5 8 4 7 5 8 4 8 4 8 4 8 4 8 3 8 2 8 2"/>
<path stroke="#f39879" d="M1378 639l8 1 8-1 8-2 8-3 9-4 8-4"/>
<path stroke="#e9795e" d="M1427 626l8-2 8-2 8-1 8 1 9 2 8 2 8 3 8 4 8 3 9 4 8 4"/>
<path stroke="#d85646" d="M1517 644l8 3 8 4 8 4 9 4 8 4 8 4 9 4 8 4 8 5 8 4 9 4 8 4 8 4 9 3 8 4 9 4 8 3 8 3 9 3 8 3 9 3 8 3 9 2"/>
<path stroke="#c12a30" d="M1709 727l9 2 8 1 9 1 8 1 9 1 9 2 8 2 9 3 9 5 8 7 8 7 9 9 8 8 9 7 8 6 9 7 8 8 8 15 8 20"/>
<path stroke="#d85646" d="M1870 839l8 23 8 23 7 20"/>
<path stroke="#e9795e" d="M1893 905l8 15 9 9"/>
<path stroke="#f39879" d="M1088 449l8 5 8 5 7 5 8 6 8 7"/>
<path stroke="#f7b397" d="M1127 477l8 8 7 8 8 8 8 7 8 8 8 7 7 7 8 7 8 7 8 7 7 7 8 6 8 7 8 7 8 7 8 6 7 6 8 7 8 5 8 6 8 5 8 5 8 5 8 4 7 5 8 4 8 4 8 3 8 3 8 3 8 1 8 0 8-1"/>
<path stroke="#f39879" d="M1386 656l8-3 8-5 9-5 8-5 8-4"/>
<path stroke="#e9795e" d="M1427 634l8-3 8-2 8 1 9 1 8 2 8 3 8 3 8 3 9 4 8 3"/>
<path stroke="#d85646" d="M1509 649l8 3 8 4 9 3 8 4 8 4 8 4 9 4 8 4 8 4 9 3 8 4 8 4 9 4 8 4 8 3 9 3 8 4 9 3 8 2 9 3 8 2"/>
<path stroke="#c12a30" d="M1684 722l9 3 8 2 9 2 8 1 9 1 9 1 8 1 9 2 9 3 8 3 9 6 8 7 9 8 8 9 8 9 9 7 8 7 9 8 8 9 8 18"/>
<path stroke="#d85646" d="M1854 829l8 25 7 28"/>
<path stroke="#e9795e" d="M1869 882l8 28 7 24 8 19"/>
<path stroke="#f39879" d="M1892 953l8 11"/>
<path stroke="#f7b397" d="M1081 470l7 5 8 4 8 5 7 5 8 7 8 7 8 8 7 7 8 8 8 8 8 7 8 7 7 7 8 7 8 7 8 7 8 7 7 7 8 7 8 6 8 7 8 6 7 6"/>
<path stroke="#f2c8b3" d="M1259 622l8 6 8 6 8 5 8 5"/>
<path stroke="#f7b397" d="M1291 644l8 5 8 4 8 5 7 4 8 3 8 4 8 3 8 2 8 1 8 0 8-2 8-4"/>
<path stroke="#f39879" d="M1386 669l8-5 9-6 8-6 8-6"/>
<path stroke="#e9795e" d="M1419 646l8-4 8-3 8 0 9 0 8 2 8 2 8 3 8 3 9 3 8 3"/>
<path stroke="#d85646" d="M1501 655l8 3 8 3 9 3 8 3 8 4 8 4 9 3 8 4 8 4 9 3 8 4 8 3 9 4 8 3 9 4 8 3 8 3 9 2 8 3"/>
<path stroke="#c12a30" d="M1659 718l9 2 8 3 9 2 8 2 9 1 9 1 8 1 9 2 9 1 8 3 9 3 8 4 9 6 8 8 9 9 8 10 8 9 9 8 8 8 9 8 8 10 8 21"/>
<path stroke="#d85646" d="M1846 840l7 29 8 33"/>
<path stroke="#e9795e" d="M1861 902l7 32 7 29"/>
<path stroke="#f39879" d="M1875 963l8 21 8 12"/>
<path stroke="#f7b397" d="M1073 491l8 4 7 4 8 5 8 5 7 5 8 7 8 8 8 8 7 7 8 8 8 7 8 8 8 7"/>
<path stroke="#f2c8b3" d="M1174 574l7 7 8 7 8 7 8 7 8 7 7 7 8 7 8 6 8 7 8 6 7 6 8 5 8 6 8 5 8 4 8 5 8 4 8 4 7 4 8 3 8 3 8 2"/>
<path stroke="#f7b397" d="M1346 693l8 1 8-1 8-2 8-4 8-6"/>
<path stroke="#f39879" d="M1386 681l9-7 8-8 8-7 8-5"/>
<path stroke="#e9795e" d="M1419 654l8-4 8-2 9 0 8 1 8 2 8 2 8 3 9 2 8 3"/>
<path stroke="#d85646" d="M1493 661l8 2 8 3 9 3 8 3 8 3 8 3 9 4 8 3 8 4 9 3 8 3 8 4 9 3 8 3 9 3 8 3 9 3 8 2"/>
<path stroke="#c12a30" d="M1643 716l9 2 8 3 9 2 8 2 9 2 8 1 9 1 8 2 9 1 9 2 8 3 9 4 8 5 9 7 8 8 9 10 8 10 8 10 9 9 8 8 9 8 8 11 8 24"/>
<path stroke="#d85646" d="M1838 851l7 33"/>
<path stroke="#e9795e" d="M1845 884l7 37 7 38"/>
<path stroke="#f39879" d="M1859 959l7 32 7 25"/>
<path stroke="#f7b397" d="M1873 1016l9 12"/>
<path stroke="#f7b397" d="M1065 510l8 5 8 4 7 4 8 5 8 5 8 7 7 8"/>
<path stroke="#f2c8b3" d="M1119 548l8 8 8 7 8 8 7 8 8 7 8 7 8 7 7 7 8 7 8 7 8 7 8 7 7 7 8 7 8 6 8 7 8 6 7 5 8 6 8 4 8 5 8 5 8 4 8 3 8 4 7 3 8 3 8 2 8 1 8-1"/>
<path stroke="#f7b397" d="M1354 712l8-3 8-4 8-7 9-8"/>
<path stroke="#f39879" d="M1387 690l8-8 8-9 8-7 8-5"/>
<path stroke="#e9795e" d="M1419 661l8-3 9 0 8 0 8 2 8 1 8 2 9 2 8 2"/>
<path stroke="#d85646" d="M1485 667l8 2 8 2 9 3 8 2 8 3 9 3 8 3 8 3 9 3 8 4 8 3 9 3 8 3 8 3 9 3 8 2"/>
<path stroke="#c12a30" d="M1618 712l9 3 8 2 9 2 8 2 9 2 8 2 9 2 8 1 9 2 9 1 8 2 9 3 8 4 9 6 8 6 9 6 8 8 9 11 8 11 8 10 9 9 8 9 9 9 8 11 8 26"/>
<path stroke="#d85646" d="M1830 862l7 37"/>
<path stroke="#e9795e" d="M1837 899l6 42"/>
<path stroke="#f39879" d="M1843 941l7 41 7 37"/>
<path stroke="#f7b397" d="M1857 1019l7 26 8 14"/>
<path stroke="#f2c8b3" d="M1058 529l7 5 8 4 8 4 7 5 8 6 8 6 8 8 7 8 8 8 8 8 8 7 7 7 8 8 8 7 8 7 7 7 8 7 8 7 8 7 8 7 7 7 8 7 8 6"/>
<path stroke="#e6d7cf" d="M1236 682l8 6 8 5 7 6 8 5"/>
<path stroke="#f2c8b3" d="M1267 704l8 4 8 4 8 4 8 4 8 3 8 3 7 3 8 2 8 0 8 0 8-3 8-5"/>
<path stroke="#f7b397" d="M1362 723l8-7 8-9 9-10"/>
<path stroke="#f39879" d="M1387 697l8-10 8-8 8-6"/>
<path stroke="#e9795e" d="M1411 673l8-4 9-1 8-1 8 1 8 1 8 2 9 1 8 2"/>
<path stroke="#d85646" d="M1477 674l8 1 8 2 9 2 8 2 8 2 9 3 8 3 8 2 9 3 8 3 8 3 9 3 8 3 8 3 9 2"/>
<path stroke="#c12a30" d="M1602 711l8 3 9 2 8 2 9 2 8 1 9 2 8 2 9 2 9 2 8 1 9 2 8 3 9 5 8 6 9 6 8 6 9 5 8 9 9 12 8 11 8 11 9 9 8 9 9 10 8 11"/>
<path stroke="#d85646" d="M1814 845l7 28 7 40"/>
<path stroke="#e9795e" d="M1828 913l7 45"/>
<path stroke="#f39879" d="M1835 958l6 45"/>
<path stroke="#f7b397" d="M1841 1003l7 39 7 29"/>
<path stroke="#f2c8b3" d="M1855 1071l8 14"/>
<path stroke="#f2c8b3" d="M1050 548l8 5 8 4 7 4 8 5 8 6 7 7 8 8 8 8 7 8 8 7 8 8 8 7 7 8"/>
<path stroke="#e6d7cf" d="M1150 633l8 7 8 7 8 7 7 7 8 8 8 7 8 7 8 6 7 7 8 6 8 6 8 6 8 5 7 5 8 4 8 4 8 4 8 4 8 3 8 2 8 3"/>
<path stroke="#f2c8b3" d="M1315 748l7 1 8 1 8-1 8-3 8-5 8-8"/>
<path stroke="#f7b397" d="M1362 733l8-10 9-11"/>
<path stroke="#f39879" d="M1379 712l8-11 8-9 8-7 8-5"/>
<path stroke="#e9795e" d="M1411 680l9-2 8-1 8 0 8 1 8 1 9 1 8 0 8 1"/>
<path stroke="#d85646" d="M1477 681l8 1 9 1 8 2 8 2 9 2 8 3 8 3 9 2 8 3 8 2 9 3 8 3 9 2"/>
<path stroke="#c12a30" d="M1586 710l8 3 8 2 9 2 8 2 9 1 8 2 9 2 9 1 8 2 9 2 8 3 9 3 8 5 9 6 8 6 9 6 8 5 9 6 8 10 9 12 8 12 8 11 9 10 8 10 8 9 9 12"/>
<path stroke="#d85646" d="M1806 855l7 29 7 42"/>
<path stroke="#e9795e" d="M1820 926l6 48"/>
<path stroke="#f39879" d="M1826 974l7 47"/>
<path stroke="#f7b397" d="M1833 1021l6 42"/>
<path stroke="#f2c8b3" d="M1839 1063l8 30 8 15"/>
<path stroke="#f2c8b3" d="M1043 567l7 5 8 4 8 4 7 6 8 6 8 7 7 8"/>
<path stroke="#e6d7cf" d="M1096 607l8 8 8 8 8 8 7 7 8 8 8 7 7 7 8 7 8 8 8 7 8 7 7 7 8 7 8 7 8 6 7 7 8 6 8 5 8 5 8 5 7 4 8 4 8 4 8 3 8 3 8 2 8 2 8 1 7 1 8-2"/>
<path stroke="#f2c8b3" d="M1330 766l8-3 8-5 8-8"/>
<path stroke="#f7b397" d="M1354 750l9-10 8-12 8-12"/>
<path stroke="#f39879" d="M1379 716l8-11 8-8 8-6"/>
<path stroke="#e9795e" d="M1403 691l9-3 8-1 8-1 8 0 8 1 9 0 8 0 8 0"/>
<path stroke="#d85646" d="M1469 687l8 1 9 0 8 2 8 1 9 2 8 2 8 3 9 2 8 2 8 3 9 2"/>
<path stroke="#c12a30" d="M1561 707l8 3 9 2 8 3 9 2 8 1 9 2 8 1 9 2 8 1 9 2 8 3 9 2 8 4 9 5 8 6 9 6 8 6 9 5 8 6 9 7 8 11 8 13 9 12 8 12 8 10 9 9 8 10 8 12"/>
<path stroke="#d85646" d="M1797 865l8 30 7 44"/>
<path stroke="#e9795e" d="M1812 939l6 50"/>
<path stroke="#f39879" d="M1818 989l6 49"/>
<path stroke="#f7b397" d="M1824 1038l7 44"/>
<path stroke="#f2c8b3" d="M1831 1082l7 32 8 15"/>
<path stroke="#e6d7cf" d="M1035 586l8 5 7 4 8 5 8 5 7 7 8 7 8 8 7 8 8 8 8 8 8 8 7 7 8 7 8 8 8 7 7 7 8 7 8 8 8 7 7 7 8 6"/>
<path stroke="#d2dae7" d="M1197 730l8 7 8 6 7 6 8 6 8 5 8 4 8 4"/>
<path stroke="#e6d7cf" d="M1252 768l7 4 8 3 8 3 8 2 8 2 8 1 8 1 8 0 7-1 8-3"/>
<path stroke="#f2c8b3" d="M1330 780l8-6 8-8 9-10"/>
<path stroke="#f7b397" d="M1355 756l8-13 8-13 8-12"/>
<path stroke="#f39879" d="M1379 718l8-9 8-7 9-4"/>
<path stroke="#e9795e" d="M1404 698l8-2 8-1 8 0 8 0 9-1 8 0 8-1"/>
<path stroke="#d85646" d="M1461 693l8 0 9 0 8 1 8 1 9 2 8 2 8 2 9 2 8 2 8 2"/>
<path stroke="#c12a30" d="M1544 707l9 3 8 2 9 2 8 2 9 3 8 1 9 2 8 1 9 1 8 2 9 2 8 2 9 5 8 5 9 6 8 6 9 6 8 5 9 6 8 6 9 9 8 13 8 12 8 13 9 11 8 11 9 9 8 10"/>
<path stroke="#d85646" d="M1781 863l8 12 8 32"/>
<path stroke="#e9795e" d="M1797 907l6 45"/>
<path stroke="#f39879" d="M1803 952l7 52"/>
<path stroke="#f7b397" d="M1810 1004l6 51"/>
<path stroke="#f2c8b3" d="M1816 1055l6 46 7 33"/>
<path stroke="#e6d7cf" d="M1829 1134l8 16"/>
<path stroke="#e6d7cf" d="M1028 605l7 5 8 4 7 5 8 6 8 7 7 7 8 8 8 9 8 8 7 8 8 7 8 8"/>
<path stroke="#d2dae7" d="M1120 687l7 7 8 7 8 7 8 7 7 6 8 7 8 7 8 7 7 6 8 6 8 7 8 5 7 6 8 4 8 5 8 4 8 3 7 3 8 2 8 2"/>
<path stroke="#e6d7cf" d="M1275 795l8 2 8 1 8 1 8-1 8-1 8-3 7-5"/>
<path stroke="#f2c8b3" d="M1330 789l9-8 8-10 8-13"/>
<path stroke="#f7b397" d="M1355 758l8-14 8-13"/>
<path stroke="#f39879" d="M1371 731l8-10 8-7 9-4 8-3"/>
<path stroke="#e9795e" d="M1404 707l8-2 8-1 8-1 9-1 8-2 8-1"/>
<path stroke="#d85646" d="M1453 699l8 0 9 0 8 0 8 1 9 1 8 1 8 2 9 2 8 2 9 2"/>
<path stroke="#c12a30" d="M1537 710l8 2 8 3 9 2 8 2 9 2 8 1 9 2 8 1 9 1 8 2 9 2 8 5 9 5 8 6 9 6 8 6 9 5 8 6 9 6 8 8 8 11 9 12 8 13 8 13 9 11 8 11 8 9 9 10"/>
<path stroke="#d85646" d="M1773 873l8 13 7 32"/>
<path stroke="#e9795e" d="M1788 918l7 47"/>
<path stroke="#f39879" d="M1795 965l6 54"/>
<path stroke="#f7b397" d="M1801 1019l6 54"/>
<path stroke="#f2c8b3" d="M1807 1073l7 47"/>
<path stroke="#e6d7cf" d="M1814 1120l7 34 8 17"/>
<path stroke="#e6d7cf" d="M1020 624l8 5 7 4 8 5 7 6 8 8 8 7"/>
<path stroke="#d2dae7" d="M1066 659l8 9 7 8 8 7 8 7 7 8 8 7 8 6 7 7 8 7 8 7 8 7 7 6 8 7 8 7 8 6 7 7 8 6 8 5 8 5 7 5 8 4 8 4 8 3 8 2 7 2 8 1 8 1 8 0"/>
<path stroke="#e6d7cf" d="M1283 810l8 0 8-1 8-1 8-3 8-5"/>
<path stroke="#f2c8b3" d="M1323 800l8-7 8-9 8-11"/>
<path stroke="#f7b397" d="M1347 773l8-12 8-12 8-11"/>
<path stroke="#f39879" d="M1371 738l8-9 8-7 9-4"/>
<path stroke="#e9795e" d="M1396 718l8-3 8-2 8-2 9-2 8-2 8-2"/>
<path stroke="#d85646" d="M1445 705l8-1 9 0 8-1 8 1 9 1 8 1 8 2 9 2 8 1"/>
<path stroke="#c12a30" d="M1520 711l9 2 8 2 8 2 9 3 8 2 9 2 8 1 9 1 8 1 9 2 8 2 9 4 8 5 9 6 8 6 9 6 8 5 9 6 8 6 9 8 8 10 8 11 8 13 9 13 8 12 8 12 9 10 8 9"/>
<path stroke="#d85646" d="M1756 873l8 10 9 13 7 33"/>
<path stroke="#e9795e" d="M1780 929l7 49"/>
<path stroke="#f39879" d="M1787 978l6 57"/>
<path stroke="#f7b397" d="M1793 1035l6 56"/>
<path stroke="#f2c8b3" d="M1799 1091l6 49"/>
<path stroke="#e6d7cf" d="M1805 1140l7 36"/>
<path stroke="#d2dae7" d="M1812 1176l8 17"/>
<path stroke="#d2dae7" d="M1012 642l8 5 8 5 7 6 8 6 8 6 7 8 8 8 8 7 7 8 8 7 8 7 7 7 8 7 8 6 7 7 8 7 8 7 8 7 7 6 8 7 8 6 8 7 7 5 8 6 8 5 8 4 7 4 8 3 8 3 8 1 8 1 7 1 8 0 8-1 8-1"/>
<path stroke="#e6d7cf" d="M1283 820l8-1 8-2 8-2 8-4 8-5"/>
<path stroke="#f2c8b3" d="M1323 806l8-7 8-9 8-12"/>
<path stroke="#f7b397" d="M1347 778l8-12 8-12"/>
<path stroke="#f39879" d="M1363 754l8-11 8-8 9-6 8-4"/>
<path stroke="#e9795e" d="M1396 725l8-3 8-3 9-3 8-2 8-3"/>
<path stroke="#d85646" d="M1437 711l8-1 9-1 8-1 8 0 9 1 8 1 8 2 9 1"/>
<path stroke="#c12a30" d="M1504 713l8 2 9 2 8 2 8 2 9 2 8 2 9 2 8 1 9 1 8 2 9 2 8 2 9 5 8 6 9 6 8 6 9 5 8 6 9 6 8 8 8 10 9 10 8 12 8 13 8 13 9 12 8 11"/>
<path stroke="#d85646" d="M1731 864l8 10 9 10 8 9 8 13 8 35"/>
<path stroke="#e9795e" d="M1772 941l6 51"/>
<path stroke="#f39879" d="M1778 992l6 59"/>
<path stroke="#f7b397" d="M1784 1051l6 59"/>
<path stroke="#e6d7cf" d="M1790 1110l7 52 6 37"/>
<path stroke="#d2dae7" d="M1803 1199l8 18"/>
<path stroke="#d2dae7" d="M1005 661l7 5 8 5 8 5 7 6 8 6 8 7 7 8 8 8 8 7 7 7 8 7 8 7 7 7 8 6 8 7 8 7"/>
<path stroke="#bdd2f6" d="M1128 766l7 7 8 7 8 6 7 7 8 6 8 6 8 6 7 6 8 4 8 4 8 4 7 3"/>
<path stroke="#d2dae7" d="M1220 832l8 1 8 1 8 1 8-1 7-1 8-2 8-1"/>
<path stroke="#e6d7cf" d="M1275 830l8-2 8-2 8-2 8-2 8-4"/>
<path stroke="#f2c8b3" d="M1315 818l8-5 8-8 8-10 8-12"/>
<path stroke="#f7b397" d="M1347 783l8-13 8-12"/>
<path stroke="#f39879" d="M1363 758l8-9 9-8 8-6"/>
<path stroke="#e9795e" d="M1388 735l8-5 8-3 8-4 9-3 8-2"/>
<path stroke="#d85646" d="M1429 718l8-2 9-2 8-1 8 0 9 0 8 1 8 2 9 1"/>
<path stroke="#c12a30" d="M1496 717l8 2 8 2 9 1 8 2 9 3 8 2 9 2 8 1 9 1 8 2 9 2 8 3 9 6 8 6 9 6 8 5 8 6 9 6 8 9 9 10 8 10 8 11 9 12 8 12 8 13 8 11"/>
<path stroke="#d85646" d="M1714 863l9 11 8 10 9 10 8 9 8 13 7 36"/>
<path stroke="#e9795e" d="M1763 952l7 54"/>
<path stroke="#f39879" d="M1770 1006l6 62"/>
<path stroke="#f2c8b3" d="M1776 1068l6 61"/>
<path stroke="#e6d7cf" d="M1782 1129l6 54"/>
<path stroke="#d2dae7" d="M1788 1183l7 39 8 18"/>
<path stroke="#d2dae7" d="M997 680l8 5 7 4 8 5 8 6 7 6 8 7 8 7 7 8 8 7"/>
<path stroke="#bdd2f6" d="M1066 735l8 7 7 7 8 7 8 7 7 7 8 6 8 7 8 7 7 7 8 6 8 7 7 6 8 6 8 6 8 5 7 4 8 4 8 3 8 2 7 2 8 0"/>
<path stroke="#d2dae7" d="M1228 848l8-1 8-1 8-2 7-3 8-3 8-2"/>
<path stroke="#e6d7cf" d="M1275 836l8-2 8-2 8-2 8-2 8-3"/>
<path stroke="#f2c8b3" d="M1315 825l8-5 8-9 8-11"/>
<path stroke="#f7b397" d="M1339 800l8-13 8-13 8-12"/>
<path stroke="#f39879" d="M1363 762l9-9 8-8 8-6"/>
<path stroke="#e9795e" d="M1388 739l8-4 8-4 9-3 8-4"/>
<path stroke="#d85646" d="M1421 724l8-2 9-3 8-1 8 0 9 0 8 1 8 1 9 2"/>
<path stroke="#c12a30" d="M1488 722l8 1 8 2 9 2 8 2 9 3 8 2 9 1 8 2 9 1 8 2 9 2 8 4 8 6 9 6 8 5 9 6 8 7 9 9 8 10 8 10 9 11 8 10 8 12 9 13 8 12 8 11"/>
<path stroke="#d85646" d="M1706 874l9 11 8 9 8 9 9 10 8 13 7 38"/>
<path stroke="#e9795e" d="M1755 964l7 55"/>
<path stroke="#f7b397" d="M1762 1019l5 64"/>
<path stroke="#f2c8b3" d="M1767 1083l6 65"/>
<path stroke="#e6d7cf" d="M1773 1148l6 56"/>
<path stroke="#d2dae7" d="M1779 1204l7 40"/>
<path stroke="#bdd2f6" d="M1786 1244l8 19"/>
<path stroke="#bdd2f6" d="M990 698l7 5 8 5 8 4 7 6 8 6 7 6 8 8 8 7 7 7 8 7 8 7 7 7 8 7 8 6 7 7 8 7 8 7 8 6 7 7 8 6 8 7 7 6 8 5 8 5 8 4 7 4 8 3 8 1 8 1 7 0 8-2"/>
<path stroke="#d2dae7" d="M1228 860l8-2 8-4 8-4 7-4 8-3"/>
<path stroke="#e6d7cf" d="M1267 843l8-3 8-2 8 0 8-1 8-1 8-3"/>
<path stroke="#f2c8b3" d="M1315 833l8-7 8-9 8-13"/>
<path stroke="#f7b397" d="M1339 804l8-14 8-13"/>
<path stroke="#f39879" d="M1355 777l8-12 9-8 8-6"/>
<path stroke="#e9795e" d="M1380 751l8-5 8-6 9-4 8-5"/>
<path stroke="#d85646" d="M1413 731l8-3 9-3 8-1 8-1 9 0 8 1 8 1 9 2"/>
<path stroke="#c12a30" d="M1480 727l8 1 8 2 9 2 8 2 9 3 8 2 8 2 9 1 8 2 9 2 8 3 9 3 8 6 9 5 8 6 9 8 8 9 8 10 9 11 8 10 8 11 9 11 8 11 8 12 9 12"/>
<path stroke="#d85646" d="M1690 874l8 11 8 10 9 10 8 8 9 10 8 13"/>
<path stroke="#e9795e" d="M1740 936l7 39 6 57"/>
<path stroke="#f7b397" d="M1753 1032l6 66"/>
<path stroke="#f2c8b3" d="M1759 1098l6 67"/>
<path stroke="#e6d7cf" d="M1765 1165l6 57"/>
<path stroke="#bdd2f6" d="M1771 1222l7 42 7 18"/>
<path stroke="#bdd2f6" d="M982 717l8 5 7 4 8 5 8 5 7 6 8 6 7 7 8 7 8 7 7 7 8 7 8 7 7 7 8 6 8 7 7 7 8 6 8 7 8 6 7 7 8 6 8 6 7 5 8 5 8 4 8 3 7 3 8 1 8 0 8-1 7-2 8-3"/>
<path stroke="#d2dae7" d="M1228 870l8-5 8-5 7-6 8-4"/>
<path stroke="#e6d7cf" d="M1259 850l8-4 8-2 8 0 8 1 8 0 8-1"/>
<path stroke="#f2c8b3" d="M1307 844l8-3 8-8 8-12"/>
<path stroke="#f7b397" d="M1331 821l8-14 8-15 8-10"/>
<path stroke="#f39879" d="M1355 782l9-9 8-8 8-8"/>
<path stroke="#e9795e" d="M1380 757l8-6 9-7 8-5 8-4"/>
<path stroke="#d85646" d="M1413 735l8-3 9-2 8-1 8 0 9 1 8 1 9 1"/>
<path stroke="#c12a30" d="M1472 732l8 2 8 1 9 2 8 2 8 4 9 2 8 2 9 2 8 2 9 2 8 3 9 4 8 4 9 6 8 8 8 9 9 10 8 11 8 11 9 10 8 11 8 11 9 11 8 12"/>
<path stroke="#d85646" d="M1673 874l8 11 9 11 8 10 8 9 9 8 8 9 9 14"/>
<path stroke="#e9795e" d="M1732 946l7 40"/>
<path stroke="#f39879" d="M1739 986l6 59"/>
<path stroke="#f7b397" d="M1745 1045l6 68"/>
<path stroke="#f2c8b3" d="M1751 1113l5 68"/>
<path stroke="#d2dae7" d="M1756 1181l6 59"/>
<path stroke="#bdd2f6" d="M1762 1240l7 42 8 19"/>
<path stroke="#bdd2f6" d="M975 736l7 5 8 4 7 4 8 5 8 5 7 6 8 7 7 7 8 7 8 7 7 7 8 7 8 6 7 7"/>
<path stroke="#a6c3fd" d="M1081 820l8 6 8 7 7 7 8 6 8 7 8 6 7 6 8 6 8 5 7 5 8 4 8 2 8 2"/>
<path stroke="#bdd2f6" d="M1182 889l7 1 8 0 8-1 7-3 8-4 8-6"/>
<path stroke="#d2dae7" d="M1228 876l8-6 8-7 7-7"/>
<path stroke="#e6d7cf" d="M1251 856l8-4 8-2 8 0 8 2 8 2 8 2 8-2"/>
<path stroke="#f2c8b3" d="M1307 854l8-5 8-10 8-11"/>
<path stroke="#f7b397" d="M1331 828l8-12 8-12 8-12"/>
<path stroke="#f39879" d="M1355 792l9-11 8-10"/>
<path stroke="#e9795e" d="M1372 771l8-9 8-7 9-7 8-5"/>
<path stroke="#d85646" d="M1405 743l8-3 9-3 8-1 8 0 9 0 8 1 8 1"/>
<path stroke="#c12a30" d="M1463 738l9 2 8 2 9 2 8 3 8 2 9 3 8 2 9 2 8 3 9 2 8 4 9 4 8 5 8 6 9 9 8 10 8 10 9 11 8 11 8 11 9 11 8 10"/>
<path stroke="#d85646" d="M1648 863l8 11 9 11 8 11 8 10 9 10 8 9 9 9 8 9 8 13"/>
<path stroke="#e9795e" d="M1723 956l7 41"/>
<path stroke="#f39879" d="M1730 997l7 61"/>
<path stroke="#f7b397" d="M1737 1058l5 70"/>
<path stroke="#e6d7cf" d="M1742 1128l6 69"/>
<path stroke="#d2dae7" d="M1748 1197l6 60"/>
<path stroke="#bdd2f6" d="M1754 1257l7 43"/>
<path stroke="#a6c3fd" d="M1761 1300l8 19"/>
<path stroke="#a6c3fd" d="M967 755l8 5 7 4 8 4 7 4 8 5 8 5 7 7 8 6 8 7 7 7 8 7 7 7 8 7 8 6 7 7 8 6 8 7 7 6 8 7 8 6 8 6 7 6 8 5 8 4 7 4 8 2 8 2 7 1 8-1"/>
<path stroke="#bdd2f6" d="M1189 904l8-2 8-3 7-5 8-6"/>
<path stroke="#d2dae7" d="M1220 888l8-9 8-8 7-7"/>
<path stroke="#e6d7cf" d="M1243 864l8-5 8-2 8 0 8 3 8 3 8 4 8 1 8-2"/>
<path stroke="#f2c8b3" d="M1307 866l8-4 8-8 8-12"/>
<path stroke="#f7b397" d="M1331 842l8-13 8-15 9-13"/>
<path stroke="#f39879" d="M1356 801l8-13 8-12"/>
<path stroke="#e9795e" d="M1372 776l8-10 9-7 8-6"/>
<path stroke="#d85646" d="M1397 753l8-4 9-3 8-2 8-1 9 0 8 1 8 1"/>
<path stroke="#c12a30" d="M1455 745l9 2 8 2 8 2 9 3 8 3 9 3 8 2 8 3 9 3 8 3 9 4 8 4 9 6 8 7 9 9 8 10 8 11 8 11 9 11 8 11 8 10"/>
<path stroke="#d85646" d="M1631 865l9 11 8 10 8 11 9 10 8 10 9 10 8 9 8 9 9 9 8 13"/>
<path stroke="#e9795e" d="M1715 967l7 41"/>
<path stroke="#f39879" d="M1722 1008l6 63"/>
<path stroke="#f7b397" d="M1728 1071l6 72"/>
<path stroke="#e6d7cf" d="M1734 1143l6 71"/>
<path stroke="#d2dae7" d="M1740 1214l6 61"/>
<path stroke="#bdd2f6" d="M1746 1275l6 43"/>
<path stroke="#a6c3fd" d="M1752 1318l8 19"/>
<path stroke="#a6c3fd" d="M960 774l7 4 8 4 7 4 8 3 7 5 8 5 8 6 7 7 8 7 8 7 7 6 8 7 7 7 8 6 8 7 7 6 8 7 8 6 7 6 8 7 8 5 8 6 7 5 8 4 8 4 7 2 8 2 8 1 7 0 8-1"/>
<path stroke="#bdd2f6" d="M1189 919l8-4 8-6 7-9 8-11"/>
<path stroke="#d2dae7" d="M1220 889l8-9 8-8 7-5"/>
<path stroke="#e6d7cf" d="M1243 867l8-3 8 1 8 3 8 6 8 5 8 6 8 3 8-1 8-6"/>
<path stroke="#f2c8b3" d="M1315 881l8-11 8-14"/>
<path stroke="#f7b397" d="M1331 856l8-16 8-17"/>
<path stroke="#f39879" d="M1347 823l9-16 8-14 8-12"/>
<path stroke="#e9795e" d="M1372 781l8-9 9-7 8-6"/>
<path stroke="#d85646" d="M1397 759l8-4 9-2 8-1 8-1 9 1 8 2 8 1"/>
<path stroke="#c12a30" d="M1455 755l9 2 8 2 9 3 8 4 8 3 9 3 8 2 9 4 8 3 9 4 8 5 8 6 9 8 8 9 9 11 8 11 8 11 8 11 9 11"/>
<path stroke="#d85646" d="M1615 868l8 10 8 10 9 11 8 10 9 9 8 10 8 9 9 10 8 9 8 9"/>
<path stroke="#e9795e" d="M1698 965l9 15 7 42"/>
<path stroke="#f39879" d="M1714 1022l6 64"/>
<path stroke="#f2c8b3" d="M1720 1086l6 74"/>
<path stroke="#e6d7cf" d="M1726 1160l5 73"/>
<path stroke="#bdd2f6" d="M1731 1233l6 62"/>
<path stroke="#a6c3fd" d="M1737 1295l7 43 8 19"/>
<path stroke="#a6c3fd" d="M952 791l8 5 7 3 8 4 7 3 8 4 7 6 8 5 8 7 7 7 8 7 8 6 7 7 8 6 7 7 8 6 8 7 7 6 8 6 8 7 7 6 8 6 8 5 8 5 7 4 8 4 8 2 7 3 8 1 8 1 7 0 8-4"/>
<path stroke="#bdd2f6" d="M1189 933l8-6 7-10 8-13"/>
<path stroke="#d2dae7" d="M1212 904l8-11 8-10 7-6"/>
<path stroke="#e6d7cf" d="M1235 877l8-3 8 1 8 4 8 7 8 8 8 8 8 6 8 3 8-3 8-9"/>
<path stroke="#f2c8b3" d="M1315 899l8-14 8-17"/>
<path stroke="#f7b397" d="M1331 868l8-19 9-18"/>
<path stroke="#f39879" d="M1348 831l8-17 8-14"/>
<path stroke="#e9795e" d="M1364 800l8-12 9-9 8-8"/>
<path stroke="#d85646" d="M1389 771l8-5 9-3 8-2 8 0 9 1 8 1 8 2 9 2"/>
<path stroke="#c12a30" d="M1456 767l8 2 8 3 9 3 8 3 9 4 8 3 8 4 9 4 8 4 9 6 8 6 9 8 8 10 8 10 8 12 9 11"/>
<path stroke="#d85646" d="M1590 860l8 11 8 10 9 10 8 10 8 10 9 10 8 9 9 9 8 10 8 9 9 10"/>
<path stroke="#e9795e" d="M1682 968l8 11 8 15 7 44"/>
<path stroke="#f39879" d="M1705 1038l7 65"/>
<path stroke="#f2c8b3" d="M1712 1103l5 76"/>
<path stroke="#e6d7cf" d="M1717 1179l6 75"/>
<path stroke="#bdd2f6" d="M1723 1254l6 62"/>
<path stroke="#a6c3fd" d="M1729 1316l6 44"/>
<path stroke="#8daffd" d="M1735 1360l8 19"/>
<path stroke="#a6c3fd" d="M945 807l7 5 8 4 7 3 8 3 7 5 8 4 7 6 8 7 8 6 7 7 8 7 8 6 7 7 8 6"/>
<path stroke="#8daffd" d="M1051 883l7 7 8 6 8 6 7 7 8 6 8 6 7 6 8 5 8 5 7 4 8 4 8 3"/>
<path stroke="#a6c3fd" d="M1143 948l8 2 7 3 8 2 8 1 7-3 8-7"/>
<path stroke="#bdd2f6" d="M1189 946l8-12 7-13 8-14"/>
<path stroke="#d2dae7" d="M1212 907l8-11 8-7 7-3"/>
<path stroke="#e6d7cf" d="M1235 886l8 1 8 5 8 8 8 10"/>
<path stroke="#d2dae7" d="M1267 910l8 10 8 9 8 5 8 0"/>
<path stroke="#e6d7cf" d="M1299 934l8-6 8-12 8-17"/>
<path stroke="#f2c8b3" d="M1323 899l8-20"/>
<path stroke="#f7b397" d="M1331 879l8-21 9-19"/>
<path stroke="#f39879" d="M1348 839l8-17 8-15"/>
<path stroke="#e9795e" d="M1364 807l8-12 9-9 8-7"/>
<path stroke="#d85646" d="M1389 779l8-4 9-2 8 0 8 0 9 1 8 1 8 3 9 0"/>
<path stroke="#c12a30" d="M1456 778l8 3 9 4 8 4 8 4 9 4 8 4 9 4 8 5 8 6 9 7 8 8 9 10 8 11"/>
<path stroke="#d85646" d="M1565 852l8 11 8 11 9 11 8 10 8 10 9 10 8 9 9 10 8 9 8 8 9 10"/>
<path stroke="#e9795e" d="M1657 961l8 10 8 11 9 12 8 17"/>
<path stroke="#f39879" d="M1690 1011l7 45"/>
<path stroke="#f7b397" d="M1697 1056l6 67"/>
<path stroke="#f2c8b3" d="M1703 1123l6 76"/>
<path stroke="#d2dae7" d="M1709 1199l5 76"/>
<path stroke="#bdd2f6" d="M1714 1275l6 64"/>
<path stroke="#a6c3fd" d="M1720 1339l7 43"/>
<path stroke="#8daffd" d="M1727 1382l8 19"/>
<path stroke="#8daffd" d="M937 823l8 5 7 3 8 4 7 3 8 4 7 5 8 6 7 6 8 7 8 6 7 7 8 7 8 6 7 6 8 6 7 7 8 6 8 6 7 6 8 6 8 6 7 5 8 5 8 4 7 4 8 4 8 4 8 4 7 4 8 2"/>
<path stroke="#a6c3fd" d="M1166 977l8-3 7-8 8-13"/>
<path stroke="#bdd2f6" d="M1189 953l7-15 8-15"/>
<path stroke="#d2dae7" d="M1204 923l8-11 8-8 8-3 7 2 8 5 8 8 8 11 8 12 8 10 8 8 8 3 8-3 8-9"/>
<path stroke="#e6d7cf" d="M1307 948l8-16 8-21"/>
<path stroke="#f2c8b3" d="M1323 911l8-22"/>
<path stroke="#f7b397" d="M1331 889l8-21 9-21"/>
<path stroke="#f39879" d="M1348 847l8-17 8-15"/>
<path stroke="#e9795e" d="M1364 815l9-11 8-9 8-5"/>
<path stroke="#d85646" d="M1389 790l9-3 8-1 8-1 9 1 8 2 8 0 9 0 8 4 8 5"/>
<path stroke="#c12a30" d="M1464 797l9 4 8 4 8 4 9 5 8 4 9 6 8 6 8 7 9 9 8 10"/>
<path stroke="#d85646" d="M1548 856l8 11 9 11 8 11 8 10 9 10 8 10 8 10 9 9 8 10 9 9"/>
<path stroke="#e9795e" d="M1632 957l8 8 8 10 9 11 8 12 8 13 8 19"/>
<path stroke="#f39879" d="M1681 1030l7 48"/>
<path stroke="#f7b397" d="M1688 1078l6 68"/>
<path stroke="#e6d7cf" d="M1694 1146l6 77"/>
<path stroke="#d2dae7" d="M1700 1223l6 75"/>
<path stroke="#a6c3fd" d="M1706 1298l6 63"/>
<path stroke="#8daffd" d="M1712 1361l6 43 8 19"/>
<path stroke="#8daffd" d="M930 839l7 4 8 4 7 3 8 3 7 4 8 5 7 6 8 6 7 7 8 6 8 7 7 6 8 7 8 6 7 6 8 6 7 6 8 7 8 6 7 5 8 6 8 5 7 5 8 5 8 4 7 5 8 5 8 6 8 6 7 3 8-3 8-9"/>
<path stroke="#a6c3fd" d="M1174 987l7-15 8-16"/>
<path stroke="#bdd2f6" d="M1189 956l7-15 8-12"/>
<path stroke="#d2dae7" d="M1204 929l8-7 8-3 8 2 7 5 8 9 8 11 8 13 8 12 8 9 8 6 8 0 8-7 8-14"/>
<path stroke="#e6d7cf" d="M1307 965l8-20 8-22"/>
<path stroke="#f2c8b3" d="M1323 923l8-24"/>
<path stroke="#f7b397" d="M1331 899l9-22 8-21"/>
<path stroke="#f39879" d="M1348 856l8-18 8-14"/>
<path stroke="#e9795e" d="M1364 824l9-10 8-6 8-4"/>
<path stroke="#d85646" d="M1389 804l9-3 8-1 8 0 9 0 8 0 8 0 9 4 8 5 8 4 9 5 8 5 9 4 8 6 8 6 9 7 8 7 8 9 9 10 8 11 8 11 9 11 8 10 8 10 9 10 8 9"/>
<path stroke="#e9795e" d="M1598 944l8 10 9 9 8 10 8 9 9 9 8 13 8 14 9 15"/>
<path stroke="#f39879" d="M1665 1033l7 21 7 50"/>
<path stroke="#f2c8b3" d="M1679 1104l6 69"/>
<path stroke="#e6d7cf" d="M1685 1173l6 77"/>
<path stroke="#bdd2f6" d="M1691 1250l6 74"/>
<path stroke="#a6c3fd" d="M1697 1324l6 61"/>
<path stroke="#8daffd" d="M1703 1385l7 42"/>
<path stroke="#7395f4" d="M1710 1427l8 18"/>
<path stroke="#8daffd" d="M922 854l8 4 7 4 8 3 7 3 8 4 7 5 8 5 7 6 8 7 7 7 8 6 8 7 7 6 8 6 7 6 8 6 8 6 7 6 8 6 8 6 7 6 8 5 8 5 7 5 8 5 8 6 7 7 8 9 8 7 8 4 7-4 8-10"/>
<path stroke="#a6c3fd" d="M1166 1008l7-16 8-18"/>
<path stroke="#bdd2f6" d="M1181 974l8-15 7-11 8-6"/>
<path stroke="#d2dae7" d="M1204 942l8-2 8 2 8 5 7 9 8 11"/>
<path stroke="#bdd2f6" d="M1243 967l8 13 8 13 8 11 8 7 8 2 8-5"/>
<path stroke="#d2dae7" d="M1291 1008l8-12 8-17"/>
<path stroke="#e6d7cf" d="M1307 979l8-22 8-24"/>
<path stroke="#f2c8b3" d="M1323 933l8-25"/>
<path stroke="#f7b397" d="M1331 908l9-23 8-20"/>
<path stroke="#f39879" d="M1348 865l8-16 8-12"/>
<path stroke="#e9795e" d="M1364 837l9-9 8-6 8-4 9-2"/>
<path stroke="#d85646" d="M1398 816l8-2 8-1 9-2 8 1 8 5 9 5 8 5 9 5 8 5 8 6 9 6 8 6 8 7 9 8 8 9 8 10 9 11 8 11 8 11 9 11"/>
<path stroke="#e9795e" d="M1565 933l8 10 8 10 9 9 8 10 8 10 9 10 8 10 8 10 9 13"/>
<path stroke="#f39879" d="M1640 1025l8 16 8 18 8 23"/>
<path stroke="#f7b397" d="M1664 1082l6 51"/>
<path stroke="#f2c8b3" d="M1670 1133l7 69"/>
<path stroke="#d2dae7" d="M1677 1202l5 76"/>
<path stroke="#bdd2f6" d="M1682 1278l6 70"/>
<path stroke="#8daffd" d="M1688 1348l7 58"/>
<path stroke="#7395f4" d="M1695 1406l6 40 8 18"/>
<path stroke="#8daffd" d="M915 868l7 5 8 3 7 3 7 4 8 3 7 5 8 5 8 6 7 7 8 7 7 6 8 6 8 6 7 7 8 6 7 6 8 6 8 6 7 6 8 5 8 6 7 5 8 5 8 6 7 6 8 8"/>
<path stroke="#7395f4" d="M1112 1012l8 9 8 11 7 9 8 4 8-5"/>
<path stroke="#8daffd" d="M1151 1040l7-12 8-17"/>
<path stroke="#a6c3fd" d="M1166 1011l7-17 8-15"/>
<path stroke="#bdd2f6" d="M1181 979l7-10 8-6 8-1 8 2 8 6 8 9 8 11 7 13 8 13 8 11 8 9 8 3 8-4 8-9 8-15"/>
<path stroke="#d2dae7" d="M1299 1011l8-20"/>
<path stroke="#e6d7cf" d="M1307 991l8-24 8-25"/>
<path stroke="#f2c8b3" d="M1323 942l8-25"/>
<path stroke="#f7b397" d="M1331 917l9-22 8-18"/>
<path stroke="#f39879" d="M1348 877l8-14 9-11"/>
<path stroke="#e9795e" d="M1365 852l8-9 8-6 8-4 9-3"/>
<path stroke="#d85646" d="M1398 830l8-2 9-3 8 1 8 5 9 6 8 5 8 6 9 6 8 6 8 6 9 7 8 8 8 8 9 9 8 11 8 11"/>
<path stroke="#e9795e" d="M1531 920l8 11 9 11 8 11 8 10 9 11 8 10 8 11 9 10 8 11"/>
<path stroke="#f39879" d="M1606 1016l8 11 9 11 8 12 8 19 8 20"/>
<path stroke="#f7b397" d="M1647 1089l8 26 6 51"/>
<path stroke="#e6d7cf" d="M1661 1166l7 67"/>
<path stroke="#d2dae7" d="M1668 1233l6 71"/>
<path stroke="#a6c3fd" d="M1674 1304l6 66"/>
<path stroke="#8daffd" d="M1680 1370l6 53"/>
<path stroke="#7395f4" d="M1686 1423l7 37 8 16"/>
<path stroke="#7395f4" d="M907 882l8 5 7 3 7 3 8 4"/>
<path stroke="#8daffd" d="M937 897l7 3 8 5 7 5 8 6 8 7 7 6 8 6"/>
<path stroke="#7395f4" d="M990 935l7 7 8 6 8 6 7 6 8 6 7 6 8 6 8 5 7 6 8 6 8 5 7 6 8 6 8 7 7 10 8 13 8 13 8 9 7 4 8-6 7-14"/>
<path stroke="#8daffd" d="M1150 1048l8-17 7-18"/>
<path stroke="#a6c3fd" d="M1165 1013l8-13 8-9"/>
<path stroke="#bdd2f6" d="M1181 991l7-5 8 0 8 2 8 6 8 9 8 11 8 12"/>
<path stroke="#a6c3fd" d="M1236 1026l7 13 8 12 8 8 8 3 8-2"/>
<path stroke="#bdd2f6" d="M1275 1060l8-7 8-13 8-17"/>
<path stroke="#d2dae7" d="M1299 1023l8-23"/>
<path stroke="#e6d7cf" d="M1307 1000l8-24 8-26"/>
<path stroke="#f2c8b3" d="M1323 950l8-23"/>
<path stroke="#f7b397" d="M1331 927l9-20 8-17"/>
<path stroke="#f39879" d="M1348 890l8-13 9-11"/>
<path stroke="#e9795e" d="M1365 866l8-8 8-6 9-5 8-7"/>
<path stroke="#d85646" d="M1398 840l8 0 9 1 8 6 8 6 9 6 8 7 8 6 9 7 8 7 8 8 9 8"/>
<path stroke="#e9795e" d="M1490 902l8 9 8 10 8 10 9 12 8 11 8 11 8 12 9 11 8 11"/>
<path stroke="#f39879" d="M1564 999l8 12 9 11 8 12 8 12 8 11 9 13 8 12"/>
<path stroke="#f7b397" d="M1622 1082l8 20 8 22 8 27"/>
<path stroke="#f2c8b3" d="M1646 1151l6 51"/>
<path stroke="#e6d7cf" d="M1652 1202l7 62"/>
<path stroke="#bdd2f6" d="M1659 1264l6 66"/>
<path stroke="#a6c3fd" d="M1665 1330l6 60"/>
<path stroke="#8daffd" d="M1671 1390l7 49"/>
<path stroke="#7395f4" d="M1678 1439l7 33 8 15"/>
<path stroke="#7395f4" d="M900 897l7 4 7 4 8 3 7 3 8 3 7 4 8 5 7 6 8 6 7 7 8 6 8 6 7 6 8 6 7 6 8 6 8 6 7 6 8 6 8 6 7 6 8 6 8 6 7 8 8 8 8 11 8 16 7 15"/>
<path stroke="#5b79e4" d="M1112 1078l8 10 8 3"/>
<path stroke="#7395f4" d="M1128 1091l7-8"/>
<path stroke="#8daffd" d="M1143 1067l7-18 8-16"/>
<path stroke="#a6c3fd" d="M1158 1033l7-12 8-8 8-3 7 0 8 4 8 6 8 8 8 10 8 12 8 12 8 10 7 7 8 4 8-1 8-5 8-10"/>
<path stroke="#bdd2f6" d="M1283 1067l8-16 8-20"/>
<path stroke="#d2dae7" d="M1299 1031l8-23"/>
<path stroke="#e6d7cf" d="M1307 1008l8-25"/>
<path stroke="#f2c8b3" d="M1315 983l8-23 9-22"/>
<path stroke="#f7b397" d="M1332 938l8-19 8-15"/>
<path stroke="#f39879" d="M1348 904l8-13 9-10 8-8"/>
<path stroke="#e9795e" d="M1373 873l8-7 9-7 8-1 8 1 9 6 8 7 8 7 8 8 9 7 8 7 8 8 9 9 8 9 8 10 9 10 8 11 8 12 8 12"/>
<path stroke="#f39879" d="M1522 982l9 12 8 12 8 12 8 12 9 13 8 12 8 13"/>
<path stroke="#f7b397" d="M1580 1068l8 13 8 13 9 14 8 13 8 18"/>
<path stroke="#f2c8b3" d="M1621 1139l8 23 7 29"/>
<path stroke="#e6d7cf" d="M1636 1191l7 46"/>
<path stroke="#d2dae7" d="M1643 1237l7 58"/>
<path stroke="#bdd2f6" d="M1650 1295l6 59"/>
<path stroke="#a6c3fd" d="M1656 1354l7 54"/>
<path stroke="#8daffd" d="M1663 1408l7 43"/>
<path stroke="#7395f4" d="M1670 1451l7 30"/>
<path stroke="#5b79e4" d="M1677 1481l8 14"/>
<path stroke="#7395f4" d="M892 911l7 4 8 4 7 2 8 3 7 3 8 4 7 5 8 5 7 7 8 6 7 6 8 7 8 6 7 5 8 6 7 6 8 6 8 6 7 6 8 6 7 6 8 7 8 9 8 9 7 12 8 13"/>
<path stroke="#5b79e4" d="M1089 1070l8 14 8 17 8 11 7-1"/>
<path stroke="#7395f4" d="M1128 1102l7-17 7-18"/>
<path stroke="#8daffd" d="M1142 1067l8-15 7-10"/>
<path stroke="#a6c3fd" d="M1157 1042l8-6 8-2 8 1 7 4 8 6 8 8 8 10 8 11 8 10 8 8"/>
<path stroke="#8daffd" d="M1236 1092l8 7"/>
<path stroke="#a6c3fd" d="M1244 1099l7 4 8 0 8-3 8-9 8-13"/>
<path stroke="#bdd2f6" d="M1283 1078l8-18"/>
<path stroke="#d2dae7" d="M1291 1060l8-22 8-23"/>
<path stroke="#e6d7cf" d="M1307 1015l8-24"/>
<path stroke="#f2c8b3" d="M1315 991l8-22 9-20"/>
<path stroke="#f7b397" d="M1332 949l8-17 8-14"/>
<path stroke="#f39879" d="M1348 918l8-12 9-10 8-9"/>
<path stroke="#e9795e" d="M1373 887l8-6 9-3 8 2 8 7 9 8 8 8 8 8 8 9 9 8 8 9 8 10 8 10"/>
<path stroke="#f39879" d="M1472 957l9 10 8 11 8 12 8 13 9 12 8 13 8 13"/>
<path stroke="#f7b397" d="M1530 1041l8 13 8 13 9 14 8 13 8 14 8 14"/>
<path stroke="#f2c8b3" d="M1579 1122l8 14 9 11 8 17 8 15 8 24"/>
<path stroke="#e6d7cf" d="M1620 1203l7 26"/>
<path stroke="#d2dae7" d="M1627 1229l7 42"/>
<path stroke="#bdd2f6" d="M1634 1271l7 51"/>
<path stroke="#a6c3fd" d="M1641 1322l7 52"/>
<path stroke="#8daffd" d="M1648 1374l7 47"/>
<path stroke="#7395f4" d="M1655 1421l7 38 8 27 7 13"/>
<path stroke="#7395f4" d="M884 923l8 5 7 3 8 3 7 2 7 3 8 4 7 5 8 5 8 7 7 6 8 6 7 6 8 7 7 5 8 6 8 6 7 6 8 7 8 6 7 6 8 7 7 9 8 10 8 13"/>
<path stroke="#5b79e4" d="M1066 1066l8 14 8 16 8 16 7 14 8 8"/>
<path stroke="#5b79e4" d="M1120 1119l7-18"/>
<path stroke="#7395f4" d="M1127 1101l8-18 7-13"/>
<path stroke="#8daffd" d="M1142 1070l8-8 7-4 8 0 8 2"/>
<path stroke="#a6c3fd" d="M1173 1060l8 4 8 6"/>
<path stroke="#8daffd" d="M1189 1070l7 8 8 9 8 9 8 8 8 8 8 6 8 4 7 1 8-3"/>
<path stroke="#a6c3fd" d="M1259 1120l8-6 8-12"/>
<path stroke="#bdd2f6" d="M1275 1102l8-17 8-19"/>
<path stroke="#d2dae7" d="M1291 1066l8-22 8-23"/>
<path stroke="#e6d7cf" d="M1307 1021l8-22"/>
<path stroke="#f2c8b3" d="M1315 999l8-21 9-15"/>
<path stroke="#f7b397" d="M1332 963l8-15 8-14"/>
<path stroke="#f39879" d="M1348 934l8-12 9-11 8-5 8-3"/>
<path stroke="#e9795e" d="M1381 903l9 2 8 8 8 9"/>
<path stroke="#f39879" d="M1406 922l8 10 9 9 8 10 8 10 8 10 9 10 8 11 8 11 8 12 8 13"/>
<path stroke="#f7b397" d="M1488 1028l9 13 8 13 8 13 8 14 8 14 9 12"/>
<path stroke="#f2c8b3" d="M1538 1107l8 15 8 15 8 14 8 13 8 15"/>
<path stroke="#e6d7cf" d="M1578 1179l8 14 8 14 9 14 8 20"/>
<path stroke="#d2dae7" d="M1611 1241l7 23 8 37"/>
<path stroke="#bdd2f6" d="M1626 1301l7 43"/>
<path stroke="#a6c3fd" d="M1633 1344l7 44"/>
<path stroke="#8daffd" d="M1640 1388l7 40 7 32"/>
<path stroke="#7395f4" d="M1654 1460l8 22 8 12"/>
<path stroke="#7395f4" d="M877 934l7 4 8 4 7 3 7 3 8 3 7 4 8 5 7 5 8 7 7 6 8 6 8 7 7 6 8 6 7 6 8 6 8 7 7 6 8 7 8 8 7 7"/>
<path stroke="#5b79e4" d="M1035 1050l8 10 8 13 8 15 7 17 8 17"/>
<path stroke="#455bcd" d="M1074 1122l8 14 8 11"/>
<path stroke="#5b79e4" d="M1112 1134l8-19"/>
<path stroke="#7395f4" d="M1120 1115l7-16 7-11"/>
<path stroke="#8daffd" d="M1134 1088l8-7 8-2 7 1 8 3 8 5 8 6 8 7 7 8 8 7 8 8 8 7 8 5 8 4 8 1 7-2 8-6"/>
<path stroke="#a6c3fd" d="M1259 1133l8-11 8-14"/>
<path stroke="#bdd2f6" d="M1275 1108l8-18 8-20"/>
<path stroke="#d2dae7" d="M1291 1070l8-21 8-22"/>
<path stroke="#e6d7cf" d="M1307 1027l8-16"/>
<path stroke="#f2c8b3" d="M1315 1011l8-16 9-16"/>
<path stroke="#f7b397" d="M1332 979l8-15 8-14 8-8"/>
<path stroke="#f39879" d="M1356 942l9-5 8-5 8 4 9 10 8 10 8 10 8 11 8 11 9 11"/>
<path stroke="#f7b397" d="M1431 999l8 10 8 12 8 11 8 13 9 12 8 13 8 13"/>
<path stroke="#f2c8b3" d="M1488 1083l8 13 8 15 8 12 8 15 9 13"/>
<path stroke="#e6d7cf" d="M1529 1151l8 14 8 14 8 13 8 14 8 13 8 14"/>
<path stroke="#d2dae7" d="M1577 1233l8 13 9 13 8 16 8 21"/>
<path stroke="#bdd2f6" d="M1610 1296l7 30 7 37"/>
<path stroke="#a6c3fd" d="M1624 1363l8 36"/>
<path stroke="#8daffd" d="M1632 1399l7 32 8 27"/>
<path stroke="#7395f4" d="M1647 1458l8 19 8 10"/>
<path stroke="#7395f4" d="M869 943l7 5 8 3 7 4 8 3 7 4 8 5 7 5 8 6 7 6 8 7 7 6 8 7 8 6 7 7 8 6 7 7"/>
<path stroke="#5b79e4" d="M989 1030l8 7 8 7 7 8 8 9 8 9 7 9 8 16 8 17"/>
<path stroke="#455bcd" d="M1051 1112l8 17 8 15"/>
<path stroke="#5b79e4" d="M1104 1142l8-16"/>
<path stroke="#7395f4" d="M1112 1126l7-13 8-9 7-4 8-1"/>
<path stroke="#8daffd" d="M1142 1099l8 2 7 4 8 5 8 6 8 6 8 7 7 6 8 7 8 6 8 5 8 4 8 1 7-2 8-6 8-9"/>
<path stroke="#a6c3fd" d="M1259 1141l8-13 8-16"/>
<path stroke="#bdd2f6" d="M1275 1112l8-18 8-20"/>
<path stroke="#d2dae7" d="M1291 1074l8-15 8-15"/>
<path stroke="#e6d7cf" d="M1307 1044l8-16 8-16"/>
<path stroke="#f2c8b3" d="M1323 1012l9-16 8-13"/>
<path stroke="#f7b397" d="M1340 983l8-5 8-5 9-6 8 6 8 10 8 12 8 11 9 12 8 11 8 12 8 11"/>
<path stroke="#f2c8b3" d="M1430 1052l8 12 8 13 9 12 8 12 8 13 8 12 8 13"/>
<path stroke="#e6d7cf" d="M1487 1139l8 13 8 13 9 13 8 13 8 14 8 12"/>
<path stroke="#d2dae7" d="M1536 1217l8 13 8 13 8 12 9 13 8 12 8 12"/>
<path stroke="#bdd2f6" d="M1585 1292l8 13 8 17 8 26"/>
<path stroke="#a6c3fd" d="M1609 1348l7 31 8 30"/>
<path stroke="#8daffd" d="M1624 1409l7 28 8 22"/>
<path stroke="#7395f4" d="M1639 1459l8 16 8 10"/>
<path stroke="#5b79e4" d="M861 952l8 5 7 4 8 4"/>
<path stroke="#7395f4" d="M884 965l7 4 7 4 8 6 7 6 8 6"/>
<path stroke="#5b79e4" d="M921 991l8 7 7 7 8 6 7 7 8 7 8 8 7 7 8 7 7 7 8 8 8 10 7 10 8 10 8 11 8 15"/>
<path stroke="#455bcd" d="M1036 1118l8 17 7 14"/>
<path stroke="#5b79e4" d="M1096 1141l8-9"/>
<path stroke="#7395f4" d="M1104 1132l7-9 8-5 8-2 7 2 8 3 8 4 7 5 8 5 8 6 8 6 8 6 7 6 8 5 8 5 8 2 8 2"/>
<path stroke="#8daffd" d="M1228 1173l8-3 7-5 8-8"/>
<path stroke="#a6c3fd" d="M1251 1157l8-11 8-14 8-17"/>
<path stroke="#bdd2f6" d="M1275 1115l8-12 8-13"/>
<path stroke="#d2dae7" d="M1291 1090l8-14 8-15"/>
<path stroke="#e6d7cf" d="M1307 1061l8-16 8-15"/>
<path stroke="#f2c8b3" d="M1323 1030l9-8 8-5 8-5 8-5"/>
<path stroke="#f7b397" d="M1356 1007l8 7 9 12"/>
<path stroke="#f2c8b3" d="M1373 1026l8 12 8 11 8 13 8 12 8 11 9 11 8 12"/>
<path stroke="#e6d7cf" d="M1430 1108l8 12 8 11 8 12 8 12 8 12 9 12 8 12"/>
<path stroke="#d2dae7" d="M1487 1191l8 12 8 12 8 13 8 11 8 12 8 12 9 11"/>
<path stroke="#bdd2f6" d="M1544 1274l8 12 8 11 8 11 8 11 8 11 8 15"/>
<path stroke="#a6c3fd" d="M1592 1345l8 22 8 26 8 27"/>
<path stroke="#8daffd" d="M1616 1420l7 24 8 20"/>
<path stroke="#7395f4" d="M1631 1464l8 14 8 9"/>
<path stroke="#5b79e4" d="M854 960l7 5 7 5 8 4 7 5 8 6 7 7 8 6 7 8 8 7 8 7 7 7 8 7 7 8 8 8 8 7 7 8 8 8 8 8 7 11 8 12"/>
<path stroke="#455bcd" d="M1005 1104l8 11 7 11 8 12 8 15"/>
<path stroke="#5b79e4" d="M1081 1147l7-7 8-5 7-4"/>
<path stroke="#7395f4" d="M1103 1131l8-1 8 1 7 3 8 4 8 5 8 4 7 5 8 6 8 5 8 6 8 5 7 5 8 4 8 3 8 0 8-2"/>
<path stroke="#8daffd" d="M1228 1184l8-5 7-7 8-10"/>
<path stroke="#a6c3fd" d="M1251 1162l8-12 8-10 8-10"/>
<path stroke="#bdd2f6" d="M1275 1130l8-12 8-12"/>
<path stroke="#d2dae7" d="M1291 1106l8-14 8-15"/>
<path stroke="#e6d7cf" d="M1307 1077l8-12 8-3 9-4 8-4"/>
<path stroke="#f2c8b3" d="M1340 1054l8-4 8 9 8 11 8 12"/>
<path stroke="#e6d7cf" d="M1372 1082l8 11 9 12 8 11 8 11 8 11 8 11 8 11 8 11"/>
<path stroke="#d2dae7" d="M1437 1171l9 11 8 10 8 11 8 11 8 11 8 11 8 11 9 11"/>
<path stroke="#bdd2f6" d="M1503 1258l8 11 8 11 8 10 8 11 8 10 8 10 9 10 8 10 8 10"/>
<path stroke="#a6c3fd" d="M1576 1351l8 13 8 19 8 23"/>
<path stroke="#8daffd" d="M1600 1406l8 23 7 22 8 18"/>
<path stroke="#7395f4" d="M1623 1469l8 13 8 9"/>
<path stroke="#5b79e4" d="M846 968l7 5 8 5 7 6 8 6 7 6 8 8 7 8 8 8 7 7 8 8 8 7 7 8 8 8 7 8 8 8 8 9 7 8 8 8"/>
<path stroke="#455bcd" d="M982 1099l8 11 7 11 8 11 8 11 8 10"/>
<path stroke="#5b79e4" d="M1066 1150l7-6 7-3 8-2 8 0"/>
<path stroke="#7395f4" d="M1096 1139l7 2 8 3 8 5 7 4 8 5 8 5 8 5 7 5 8 5 8 6 8 4 8 5 7 4 8 1 8 1 8-2 8-4"/>
<path stroke="#8daffd" d="M1228 1193l7-7 8-9 8-6"/>
<path stroke="#a6c3fd" d="M1251 1171l8-8 8-8 8-11"/>
<path stroke="#bdd2f6" d="M1275 1144l8-11 8-12"/>
<path stroke="#d2dae7" d="M1291 1121l8-13 8-6 8-2 8-2"/>
<path stroke="#e6d7cf" d="M1323 1098l9-2 8-3 8 9 8 10 8 11 8 11"/>
<path stroke="#d2dae7" d="M1372 1134l8 10 8 11 8 10 9 10 8 9 8 10 8 10 8 10 8 10 8 10"/>
<path stroke="#bdd2f6" d="M1453 1234l9 10 8 9 8 10 8 11 8 10 8 9 8 10 9 10 8 10 8 9 8 10"/>
<path stroke="#a6c3fd" d="M1543 1342l8 9 8 9 9 9 8 11 8 17 8 20"/>
<path stroke="#8daffd" d="M1592 1417l8 21 7 19 8 16 8 13"/>
<path stroke="#7395f4" d="M1623 1486l9 8"/>
<path stroke="#5b79e4" d="M838 975l7 6 8 5 7 6 8 7 7 7 8 9 8 9 7 8 8 8 7 7 8 8 8 8 7 8 8 8 7 8 8 8"/>
<path stroke="#455bcd" d="M959 1095l8 8 7 8 8 9 8 10 7 10"/>
<path stroke="#5b79e4" d="M1050 1150l7-4 8-2 8-1 7 2 8 3"/>
<path stroke="#7395f4" d="M1088 1148l7 4 8 4 8 5 8 5 7 5 8 5 8 5 8 5 7 6 8 4 8 5 8 4 8 3 7 2 8 0 8-2 8-3"/>
<path stroke="#8daffd" d="M1220 1205l8-6 7-4 8-5 8-6"/>
<path stroke="#a6c3fd" d="M1251 1184l8-8 8-9 8-9"/>
<path stroke="#bdd2f6" d="M1275 1158l8-11 8-9 8-3"/>
<path stroke="#d2dae7" d="M1299 1135l8 0 8-1 8 0 8-1 9 7 8 10 8 9 8 10 8 9 8 9 8 9 8 9"/>
<path stroke="#bdd2f6" d="M1396 1205l8 9 9 9 8 9 8 9 8 9 8 9 8 9 8 9 9 9 8 10 8 9 8 9 8 9"/>
<path stroke="#a6c3fd" d="M1502 1323l8 9 8 9 9 9 8 9 8 8 8 9 8 8 9 10 8 14 8 18"/>
<path stroke="#8daffd" d="M1584 1426l8 19 7 17 8 16 9 11"/>
<path stroke="#7395f4" d="M1616 1489l8 9"/>
<path stroke="#5b79e4" d="M830 981l7 6 8 5 7 7 8 7 8 8 7 9 8 9 7 8 8 8 8 7 7 8 8 7 7 8 8 7 8 8 7 7"/>
<path stroke="#455bcd" d="M951 1100l8 8 7 7 8 8 8 8"/>
<path stroke="#5b79e4" d="M1027 1154l7-5 8-3 7-1 8 0 8 3 7 4 8 4 8 5 7 5 8 6 8 5 8 5 7 5 8 6 8 5"/>
<path stroke="#7395f4" d="M1142 1198l8 5 7 5 8 5 8 3 8 3 7 1 8 0 8-1 8-3 8-2"/>
<path stroke="#8daffd" d="M1220 1214l8-2 7-5 8-5 8-7"/>
<path stroke="#a6c3fd" d="M1251 1195l8-8 8-8 8-8"/>
<path stroke="#bdd2f6" d="M1275 1171l8-5 8-1 8 0 8 1 8 1 8 0 8 6 8 8 9 8 8 9 8 8 8 8 8 9 8 8 8 8 8 8 8 8 9 9 8 8 8 8 8 9 8 8 8 9"/>
<path stroke="#a6c3fd" d="M1461 1306l8 9 9 8 8 9 8 8 8 9 8 8 8 9 9 8 8 8 8 8 8 8 8 8 9 13"/>
<path stroke="#8daffd" d="M1568 1419l8 16 8 16 8 16 8 13 8 12 8 8"/>
<path stroke="#5b79e4" d="M822 987l8 5 7 6 8 6 7 7 8 8 7 8 8 9 7 8 8 7 8 7 7 7 8 7 7 7 8 6 7 7 8 7 8 7 7 6 8 6 7 7 8 6"/>
<path stroke="#5b79e4" d="M1011 1150l8-2 7-3 8 0 7 1 8 3 8 5 7 5 8 5 8 6 7 5 8 6 8 5 8 6 7 5 8 6 8 5 8 5 7 5 8 4 8 4"/>
<path stroke="#7395f4" d="M1165 1226l8 2 8 2 7 0 8-1 8 0 8-1 8-2"/>
<path stroke="#8daffd" d="M1220 1226l7-4 8-5 8-6 8-6"/>
<path stroke="#a6c3fd" d="M1251 1205l8-7 8-5 8-3 8 1"/>
<path stroke="#bdd2f6" d="M1283 1191l8 1 8 1 8 1 8 1 8 5 8 7 8 7 9 7 8 8 8 7 8 8 8 7 8 8 8 8 8 7 8 8"/>
<path stroke="#a6c3fd" d="M1412 1282l9 8 8 8 8 8 8 8 8 9 8 8 8 8 9 8 8 9 8 8 8 8 8 8 8 7 9 8 8 7 8 8 8 7 8 11"/>
<path stroke="#8daffd" d="M1559 1428l9 14 8 14 8 14 8 12 8 11 8 8"/>
<path stroke="#5b79e4" d="M814 991l8 5 7 6 8 6 7 7 8 7 7 7 8 8 7 7 8 7 7 6 8 7 8 6 7 6 8 7 7 6 8 6 7 6 8 6 8 5 7 6 8 6 7 5 8 5 8 5 7 4 8 1 7 1 8 2 7 3 8 5 8 5 7 6 8 6 8 6 8 5 7 6 8 6 8 6 8 5 7 6 8 5 8 5 8 5 7 4 8 3 8 3"/>
<path stroke="#7395f4" d="M1165 1237l8 1 7 1 8 1 8 1 8-1 8-2 8-3"/>
<path stroke="#8daffd" d="M1220 1235l7-4 8-5 8-6 8-4"/>
<path stroke="#a6c3fd" d="M1251 1216l8-4 8-1 8 1 8 2 8 1 8 1 8 2"/>
<path stroke="#bdd2f6" d="M1307 1218l8 4 8 6 8 7 8 6"/>
<path stroke="#a6c3fd" d="M1339 1241l8 7 9 7 8 7 8 7 8 7 8 8 8 7 8 8 8 7 8 8 9 8 8 8 8 8 8 8 8 8 8 8 9 8 8 7 8 8 8 8 8 7 9 7 8 7 8 7 8 7"/>
<path stroke="#8daffd" d="M1543 1428l8 9 9 11 8 13 8 12 8 11 8 9 8 8"/>
<path stroke="#5b79e4" d="M806 995l8 5 7 6 8 6 7 6 8 6 7 7 8 6 7 7 8 6 7 6 8 6 7 6 8 6 8 6 7 6 8 6 7 5 8 6 7 6 8 5 8 5 7 5 8 5 7 6 8 4 8 4 7 4 8 4 7 5 8 5 8 6 8 6 7 6 8 6 8 6 7 6 8 6 8 6 8 6 7 5 8 6 8 5 8 4 7 4 8 4 8 2 8 2"/>
<path stroke="#7395f4" d="M1165 1247l8 2 7 2 8 1 8 0 8-2 8-3 7-3"/>
<path stroke="#8daffd" d="M1219 1244l8-5 8-4 8-3 8-2"/>
<path stroke="#a6c3fd" d="M1251 1230l8 0 8 1 8 2 8 1 8 1 8 2 8 4 8 5 8 6 8 6 8 7 8 6 9 7 8 7 8 7 8 7 8 7 8 8 8 7 8 8 8 8 9 7 8 8 8 8 8 8 8 7 8 8 9 8 8 7 8 7"/>
<path stroke="#8daffd" d="M1494 1405l8 7 8 7 9 7 8 6 8 6 8 8 9 9 8 10 8 10 8 10 8 9 9 7"/>
<path stroke="#5b79e4" d="M798 999l8 5 7 6 8 5 7 6 8 6 7 6 8 6 7 6 8 6 7 6 8 6 7 6 8 5 7 6 8 6 8 5 7 6 8 6 7 5 8 5 7 6 8 5 8 6 7 5 8 6 8 5 7 5 8 5 8 6 7 6 8 6 8 6 7 6 8 7 8 6 8 6 7 6 8 6 8 6 8 6 7 5 8 5 8 5 8 4 7 3 8 3 8 3 8 3"/>
<path stroke="#7395f4" d="M1165 1260l7 2 8 1 8-1 8-1 8-3 8-3"/>
<path stroke="#8daffd" d="M1212 1255l7-3 8-2 8-2 8-1 8 0 8 1"/>
<path stroke="#a6c3fd" d="M1259 1248l8 1 8 2 8 1 8 2 8 3 8 5 8 6 8 6 8 6 8 6 8 7 9 7 8 6 8 7 8 8 8 7 8 7 8 8 8 7 9 8 8 8 8 7 8 8 8 7"/>
<path stroke="#8daffd" d="M1453 1388l8 8 8 7 9 7 8 7 8 7 8 7 9 6 8 6 8 5 8 7 9 7 8 8 8 8 8 8 8 8 9 7"/>
<path stroke="#5b79e4" d="M790 1003l8 5 7 6 8 5 7 6 8 5 7 6 8 6 7 6 8 6 7 6 8 5 7 6 8 6 7 5 8 6 7 6 8 5 8 6 7 6 8 5 7 6 8 6 8 5 7 6 8 6 8 6 7 6 8 6 8 6 7 6 8 6 8 6 7 7 8 6 8 6 8 6 7 7 8 6 8 6 8 5 7 6 8 5 8 4 8 5 7 3 8 4 8 3 8 3 8 3"/>
<path stroke="#7395f4" d="M1165 1272l7 0 8 0 8-1 8-2 8-2 7-2"/>
<path stroke="#8daffd" d="M1211 1265l8-2 8-1 8 0 8 1 8 1 8 1 8 1"/>
<path stroke="#a6c3fd" d="M1267 1266l8 1 8 2 8 4 8 4 8 5 8 6 8 6 8 6 8 7 8 6 9 7 8 7 8 7 8 7 8 8 8 7 8 8"/>
<path stroke="#8daffd" d="M1404 1364l8 7 9 8 8 7 8 8 8 7 8 7 8 7 9 7 8 7 8 7 8 6 8 6 9 5 8 5 8 5 9 5 8 6 8 7 8 7 9 7 8 7"/>
<path stroke="#5b79e4" d="M782 1007l8 5 7 6 8 5 7 6 8 6 7 6 8 6 7 6 8 5 7 6 8 6 7 6 8 5 7 6 8 6 8 5 7 6 8 6 7 6 8 5 8 6 7 6 8 6 7 6 8 6 8 6 7 6 8 6 8 6 7 7 8 6 8 6 8 7 7 6 8 6 8 7 7 6 8 6 8 6 8 6 7 5 8 5 8 5 8 4 7 5 8 4 8 4 8 3 8 2 7 1"/>
<path stroke="#7395f4" d="M1164 1282l8 0 8-1 8-2 8-1 7-1 8-1"/>
<path stroke="#8daffd" d="M1211 1276l8 0 8 0 8 1 8 1 8 1 8 1 8 1 8 2 8 4"/>
<path stroke="#a6c3fd" d="M1283 1287l8 4 8 5 8 6 8 5 8 6 8 7 8 6 9 7 8 7"/>
<path stroke="#8daffd" d="M1356 1340l8 7 8 7 8 8 8 7 8 7 8 8 8 7 9 8 8 7 8 7 8 7 8 7 8 7 9 7 8 6 8 6 8 5 9 5 8 5 8 3 8 4 9 4 8 5 8 6 9 7 8 7"/>
<path stroke="#5b79e4" d="M774 1012l8 5 7 6 8 5 7 6 8 6 7 6 8 6 7 6 8 6 7 6 8 5 7 6 8 6 7 6 8 5 8 6 7 6 8 6 7 6 8 5 8 6 7 6 8 6 7 6 8 6 8 7 7 6 8 6 8 6 7 7 8 6 8 6 8 7 7 6 8 6 8 7 8 6 7 7 8 6 8 5 8 6 7 5 8 5 8 5 8 4 7 5 8 4 8 2 8 3 7 1"/>
<path stroke="#7395f4" d="M1156 1291l8 0 8 0 8-1 8-1 8 0 7 0 8 0"/>
<path stroke="#8daffd" d="M1211 1289l8 0 8 1 8 1 8 1 8 1 8 2 8 2 8 3 8 4 8 5 8 6 8 5 8 6 8 7 8 6 8 7 9 7 8 7 8 7 8 7 8 7 8 8 8 7 8 8 8 7 9 7 8 7 8 7 8 7 8 6 9 7 8 6 8 5 8 5 8 5 9 4 8 3 8 2 9 3 8 4 8 5 9 6 8 7"/>
<path stroke="#5b79e4" d="M766 1017l8 5 7 6 8 6 7 6 8 6 7 6 8 6 7 6 8 6 7 6 8 5 7 6 8 6 7 6 8 6 8 5 7 6 8 6 7 6 8 6 8 6 7 6 8 6 8 6 7 6 8 6 8 7 7 6 8 6 8 6 7 7 8 6 8 7 7 6 8 7 8 6 8 6 7 7 8 6 8 5 8 6 7 5 8 6 8 5 8 5 7 4 8 4 8 3 8 2 8 1 7 1"/>
<path stroke="#7395f4" d="M1156 1300l8 0 8 0 8 0 8 0 7 1 8 0 8 1"/>
<path stroke="#8daffd" d="M1211 1302l8 1 8 1 8 1 8 1 8 1 8 3 8 3 8 4 8 5 8 5 8 6 8 6 8 6 8 7 8 6 8 7 9 7 8 7 8 7 8 8 8 7 8 7 8 8 8 7 9 7 8 7 8 7 8 6 8 7 8 6 9 5 8 6 8 4 8 5 9 4 8 2 8 1 9 2 8 3 8 4 9 6 8 6"/>
<path stroke="#5b79e4" d="M758 1023l8 5 7 6 8 6 7 6 8 6 7 6 8 6 7 6 8 6 7 6 8 6 7 6 8 5 8 6 7 6 8 6 7 6 8 6 7 6 8 6 8 6 7 6 8 6 8 6 7 6 8 6 8 6 7 7 8 6 8 6 7 7 8 6 8 7 7 6 8 7 8 6 8 6 7 7 8 6 8 6 8 5 7 6 8 5 8 6 8 5 7 4 8 4 8 3 8 2 8 2 7 1 8 1"/>
<path stroke="#7395f4" d="M1156 1310l8 0 8 1 8 0 7 1 8 1 8 1 8 1 8 1"/>
<path stroke="#8daffd" d="M1219 1316l8 1 8 1 8 2 8 3 8 3 8 4 8 5 8 5 8 5 8 6 8 6 8 7 8 7 8 6 8 7 9 7 8 7 8 8 8 7 8 7 8 7 8 7 8 7 9 7 8 7 8 6 8 6 8 6 9 6 8 5 8 4 8 4 9 4 8 1 8 1 9 1 8 2 8 5 9 5 8 7"/>
<path stroke="#5b79e4" d="M750 1029l8 6 7 5 8 6 7 6 8 6 7 7 8 6 7 6 8 6 7 6 8 5 7 6 8 6 8 6 7 6 8 6 7 6 8 6 8 6 7 6 8 6 7 6 8 6 8 6 7 6 8 6 8 6 7 7 8 6 8 6 7 7 8 6 8 7 8 6 7 7 8 6 8 6 7 7 8 6 8 5 8 6 7 6 8 6 8 5 8 5 8 5 7 3 8 4 8 2 8 2 7 2 8 1"/>
<path stroke="#7395f4" d="M1148 1319l8 1 8 1 8 1 8 1 7 1 8 1 8 1 8 2 8 1"/>
<path stroke="#8daffd" d="M1219 1329l8 1 8 3 8 2 8 3 8 4 8 5 8 5 8 6 8 6 8 6 8 6 8 7 8 6 8 7 9 7 8 7 8 7 8 7 8 8 8 7 8 7 8 6 8 7 9 7 8 6 8 6 8 5 8 6 9 5 8 4 8 4 8 3 9 1 8 0 9 1 8 2 8 4 9 6 8 6"/>
<path stroke="#5b79e4" d="M742 1036l8 5 7 6 8 6 7 6 8 6 7 6 8 6 7 6 8 6 7 6 8 6 8 6 7 6 8 6 7 6 8 6 7 6 8 5 8 6 7 6 8 6 7 7 8 6 8 6 7 6 8 6 8 6 7 7 8 6 8 6 7 7 8 6 8 6 8 7 7 6 8 7 8 6 7 6 8 6 8 7 8 6 8 6 7 5 8 6 8 5 8 4 7 4 8 3 8 3 8 2 7 3 8 1 8 2"/>
<path stroke="#7395f4" d="M1148 1330l8 1 8 1 8 2 7 1 8 1 8 2 8 1 8 2 8 1"/>
<path stroke="#8daffd" d="M1219 1342l8 3 8 2 8 4 8 4 8 4 8 5 8 6 8 6 8 6 8 6 8 7 8 6 8 7 8 7 9 7 8 7 8 7 8 7 8 7 8 7 8 6 8 7 9 6 8 6 8 6 8 5 8 6 9 4 8 4 8 4 8 3 9 1 8 0 8 1 9 2 8 4 9 5 8 7"/>
<path stroke="#5b79e4" d="M734 1043l8 5 7 6 8 6 7 6 8 6 7 6 8 6 7 6 8 6 7 6 8 6 8 6 7 6 8 6 7 6 8 5 7 6 8 6 8 6 7 6 8 6 7 7 8 6 8 6 7 6 8 6 8 6 7 7 8 6 8 6 7 7 8 6 8 6 8 7 7 6 8 7 8 6 8 6 7 6 8 7 8 6 8 6 7 5 8 6 8 5 8 4 7 4 8 4 8 3 8 3 7 2 8 2 8 2 8 2"/>
<path stroke="#7395f4" d="M1148 1341l8 1 8 2 7 2 8 1 8 2 8 1 8 2 8 2 8 2 8 3"/>
<path stroke="#8daffd" d="M1227 1359l8 4 8 4 8 4 8 5 8 6 8 6 8 6 8 6 8 6 8 7 8 7 8 6 8 7 9 7 8 7"/>
<path stroke="#7395f4" d="M1348 1447l8 7 8 7 8 6 8 7 8 6 8 6 9 6 8 6 8 5 8 5 8 5"/>
<path stroke="#8daffd" d="M1437 1513l9 4 8 3 8 3 9 1 8 0 8 1 9 2 8 4 8 5 9 7"/>
<path stroke="#5b79e4" d="M727 1050l7 5 7 6 8 6 7 5 8 6 7 7 8 6 7 6 8 6 8 6 7 6 8 6 7 6 8 6 7 6 8 5 7 6 8 6 8 6 7 6 8 7 8 6 7 6 8 6 7 6 8 6 8 6 7 7 8 6 8 6 8 6 7 7 8 6 8 7 7 6 8 6 8 7 8 6 7 6 8 7 8 6 8 6 7 5 8 6 8 5 8 4 7 4 8 4 8 3 8 4 8 2 7 3 8 2 8 2 8 2"/>
<path stroke="#7395f4" d="M1148 1352l8 2 7 2 8 2 8 1 8 2 8 2 8 2 8 3 8 3 8 4 8 4 8 4 8 5 8 6 8 5 8 6 8 7 8 6 8 6 8 7 8 7 8 6 8 7 9 7 8 7 8 6 8 7 8 6 8 6 8 6 9 6 8 6 8 5 8 5 8 4 9 4"/>
<path stroke="#8daffd" d="M1438 1526l8 4 8 2 8 1 9 0 8 1 9 2 8 4 8 6 9 7"/>
<path stroke="#5b79e4" d="M719 1057l7 6 7 5 8 6 7 5 8 6 7 6 8 7 8 6 7 6 8 6 7 6 8 6 7 6 8 6 7 6 8 5 8 6 7 6 8 7 7 6 8 6 8 6 7 6 8 6 7 6 8 6 8 6 7 6 8 7 8 6 8 6 7 7 8 6 8 6 7 7 8 6 8 6 8 7 7 6 8 6 8 6 8 6 7 6 8 5 8 5 8 5 7 4 8 4 8 4 8 3 8 4 7 2 8 3 8 2 8 2 8 3"/>
<path stroke="#7395f4" d="M1148 1364l7 2 8 2 8 2 8 2 8 2 8 3 8 3 8 3 8 3 8 4 8 5 8 5 8 5 8 6 8 6 8 6 8 6 8 7 8 6 8 7 8 6 8 7 8 7 9 6 8 7 8 6 8 6 8 6 8 6 8 6 9 5 8 5 8 5 8 4 8 4 9 4"/>
<path stroke="#8daffd" d="M1438 1539l8 2 8 1 9 0 8 1 8 3 9 4 8 6 8 7"/>
<path stroke="#5b79e4" d="M711 1064l7 6 8 5 7 6 7 5 8 6 8 6 7 7 8 6 7 6 8 6 7 6 8 6 7 6 8 6 7 6 8 6 8 6 7 6 8 6 7 6 8 6 8 6 7 6 8 6 8 6 7 6 8 6 8 7 7 6 8 6 8 6 7 6 8 7 8 6 7 6 8 7 8 6 8 7 7 6 8 6 8 6 8 6 7 5 8 6 8 5 8 5 7 4 8 4 8 4 8 4 8 3 7 3 8 3 8 3 8 2 8 3 7 2"/>
<path stroke="#7395f4" d="M1147 1375l8 3 8 2 8 2 8 3 8 3 8 3 8 3 8 4 8 4 8 5 8 5 8 5 8 6 8 5 8 6 8 7 8 6 8 6 8 7 8 6 8 7 8 6 9 6 8 7 8 6 8 6 8 6 8 6 8 5 9 6 8 4 8 5 8 4 8 4 9 3 8 3"/>
<path stroke="#8daffd" d="M1438 1550l8 1 9 1 8 1 8 3 9 5 8 6 8 7"/>
<path stroke="#5b79e4" d="M703 1071l7 6 8 5 7 6 8 5 7 6 8 6 7 6 8 7 7 6 8 6 7 6 8 6 7 6 8 6 7 6 8 6 8 6 7 6 8 6 7 6 8 6 8 6 7 6 8 6 8 6 7 6 8 6 8 6 7 7 8 6 8 6 7 6 8 7 8 6 7 6 8 7 8 6 8 6 7 6 8 6 8 7 8 5 7 6 8 5 8 5 8 5 7 5 8 4 8 5 8 4 8 3 7 3 8 3 8 3 8 3 8 3 7 3 8 2"/>
<path stroke="#7395f4" d="M1147 1387l8 3 8 3 8 2 8 3 8 4 8 3 8 4 8 4 8 5 8 5 8 5 8 6 8 6 8 6 8 6 8 6 8 6 8 6 8 7 8 6 8 6 8 7 9 6 8 6 8 6 8 6 8 5 8 6 8 5 9 4 8 5 8 4 8 4 9 3 8 3 8 1"/>
<path stroke="#8daffd" d="M1438 1560l8 1 9 2 8 3 8 5 9 6 8 7"/>
<path stroke="#5b79e4" d="M695 1078l7 5 8 6 7 5 8 6 7 6 8 6 7 6 8 7 7 6 8 6 7 6 8 6 7 6 8 6 7 6 8 6 8 6 7 6 8 6 7 6 8 6 8 6 7 6 8 6 8 6 7 6 8 6 8 6 7 7 8 6 8 6 7 6 8 6 8 7 7 6 8 6 8 6 8 7 7 6 8 6 8 6 8 6 7 5 8 6 8 5 8 5 7 5 8 4 8 5 8 4 8 4 7 3 8 3 8 4 8 3 8 3 7 3 8 3 8 3"/>
<path stroke="#7395f4" d="M1147 1400l8 3 8 3 8 3 8 3 8 4 8 4 8 5 8 4 8 5 8 6 8 5 8 6 8 6 8 6 8 6 8 6 8 6 8 6 8 6 8 6 8 7 8 6 9 5 8 6 8 6 8 5 8 6 8 5 9 4 8 5 8 4 8 4 8 3 9 3 8 1"/>
<path stroke="#8daffd" d="M1430 1569l8 1 9 2 8 4 8 5 9 7 8 7"/>
<path stroke="#5b79e4" d="M687 1085l7 5 8 6 7 5 8 6 7 6 8 6 7 7 8 6 7 6 8 6 7 6 8 6 7 6 8 6 8 6 7 6 8 6 7 6 8 6 7 6 8 6 8 6 7 6 8 6 8 6 7 6 8 6 8 6 7 6 8 7 8 6 7 6 8 6 8 6 7 6 8 7 8 6 8 6 7 6 8 6 8 6 8 6 7 5 8 6 8 5 8 5 7 5 8 5 8 4 8 5 8 4 7 4 8 3 8 4 8 3 8 3 7 4 8 3 8 3 8 3 8 4"/>
<path stroke="#7395f4" d="M1155 1416l8 3 8 4 8 4 8 4 8 5 8 4 8 5 8 6 8 5 8 6 8 5 8 6 8 6 8 6 8 6 8 6 8 6 8 6 8 6 8 6 9 6 8 6 8 5 8 5 8 6 8 4 8 5 9 5 8 4 8 3 8 4 9 3 8 1 8 2"/>
<path stroke="#8daffd" d="M1430 1580l8 2 9 4 8 5 8 7 9 7"/>
<path stroke="#5b79e4" d="M679 1091l7 6 8 5 7 6 8 6 7 6 8 6 7 7 8 6 7 6 8 6 7 6 8 6 7 6 8 6 8 6 7 6 8 6 7 6 8 6 7 6 8 6 8 6 7 6 8 6 8 6 7 6 8 6 8 6 7 6 8 6 8 6 7 7 8 6 8 6 7 6 8 6 8 6 8 6 7 6 8 6 8 6 8 6 7 5 8 6 8 5 8 5 7 6 8 4 8 5 8 5 8 4 7 4 8 4 8 4 8 3 8 4 7 3 8 4 8 3 8 4 8 4 8 3"/>
<path stroke="#7395f4" d="M1155 1429l8 4 8 4 8 5 8 4 8 5 8 5 8 5 8 6 8 5 8 6 8 6 8 6 8 5 8 6 8 6 8 6 8 6 8 6 8 6 8 5 9 6 8 5 8 5 8 5 8 5 8 5 9 4 8 4 8 4 8 3 8 3 9 2 8 2 8 3"/>
<path stroke="#8daffd" d="M1430 1592l9 4 8 5 8 7 8 6"/>
<path stroke="#5b79e4" d="M671 1098l7 6 8 5 7 6 8 6 7 6 8 6 7 7 8 6 7 6 8 6 7 6 8 6 7 6 8 6 8 6 7 6 8 6 7 6 8 6 7 6 8 6 8 6 7 6 8 6 8 6 7 6 8 6 8 6 7 6 8 6 8 6 7 6 8 6 8 6 7 6 8 7 8 6 8 6 7 6 8 5 8 6 7 6 8 5 8 6 8 5 8 6 7 5 8 5 8 5 8 4 7 5 8 4 8 4 8 4 8 4 8 4 7 4 8 4 8 3 8 4 8 4 8 4 8 4 8 5 8 4"/>
<path stroke="#7395f4" d="M1171 1452l8 5 8 5 8 5 8 5 8 5 8 6 8 5 8 6 8 6 8 6 8 5 8 6 8 6 8 6 8 5 8 6 8 5 8 6 9 5 8 5 8 5 8 5 8 4 8 5 9 4 8 4 8 3 8 3 9 2 8 2 8 3 8 4 9 5 8 7 8 7"/>
<path stroke="#5b79e4" d="M663 1105l7 5 8 6 7 6 8 6 7 6 8 6 7 7 8 6 7 6 8 6 7 6 8 6 7 6 8 6 8 6 7 6 8 6 7 6 8 6 7 6 8 6 8 6 7 6 8 6 8 6 7 6 8 6 8 6 7 6 8 6 8 6 7 6 8 6 8 6 7 6 8 6 8 6 7 6 8 6 8 5 8 6 7 6 8 5 8 6 8 5 7 6 8 5 8 5 8 5 8 5 7 4 8 5 8 4 8 5 8 4 8 4 7 4 8 4 8 4 8 4 8 5 8 4 8 4 8 5 8 4 8 5 8 5 8 5 7 5 8 6"/>
<path stroke="#7395f4" d="M1202 1488l9 5 8 6 8 5 8 6 8 5 8 6 8 6 8 5 8 6 8 5 8 6 8 5 8 5 8 5 9 5 8 5 8 5 8 5 8 4 8 4 9 4 8 4 8 3 8 2 9 2 8 3 8 4 9 5 8 7 8 6"/>
<path stroke="#5b79e4" d="M655 1112l7 5 8 6 7 6 8 6 7 6 8 6 7 7 8 6 7 6 8 6 7 6 8 6 7 6 8 6 8 6 7 6 8 6 7 6 8 6 7 6 8 6 8 6 7 6 8 6 8 6 7 6 8 6 7 6 8 6 8 5 7 6 8 6 8 6 8 6 7 6 8 6 8 6 7 6 8 6 8 5 8 6 7 6 8 5 8 6 8 5 7 6 8 5 8 5 8 5 8 5 7 5 8 5 8 4 8 5 8 4 7 5 8 4 8 4 8 5 8 4 8 5 8 4 8 5 8 4 8 5 8 5 7 5 8 5 8 5 8 6 8 5 8 6 8 5 9 6 8 5 8 6 8 5 8 5"/>
<path stroke="#7395f4" d="M1259 1541l8 6 8 5 8 6 8 5 8 5 8 5 8 5 9 5 8 4 8 5 8 4 8 4 9 4 8 4 8 3 8 3 9 2 8 3 8 4 8 5 9 6 8 7"/>
<path stroke="#5b79e4" d="M647 1118l7 6 8 6 7 6 8 6 7 6 8 6 7 7 8 6 7 6 8 6 7 6 8 6 7 6 8 6 8 6 7 6 8 6 7 6 8 6 7 6 8 6 8 6 7 6 8 6 8 6 7 6 8 5 7 6 8 6 8 6 7 6 8 6 8 6 7 5 8 6 8 6 8 6 7 6 8 6 8 5 8 6 7 5 8 6 8 6 8 5 7 6 8 5 8 5 8 5 7 5 8 5 8 5 8 5 8 5 8 5 7 4 8 5 8 5 8 4 8 5 8 5 8 4 8 5 8 5 8 5 7 5 8 5 8 5 8 5 8 6 8 5 8 5 8 6 8 5 8 5 9 6 8 5 8 5 8 6 8 5 8 5"/>
<path stroke="#7395f4" d="M1275 1566l8 5 8 5 8 5 8 5 9 5 8 4 8 5 8 4 8 4 8 5 9 3 8 4 8 2 8 3 9 3 8 3 8 6 9 6 8 6"/>
<path stroke="#5b79e4" d="M639 1125l7 6 8 6 7 5 8 7 7 6 8 6 7 7 8 6 7 6 8 6 7 6 8 6 7 6 8 6 8 6 7 6 8 6 7 6 8 6 7 6 8 6 8 6 7 6 8 6 7 5 8 6 8 6 7 6 8 6 8 5 7 6 8 6 8 6 7 6 8 5 8 6 8 6 7 6 8 5 8 6 7 6 8 5 8 6 8 5 7 6 8 5 8 6 8 5 8 5 7 5 8 6 8 5 8 5 8 5 8 5 7 5 8 5 8 4 8 5 8 5 8 5 8 5 8 5 8 5 7 5 8 5 8 5 8 6 8 5 8 5 8 5 8 6 8 5 8 5 8 6 8 5 8 5 9 5 8 5 8 5 8 5 8 5 8 5"/>
<path stroke="#7395f4" d="M1283 1584l8 5 8 5 8 5 9 4 8 5 8 4 8 4 8 5 9 4 8 3 8 3 8 3 9 2 8 4 8 5 8 6 9 6"/>
<path stroke="#5b79e4" d="M631 1132l7 6 8 5 7 6 8 7 7 6 8 6 7 7 8 6 7 6 8 6 7 6 8 6 7 6 8 6 8 6 7 6 8 6 7 6 8 6 7 6 8 6 8 6 7 5 8 6 7 6 8 6 8 6 7 5 8 6 8 6 7 6 8 5 8 6 7 6 8 6 8 5 7 6 8 6 8 5 8 6 7 5 8 6 8 5 8 6 7 5 8 6 8 5 8 6 8 5 7 5 8 6 8 5 8 5 8 5 7 6 8 5 8 5 8 5 8 5 8 5 8 5 8 6 8 5 7 5 8 5 8 5 8 5 8 6 8 5 8 5 8 6 8 5 8 5 8 5 8 5 8 5 8 6 8 5 8 5 9 5 8 5 8 5 8 4 8 5 8 5"/>
<path stroke="#7395f4" d="M1291 1602l8 4 8 5 9 5 8 4 8 4 8 5 8 4 9 4 8 3 8 2 8 3 9 4 8 5 8 5 9 7"/>
<path stroke="#5b79e4" d="M623 1139l7 5 8 6 7 6 8 7 7 6 8 6 7 7 8 6 7 6 8 6 7 6 8 6 7 6 8 6 7 6 8 6 8 6 7 6 8 6 7 6 8 5 8 6 7 6 8 6 7 6 8 5 8 6 7 6 8 6 8 5 7 6 8 6 8 5 7 6 8 6 8 5 7 6 8 5 8 6 8 5 7 6 8 5 8 6 7 5 8 6 8 5 8 6 8 5 7 6 8 5 8 6 8 5 8 6 8 5 7 5 8 6 8 5 8 5 8 6 8 5 8 5 8 6 7 5 8 5 8 6 8 5 8 5 8 6 8 5 8 5 8 5 8 5 8 6 8 5 8 5 8 5 8 5 8 5 8 5 8 5 9 5 8 4 8 5 8 5 8 4 8 5"/>
<path stroke="#7395f4" d="M1291 1614l8 5 8 4 9 5 8 4 8 5 8 4 8 4 9 3 8 3 8 3 8 4 9 4 8 6 8 6"/>
<path stroke="#5b79e4" d="M615 1146l7 5 8 6 7 6 8 6 7 7 8 6 7 7 8 6 7 6 8 6 7 6 8 6 7 6 8 6 7 6 8 6 8 6 7 6 8 5 7 6 8 6 7 6 8 6 8 5 7 6 8 6 8 5 7 6 8 6 7 5 8 6 8 6 7 5 8 6 8 5 8 6 7 5 8 6 8 5 7 6 8 5 8 6 8 5 7 6 8 5 8 6 8 5 7 6 8 6 8 5 8 6 8 5 8 6 7 5 8 6 8 5 8 6 8 6 8 5 8 6 8 5 7 6 8 5 8 6 8 5 8 5 8 6 8 5 8 5 8 6 8 5 8 5 8 5 8 5 8 5 8 5 8 5 8 5 8 5 8 4 8 5 9 5 8 5 8 4 8 5 8 5 8 4"/>
<path stroke="#7395f4" d="M1291 1626l8 5 8 4 9 5 8 4 8 5 8 4 9 3 8 3 8 3 8 4 9 5 8 5 8 6"/>
<path stroke="#5b79e4" d="M607 1153l7 5 8 6 7 6 8 6 7 7 8 6 7 7 8 6 7 6 8 6 7 6 8 6 7 6 8 6 7 6 8 6 8 5 7 6 8 6 7 6 8 6 7 5 8 6 8 6 7 5 8 6 7 6 8 5 8 6 7 6 8 5 8 6 7 5 8 6 8 5 7 6 8 5 8 6 8 5 7 5 8 6 8 5 7 6 8 5 8 6 8 5 8 6 7 5 8 6 8 6 8 5 8 6 7 6 8 5 8 6 8 6 8 6 8 5 8 6 8 6 7 6 8 5 8 6 8 5 8 6 8 5 8 6 8 5 8 5 8 6 8 5 8 5 8 5 8 5 8 5 8 5 8 5 8 4 8 5 8 5 8 5 8 4 8 5 9 5 8 4 8 5 8 4 8 5"/>
<path stroke="#7395f4" d="M1291 1638l8 5 9 4 8 5 8 5 8 4 8 4 9 3 8 3 8 3 8 5 9 5 8 6"/>
<path stroke="#5b79e4" d="M599 1159l7 6 8 6 7 6 8 6 7 7 8 6 7 7 8 6 7 6 8 6 7 6 8 6 7 6 8 5 7 6 8 6 7 6 8 6 8 5 7 6 8 6 7 6 8 5 8 6 7 6 8 5 7 6 8 5 8 6 7 6 8 5 8 6 7 5 8 6 8 5 7 5 8 6 8 5 7 6 8 5 8 5 8 6 7 5 8 6 8 5 8 6 7 5 8 6 8 6 8 5 8 6 7 6 8 6 8 5 8 6 8 6 8 6 8 6 8 6 7 6 8 6 8 5 8 6 8 6 8 5 8 6 8 5 8 6 8 5 8 5 8 5 8 5 8 5 8 5 8 5 8 5 8 5 8 5 8 4 8 5 8 5 8 4 8 5 8 5 9 4 8 5 8 5 8 4"/>
<path stroke="#7395f4" d="M1283 1645l8 5 8 5 9 4 8 5 8 5 8 4 8 3 9 3 8 4 8 4 8 5 9 6"/>
<path stroke="#5b79e4" d="M591 1166l7 6 8 6 7 6 7 6 8 7 8 6 7 6 8 7 7 6 8 5 7 6 8 6 7 6 8 6 7 6 8 6 7 5 8 6 7 6 8 6 8 5 7 6 8 6 7 5 8 6 8 5 7 6 8 5 8 6 7 5 8 6 7 5 8 6 8 5 7 6 8 5 8 5 8 6 7 5 8 5 8 6 7 5 8 5 8 6 8 5 7 6 8 6 8 5 8 6 8 6 7 5 8 6 8 6 8 6 8 6 8 6 8 6 8 6 7 6 8 6 8 6 8 6 8 6 8 6 8 5 8 6 8 6 8 5 8 5 8 5 8 6 8 5 8 5 8 5 8 4 8 5 8 5 8 5 8 4 8 5 8 5 8 4 8 5 8 4 8 5 9 5 8 4 8 5 8 5"/>
<path stroke="#7395f4" d="M1283 1657l8 5 8 5 9 5 8 5 8 4 8 3 8 3 9 4 8 4 8 5 9 5"/>
<path stroke="#5b79e4" d="M583 1173l7 6 7 6 8 6 7 6 8 6 7 7 8 6 7 6 8 6 7 6 8 6 8 6 7 5 8 6 7 6 8 6 7 6 8 5 7 6 8 6 8 5 7 6 8 6 7 5 8 6 8 5 7 6 8 5 7 6 8 5 8 6 7 5 8 5 8 6 7 5 8 5 8 6 7 5 8 5 8 6 8 5 7 5 8 6 8 5 8 6 7 5 8 6 8 5 8 6 7 6 8 6 8 6 8 6 8 6 8 6 8 6 7 6 8 6 8 6 8 6 8 6 8 6 8 6 8 6 8 6 8 6 8 5 8 6 8 5 8 5 8 5 8 5 8 5 8 5 8 5 8 5 8 4 8 5 8 5 8 4 8 5 8 5 8 4 8 5 8 5 8 4 9 5 8 5 8 5 8 5"/>
<path stroke="#7395f4" d="M1283 1669l8 5 8 5 9 5 8 4 8 4 8 3 9 4 8 4 8 4 8 6"/>
<path stroke="#5b79e4" d="M574 1180l8 6 7 5 8 6 7 7 8 6 7 6 8 7 7 6 8 6 7 5 8 6 7 6 8 6 7 6 8 5 8 6 7 6 8 5 7 6 8 6 7 5 8 6 8 6 7 5 8 6 7 5 8 6 8 5 7 6 8 5 8 5 7 6 8 5 7 5 8 6 8 5 8 5 7 5 8 6 8 5 7 5 8 6 8 5 8 5 7 6 8 5 8 6 8 6 7 5 8 6 8 6 8 6 8 6 8 6 8 6 7 6 8 7 8 6 8 6 8 6 8 6 8 6 8 6 8 6 8 6 8 6 7 5 8 6 8 5 8 5 8 5 8 5 8 5 8 5 8 5 8 5 8 5 8 4 9 5 8 5 8 4 8 5 8 5 8 4 8 5 8 5 8 5 8 5 9 5 8 5"/>
<path stroke="#7395f4" d="M1275 1676l8 5 8 5 8 5 9 5 8 3 8 4 8 3 9 4 8 5 8 6"/>
<path stroke="#5b79e4" d="M566 1187l8 5 7 6 8 6 7 6 8 7 7 6 8 6 7 6 8 6 7 6 8 5 7 6 8 6 7 6 8 5 7 6 8 6 8 5 7 6 8 6 7 5 8 6 7 5 8 6 8 5 7 6 8 5 7 6 8 5 8 5 7 6 8 5 8 5 7 6 8 5 8 5 7 5 8 6 8 5 7 5 8 5 8 6 8 5 7 5 8 6 8 5 8 6 7 6 8 5 8 6 8 6 8 6 8 6 7 6 8 6 8 7 8 6 8 6 8 6 8 6 8 7 8 6 8 6 7 6 8 5 8 6 8 6 8 5 8 6 8 5 8 5 8 5 8 5 8 5 8 5 8 5 8 4 8 5 8 5 8 5 8 4 9 5 8 5 8 4 8 5 8 5 8 5 8 5 8 5 9 5 8 6"/>
<path stroke="#7395f4" d="M1275 1688l8 5 8 5 8 5 9 4 8 3 8 4 8 4 9 5 8 5"/>
<path stroke="#5b79e4" d="M558 1193l8 6 7 6 8 6 7 6 8 6 7 6 8 6 7 6 8 6 7 6 8 6 7 5 8 6 7 6 8 5 7 6 8 6 7 5 8 6 8 5 7 6 8 5 7 6 8 5 7 6 8 5 8 6 7 5 8 6 8 5 7 5 8 5 7 6 8 5 8 5 7 5 8 6 8 5 8 5 7 5 8 6 8 5 7 5 8 6 8 5 8 5 7 6 8 6 8 5 8 6 8 6 8 6 7 6 8 6 8 6 8 7 8 6 8 6 8 6 8 6 8 7 7 6 8 6 8 6 8 5 8 6 8 6 8 5 8 6 8 5 8 5 8 5 8 5 8 5 8 5 8 5 8 5 8 4 8 5 8 5 8 5 8 5 8 4 9 5 8 5 8 5 8 5 8 5 8 5 8 6 9 5 8 6"/>
<path stroke="#7395f4" d="M1275 1700l8 5 8 5 8 4 9 4 8 4 8 4 8 4 9 6"/>
<path stroke="#5b79e4" d="M550 1200l8 5 7 6 8 6 7 6 8 6 7 7 8 6 7 5 8 6 7 6 8 5 7 6 8 6 7 5 8 6 7 6 8 5 7 6 8 5 7 6 8 5 7 6 8 5 8 6 7 5 8 6 7 5 8 5 8 6 7 5 8 5 8 6 7 5 8 5 8 5 7 6 8 5 8 5 7 5 8 5 8 6 7 5 8 5 8 6 8 5 8 5 7 6 8 6 8 5 8 6 8 6 7 6 8 6 8 6 8 6 8 6 8 6 8 7 7 6 8 6 8 6 8 6 8 6 8 6 8 6 8 5 8 6 8 6 8 5 8 5 8 5 8 6 8 5 8 5 8 5 8 5 8 4 8 5 8 5 8 5 8 5 8 5 8 5 8 5 8 5 9 5 8 5 8 5 8 6 8 5 8 6 9 5"/>
<path stroke="#7395f4" d="M1267 1706l8 6 8 5 8 4 8 4 9 4 8 4 8 5 9 5"/>
<path stroke="#5b79e4" d="M542 1206l8 6 7 6 7 6 8 6 7 6 8 6 7 6 8 5 7 6 8 6 7 5 8 6 7 5 8 6 7 6 8 5 7 6 8 5 8 6 7 5 8 6 7 5 8 6 7 5 8 5 8 6 7 5 8 6 7 5 8 5 8 5 7 6 8 5 8 5 7 5 8 6 8 5 7 5 8 5 8 5 8 6 7 5 8 5 8 6 8 5 7 5 8 6 8 6 8 5 7 6 8 6 8 6 8 5 8 6 8 6 8 7 7 6 8 6 8 6 8 6 8 6 8 6 8 6 8 6 8 5 8 6 8 6 8 5 8 6 8 5 8 5 8 5 8 6 8 5 8 5 8 5 8 5 8 5 8 5 8 5 8 5 8 5 8 5 8 5 8 5 8 5 9 6 8 5 8 5 8 6 8 6 8 5"/>
<path stroke="#7395f4" d="M1258 1712l9 6 8 5 8 5 8 4 8 4 9 4 8 5 8 6"/>
<path stroke="#5b79e4" d="M534 1213l7 6 8 5 7 6 8 6 7 6 8 6 7 6 8 5 7 6 8 5 7 6 8 5 7 6 8 5 7 6 8 5 7 6 8 5 7 6 8 5 7 6 8 5 8 6 7 5 8 5 7 6 8 5 8 6 7 5 8 5 8 5 7 6 8 5 7 5 8 5 8 6 7 5 8 5 8 5 8 5 7 6 8 5 8 5 8 6 7 5 8 5 8 6 8 5 7 6 8 6 8 5 8 6 8 6 8 6 7 6 8 5 8 6 8 6 8 6 8 6 8 6 8 6 8 6 8 6 7 5 8 6 8 6 8 5 8 6 8 5 8 5 8 6 8 5 8 5 8 5 8 5 8 5 8 6 8 5 9 5 8 5 8 5 8 5 8 6 8 5 8 5 8 6 8 5 9 6 8 6 8 6"/>
<path stroke="#7395f4" d="M1242 1713l8 5 8 6 9 6 8 4 8 5 8 4 8 4 9 5 8 6"/>
<path stroke="#5b79e4" d="M526 1219l7 6 8 6 7 6 8 5 7 6 8 6 7 5 8 6 7 5 7 6 8 5 7 6 8 5 7 6 8 5 8 6 7 5 8 5 7 6 8 5 7 6 8 5 7 6 8 5 8 5 7 6 8 5 7 5 8 6 8 5 7 5 8 6 8 5 7 5 8 5 8 6 7 5 8 5 8 5 7 5 8 6 8 5 8 5 7 6 8 5 8 5 8 6 7 5 8 6 8 5 8 6 8 5 7 6 8 6 8 5 8 6 8 6 8 6 8 5 8 6 7 6 8 6 8 5 8 6 8 6 8 5 8 6 8 5 8 6 8 5 8 6 8 5 8 5 8 6 8 5 8 5 8 6 8 5 8 5 8 6 8 5 8 5 9 6 8 5 8 6 8 5 8 6 8 6 8 5"/>
<path stroke="#7395f4" d="M1217 1706l9 6 8 6 8 6 8 6 8 5 9 5 8 5 8 5 8 4 9 5 8 6"/>
<path stroke="#5b79e4" d="M518 1226l7 6 8 5 7 6 8 6 7 5 7 6 8 5 7 5 8 6 7 5 8 6 7 5 8 5 7 6 8 5 7 6 8 5 7 5 8 6 7 5 8 5 8 6 7 5 8 6 7 5 8 5 7 6 8 5 8 5 7 6 8 5 8 5 7 5 8 6 8 5 7 5 8 6 8 5 7 5 8 5 8 6 8 5 7 5 8 5 8 6 8 5 7 5 8 6 8 5 8 6 7 5 8 5 8 6 8 5 8 6 8 5 8 6 7 5 8 6 8 6 8 5 8 6 8 5 8 6 8 5 8 6 8 5 8 6 8 5 8 6 8 5 8 6 8 5 8 6 8 5 8 6 8 5 8 6 8 5 8 6 8 6 8 5 8 6 8 6 9 5 8 6"/>
<path stroke="#7395f4" d="M1185 1694l8 6 8 6 8 6 8 5 8 6 9 6 8 6 8 6 8 5 9 5 8 5 8 5 8 5 9 6"/>
<path stroke="#5b79e4" d="M510 1232l7 6 7 6 8 5 7 6 8 5 7 5 8 5 7 6 8 5 7 5 7 6 8 5 7 5 8 6 7 5 8 5 8 6 7 5 8 5 7 6 8 5 7 5 8 6 7 5 8 5 8 6 7 5 8 5 7 6 8 5 8 5 7 6 8 5 8 5 7 6 8 5 8 5 7 6 8 5 8 5 8 6 7 5 8 5 8 5 7 6 8 5 8 5 8 5 8 6 7 5 8 5 8 5 8 6 8 5 7 5 8 5 8 6 8 5 8 5 8 5 8 6 8 5 8 5 7 6 8 5 8 5 8 6 8 5 8 6 8 5 8 6 8 6 8 5 8 6 8 6 8 5 8 6 9 6"/>
<path stroke="#7395f4" d="M1112 1651l8 6 8 6 8 6 8 5 8 6 8 6 8 6 8 6 9 6 8 6 8 6 8 6 8 6 8 7 9 6 8 5 8 6 8 5 8 5 9 6 8 5 8 6"/>
<path stroke="#455bcd" d="M501 1239l8 6 7 5 8 5"/>
<path stroke="#5b79e4" d="M524 1255l7 6 8 5 7 5 7 5 8 5 7 5 8 5 7 5 8 6 7 5 8 5 7 5 8 6 7 5 8 5 7 6 8 5 7 5 8 6 8 5 7 5 8 6 7 5 8 5 7 6 8 5 8 5 7 6 8 5 8 5 7 6 8 5 8 6 7 5 8 5 8 6 8 5 7 5 8 6 8 5 7 5 8 6 8 5 8 5 8 5 7 5 8 5 8 5 8 5 7 5 8 5 8 5 8 5 8 5 8 5 8 5 7 4 8 5 8 5 8 6 8 5 8 5 8 5 8 6 8 5 8 6 8 5 8 6"/>
<path stroke="#7395f4" d="M1047 1611l8 6 8 6 8 6 8 6 8 6 8 6 8 6 8 6 8 6 8 6 9 6 8 7 8 6 8 6 8 6 8 6 8 7 9 6 8 6 8 6 8 6 8 6 9 6 8 6 8 5 8 6 8 6 9 6 8 6"/>
</g>
<circle cx="230.3" cy="58.3" r="3.7" fill="#000" fill-opacity="0.41400000000000003" stroke="#000" stroke-opacity="0.7" stroke-width="1"/>
<circle cx="230.3" cy="65.9" r="3.7" fill="#000" fill-opacity="0.41400000000000003" stroke="#000" stroke-opacity="0.7" stroke-width="1"/>
<circle cx="283" cy="100" r="3.7" fill="#000" fill-opacity="0.644" stroke="#000" stroke-opacity="0.95" stroke-width="1"/>
<circle cx="337" cy="128" r="3.7" fill="#000" fill-opacity="0.7360000000000001" stroke="#000" stroke-opacity="1" stroke-width="1"/>
<circle cx="337" cy="135.5" r="3.7" fill="#000" fill-opacity="0.7360000000000001" stroke="#000" stroke-opacity="1" stroke-width="1"/>
<circle cx="418.8" cy="151.2" r="3.7" fill="#000" fill-opacity="0.8280000000000001" stroke="#000" stroke-opacity="1" stroke-width="1"/>
<circle cx="393.8" cy="159.7" r="3.7" fill="#000" fill-opacity="1" stroke="#000" stroke-opacity="1" stroke-width="1"/>
<circle cx="283.6" cy="177.9" r="3.7" fill="#000" fill-opacity="1" stroke="#000" stroke-opacity="1" stroke-width="1"/>
<circle cx="391.7" cy="193.6" r="3.7" fill="#000" fill-opacity="0.782" stroke="#000" stroke-opacity="1" stroke-width="1"/>
<circle cx="179.5" cy="172.3" r="3.7" fill="#000" fill-opacity="0.41400000000000003" stroke="#000" stroke-opacity="0.7" stroke-width="1"/>
<circle cx="179.5" cy="181.9" r="3.7" fill="#000" fill-opacity="0.41400000000000003" stroke="#000" stroke-opacity="0.7" stroke-width="1"/>
<circle cx="153.6" cy="203.2" r="3.7" fill="#000" fill-opacity="0.41400000000000003" stroke="#000" stroke-opacity="0.7" stroke-width="1"/>
<circle cx="230.3" cy="205.9" r="3.7" fill="#000" fill-opacity="0.644" stroke="#000" stroke-opacity="0.95" stroke-width="1"/>
<circle cx="231" cy="224" r="3.7" fill="#000" fill-opacity="0.644" stroke="#000" stroke-opacity="0.95" stroke-width="1"/>
<circle cx="100" cy="248" r="3.7" fill="#000" fill-opacity="0.46" stroke="#000" stroke-opacity="0.75" stroke-width="1"/>
<circle cx="339.2" cy="228.3" r="3.7" fill="#000" fill-opacity="1" stroke="#000" stroke-opacity="1" stroke-width="1"/>
<circle cx="339.2" cy="243.1" r="3.7" fill="#000" fill-opacity="1" stroke="#000" stroke-opacity="1" stroke-width="1"/>
<circle cx="256.1" cy="271.1" r="3.7" fill="#000" fill-opacity="0.6900000000000001" stroke="#000" stroke-opacity="1" stroke-width="1"/>
<circle cx="310.3" cy="302.5" r="3.7" fill="#000" fill-opacity="1" stroke="#000" stroke-opacity="1" stroke-width="1"/>
<circle cx="336.6" cy="302" r="3.7" fill="#000" fill-opacity="0.6900000000000001" stroke="#000" stroke-opacity="1" stroke-width="1"/>
<circle cx="203" cy="317" r="3.7" fill="#000" fill-opacity="1" stroke="#000" stroke-opacity="1" stroke-width="1"/>
<circle cx="257" cy="357" r="3.7" fill="#000" fill-opacity="1" stroke="#000" stroke-opacity="1" stroke-width="1"/>
<g stroke="#000" stroke-width="1.3" stroke-linecap="square" fill="none">
<line x1="78.9" y1="264" x2="256.6" y2="401.5" />
<line x1="256.6" y1="401.5" x2="434.3" y2="264" />
<line x1="78.9" y1="264" x2="67.3" y2="126.4" />
<line x1="91.5" y1="270.9" x2="86.4" y2="274.4" />
<line x1="116.3" y1="290" x2="111.2" y2="293.6" />
<line x1="141.4" y1="309.5" x2="136.4" y2="313.1" />
<line x1="167" y1="329.3" x2="162" y2="332.9" />
<line x1="193.1" y1="349.4" x2="188.1" y2="353.1" />
<line x1="219.6" y1="369.9" x2="214.6" y2="373.6" />
<line x1="246.5" y1="390.7" x2="241.6" y2="394.5" />
<line x1="266.7" y1="390.7" x2="271.6" y2="394.5" />
<line x1="293.6" y1="369.9" x2="298.6" y2="373.6" />
<line x1="320.1" y1="349.4" x2="325.1" y2="353.1" />
<line x1="346.2" y1="329.3" x2="351.2" y2="332.9" />
<line x1="371.8" y1="309.5" x2="376.8" y2="313.1" />
<line x1="396.9" y1="290" x2="402" y2="293.6" />
<line x1="421.7" y1="270.9" x2="426.8" y2="274.4" />
<line x1="79" y1="240.8" x2="73.9" y2="244.3" />
<line x1="77.3" y1="220" x2="72.1" y2="223.5" />
<line x1="75.5" y1="198.8" x2="70.3" y2="202.2" />
<line x1="73.7" y1="177.2" x2="68.5" y2="180.6" />
<line x1="71.8" y1="155.1" x2="66.6" y2="158.5" />
<line x1="69.9" y1="132.6" x2="64.7" y2="136" />
</g>
<g font-family="Liberation Sans, Arial, sans-serif" font-size="15.9" fill="#000" stroke="#000" stroke-width="0.25" text-anchor="middle">
<text x="38.1" y="145">12</text>
<text x="40" y="167.1">10</text>
<text x="42.4" y="188.6">8</text>
<text x="44.9" y="211.2">6</text>
<text x="46.6" y="232.4">4</text>
<text x="48.3" y="253.4">2</text>
<text x="9.7" y="201.4">D</text>
<text x="75" y="304.9">2</text>
<text x="100" y="322.9">3</text>
<text x="125" y="343.9">4</text>
<text x="150" y="362.9">5</text>
<text x="176" y="383.9">6</text>
<text x="202.5" y="403.9">7</text>
<text x="229" y="425.4">8</text>
<text x="283.3" y="426.4">20</text>
<text x="310" y="404.9">15</text>
<text x="336" y="384.6">10</text>
<text x="362.5" y="362.9">5</text>
<text x="387.5" y="343.9">0</text>
<text x="412.5" y="323.9">−5</text>
<text x="437.5" y="303.9">−10</text>
<text x="145.2" y="389.6" transform="rotate(36.6 145.2 389.6)" textLength="249" lengthAdjust="spacingAndGlyphs">Starting material concentration [g/L]</text>
<text x="400.8" y="367.2" transform="rotate(-35.5 400.8 367.2)" textLength="115" lengthAdjust="spacingAndGlyphs">Temperature [°C]</text>
</g>
<g>
<rect x="479.1" y="101.7" width="40.39999999999998" height="201.35000000000002" fill="#fff"/>
<rect x="479.1" y="300.71" width="40.39999999999998" height="2.62" fill="#3b4dc1" fill-opacity="0.68"/>
<rect x="479.1" y="298.37" width="40.39999999999998" height="2.62" fill="#3f53c6" fill-opacity="0.68"/>
<rect x="479.1" y="296.03" width="40.39999999999998" height="2.62" fill="#4258ca" fill-opacity="0.68"/>
<rect x="479.1" y="293.68" width="40.39999999999998" height="2.62" fill="#465dcf" fill-opacity="0.68"/>
<rect x="479.1" y="291.34" width="40.39999999999998" height="2.62" fill="#4962d3" fill-opacity="0.68"/>
<rect x="479.1" y="289.00" width="40.39999999999998" height="2.62" fill="#4d67d7" fill-opacity="0.68"/>
<rect x="479.1" y="286.66" width="40.39999999999998" height="2.62" fill="#516cdb" fill-opacity="0.68"/>
<rect x="479.1" y="284.32" width="40.39999999999998" height="2.62" fill="#5571de" fill-opacity="0.68"/>
<rect x="479.1" y="281.98" width="40.39999999999998" height="2.62" fill="#5876e2" fill-opacity="0.68"/>
<rect x="479.1" y="279.64" width="40.39999999999998" height="2.62" fill="#5c7be5" fill-opacity="0.68"/>
<rect x="479.1" y="277.30" width="40.39999999999998" height="2.62" fill="#6080e8" fill-opacity="0.68"/>
<rect x="479.1" y="274.95" width="40.39999999999998" height="2.62" fill="#6485eb" fill-opacity="0.68"/>
<rect x="479.1" y="272.61" width="40.39999999999998" height="2.62" fill="#6889ee" fill-opacity="0.68"/>
<rect x="479.1" y="270.27" width="40.39999999999998" height="2.62" fill="#6c8ef1" fill-opacity="0.68"/>
<rect x="479.1" y="267.93" width="40.39999999999998" height="2.62" fill="#7093f3" fill-opacity="0.68"/>
<rect x="479.1" y="265.59" width="40.39999999999998" height="2.62" fill="#7497f5" fill-opacity="0.68"/>
<rect x="479.1" y="263.25" width="40.39999999999998" height="2.62" fill="#789bf7" fill-opacity="0.68"/>
<rect x="479.1" y="260.91" width="40.39999999999998" height="2.62" fill="#7ca0f9" fill-opacity="0.68"/>
<rect x="479.1" y="258.57" width="40.39999999999998" height="2.62" fill="#80a4fa" fill-opacity="0.68"/>
<rect x="479.1" y="256.22" width="40.39999999999998" height="2.62" fill="#85a8fb" fill-opacity="0.68"/>
<rect x="479.1" y="253.88" width="40.39999999999998" height="2.62" fill="#89acfc" fill-opacity="0.68"/>
<rect x="479.1" y="251.54" width="40.39999999999998" height="2.62" fill="#8daffd" fill-opacity="0.68"/>
<rect x="479.1" y="249.20" width="40.39999999999998" height="2.62" fill="#90b2fe" fill-opacity="0.68"/>
<rect x="479.1" y="246.86" width="40.39999999999998" height="2.62" fill="#94b5fe" fill-opacity="0.68"/>
<rect x="479.1" y="244.52" width="40.39999999999998" height="2.62" fill="#98b9fe" fill-opacity="0.68"/>
<rect x="479.1" y="242.18" width="40.39999999999998" height="2.62" fill="#9cbcfe" fill-opacity="0.68"/>
<rect x="479.1" y="239.84" width="40.39999999999998" height="2.62" fill="#a0bffe" fill-opacity="0.68"/>
<rect x="479.1" y="237.49" width="40.39999999999998" height="2.62" fill="#a4c2fe" fill-opacity="0.68"/>
<rect x="479.1" y="235.15" width="40.39999999999998" height="2.62" fill="#a8c5fd" fill-opacity="0.68"/>
<rect x="479.1" y="232.81" width="40.39999999999998" height="2.62" fill="#acc8fc" fill-opacity="0.68"/>
<rect x="479.1" y="230.47" width="40.39999999999998" height="2.62" fill="#b0cbfb" fill-opacity="0.68"/>
<rect x="479.1" y="228.13" width="40.39999999999998" height="2.62" fill="#b4cdfa" fill-opacity="0.68"/>
<rect x="479.1" y="225.79" width="40.39999999999998" height="2.62" fill="#b8cff8" fill-opacity="0.68"/>
<rect x="479.1" y="223.45" width="40.39999999999998" height="2.62" fill="#bcd1f6" fill-opacity="0.68"/>
<rect x="479.1" y="221.11" width="40.39999999999998" height="2.62" fill="#c0d3f5" fill-opacity="0.68"/>
<rect x="479.1" y="218.76" width="40.39999999999998" height="2.62" fill="#c3d5f2" fill-opacity="0.68"/>
<rect x="479.1" y="216.42" width="40.39999999999998" height="2.62" fill="#c7d6f0" fill-opacity="0.68"/>
<rect x="479.1" y="214.08" width="40.39999999999998" height="2.62" fill="#cad8ee" fill-opacity="0.68"/>
<rect x="479.1" y="211.74" width="40.39999999999998" height="2.62" fill="#ced9eb" fill-opacity="0.68"/>
<rect x="479.1" y="209.40" width="40.39999999999998" height="2.62" fill="#d1dae8" fill-opacity="0.68"/>
<rect x="479.1" y="207.06" width="40.39999999999998" height="2.62" fill="#d5dbe5" fill-opacity="0.68"/>
<rect x="479.1" y="204.72" width="40.39999999999998" height="2.62" fill="#d8dbe1" fill-opacity="0.68"/>
<rect x="479.1" y="202.38" width="40.39999999999998" height="2.62" fill="#dbdcde" fill-opacity="0.68"/>
<rect x="479.1" y="200.03" width="40.39999999999998" height="2.62" fill="#dedbda" fill-opacity="0.68"/>
<rect x="479.1" y="197.69" width="40.39999999999998" height="2.62" fill="#e1dad6" fill-opacity="0.68"/>
<rect x="479.1" y="195.35" width="40.39999999999998" height="2.62" fill="#e4d8d1" fill-opacity="0.68"/>
<rect x="479.1" y="193.01" width="40.39999999999998" height="2.62" fill="#e7d6cd" fill-opacity="0.68"/>
<rect x="479.1" y="190.67" width="40.39999999999998" height="2.62" fill="#e9d4c9" fill-opacity="0.68"/>
<rect x="479.1" y="188.33" width="40.39999999999998" height="2.62" fill="#ecd2c4" fill-opacity="0.68"/>
<rect x="479.1" y="185.99" width="40.39999999999998" height="2.62" fill="#edcfc0" fill-opacity="0.68"/>
<rect x="479.1" y="183.64" width="40.39999999999998" height="2.62" fill="#efcdbb" fill-opacity="0.68"/>
<rect x="479.1" y="181.30" width="40.39999999999998" height="2.62" fill="#f1cab6" fill-opacity="0.68"/>
<rect x="479.1" y="178.96" width="40.39999999999998" height="2.62" fill="#f2c7b2" fill-opacity="0.68"/>
<rect x="479.1" y="176.62" width="40.39999999999998" height="2.62" fill="#f4c4ad" fill-opacity="0.68"/>
<rect x="479.1" y="174.28" width="40.39999999999998" height="2.62" fill="#f5c1a8" fill-opacity="0.68"/>
<rect x="479.1" y="171.94" width="40.39999999999998" height="2.62" fill="#f6bda4" fill-opacity="0.68"/>
<rect x="479.1" y="169.60" width="40.39999999999998" height="2.62" fill="#f6ba9f" fill-opacity="0.68"/>
<rect x="479.1" y="167.26" width="40.39999999999998" height="2.62" fill="#f6b69a" fill-opacity="0.68"/>
<rect x="479.1" y="164.91" width="40.39999999999998" height="2.62" fill="#f7b295" fill-opacity="0.68"/>
<rect x="479.1" y="162.57" width="40.39999999999998" height="2.62" fill="#f7ae91" fill-opacity="0.68"/>
<rect x="479.1" y="160.23" width="40.39999999999998" height="2.62" fill="#f6aa8c" fill-opacity="0.68"/>
<rect x="479.1" y="157.89" width="40.39999999999998" height="2.62" fill="#f6a687" fill-opacity="0.68"/>
<rect x="479.1" y="155.55" width="40.39999999999998" height="2.62" fill="#f5a182" fill-opacity="0.68"/>
<rect x="479.1" y="153.21" width="40.39999999999998" height="2.62" fill="#f49d7e" fill-opacity="0.68"/>
<rect x="479.1" y="150.87" width="40.39999999999998" height="2.62" fill="#f39879" fill-opacity="0.68"/>
<rect x="479.1" y="148.53" width="40.39999999999998" height="2.62" fill="#f39576" fill-opacity="0.68"/>
<rect x="479.1" y="146.18" width="40.39999999999998" height="2.62" fill="#f19072" fill-opacity="0.68"/>
<rect x="479.1" y="143.84" width="40.39999999999998" height="2.62" fill="#f08b6d" fill-opacity="0.68"/>
<rect x="479.1" y="141.50" width="40.39999999999998" height="2.62" fill="#ee8669" fill-opacity="0.68"/>
<rect x="479.1" y="139.16" width="40.39999999999998" height="2.62" fill="#ec8064" fill-opacity="0.68"/>
<rect x="479.1" y="136.82" width="40.39999999999998" height="2.62" fill="#ea7b60" fill-opacity="0.68"/>
<rect x="479.1" y="134.48" width="40.39999999999998" height="2.62" fill="#e7755c" fill-opacity="0.68"/>
<rect x="479.1" y="132.14" width="40.39999999999998" height="2.62" fill="#e57057" fill-opacity="0.68"/>
<rect x="479.1" y="129.80" width="40.39999999999998" height="2.62" fill="#e26a53" fill-opacity="0.68"/>
<rect x="479.1" y="127.45" width="40.39999999999998" height="2.62" fill="#df644f" fill-opacity="0.68"/>
<rect x="479.1" y="125.11" width="40.39999999999998" height="2.62" fill="#dc5e4b" fill-opacity="0.68"/>
<rect x="479.1" y="122.77" width="40.39999999999998" height="2.62" fill="#d95847" fill-opacity="0.68"/>
<rect x="479.1" y="120.43" width="40.39999999999998" height="2.62" fill="#d65243" fill-opacity="0.68"/>
<rect x="479.1" y="118.09" width="40.39999999999998" height="2.62" fill="#d24b3f" fill-opacity="0.68"/>
<rect x="479.1" y="115.75" width="40.39999999999998" height="2.62" fill="#ce443c" fill-opacity="0.68"/>
<rect x="479.1" y="113.41" width="40.39999999999998" height="2.62" fill="#ca3d38" fill-opacity="0.68"/>
<rect x="479.1" y="111.07" width="40.39999999999998" height="2.62" fill="#c63534" fill-opacity="0.68"/>
<rect x="479.1" y="108.72" width="40.39999999999998" height="2.62" fill="#c22d31" fill-opacity="0.68"/>
<rect x="479.1" y="106.38" width="40.39999999999998" height="2.62" fill="#be232d" fill-opacity="0.68"/>
<rect x="479.1" y="104.04" width="40.39999999999998" height="2.62" fill="#b9162a" fill-opacity="0.68"/>
<rect x="479.1" y="101.70" width="40.39999999999998" height="2.62" fill="#b50827" fill-opacity="0.68"/>
</g>
<rect x="479.1" y="101.7" width="40.39999999999998" height="201.35000000000002" fill="none" stroke="#000" stroke-width="1.2"/>
<g stroke="#000" stroke-width="1.2">
<line x1="519.5" y1="278.9" x2="524.5" y2="278.9"/>
<line x1="519.5" y1="242.5" x2="524.5" y2="242.5"/>
<line x1="519.5" y1="206.2" x2="524.5" y2="206.2"/>
<line x1="519.5" y1="169.8" x2="524.5" y2="169.8"/>
<line x1="519.5" y1="133.5" x2="524.5" y2="133.5"/>
</g>
<g font-family="Liberation Sans, Arial, sans-serif" font-size="15.9" fill="#000" stroke="#000" stroke-width="0.25">
<text x="530.5" y="284.9">2</text>
<text x="530.5" y="248.6">4</text>
<text x="530.5" y="212.2">6</text>
<text x="530.5" y="175.9">8</text>
<text x="530.5" y="139.6">10</text>
</g>
</svg>
</body></html>
